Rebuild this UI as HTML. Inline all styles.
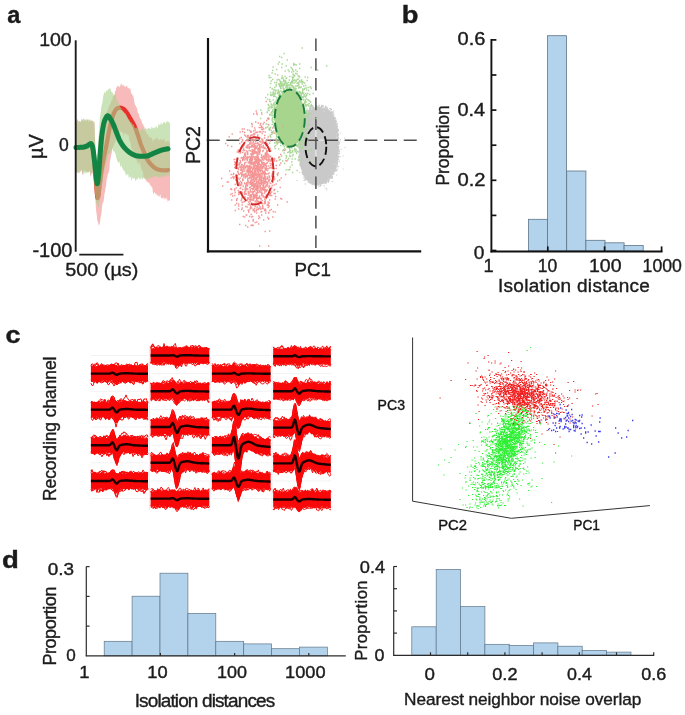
<!DOCTYPE html><html><head><meta charset="utf-8"><title>Figure</title><style>html,body{margin:0;padding:0;background:#fff}svg{display:block}text{font-family:"Liberation Sans",Arial,sans-serif;stroke:#1c1c1c;stroke-width:0.38px}</style></head><body>
<svg width="685" height="715" viewBox="0 0 685 715">
<rect width="685" height="715" fill="#fff"/>
<path d="M76 121.7L76.4 120.9L76.8 121.2L77.2 120L77.6 119.1L78 119.6L78.4 122.4L78.8 121.6L79.2 121.3L79.6 121.2L80 121.3L80.4 121.9L80.8 122.7L81.2 120.1L81.6 118.8L82 119L82.4 119.6L82.8 121.6L83.2 121.8L83.6 119.8L84 119.1L84.4 120.6L84.8 121.3L85.2 118.8L85.6 120.2L86 120.4L86.4 121.3L86.8 120.2L87.2 119.8L87.6 119.1L88 120L88.4 122.4L88.8 122.2L89.2 120.6L89.6 119.4L90 118.7L90.4 120.1L90.8 120.9L91.2 121L91.6 120.7L92 120L92.4 120.8L92.8 121.7L93.2 123.3L93.6 123.7L94 121.7L94.4 121.5L94.8 133.5L95.2 144.7L95.6 155.6L96 161.7L96.4 165.6L96.8 169.7L97.2 171.1L97.6 170.3L98 166.5L98.4 161.2L98.8 156.7L99.2 153L99.6 148.6L100 144.7L100.4 140.4L100.8 136.5L101.2 134.4L101.6 131.4L102 129.6L102.4 127.6L102.8 124.7L103.2 124.5L103.6 123.4L104 121.3L104.4 119.3L104.8 117.5L105.2 115.8L105.6 114.9L106 113.9L106.4 113L106.8 111.3L107.2 111.4L107.6 110.7L108 109.2L108.4 108.2L108.8 107.3L109.2 105.1L109.6 105.5L110 105L110.4 104L110.8 102.8L111.2 100.9L111.6 100.3L112 100.3L112.4 99.4L112.8 97.5L113.2 95.4L113.6 96.1L114 96.3L114.4 95.1L114.8 92.7L115.2 90.6L115.6 91.3L116 89.5L116.4 87L116.8 87.8L117.2 86.3L117.6 85.4L118 86.1L118.4 87.1L118.8 85.8L119.2 86L119.6 87.4L120 87.1L120.4 85.3L120.8 84.2L121.2 83.3L121.6 83.9L122 85.3L122.4 85.5L122.8 85.5L123.2 85.8L123.6 84.5L124 85L124.4 86.2L124.8 86.7L125.2 87.1L125.6 86.7L126 86.3L126.4 86.5L126.8 85.5L127.2 85.5L127.6 87.7L128 88.3L128.4 88.2L128.8 87.2L129.2 88.3L129.6 89L130 88.7L130.4 88.5L130.8 91L131.2 93.4L131.6 93.7L132 93.6L132.4 95.1L132.8 96L133.2 94.7L133.6 97.6L134 100.4L134.4 102.4L134.8 104.5L135.2 105.2L135.6 105.4L136 106.4L136.4 107.5L136.8 107.6L137.2 109.2L137.6 111.8L138 113.6L138.4 113L138.8 113.7L139.2 115.5L139.6 117.4L140 118L140.4 119.4L140.8 118.8L141.2 119.8L141.6 121.4L142 123.6L142.4 124.3L142.8 123L143.2 124.2L143.6 126.3L144 126.4L144.4 126.9L144.8 129.8L145.2 130.9L145.6 131.3L146 131.6L146.4 133.2L146.8 133.7L147.2 134.7L147.6 133.8L148 134.2L148.4 135.6L148.8 136.1L149.2 137.5L149.6 137.4L150 136.7L150.4 137.3L150.8 137.8L151.2 138.6L151.6 137.7L152 138L152.4 140.2L152.8 141.9L153.2 141.4L153.6 139.5L154 139.6L154.4 140.5L154.8 139.1L155.2 138.1L155.6 139.1L156 139.4L156.4 138L156.8 136.9L157.2 137.6L157.6 139.4L158 138.9L158.4 139.2L158.8 140L159.2 140.2L159.6 139.7L160 139.9L160.4 138.9L160.8 138.8L161.2 139.1L161.6 140.7L162 140.1L162.4 139.2L162.8 139.4L163.2 140L163.6 140.3L164 138.5L164.4 138.5L164.8 140.4L165.2 143.1L165.6 142.1L166 140.8L166.4 141.8L166.8 142.7L167.2 140.8L167.6 140.4L168 141.8L168.4 141.6L168.8 141.2L169.2 140.9L169.6 142.9L170 142.9L170 200.5L169.6 199.9L169.2 201.1L168.8 200.8L168.4 200.2L168 201.8L167.6 201.5L167.2 199L166.8 197.5L166.4 199.3L166 200.4L165.6 197.9L165.2 198.1L164.8 199.5L164.4 197.8L164 199.4L163.6 198.2L163.2 196.8L162.8 197.4L162.4 198.9L162 198.1L161.6 197.9L161.2 198.5L160.8 197.4L160.4 193.9L160 194.9L159.6 196.6L159.2 196.5L158.8 196.7L158.4 195.7L158 194.3L157.6 195.3L157.2 196.3L156.8 195.1L156.4 194.5L156 192.7L155.6 194.5L155.2 193.4L154.8 192.6L154.4 192.5L154 192L153.6 194.2L153.2 194.5L152.8 191.4L152.4 187.8L152 187.3L151.6 186.3L151.2 187.1L150.8 185.7L150.4 184.5L150 185.8L149.6 184.3L149.2 182.3L148.8 182.8L148.4 183L148 182.3L147.6 182.1L147.2 181.4L146.8 182.1L146.4 181.4L146 179.5L145.6 178.7L145.2 180.6L144.8 178.8L144.4 177.4L144 177.6L143.6 177.8L143.2 174.5L142.8 170.8L142.4 171.1L142 170.7L141.6 170.3L141.2 168.2L140.8 166.5L140.4 164.6L140 162.2L139.6 163.3L139.2 165.2L138.8 163.8L138.4 162L138 161.2L137.6 162.9L137.2 164L136.8 160.2L136.4 158.5L136 159.1L135.6 157.9L135.2 158.3L134.8 157.6L134.4 157L134 153.5L133.6 151.4L133.2 151.6L132.8 151.8L132.4 149.5L132 149L131.6 149.1L131.2 147.8L130.8 144.2L130.4 141.3L130 141.7L129.6 141.4L129.2 139.2L128.8 136.1L128.4 134.5L128 135.4L127.6 134.9L127.2 134.5L126.8 135L126.4 134L126 133.3L125.6 134.5L125.2 132.9L124.8 132.2L124.4 133L124 136.8L123.6 135.6L123.2 133L122.8 132.1L122.4 132.8L122 132L121.6 132L121.2 131.5L120.8 131.9L120.4 131.4L120 129.7L119.6 130.6L119.2 133.7L118.8 135.5L118.4 133.2L118 134.2L117.6 134.9L117.2 134.7L116.8 134.4L116.4 137.1L116 138.9L115.6 140.4L115.2 142.2L114.8 142.4L114.4 143.7L114 144.6L113.6 145.7L113.2 146.9L112.8 148.1L112.4 147L112 150.2L111.6 153.8L111.2 154.6L110.8 156.9L110.4 159.4L110 161.3L109.6 165.9L109.2 170.7L108.8 172.1L108.4 173.4L108 173.9L107.6 175L107.2 177.6L106.8 178.6L106.4 182.3L106 186.4L105.6 187.7L105.2 190.3L104.8 192.9L104.4 193.7L104 198.5L103.6 201L103.2 202.4L102.8 203.1L102.4 204.2L102 206.6L101.6 212.5L101.2 214.1L100.8 216.2L100.4 218.9L100 222.9L99.6 223.6L99.2 224.9L98.8 226L98.4 223.9L98 221.5L97.6 221.7L97.2 219.7L96.8 215.3L96.4 212.3L96 210.1L95.6 202.8L95.2 195.9L94.8 191.5L94.4 186.6L94 181.9L93.6 176.4L93.2 172.8L92.8 173.1L92.4 174.2L92 172.6L91.6 173.8L91.2 175.6L90.8 176.7L90.4 176L90 172.6L89.6 169.9L89.2 170.7L88.8 171.5L88.4 172.1L88 172.1L87.6 172.4L87.2 172.2L86.8 170.8L86.4 171.4L86 170L85.6 171.6L85.2 171.4L84.8 170.3L84.4 170L84 169.7L83.6 172.7L83.2 175.8L82.8 175.1L82.4 174L82 173.3L81.6 169.8L81.2 170.7L80.8 171.4L80.4 171.4L80 171.5L79.6 171.9L79.2 170.1L78.8 171.5L78.4 173.4L78 173.2L77.6 172.6L77.2 172.2L76.8 170.2L76.4 172.6L76 173.4Z" fill="#e63232" fill-opacity="0.33"/>
<path d="M76 147.4L76.4 147.4L76.8 147.4L77.2 147.4L77.6 147.4L78 147.4L78.4 147.4L78.8 147.4L79.2 147.4L79.6 147.4L80 147.4L80.4 147.3L80.8 147.3L81.2 147.3L81.6 147.3L82 147.3L82.4 147.3L82.8 147.2L83.2 147.2L83.6 147.1L84 147L84.4 146.9L84.8 146.8L85.2 146.7L85.6 146.6L86 146.5L86.4 146.3L86.8 146.1L87.2 145.8L87.6 145.5L88 145.2L88.4 145L88.8 144.7L89.2 144.5L89.6 144.3L90 144.1L90.4 143.9L90.8 143.8L91.2 143.9L91.6 144.4L92 145.4L92.4 146.7L92.8 148.5L93.2 151.8L93.6 155.9L94 160L94.4 164.1L94.8 168.6L95.2 173.3L95.6 177.8L96 182.3L96.4 187.5L96.8 192.7L97.2 196.6L97.6 198.2L98 197.3L98.4 194.9L98.8 191.9L99.2 188.7L99.6 185.7L100 182.3L100.4 178.7L100.8 175.4L101.2 172.7L101.6 170.2L102 167.9L102.4 165.7L102.8 163.6L103.2 161.6L103.6 159.5L104 157.4L104.4 155.4L104.8 153.5L105.2 151.5L105.6 149.6L106 147.6L106.4 145.5L106.8 143.4L107.2 141.2L107.6 138.9L108 136.7L108.4 134.5L108.8 132.4L109.2 130.3L109.6 128.4L110 126.6L110.4 125L110.8 123.4L111.2 121.8L111.6 120.2L112 118.8L112.4 117.4L112.8 116.1L113.2 114.9L113.6 113.8L114 112.9L114.4 112.1L114.8 111.4L115.2 110.7L115.6 110.1L116 109.5L116.4 109.1L116.8 108.7L117.2 108.5L117.6 108.3L118 108.1L118.4 108L118.8 107.8L119.2 107.8L119.6 107.7L120 107.7L120.4 107.7L120.8 107.8L121.2 107.9L121.6 108L122 108.2L122.4 108.3L122.8 108.5L123.2 108.7L123.6 109L124 109.3L124.4 109.7L124.8 110.1L125.2 110.6L125.6 111.1L126 111.6L126.4 112.1L126.8 112.6L127.2 113.2L127.6 113.8L128 114.5L128.4 115.2L128.8 115.9L129.2 116.6L129.6 117.3L130 118L130.4 118.7L130.8 119.3L131.2 120L131.6 120.6L132 121.3L132.4 122L132.8 122.7L133.2 123.4L133.6 124.2L134 125L134.4 125.8L134.8 126.7L135.2 127.7L135.6 128.7L136 129.8L136.4 130.9L136.8 132L137.2 133.2L137.6 134.3L138 135.5L138.4 136.7L138.8 138L139.2 139.3L139.6 140.6L140 141.9L140.4 143.1L140.8 144.2L141.2 145.2L141.6 146.3L142 147.2L142.4 148.2L142.8 149.2L143.2 150.1L143.6 151L144 152L144.4 153L144.8 154L145.2 155L145.6 156L146 156.9L146.4 157.8L146.8 158.6L147.2 159.3L147.6 160L148 160.6L148.4 161.2L148.8 161.8L149.2 162.4L149.6 162.9L150 163.4L150.4 163.8L150.8 164.3L151.2 164.7L151.6 165.1L152 165.5L152.4 165.9L152.8 166.3L153.2 166.7L153.6 167L154 167.3L154.4 167.6L154.8 167.9L155.2 168.1L155.6 168.3L156 168.5L156.4 168.8L156.8 169L157.2 169.1L157.6 169.3L158 169.5L158.4 169.6L158.8 169.8L159.2 169.9L159.6 169.9L160 170L160.4 170L160.8 170.1L161.2 170.1L161.6 170.2L162 170.2L162.4 170.2L162.8 170.3L163.2 170.3L163.6 170.3L164 170.3L164.4 170.4L164.8 170.4L165.2 170.4L165.6 170.4L166 170.4L166.4 170.4L166.8 170.4L167.2 170.3L167.6 170.1L168 169.9" fill="none" stroke="#e8302a" stroke-width="4.2" stroke-linejoin="round" stroke-linecap="round"/>
<path d="M76 121.5L76.4 121.6L76.8 120.8L77.2 120.1L77.6 120.2L78 120.1L78.4 121.4L78.8 122.4L79.2 120.9L79.6 120.5L80 121.5L80.4 121.7L80.8 121L81.2 120.1L81.6 120.9L82 121.3L82.4 119.7L82.8 119.5L83.2 118.5L83.6 118.4L84 118.6L84.4 119.7L84.8 119.7L85.2 120.9L85.6 121.2L86 120L86.4 118.2L86.8 119.6L87.2 120.8L87.6 120.6L88 119.3L88.4 119.7L88.8 119.6L89.2 120.3L89.6 121.6L90 120.6L90.4 121.1L90.8 121.8L91.2 120.8L91.6 120.9L92 121.3L92.4 120.9L92.8 120.1L93.2 121.5L93.6 122.3L94 120.6L94.4 122.6L94.8 132.7L95.2 142.5L95.6 152.1L96 154.2L96.4 154.6L96.8 156.7L97.2 156.8L97.6 151.7L98 145.3L98.4 139L98.8 133.8L99.2 128.3L99.6 121.9L100 118.1L100.4 114.6L100.8 111.5L101.2 107.8L101.6 105.6L102 104.1L102.4 103L102.8 100.3L103.2 95.9L103.6 94.4L104 94.1L104.4 91.6L104.8 91.7L105.2 92.4L105.6 93.2L106 92.3L106.4 90.6L106.8 89.9L107.2 90.3L107.6 91.2L108 89.6L108.4 89L108.8 89.4L109.2 89L109.6 88.4L110 87.9L110.4 88.8L110.8 89.7L111.2 91.5L111.6 91.9L112 91.9L112.4 92.7L112.8 93.1L113.2 94.5L113.6 94.7L114 94.9L114.4 94.3L114.8 95.3L115.2 94.3L115.6 94.5L116 96.6L116.4 97.7L116.8 100L117.2 102.2L117.6 100.6L118 100.9L118.4 102.8L118.8 104L119.2 104.4L119.6 105.4L120 107.2L120.4 107.7L120.8 107.3L121.2 108.6L121.6 109.4L122 109.5L122.4 110.8L122.8 111.3L123.2 113.1L123.6 113.5L124 113.4L124.4 113.4L124.8 113.5L125.2 112.6L125.6 113.8L126 115.3L126.4 114.8L126.8 116.6L127.2 116.4L127.6 118L128 118.3L128.4 119.8L128.8 119.6L129.2 119.1L129.6 122L130 123.1L130.4 122.1L130.8 121.9L131.2 122.2L131.6 122.6L132 124.4L132.4 124.1L132.8 124.4L133.2 124.4L133.6 124.6L134 125.3L134.4 127.6L134.8 127.8L135.2 128.5L135.6 127.9L136 127.3L136.4 127.6L136.8 128L137.2 128.6L137.6 128.7L138 128.5L138.4 127.8L138.8 129L139.2 131.1L139.6 129.5L140 128.8L140.4 130.5L140.8 131L141.2 128.9L141.6 129L142 128.5L142.4 128L142.8 129.9L143.2 129.9L143.6 129.4L144 128.9L144.4 129.5L144.8 128.9L145.2 128.6L145.6 127.6L146 128L146.4 129.8L146.8 129L147.2 129L147.6 128.7L148 128L148.4 128.1L148.8 128.8L149.2 128.2L149.6 128L150 128.5L150.4 129.4L150.8 129.1L151.2 128.2L151.6 126.7L152 126.2L152.4 128.2L152.8 128.5L153.2 127.5L153.6 127.8L154 128.2L154.4 128.2L154.8 127.7L155.2 126.9L155.6 127.4L156 125.8L156.4 126.8L156.8 127.1L157.2 127.6L157.6 128.5L158 127.4L158.4 124.3L158.8 123.6L159.2 125.2L159.6 124.4L160 124.9L160.4 125.2L160.8 122.6L161.2 122L161.6 124L162 124.4L162.4 124L162.8 123.7L163.2 122.6L163.6 121.9L164 122.7L164.4 121.9L164.8 121.6L165.2 123.2L165.6 123.4L166 123.1L166.4 121.8L166.8 121.4L167.2 121L167.6 121.3L168 121.9L168.4 121.5L168.8 122.2L169.2 123L169.6 123.4L170 121L170 175.5L169.6 175.6L169.2 176.3L168.8 175.3L168.4 175.1L168 174.7L167.6 175.1L167.2 177.2L166.8 176.4L166.4 174.5L166 175.2L165.6 176.5L165.2 175.2L164.8 175.9L164.4 176.2L164 177.5L163.6 177.2L163.2 176.4L162.8 175.8L162.4 176.7L162 177.5L161.6 177.3L161.2 177.3L160.8 176.4L160.4 176.7L160 177.2L159.6 177L159.2 178.3L158.8 177.5L158.4 177.6L158 176.3L157.6 176.3L157.2 176.6L156.8 176.1L156.4 177.8L156 177.2L155.6 175.8L155.2 175.9L154.8 176.6L154.4 176.4L154 176.7L153.6 177.2L153.2 177L152.8 176.7L152.4 176.6L152 178.1L151.6 178.6L151.2 177.2L150.8 178.3L150.4 177.3L150 176.2L149.6 177.3L149.2 177.9L148.8 179.4L148.4 179.3L148 180.3L147.6 177.8L147.2 177.4L146.8 178.2L146.4 179.7L146 179.8L145.6 179.3L145.2 177.1L144.8 178.5L144.4 179.1L144 177.4L143.6 177.1L143.2 178.7L142.8 179.6L142.4 178.8L142 179.1L141.6 178.8L141.2 177.5L140.8 177.2L140.4 179.4L140 179.5L139.6 179.2L139.2 179.3L138.8 177.5L138.4 177.2L138 178.3L137.6 178.7L137.2 179.2L136.8 179.6L136.4 179.4L136 180.6L135.6 181.1L135.2 180.4L134.8 178.5L134.4 178.5L134 177.9L133.6 178.5L133.2 178.4L132.8 177.4L132.4 177.6L132 179.3L131.6 181.1L131.2 179.5L130.8 177.6L130.4 176.9L130 176L129.6 177.2L129.2 178.4L128.8 177.7L128.4 174.9L128 173.9L127.6 174.9L127.2 173.7L126.8 174.4L126.4 175.4L126 175.8L125.6 174.1L125.2 172.5L124.8 171.9L124.4 171.1L124 170.4L123.6 170.3L123.2 169.7L122.8 168.9L122.4 168.3L122 167L121.6 165.7L121.2 165.5L120.8 166.9L120.4 166.9L120 164.5L119.6 162.1L119.2 161.8L118.8 162.5L118.4 163.6L118 162L117.6 160.8L117.2 161L116.8 159.4L116.4 157L116 156.8L115.6 154.2L115.2 152.9L114.8 153.1L114.4 151.6L114 151L113.6 151L113.2 152L112.8 150.2L112.4 148.5L112 149.2L111.6 149.8L111.2 149.6L110.8 150.7L110.4 153L110 152.9L109.6 152.6L109.2 154.2L108.8 154.2L108.4 154.8L108 155.3L107.6 157.6L107.2 159.1L106.8 160.3L106.4 162L106 164.5L105.6 165.3L105.2 165.8L104.8 168.2L104.4 171L104 174.2L103.6 177L103.2 177.5L102.8 179.4L102.4 182.5L102 186.2L101.6 189.4L101.2 190.8L100.8 192.7L100.4 195.5L100 199.1L99.6 202.4L99.2 204.9L98.8 206.5L98.4 207.6L98 207.3L97.6 204.2L97.2 203.7L96.8 203.8L96.4 203.4L96 200.2L95.6 197.5L95.2 194.9L94.8 190L94.4 185.2L94 180.8L93.6 176.8L93.2 173.2L92.8 171.8L92.4 170L92 172.3L91.6 173.3L91.2 172.8L90.8 174.4L90.4 174.3L90 171.8L89.6 172L89.2 172L88.8 171.6L88.4 173L88 172.4L87.6 172.5L87.2 171.8L86.8 172.6L86.4 173.5L86 173.6L85.6 172.9L85.2 172.6L84.8 172.7L84.4 173.2L84 173.5L83.6 171.6L83.2 171.1L82.8 172.7L82.4 173.8L82 171.4L81.6 168.4L81.2 169.2L80.8 170.4L80.4 170L80 172.1L79.6 173.6L79.2 172.6L78.8 172.4L78.4 172.6L78 173L77.6 171.7L77.2 170.7L76.8 171.8L76.4 172.5L76 173.2Z" fill="#a9d28c" fill-opacity="0.62"/>
<path d="M76 147.4L76.4 147.4L76.8 147.4L77.2 147.4L77.6 147.4L78 147.4L78.4 147.4L78.8 147.4L79.2 147.4L79.6 147.4L80 147.4L80.4 147.3L80.8 147.3L81.2 147.3L81.6 147.3L82 147.3L82.4 147.3L82.8 147.2L83.2 147.2L83.6 147.1L84 147L84.4 146.9L84.8 146.8L85.2 146.7L85.6 146.6L86 146.5L86.4 146.3L86.8 146.1L87.2 145.9L87.6 145.6L88 145.3L88.4 145L88.8 144.7L89.2 144.5L89.6 144.2L90 144L90.4 143.7L90.8 143.6L91.2 143.7L91.6 144.2L92 145.1L92.4 146.2L92.8 147.8L93.2 150.3L93.6 153.5L94 156.7L94.4 160L94.8 163.7L95.2 167.4L95.6 170.9L96 174.8L96.4 178.8L96.8 182L97.2 183.7L97.6 183L98 180.2L98.4 176.2L98.8 172L99.2 167.3L99.6 161.6L100 155.9L100.4 150.8L100.8 146L101.2 141.4L101.6 137.3L102 134L102.4 131.2L102.8 128.7L103.2 126.3L103.6 124.3L104 122.6L104.4 121.3L104.8 120.2L105.2 119.3L105.6 118.4L106 117.6L106.4 116.9L106.8 116.3L107.2 116L107.6 115.8L108 115.9L108.4 116.1L108.8 116.5L109.2 117L109.6 117.6L110 118.2L110.4 118.9L110.8 119.5L111.2 120.1L111.6 120.8L112 121.6L112.4 122.4L112.8 123.3L113.2 124.2L113.6 125L114 126L114.4 127L114.8 128L115.2 129.1L115.6 130.2L116 131.2L116.4 132.2L116.8 133.3L117.2 134.3L117.6 135.4L118 136.4L118.4 137.5L118.8 138.5L119.2 139.4L119.6 140.3L120 141.1L120.4 141.8L120.8 142.5L121.2 143.2L121.6 143.8L122 144.4L122.4 145L122.8 145.6L123.2 146.1L123.6 146.6L124 147.1L124.4 147.6L124.8 148.1L125.2 148.5L125.6 148.9L126 149.3L126.4 149.7L126.8 150.1L127.2 150.5L127.6 150.8L128 151.2L128.4 151.5L128.8 151.8L129.2 152.2L129.6 152.5L130 152.8L130.4 153L130.8 153.3L131.2 153.6L131.6 153.8L132 154L132.4 154.2L132.8 154.4L133.2 154.6L133.6 154.8L134 155L134.4 155.1L134.8 155.3L135.2 155.5L135.6 155.6L136 155.7L136.4 155.8L136.8 155.9L137.2 156L137.6 156L138 156.1L138.4 156.1L138.8 156.1L139.2 156.2L139.6 156.2L140 156.2L140.4 156.3L140.8 156.3L141.2 156.3L141.6 156.3L142 156.3L142.4 156.3L142.8 156.3L143.2 156.3L143.6 156.3L144 156.2L144.4 156.2L144.8 156.2L145.2 156.2L145.6 156.1L146 156.1L146.4 156.1L146.8 156L147.2 156L147.6 155.9L148 155.8L148.4 155.7L148.8 155.5L149.2 155.3L149.6 155.1L150 155L150.4 154.8L150.8 154.6L151.2 154.4L151.6 154.2L152 154L152.4 153.8L152.8 153.7L153.2 153.5L153.6 153.3L154 153.1L154.4 153L154.8 152.8L155.2 152.6L155.6 152.5L156 152.3L156.4 152.1L156.8 152L157.2 151.8L157.6 151.6L158 151.5L158.4 151.3L158.8 151.1L159.2 151L159.6 150.8L160 150.6L160.4 150.5L160.8 150.4L161.2 150.2L161.6 150.1L162 150L162.4 149.9L162.8 149.8L163.2 149.7L163.6 149.6L164 149.5L164.4 149.4L164.8 149.4L165.2 149.3L165.6 149.2L166 149.1L166.4 149L166.8 149L167.2 148.9L167.6 148.9L168 148.8" fill="none" stroke="#128443" stroke-width="5" stroke-linejoin="round" stroke-linecap="round"/>
<line x1="75.7" y1="40.3" x2="75.7" y2="251.7" stroke="#1c1c1c" stroke-width="1.9"/>
<line x1="79.3" y1="254.6" x2="123.4" y2="254.6" stroke="#1c1c1c" stroke-width="1.8"/>
<text transform="translate(39.13,45.71) scale(1.0282,1)" font-size="19.01" fill="#1c1c1c">100</text>
<text transform="translate(58.90,151.02) scale(0.9558,1)" font-size="18.31" fill="#1c1c1c">0</text>
<text transform="translate(32.40,256.91) scale(1.0392,1)" font-size="19.30" fill="#1c1c1c">-100</text>
<text transform="translate(42.78,158.90) rotate(-90) scale(0.9945,1)" font-size="20.11" fill="#1c1c1c">µV</text>
<text transform="translate(65.31,275.61) scale(1.0339,1)" font-size="19.15" fill="#1c1c1c">500 (µs)</text>
<text transform="translate(7.19,23.07) scale(1.0120,1)" font-size="23.27" font-weight="bold" stroke-width="0.1" fill="#1a1a1a">a</text>
<path d="M337.5 145.6L337.1 147.2L337.1 148.6L337.5 149.9L337.4 151L337 152L337 153.2L337.9 154.7L337.2 155.4L337.5 156.7L337.6 157.9L337.1 158.6L338 160.4L335.9 159.8L336.7 161.6L335.8 161.8L337 164L336.7 164.8L334.2 163.3L334.6 164.7L335.3 166.7L335.1 167.6L334.8 168.4L334.1 168.5L334.1 169.6L333.9 170.5L333.2 170.6L333.4 172.3L331.4 169.9L332.5 173.3L331.3 172.3L332 174.9L331 174.3L330.3 174.1L330.5 176L329.5 175.2L329.1 175.7L328.5 175.4L328.7 177.6L328.5 178.6L328.2 179.7L327.3 178.8L327.3 180.6L326.5 179.7L325.9 179.9L325.7 181.1L325.3 182L324.4 180.6L324 180.9L323.5 181.3L323 181.8L322.3 180.8L322.1 183.4L321.3 181.8L320.9 183L320.1 181.5L319.7 183.1L319 183.2L318.3 182.2L317.7 185.4L316.8 183.3L315.9 185.1L315.2 184L314.7 181.8L314 182.1L313.4 183.1L312.9 182.5L312.3 182.3L311.9 181.7L311.7 179.6L310.9 181.4L310.9 178.7L309.8 181.7L309.6 180.1L309.2 179.8L308.6 180.1L308 180.4L308.2 178L307.9 177.3L307.3 177.7L307.3 176.2L306.5 177L305.2 179.4L305.9 176L304.8 177.4L305.4 174.7L304.3 175.9L304.3 174.7L303.9 174.4L303.3 174.5L302.4 175L302.9 172.9L302.7 172.1L303 170.5L301.9 171.2L302.1 169.8L301.3 170L301.6 168.5L300.3 169.1L302.3 165.5L301.1 166L300.2 166L300.8 164.4L300.9 163.3L300.4 162.7L301 161.2L299.9 161.2L298.3 161.5L299 159.8L300.4 157.8L300.1 157L299.7 156.2L298.7 155.7L299.9 154.1L299.7 153.1L298.6 152.4L298.6 151.2L299.4 149.8L299.9 148.5L300.1 147.2L299.6 145.6L300.6 144.1L298.6 142.5L299.6 141.4L298.9 140.1L298 138.6L298.5 137.6L300.1 137.2L298.9 135.5L298.8 134.4L300.1 134.1L300.4 133.3L300 132L301.1 131.8L299.3 129.3L301.9 130.6L301.2 129L300.9 127.6L301 126.8L301 125.7L301.2 124.8L301.7 124.4L301.1 122.5L303.2 124.4L302.3 121.9L302.9 121.8L302.7 120.4L303 119.6L303.9 120L304 119.1L303.6 117.1L304.2 116.9L305 117.4L304.1 114L304.3 113.2L306.4 116.6L306 114.2L305.4 111.3L306.5 112.7L307.2 112.9L307.7 112.9L308.3 112.9L308.6 112.1L309.1 112.2L309.1 110.3L309.9 111.3L310.4 111.1L311.1 111.7L311.2 110L311.9 110.8L312.3 109.7L312.5 108L313.2 108.6L313.7 108.3L314.3 108.3L314.9 108.6L315.5 108.7L316.1 108.9L316.7 107.5L317.5 109.8L318.3 106.7L319.2 108.4L319.8 109.4L320.5 109.1L321 109.5L321.7 108.5L322.2 109.7L323 107.5L323.2 110.1L323.4 112.2L324.2 110.4L324.4 112.2L325.4 110L326.1 108.9L326.5 109.7L326.4 112.5L327 112.1L328.3 109.4L328.2 111.5L328.5 112.3L329.3 111.5L330.3 110.3L330.3 112.1L330.2 113.9L330.7 114.2L331.2 114.4L331 116.2L331.1 117.2L332 116.7L331.8 118.2L332.6 118L333 118.4L334.4 117L333.1 120.6L333.7 120.6L334 121.4L334.6 121.6L335.2 121.8L334.5 123.8L334.6 124.8L334.3 126.2L334.9 126.4L336 126.2L335.9 127.4L335.4 128.9L336 129.4L336.4 130.1L336.9 130.7L336.3 132.2L336.7 133L335.8 134.6L336.3 135.2L338.2 135.3L335.8 137.5L337.1 138L337.5 139L337.2 140.2L336.9 141.5L337.4 142.6L337.5 143.9Z" fill="#c9c9c9"/>
<path d="M303 170h1.4M337.5 134.5h1.4M321 107h1.4M336.5 161.5h1.4M311.5 109.5h1.4M335 125.5h1.4M336.5 136.5h1.4M313 109h1.4M331.5 116.5h1.4M329.5 114h1.4M304.5 175.5h1.4M333.5 169h1.4M315 110.5h1.4M331 175.5h1.4M302.5 172h1.4M337 144h1.4M301 130.5h1.4M300 139h1.4M337.5 131h1.4M312 181.5h1.4M337 145.5h1.4M334 125h1.4M304.5 174.5h1.4M307 179h1.4M331 172h1.4M334.5 126h1.4M325.5 178.5h1.4M337 149h1.4M333.5 121h1.4M302 122h1.4M308.5 113h1.4M315.5 110h1.4M336 157h1.4M334 167.5h1.4M299 145.5h1.4M336.5 159.5h1.4M299.5 144h1.4M316 108.5h1.4M307.5 115h1.4M303 119h1.4M336 158h1.4M319.5 184.5h1.4M334.5 121h1.4M331.5 172h1.4M299.5 136h1.4M336 159h1.4M336 129.5h1.4M328 181h1.4M301.5 167h1.4M299.5 132.5h1.4M313.5 110h1.4M335.5 129.5h1.4M316 107h1.4M305.5 177h1.4M336.5 166h1.4M312.5 111h1.4M336.5 137.5h1.4M337 151h1.4M322.5 106.5h1.4M326.5 178.5h1.4M299 157.5h1.4M298.5 138h1.4M303 119.5h1.4M337 142h1.4M309 108.5h1.4M302.5 170h1.4M313.5 110.5h1.4M299.5 155.5h1.4M301.5 166.5h1.4M304 174h1.4M299.5 148h1.4M312 181.5h1.4M318.5 184h1.4M330.5 178h1.4M300.5 161h1.4M311 181h1.4M329 114h1.4M330.5 113.5h1.4M305.5 178h1.4M304 119.5h1.4M334 123h1.4M305 174h1.4M300 131h1.4M300.5 160.5h1.4M306.5 115.5h1.4M336.5 134.5h1.4M330.5 175.5h1.4M336.5 136h1.4M307.5 113h1.4M325 109.5h1.4M305 117.5h1.4M331.5 118.5h1.4M307 180h1.4M312.5 111h1.4M314.5 182h1.4M299.5 142.5h1.4M309.5 113h1.4M324 181h1.4M336 161.5h1.4M324 110h1.4M326 111.5h1.4M307.5 112.5h1.4M308 178.5h1.4M307 114.5h1.4M334 165.5h1.4M307.5 113.5h1.4M301.5 127h1.4M304 120h1.4M299.5 160.5h1.4M321 183.5h1.4M314.5 110h1.4M299 156.5h1.4M317.5 110h1.4M304.5 174h1.4M334.5 167h1.4M300.5 134h1.4M303 116.5h1.4M335 126.5h1.4M333.5 119.5h1.4M336.5 161h1.4M321.5 110h1.4M315 181.5h1.4M310 106.5h1.4M303 172.5h1.4M307.5 179.5h1.4M299.5 149.5h1.4M299.5 136.5h1.4M310.5 109h1.4M305.5 117.5h1.4M309 111.5h1.4M303 171.5h1.4M309 113h1.4M305.5 177.5h1.4M303 121.5h1.4M299 157.5h1.4M301 129.5h1.4M336.5 151h1.4M299.5 146h1.4M321.5 181h1.4M303 171h1.4M336 165h1.4M306.5 113.5h1.4M334.5 120h1.4M304.5 177h1.4M333 169h1.4M304 119h1.4M331.5 173h1.4M334 120h1.4M331.5 172h1.4M305 174h1.4M299.5 147.5h1.4M332 171.5h1.4M308 180h1.4M313 182.5h1.4M313 109h1.4M337 141h1.4M304.5 174.5h1.4M324 110.5h1.4M330 174h1.4M301.5 126h1.4M300 163h1.4M311.5 180.5h1.4M327.5 113h1.4M317.5 108h1.4M330.5 173.5h1.4M311 180h1.4M327.5 112.5h1.4M337 143h1.4M302.5 119.5h1.4M331.5 119h1.4M337 140.5h1.4M316.5 110h1.4M305.5 115h1.4M321.5 182.5h1.4M303 174.5h1.4M304.5 119h1.4M335.5 127.5h1.4M309.5 183h1.4M302.5 169.5h1.4M337 152.5h1.4M311 110.5h1.4M300 160.5h1.4M325.5 109h1.4M320 185.5h1.4M307.5 114.5h1.4M308.5 112.5h1.4M300 155.5h1.4M325.5 182h1.4M302 168h1.4M317.5 108h1.4M325.5 180.5h1.4M335 168h1.4M299 156.5h1.4M319.5 183.5h1.4M325.5 111h1.4M327 112.5h1.4M336 131.5h1.4M329.5 114h1.4M305.5 114h1.4M325.5 179.5h1.4M327.5 112.5h1.4M315 110h1.4M317.5 108.5h1.4M311 111h1.4M328.5 113h1.4M310 181.5h1.4M308.5 113h1.4M298 139.5h1.4M306.5 177.5h1.4M307.5 177.5h1.4M329 177h1.4M299 148.5h1.4M304 173.5h1.4M300 166h1.4M330.5 115.5h1.4M309 111h1.4M309 111.5h1.4M337 140.5h1.4M321.5 181h1.4M299.5 142.5h1.4M336 170.5h1.4M302.5 170h1.4M336.5 132h1.4M334.5 166.5h1.4M319.5 109h1.4M332 116.5h1.4M299.5 142.5h1.4M325 109.5h1.4M300.5 161h1.4M305.5 175h1.4M299 143.5h1.4M325 181.5h1.4M309 181.5h1.4M309.5 180h1.4M336.5 142h1.4M306.5 178.5h1.4M320.5 182.5h1.4M335.5 130h1.4M330.5 174.5h1.4M337.5 135.5h1.4M331.5 113h1.4M305.5 114.5h1.4M301 163.5h1.4M324.5 181.5h1.4M333 169.5h1.4M334 171h1.4M305.5 176.5h1.4M301.5 167.5h1.4M335 127h1.4M300 135.5h1.4M337.5 142.5h1.4M314 109h1.4M329.5 175h1.4M300.5 131.5h1.4M328.5 177.5h1.4M336.5 156.5h1.4M336.5 130.5h1.4M305.5 179.5h1.4M325 180h1.4M334.5 171h1.4M306 114h1.4M300 156.5h1.4M337.5 149.5h1.4M313 108.5h1.4M315.5 181h1.4M323 109.5h1.4M299 149.5h1.4M299.5 135h1.4M300 157.5h1.4M309 113.5h1.4M337 142h1.4M325 110.5h1.4M336.5 164h1.4M298.5 147.5h1.4M319.5 182h1.4M333 169h1.4M324.5 181h1.4M317.5 184h1.4M337.5 134h1.4M317.5 109.5h1.4M330.5 116h1.4M311 110h1.4M308.5 179.5h1.4M302 171.5h1.4M300.5 161h1.4M311 181h1.4M300.5 165.5h1.4M321.5 109.5h1.4M334.5 164h1.4M313 181.5h1.4M298.5 152.5h1.4M308.5 111.5h1.4M306 116h1.4M314.5 110h1.4M333 169.5h1.4M326 179h1.4M309 179.5h1.4M312 180.5h1.4M319.5 108.5h1.4M338.5 143h1.4M309.5 112h1.4M337 155.5h1.4M310.5 181h1.4M325.5 111.5h1.4M336 126h1.4M302 122.5h1.4M305.5 175.5h1.4M305.5 174.5h1.4M305 117h1.4M331.5 117h1.4M306.5 176.5h1.4M325 180.5h1.4M336.5 146.5h1.4M331.5 176.5h1.4M330.5 115h1.4M304 117.5h1.4M338 142h1.4M336 164h1.4M304 174.5h1.4M325 108h1.4M307.5 114.5h1.4M335 162.5h1.4M302.5 168h1.4M305.5 116.5h1.4M310.5 112.5h1.4M300.5 158.5h1.4M325.5 181h1.4M337 136h1.4M299.5 155.5h1.4M313.5 109.5h1.4M300 135.5h1.4M335 166h1.4M319 183h1.4M336 162h1.4M325 179.5h1.4M324.5 182.5h1.4M301 167h1.4M308 178.5h1.4M304.5 174h1.4M327.5 110h1.4M337 152h1.4M333.5 170h1.4M326 111.5h1.4M299.5 136h1.4M300 161.5h1.4M314 182.5h1.4M299.5 133.5h1.4M321 182h1.4M330.5 117h1.4M328 111.5h1.4M308 179h1.4M337 153h1.4M333.5 120h1.4M310 182.5h1.4M306.5 113.5h1.4M332.5 113h1.4M325.5 109h1.4M331.5 116h1.4M300 149h1.4M329.5 114.5h1.4M300.5 156h1.4M314.5 182h1.4M300 151.5h1.4M306.5 178h1.4M321 110.5h1.4M328.5 113h1.4M331.5 178h1.4M328 178h1.4M303 172h1.4M299.5 156h1.4M336.5 133.5h1.4M337 129.5h1.4M337 136h1.4M315 109h1.4M309 112h1.4M313.5 181.5h1.4M303.5 173.5h1.4M338 147h1.4M329 112.5h1.4M313 180.5h1.4M334.5 164.5h1.4M308 180.5h1.4M307.5 179h1.4M314 108.5h1.4M337 147.5h1.4M320 180.5h1.4M335 120h1.4M331 114.5h1.4M304.5 117.5h1.4M300 129.5h1.4M321 181h1.4M332.5 118h1.4M320 109.5h1.4M300 141.5h1.4M328 177.5h1.4M322 182h1.4M303.5 172h1.4M307 177.5h1.4M335.5 161h1.4M302 167.5h1.4M300.5 159h1.4M311.5 181.5h1.4M302 173h1.4M307 177.5h1.4M304 171.5h1.4M303 118h1.4M299 146.5h1.4M324 179.5h1.4M324.5 110.5h1.4M299 141h1.4M300 157h1.4M312.5 107h1.4M319 108h1.4M331 113h1.4M326.5 111.5h1.4M308 112.5h1.4M314 109h1.4M328.5 176h1.4M311.5 111.5h1.4M316 182h1.4M315.5 184h1.4M332 171.5h1.4M302 169.5h1.4M337 152h1.4M307 114h1.4M318 110h1.4M322 110h1.4M331 172.5h1.4M306 117h1.4M329 114.5h1.4M336.5 155.5h1.4M324.5 180h1.4M314 182h1.4M299.5 156.5h1.4M327.5 180h1.4M300 134.5h1.4M305.5 178h1.4M305.5 111h1.4M299.5 136.5h1.4M310 111.5h1.4M317.5 184h1.4M311.5 106.5h1.4M315.5 105.5h1.4M314 108h1.4M336 164h1.4M336.5 131h1.4M301.5 127h1.4M313.5 181.5h1.4M300.5 162.5h1.4M299.5 140h1.4M299 140h1.4M317.5 181.5h1.4M314 182.5h1.4M304 175h1.4M323 110h1.4M301 161.5h1.4M337.5 157h1.4M299.5 159h1.4M323.5 180h1.4M338 150h1.4M336.5 139h1.4M310.5 181h1.4M300 135h1.4M305 174h1.4M336 160h1.4M334.5 122h1.4M336 129h1.4M325.5 180.5h1.4M301.5 165h1.4M303.5 173.5h1.4M327.5 178h1.4M307.5 114h1.4M323 109h1.4M320 109h1.4M308.5 112h1.4M338.5 151.5h1.4M320 183h1.4M300 141h1.4M312 111h1.4M303 170.5h1.4M300.5 159h1.4M330 112.5h1.4M337 153h1.4M314 182.5h1.4M311 181h1.4M338 143h1.4M320.5 181h1.4M336 158h1.4M301 166.5h1.4M306.5 115.5h1.4M329 176h1.4M329.5 114h1.4M325 182.5h1.4M312 110h1.4M328.5 178.5h1.4M333 119.5h1.4M324 181h1.4M315.5 109h1.4M329 115h1.4M316 181h1.4M335 169h1.4M302 125.5h1.4M298.5 146h1.4M300 152h1.4M323 110h1.4M300.5 155.5h1.4M298 147h1.4M299.5 150h1.4M300 158h1.4M302 167.5h1.4M328 176.5h1.4M310.5 181.5h1.4M314 183h1.4M317 183.5h1.4M323.5 109h1.4M332.5 171h1.4M323.5 181.5h1.4M300 138h1.4M308.5 181h1.4M318.5 183h1.4M303 174.5h1.4M300 144.5h1.4M308 111h1.4M336.5 137.5h1.4M330.5 116h1.4M299.5 164.5h1.4M298.5 160h1.4M300.5 167h1.4M318.5 181.5h1.4M336 133h1.4M335 162.5h1.4M323 180.5h1.4M307.5 114h1.4M300.5 122.5h1.4M312.5 181h1.4M336 129h1.4M301 168h1.4M302.5 123h1.4M333.5 166.5h1.4M333 121.5h1.4M334 170.5h1.4M302.5 169.5h1.4M334 118h1.4M336.5 131h1.4M335 122h1.4M328 113.5h1.4M319.5 182h1.4M336.5 155h1.4M299.5 159h1.4M336 162h1.4M337 134.5h1.4M337.5 148.5h1.4M307.5 178.5h1.4M323.5 180h1.4M337 150h1.4M299.5 146h1.4M334.5 164h1.4M334.5 122h1.4M310 112.5h1.4M303.5 174h1.4M330 113h1.4M325 108.5h1.4M307.5 179h1.4M330.5 113.5h1.4M335.5 128h1.4M304.5 120h1.4M305.5 175.5h1.4M334 122.5h1.4M337 130h1.4M304.5 179.5h1.4M334.5 166.5h1.4M333 115h1.4M308 114.5h1.4M319.5 181h1.4M301 128.5h1.4M308.5 182h1.4M335.5 125.5h1.4M306.5 176h1.4M324 179.5h1.4M336.5 157.5h1.4M306 176h1.4M337 142h1.4M321.5 181h1.4M300.5 157h1.4M337 137.5h1.4M337 148h1.4M310.5 180h1.4M327.5 113h1.4M334.5 168.5h1.4M336.5 126.5h1.4M328.5 114h1.4M330.5 176.5h1.4M301.5 123h1.4M300.5 131h1.4M310.5 111h1.4M309.5 179h1.4M303 171h1.4M318.5 181h1.4M311 181h1.4M326.5 178h1.4M335.5 121.5h1.4M334.5 118h1.4M305 174h1.4M310.5 111.5h1.4M299 149h1.4M312 183h1.4M304.5 178.5h1.4M336.5 136h1.4M305 179.5h1.4M301.5 126.5h1.4M335.5 131.5h1.4M310.5 180.5h1.4M326 111h1.4M333 172h1.4M315.5 109.5h1.4M326 112h1.4M329 114.5h1.4M337.5 138h1.4M312.5 109.5h1.4M337.5 138.5h1.4M312.5 181.5h1.4M300 139h1.4M322 181.5h1.4M334.5 165.5h1.4M300 161.5h1.4M314 110.5h1.4M322.5 110h1.4M337.5 151h1.4M335.5 131h1.4M317.5 185h1.4M311 180h1.4M330 109h1.4M334 121h1.4M316 109.5h1.4M307 177.5h1.4M298 157.5h1.4M328.5 114h1.4M305 174.5h1.4M326.5 108.5h1.4M323.5 108.5h1.4M298.5 155.5h1.4M333.5 122h1.4M303 171.5h1.4M318.5 105.5h1.4M306 117h1.4M307 177.5h1.4M299.5 136.5h1.4M303.5 122h1.4M299.5 135h1.4M333 171h1.4M337 142.5h1.4M337 136h1.4M337 156.5h1.4M336.5 130.5h1.4M300.5 136.5h1.4M332 174h1.4M328 111h1.4M300 163.5h1.4M313 110h1.4M328 113.5h1.4M300 135h1.4M335.5 158.5h1.4M327.5 113.5h1.4M311 111.5h1.4M334.5 124h1.4M313.5 184.5h1.4M323.5 110.5h1.4M332 118h1.4M304.5 176.5h1.4M301.5 167h1.4M306.5 178h1.4M337.5 148h1.4M320 181h1.4M307 177h1.4M332.5 170h1.4M321 108.5h1.4M300 164.5h1.4M301 128.5h1.4M311.5 184.5h1.4M304.5 175h1.4M319 110h1.4M299.5 154.5h1.4M302.5 123.5h1.4M300.5 165.5h1.4M300 130.5h1.4M333.5 122.5h1.4M314 181.5h1.4M300 140h1.4M310 111h1.4M334.5 167h1.4M336.5 135h1.4M300 146h1.4M317.5 181.5h1.4M320 109.5h1.4M327 111h1.4M305 118.5h1.4M335 125.5h1.4M334 166.5h1.4M299 137h1.4M317 108.5h1.4M335 125h1.4M305.5 116.5h1.4M302 121h1.4M303 170h1.4M301 127.5h1.4M300 130.5h1.4M334.5 123h1.4M328 112.5h1.4M316 110h1.4M335 127h1.4M336 163h1.4M321.5 109.5h1.4M299.5 156h1.4M318.5 109.5h1.4M310 183h1.4M300 155h1.4M327.5 113h1.4M336.5 155.5h1.4M311 181h1.4M299.5 149.5h1.4M330 116h1.4M313.5 184h1.4M327.5 112.5h1.4M318 182h1.4M310 179.5h1.4M299.5 131h1.4M307 115.5h1.4M333 119h1.4M333 118.5h1.4M316.5 181h1.4M317.5 107h1.4M305 117h1.4M302.5 171.5h1.4M322 110h1.4M333.5 122.5h1.4M299.5 152h1.4M335 125h1.4M331.5 173.5h1.4M327.5 177.5h1.4M321 105.5h1.4M309.5 179.5h1.4M302 125.5h1.4M299.5 147h1.4M330 177h1.4M319 108h1.4M317 110h1.4M329.5 175h1.4M315 184.5h1.4M326 107.5h1.4M335 124.5h1.4M332.5 117h1.4M299.5 145h1.4M304 173.5h1.4M300.5 160h1.4M326.5 178h1.4M298.5 147.5h1.4M320 182h1.4M328 177h1.4M302.5 173h1.4M336 162h1.4M300 154h1.4M311 111.5h1.4M306 113h1.4M337 138h1.4M332.5 121h1.4M305 117h1.4M333.5 122.5h1.4M300 160.5h1.4M325 111.5h1.4M312 180.5h1.4M298.5 137h1.4M336.5 139.5h1.4M302.5 122.5h1.4M300 143h1.4M324 109.5h1.4M308.5 181h1.4M328.5 113h1.4M337.5 151.5h1.4M319 183h1.4M326 178h1.4M315.5 182.5h1.4M336.5 131h1.4M336.5 152.5h1.4M310 181.5h1.4M301 127h1.4M311.5 110h1.4M322 110.5h1.4M302 173h1.4M321 180.5h1.4M330.5 115.5h1.4M331.5 171.5h1.4M335.5 162h1.4M320 182.5h1.4M298.5 148.5h1.4M336 130.5h1.4M315 108.5h1.4M300.5 129h1.4M300 139h1.4M310.5 110h1.4M304.5 118.5h1.4M306 179h1.4M334 167.5h1.4M323.5 180.5h1.4M323 109.5h1.4M305 117h1.4M325 110h1.4M337 158.5h1.4M334 123h1.4M303.5 171h1.4M335 127.5h1.4M302.5 123.5h1.4M299.5 132h1.4M327 112.5h1.4M304 118h1.4M308.5 111.5h1.4M329 178h1.4M303 122h1.4M304 177h1.4M335 164.5h1.4M331 174h1.4M300 151.5h1.4M314.5 183.5h1.4M321 108h1.4M332 172.5h1.4M337 150h1.4M338 144.5h1.4M309 178.5h1.4M299 142h1.4M322.5 181h1.4M323 182.5h1.4M301.5 169h1.4M324 110h1.4M337 157h1.4M329.5 113h1.4M338 142h1.4M301 130.5h1.4M304.5 175.5h1.4M319.5 181h1.4M326 179.5h1.4M307 180h1.4M330 116h1.4M337 147h1.4M323.5 110.5h1.4M307 111h1.4M337 151.5h1.4M336 163.5h1.4M316 109.5h1.4M309 113.5h1.4M308.5 180h1.4M331 117h1.4M323 183h1.4M300.5 164h1.4M332.5 171.5h1.4M306 116h1.4M334.5 166.5h1.4M326 178.5h1.4M321 109.5h1.4M298.5 145.5h1.4M307 112h1.4M315.5 110.5h1.4M303.5 122h1.4M324 179.5h1.4M311.5 111.5h1.4M332 171h1.4M313.5 182.5h1.4M300.5 159.5h1.4M332 170.5h1.4M332.5 169h1.4M307 115.5h1.4M317 110h1.4M303.5 174h1.4M303 169.5h1.4M323 180h1.4M300 139h1.4M301 125.5h1.4M336 128.5h1.4M337 157h1.4M334 124.5h1.4M337 142.5h1.4M305.5 177h1.4M314.5 110h1.4M328 112.5h1.4M305.5 113h1.4M311 183h1.4M304.5 119.5h1.4M332 119.5h1.4M333.5 170.5h1.4M300 151.5h1.4M337 152.5h1.4M331 112h1.4M322.5 109h1.4M336 158h1.4M317.5 108.5h1.4M310 110.5h1.4M331 172h1.4M300 138h1.4M309.5 108h1.4M306.5 178h1.4M300 144h1.4M337 138.5h1.4M305.5 117.5h1.4M299 144.5h1.4M335.5 162.5h1.4M331.5 171.5h1.4M330 115.5h1.4M317 108h1.4M329 113h1.4M301.5 126.5h1.4M301.5 127h1.4M299.5 136.5h1.4M316 110h1.4M307 177.5h1.4M299.5 147h1.4M300 154h1.4M307.5 113.5h1.4M322 183h1.4M338.5 153.5h1.4M334 166.5h1.4M326 178.5h1.4M330.5 116.5h1.4M313 108.5h1.4M318.5 109.5h1.4M301 160h1.4M333 169h1.4M300 155.5h1.4M331.5 116h1.4M299.5 142.5h1.4M304.5 117.5h1.4M303.5 173h1.4M329 175.5h1.4M304 117.5h1.4M300 150.5h1.4M305.5 177h1.4M315 182.5h1.4M311 111h1.4M308.5 178.5h1.4M301.5 127h1.4M315 181h1.4M319 108.5h1.4M302.5 174.5h1.4M300 152h1.4M336.5 126.5h1.4M313.5 108.5h1.4M316 106.5h1.4M306 178h1.4M330 112.5h1.4M302 172.5h1.4M337.5 141.5h1.4M333.5 122.5h1.4M307 114h1.4M329 111h1.4M300.5 133.5h1.4M315.5 109h1.4M331.5 172h1.4M337.5 141.5h1.4M325 111h1.4M329.5 174h1.4M318 181.5h1.4M301.5 127h1.4M320.5 107h1.4M329.5 175.5h1.4M336 135h1.4M305.5 176.5h1.4M337.5 143.5h1.4M319 107.5h1.4M299 150.5h1.4M304 175h1.4M333.5 167.5h1.4M334 166.5h1.4M303.5 116h1.4M322.5 106h1.4M334.5 124h1.4M304 174.5h1.4M336.5 129h1.4M310.5 181h1.4M336 130h1.4M336 125h1.4M329 177h1.4M332 115h1.4M311.5 110h1.4M311.5 109h1.4M329.5 114.5h1.4M298.5 134.5h1.4M298.5 143h1.4M304.5 173.5h1.4M332 116.5h1.4M333.5 123h1.4M328 177h1.4M322 109.5h1.4M312.5 183.5h1.4M326 181h1.4M325 183h1.4M301 127h1.4M312 183.5h1.4M318 181.5h1.4M334 169.5h1.4M308 177.5h1.4M322 110.5h1.4M336.5 152h1.4M299.5 151h1.4M303 122.5h1.4M336 159h1.4M311 180.5h1.4M334.5 123.5h1.4M337 143.5h1.4M330 116h1.4M327.5 179.5h1.4M320.5 109.5h1.4M300.5 158.5h1.4M327 178h1.4M300 151.5h1.4M335.5 126h1.4M332.5 119h1.4M301.5 171.5h1.4M336.5 162.5h1.4M333.5 123h1.4M337 141h1.4M299.5 141.5h1.4M320.5 181.5h1.4M300.5 134h1.4M310.5 109.5h1.4M298.5 151.5h1.4M305.5 175.5h1.4M317.5 182.5h1.4M310.5 181h1.4M337 159.5h1.4M316 183h1.4M336.5 133h1.4M337 148.5h1.4M315 110h1.4M324 109.5h1.4M302 168h1.4M301 121.5h1.4M321.5 182h1.4M307.5 111h1.4M312.5 110.5h1.4M316 110.5h1.4M299 148.5h1.4M336.5 137h1.4M331.5 117h1.4M301.5 127.5h1.4M309.5 112.5h1.4M313 181.5h1.4M336 131h1.4M305.5 115h1.4M333 122.5h1.4M311.5 180h1.4M336.5 140h1.4M333.5 170h1.4M298.5 136h1.4M332.5 170h1.4M325 179.5h1.4M321 106h1.4M335 162h1.4M303 171.5h1.4M325.5 182.5h1.4M330 115.5h1.4M334.5 165.5h1.4M306.5 177.5h1.4M330.5 116.5h1.4M310 111h1.4M311.5 110h1.4M338 142.5h1.4M336.5 152.5h1.4M307 111.5h1.4M317.5 110h1.4M318 109.5h1.4M313 111h1.4M335.5 164h1.4M334 165.5h1.4M322 110h1.4M303 120h1.4M314.5 181.5h1.4M337.5 149h1.4M299.5 136h1.4M335 168h1.4M318 108.5h1.4M305.5 178.5h1.4M326 110.5h1.4M334 168h1.4M299.5 148h1.4M333.5 169h1.4M323 108.5h1.4M301 130.5h1.4M319.5 181h1.4M337 135h1.4M309.5 112.5h1.4M306.5 177.5h1.4M330.5 116.5h1.4M303 172.5h1.4M337.5 129.5h1.4M310.5 180h1.4M336.5 140.5h1.4M335.5 161.5h1.4M315.5 109.5h1.4M311 181h1.4M301 164.5h1.4M305.5 117.5h1.4M336 158h1.4M321 182.5h1.4M333 169.5h1.4M316.5 110h1.4M321.5 182.5h1.4M299 146.5h1.4M307.5 178h1.4M319 183h1.4M335.5 129.5h1.4M298.5 143h1.4M306.5 116h1.4M312 111h1.4M328 111h1.4M314.5 182h1.4M335.5 165.5h1.4M300 155h1.4M327.5 178.5h1.4M337 152h1.4M334.5 126.5h1.4M304.5 119h1.4M302 165.5h1.4M330.5 174.5h1.4M320.5 109.5h1.4M300 136h1.4M326.5 178h1.4M337 140h1.4M336 132.5h1.4M336 127h1.4M328.5 112h1.4M298.5 135.5h1.4M310 180h1.4M305.5 112h1.4M329 176h1.4M303.5 119h1.4M335 162h1.4M337.5 150h1.4M313.5 110.5h1.4M306 177h1.4M311 111.5h1.4M323 110h1.4M330.5 109.5h1.4M304 120.5h1.4M330 115h1.4M307 114.5h1.4M335.5 127.5h1.4M333.5 122h1.4M336.5 157.5h1.4M314 181h1.4M302 171.5h1.4M316.5 182h1.4M326.5 178.5h1.4M332 118.5h1.4M337.5 153.5h1.4M326 179h1.4M320 109h1.4M321 180.5h1.4M315 183.5h1.4M336.5 136.5h1.4M320.5 110h1.4M299.5 159.5h1.4M330.5 174.5h1.4M313.5 182.5h1.4M337.5 139.5h1.4M325 106.5h1.4M335 163h1.4M312 108.5h1.4M303.5 172.5h1.4M313.5 109h1.4M310.5 181h1.4M331 173h1.4M337 152h1.4M310 183h1.4M331.5 116h1.4M334 120.5h1.4M309 110.5h1.4M318 108h1.4M324.5 181h1.4M305.5 175h1.4M333.5 122.5h1.4M337 141h1.4M299.5 161h1.4M322.5 109h1.4M335 129h1.4M337 144.5h1.4M310.5 181h1.4M306.5 115h1.4M302.5 170.5h1.4M299.5 155.5h1.4M299.5 156.5h1.4M312.5 182h1.4M337 151.5h1.4M321 109h1.4M310 107h1.4M329.5 113.5h1.4M329 176h1.4M319 181h1.4M302.5 123.5h1.4M336.5 128.5h1.4M299.5 154h1.4M324 180.5h1.4M301.5 122.5h1.4M336.5 134h1.4M332 117h1.4M334.5 121h1.4M301.5 167h1.4M314.5 184.5h1.4M331.5 118.5h1.4M324 109.5h1.4M330.5 114.5h1.4M301.5 171.5h1.4M311.5 183h1.4M318.5 184h1.4M332 118.5h1.4M336 125h1.4M304 173.5h1.4M333 117h1.4M303 171.5h1.4M300 159.5h1.4M299.5 127.5h1.4M321.5 183.5h1.4M314 182h1.4M314 181h1.4M315 182h1.4M300 140.5h1.4M333.5 169h1.4M323 110.5h1.4M327.5 182h1.4M300.5 160h1.4M306 117h1.4M331.5 177.5h1.4M301.5 167.5h1.4M301 129.5h1.4M300.5 132h1.4M334 120.5h1.4M323.5 110h1.4M333 174h1.4M329 112h1.4M300.5 132h1.4M308.5 111.5h1.4M328 176.5h1.4M299.5 154h1.4M311.5 111h1.4M325 111h1.4M326 110.5h1.4M322 181.5h1.4M328.5 114h1.4M300.5 128h1.4M308 113h1.4M330.5 114.5h1.4M301.5 168.5h1.4M335.5 125.5h1.4M333 118.5h1.4M326 112h1.4M303 172.5h1.4M298.5 137h1.4M327 178.5h1.4M320 109h1.4M333.5 120.5h1.4M328.5 177.5h1.4M317.5 109h1.4M310.5 109.5h1.4M337.5 156.5h1.4M336.5 123.5h1.4M300 152h1.4M314 181h1.4M337 154.5h1.4M323 111h1.4M306.5 176.5h1.4M299 141h1.4M324.5 181h1.4M302.5 120.5h1.4M302.5 169h1.4M326.5 109.5h1.4M307.5 112.5h1.4M314 109h1.4M316.5 182.5h1.4M336.5 163h1.4M332.5 119.5h1.4M336.5 128.5h1.4M305.5 115.5h1.4M334.5 127h1.4M312 110.5h1.4M301.5 119.5h1.4M301.5 165h1.4M305 175h1.4M299 149h1.4M321 181.5h1.4M300.5 164h1.4M299 143h1.4M336 154.5h1.4M302.5 170h1.4M311.5 184.5h1.4M304.5 116h1.4M326.5 111h1.4M303 119.5h1.4M307 111.5h1.4M302.5 118.5h1.4M315.5 182h1.4M303.5 172.5h1.4M329.5 115h1.4M336.5 131h1.4M326 179h1.4" stroke="#c9c9c9" stroke-width="1.4" fill="none"/>
<path d="M328.5 110.5h1.2M318.5 186.5h1.2M306.5 109h1.2M312 107.5h1.2M296.5 180.5h1.2M330.5 177.5h1.2M301 118h1.2M323.5 185.5h1.2M303 176h1.2M299 132.5h1.2M340 133h1.2M332 181.5h1.2M336.5 165h1.2M298 133.5h1.2M337.5 129.5h1.2M338 159.5h1.2M304.5 114h1.2M342.5 156h1.2M299 131h1.2M333 173.5h1.2M306 111h1.2M303 178h1.2M302.5 103.5h1.2M315 187h1.2M336 165.5h1.2M326.5 181h1.2M313 184.5h1.2M328.5 180h1.2M324.5 183.5h1.2M298.5 132.5h1.2M299 163h1.2M329 108.5h1.2M290.5 147h1.2M299 134h1.2M312 105.5h1.2M332 112h1.2M300.5 123.5h1.2M338.5 157h1.2M298.5 157.5h1.2M339.5 156.5h1.2M301.5 119.5h1.2M342.5 169h1.2M298.5 133.5h1.2M331.5 181.5h1.2M333 111h1.2M335.5 170h1.2M306.5 111.5h1.2M311.5 107.5h1.2M312.5 184.5h1.2M300 121h1.2M305 184h1.2M315 186.5h1.2M315 186.5h1.2M338 151h1.2M307.5 110h1.2M338 166.5h1.2M326 190h1.2M335.5 167.5h1.2M326 108.5h1.2M297 135.5h1.2M298 156h1.2M301 124.5h1.2M326.5 109h1.2M295 101h1.2M298.5 141h1.2M308 182.5h1.2M294.5 139h1.2M339.5 141h1.2M298 125h1.2M293 155h1.2M334 119h1.2M338.5 162h1.2M336.5 163h1.2M324.5 108h1.2M337 129.5h1.2M338.5 161h1.2M338 153.5h1.2M340.5 149.5h1.2M300 125h1.2M331 176h1.2M297 126.5h1.2M306 109h1.2M338 151h1.2M333 115.5h1.2M316 186h1.2M299 130h1.2M304.5 177h1.2M304.5 180h1.2M299 172.5h1.2M344.5 147.5h1.2M299 165h1.2M314 185h1.2M304 177.5h1.2M328.5 179h1.2M304.5 184h1.2M311 109.5h1.2M340 139.5h1.2M326 188.5h1.2M332.5 115h1.2M302.5 118h1.2M335 171.5h1.2M338.5 150.5h1.2M334.5 117.5h1.2M319.5 186h1.2M336 175h1.2M305.5 111h1.2M311.5 105.5h1.2M334.5 120.5h1.2M298.5 145.5h1.2M308.5 181.5h1.2M307.5 181.5h1.2M324.5 188h1.2M303 112h1.2M337.5 129.5h1.2M337 169h1.2M301.5 173h1.2M303.5 180.5h1.2M336.5 167h1.2M301 121.5h1.2M344 138h1.2" stroke="#d2d2d2" stroke-width="1.2" fill="none"/>
<line x1="315.9" y1="128" x2="315.9" y2="166" stroke="#e6e6e6" stroke-width="1.4"/>
<line x1="305" y1="140.1" x2="327" y2="140.1" stroke="#e6e6e6" stroke-width="1.4"/>
<line x1="315.9" y1="38.5" x2="315.9" y2="250" stroke="#4e4e4e" stroke-width="1.5" stroke-dasharray="12.6 7.1"/>
<line x1="206.7" y1="140.2" x2="417.2" y2="140.2" stroke="#4e4e4e" stroke-width="1.5" stroke-dasharray="13 6.7"/>
<path d="M276.5 137h1.4M293.5 140h1.4M298 130h1.4M301.5 93.5h1.4M289.5 167h1.4M298.5 91.5h1.4M279.5 113.5h1.4M290.5 85.5h1.4M282.5 142.5h1.4M290.5 124.5h1.4M295.5 133.5h1.4M298.5 117h1.4M279.5 114h1.4M300.5 119h1.4M284.5 76.5h1.4M279.5 135.5h1.4M287 134h1.4M275.5 107.5h1.4M289 115h1.4M291.5 121.5h1.4M287 147.5h1.4M293.5 124h1.4M286 116h1.4M289 105h1.4M275.5 84.5h1.4M289 103h1.4M281 117h1.4M284.5 110h1.4M288 117h1.4M290.5 130.5h1.4M273.5 124.5h1.4M274.5 121h1.4M286 129h1.4M293 119h1.4M292 115h1.4M297 125h1.4M301 80h1.4M293.5 141h1.4M288.5 89h1.4M279.5 132.5h1.4M280 115.5h1.4M284.5 138h1.4M291.5 116h1.4M291 96h1.4M289 137.5h1.4M287.5 119.5h1.4M294.5 118h1.4M290.5 117h1.4M291.5 136h1.4M291.5 132.5h1.4M284 120.5h1.4M279.5 83.5h1.4M293.5 107.5h1.4M292.5 117.5h1.4M287 152.5h1.4M285 123.5h1.4M310 113.5h1.4M282 140h1.4M287 113.5h1.4M291 115h1.4M278 119h1.4M290 85h1.4M305.5 135h1.4M297.5 124.5h1.4M294.5 110h1.4M294.5 92h1.4M290 120h1.4M297.5 144.5h1.4M287.5 102.5h1.4M285 94h1.4M289.5 124h1.4M297 83h1.4M292 70h1.4M295 106.5h1.4M270 101.5h1.4M300 110h1.4M310.5 104.5h1.4M301 122.5h1.4M286 111h1.4M281 103.5h1.4M291.5 106.5h1.4M279.5 128.5h1.4M295.5 135.5h1.4M284 134h1.4M297.5 130h1.4M301.5 48h1.4M270 95h1.4M291.5 109h1.4M282.5 120h1.4M276 82.5h1.4M283 145h1.4M287 122h1.4M298.5 103h1.4M275 119h1.4M298.5 108.5h1.4M307.5 100h1.4M294.5 126h1.4M294 106.5h1.4M288.5 87h1.4M278 102.5h1.4M293.5 113.5h1.4M292.5 93.5h1.4M295.5 141.5h1.4M312.5 93.5h1.4M295.5 152h1.4M292.5 134h1.4M303 96.5h1.4M276.5 118.5h1.4M278.5 140h1.4M285.5 112h1.4M283 91.5h1.4M295 118h1.4M286 156.5h1.4M305 85.5h1.4M303 127h1.4M296 116h1.4M285 113.5h1.4M294.5 108h1.4M296.5 109.5h1.4M279 137h1.4M292 128h1.4M295.5 95.5h1.4M291 148h1.4M303.5 89.5h1.4M300 129.5h1.4M281 119.5h1.4M290 140.5h1.4M281 123h1.4M294 137.5h1.4M281 115.5h1.4M297.5 136h1.4M292.5 123h1.4M297.5 160h1.4M287.5 101.5h1.4M275.5 140.5h1.4M305 125.5h1.4M287 119.5h1.4M301.5 104.5h1.4M293 125h1.4M295 86h1.4M305.5 88h1.4M292 130.5h1.4M301.5 84h1.4M275 145.5h1.4M297 110.5h1.4M286.5 121h1.4M287.5 117.5h1.4M289 124.5h1.4M292 110.5h1.4M304 108.5h1.4M271.5 113.5h1.4M289 137.5h1.4M282 139.5h1.4M299.5 142h1.4M285 123.5h1.4M293 112h1.4M285 81.5h1.4M295 129h1.4M298 133.5h1.4M285 108h1.4M289.5 132.5h1.4M275.5 142.5h1.4M291.5 118h1.4M296.5 137.5h1.4M283.5 122.5h1.4M299 80.5h1.4M269.5 106.5h1.4M272 107.5h1.4M276 127h1.4M284.5 98.5h1.4M289 107h1.4M288 96.5h1.4M288 115.5h1.4M295.5 117.5h1.4M284.5 136h1.4M277 132.5h1.4M277.5 119.5h1.4M308 121h1.4M267 118.5h1.4M287 118.5h1.4M302 148h1.4M293 65h1.4M281 112.5h1.4M289 122.5h1.4M296.5 139h1.4M300 93.5h1.4M280.5 123h1.4M296 133.5h1.4M291 107h1.4M299 77h1.4M301.5 108.5h1.4M285.5 91.5h1.4M275.5 129.5h1.4M292.5 98.5h1.4M305 152.5h1.4M295 119h1.4M291 99.5h1.4M311 105.5h1.4M279 93.5h1.4M297 124h1.4M283.5 146.5h1.4M289.5 111.5h1.4M289.5 135h1.4M302.5 97h1.4M280 122.5h1.4M284 163.5h1.4M274 87.5h1.4M293.5 141.5h1.4M284.5 140h1.4M292.5 77.5h1.4M279 86.5h1.4M285.5 96h1.4M298.5 136h1.4M287 107.5h1.4M294.5 112.5h1.4M293.5 130.5h1.4M285.5 118.5h1.4M274.5 120.5h1.4M298 109.5h1.4M290.5 139h1.4M298 100h1.4M270.5 150.5h1.4M273.5 109h1.4M269 99.5h1.4M280.5 129.5h1.4M298.5 125.5h1.4M294 75.5h1.4M288.5 120.5h1.4M290 88.5h1.4M296 99h1.4M286 132h1.4M292.5 98.5h1.4M290 123.5h1.4M268.5 108h1.4M285.5 155.5h1.4M301.5 114h1.4M285 92h1.4M287.5 93.5h1.4M283 97.5h1.4M284.5 118.5h1.4M299 116h1.4M286.5 136h1.4M279.5 119.5h1.4M260 118.5h1.4M283.5 122.5h1.4M270.5 113h1.4M272 122h1.4M296 132h1.4M295.5 132h1.4M271 104.5h1.4M296.5 79.5h1.4M293 99.5h1.4M281.5 121.5h1.4M295.5 65h1.4M274 106h1.4M277.5 125h1.4M275.5 104h1.4M278.5 93h1.4M297 151.5h1.4M276.5 144h1.4M278 110.5h1.4M280 143h1.4M290.5 142.5h1.4M285.5 92.5h1.4M296.5 170.5h1.4M282.5 96.5h1.4M277 110.5h1.4M284 93h1.4M289 117.5h1.4M280 88.5h1.4M291.5 115.5h1.4M305.5 138h1.4M283.5 120h1.4M289 110h1.4M301 147.5h1.4M282.5 97h1.4M281 135.5h1.4M278.5 109.5h1.4M292.5 120h1.4M293.5 116h1.4M287.5 118h1.4M289 114.5h1.4M300.5 99.5h1.4M296.5 104h1.4M275.5 124.5h1.4M288.5 113.5h1.4M289.5 91.5h1.4M295 101h1.4M286.5 101.5h1.4M282.5 114.5h1.4M284.5 119h1.4M272 117.5h1.4M288.5 102h1.4M283 116h1.4M293 87.5h1.4M279 56.5h1.4M284.5 114h1.4M279.5 81.5h1.4M278.5 96h1.4M295 90.5h1.4M284 128h1.4M292.5 90.5h1.4M278 121h1.4M289.5 105h1.4M273 90h1.4M284 83h1.4M284 124.5h1.4M294 123h1.4M290 131h1.4M287 152.5h1.4M296 120.5h1.4M290 121h1.4M293.5 112.5h1.4M295.5 117h1.4M288 108h1.4M285.5 96.5h1.4M291.5 156h1.4M284.5 76.5h1.4M292 120h1.4M298.5 124h1.4M296 118h1.4M285 95h1.4M276.5 111h1.4M288 105.5h1.4M287 92.5h1.4M298.5 114h1.4M285 106.5h1.4M286.5 103.5h1.4M295 128.5h1.4M284 93h1.4M287 123.5h1.4M304 102h1.4M302 123.5h1.4M294 116h1.4M291 119.5h1.4M279.5 94.5h1.4M293.5 98.5h1.4M289 97h1.4M290.5 118h1.4M283.5 129.5h1.4M288.5 136.5h1.4M286.5 104h1.4M291.5 116h1.4M301.5 81.5h1.4M291.5 69h1.4M273 96.5h1.4M279.5 100.5h1.4M274 82.5h1.4M281 78h1.4M293.5 125h1.4M292 98h1.4M283 80h1.4M291 162h1.4M281.5 118h1.4M275.5 107.5h1.4M275.5 128h1.4M280.5 98.5h1.4M301.5 146.5h1.4M276 82.5h1.4M300 87.5h1.4M300.5 111.5h1.4M286.5 98.5h1.4M288 143h1.4M282.5 81.5h1.4M288 99h1.4M294.5 119h1.4M288.5 125.5h1.4M297.5 134.5h1.4M299 121h1.4M291.5 159h1.4M291.5 104h1.4M288 117.5h1.4M291.5 131.5h1.4M278 107.5h1.4M292 108h1.4M290 104.5h1.4M280.5 100.5h1.4M308 90.5h1.4M279.5 102.5h1.4M280.5 82h1.4M291 121.5h1.4M270.5 81h1.4M281 156h1.4M274.5 148.5h1.4M279.5 136.5h1.4M287 109.5h1.4M291 101.5h1.4M298.5 138.5h1.4M295.5 117.5h1.4M299 125h1.4M293.5 99h1.4M284 135.5h1.4M298.5 97h1.4M284 116h1.4M282.5 78h1.4M302.5 100h1.4M295.5 124h1.4M290.5 104.5h1.4M295 104.5h1.4M296.5 129.5h1.4M276 112h1.4M287.5 139h1.4M277.5 64h1.4M289.5 125h1.4M282 124h1.4M301 82h1.4M293 87h1.4M281 131.5h1.4M288 91.5h1.4M277 100.5h1.4M288.5 125.5h1.4M293.5 106.5h1.4M290.5 123h1.4M270.5 95.5h1.4M285 119.5h1.4M293 135.5h1.4M291 120h1.4M299 68.5h1.4M276.5 126.5h1.4M293 114.5h1.4M282.5 95h1.4M290 142h1.4M292 78h1.4M294.5 151.5h1.4M283 100.5h1.4M290 145.5h1.4M277.5 112.5h1.4M275.5 86h1.4M293.5 115.5h1.4M288 120h1.4M273.5 124.5h1.4M280.5 135h1.4M288.5 95h1.4M302.5 123.5h1.4M298 128.5h1.4M295.5 108h1.4M272 94.5h1.4M287.5 94h1.4M292.5 128.5h1.4M292 129.5h1.4M292 96.5h1.4M286 86h1.4M304.5 138.5h1.4M302 81.5h1.4M287.5 116.5h1.4M279.5 97h1.4M307 77.5h1.4M283 116h1.4M299.5 109.5h1.4M306 142.5h1.4M279.5 159.5h1.4M291 109.5h1.4M285 134.5h1.4M293 134.5h1.4M291 102.5h1.4M306 95.5h1.4M293.5 146h1.4M288 106h1.4M298.5 113h1.4M286 107.5h1.4M285 110.5h1.4M309 101h1.4M280.5 128.5h1.4M284 139h1.4M288.5 105.5h1.4M278.5 85h1.4M269 114.5h1.4M298 83h1.4M281 100.5h1.4M283.5 138.5h1.4M285 160.5h1.4M279 121h1.4M278.5 91.5h1.4M289.5 129.5h1.4M310.5 67.5h1.4M295 99h1.4M295 144.5h1.4M274.5 128.5h1.4M288 85h1.4M277.5 79.5h1.4M295.5 131h1.4M286 112.5h1.4M288.5 101h1.4M287.5 122h1.4M283 101.5h1.4M274.5 74h1.4M293.5 130h1.4M275.5 100h1.4M277.5 93h1.4M285.5 86h1.4M282 118.5h1.4M290.5 97h1.4M297.5 126h1.4M290.5 108h1.4M290 135.5h1.4M288.5 105.5h1.4M296 100h1.4M271.5 73h1.4M291.5 91h1.4M279.5 128h1.4M277 175.5h1.4M288.5 88h1.4M284.5 92h1.4M293.5 120h1.4M298.5 123h1.4M267 99.5h1.4M287.5 115h1.4M306.5 80.5h1.4M296 107.5h1.4M301.5 131.5h1.4M289 146.5h1.4M275 110h1.4M278 108h1.4M295 122.5h1.4M297 136h1.4M281.5 123.5h1.4M286 98h1.4M290.5 120.5h1.4M272 133h1.4M285 99h1.4M303 86h1.4M308.5 124h1.4M287.5 121h1.4M305 133h1.4M283.5 115h1.4M281 100.5h1.4M267.5 104.5h1.4M297 92.5h1.4M285 94h1.4M310 102h1.4M291.5 103.5h1.4M290 136h1.4M271.5 88.5h1.4M302 112.5h1.4M285 101.5h1.4M287 144h1.4M268 119h1.4M297 106h1.4M297.5 130h1.4M282.5 115h1.4M289 104h1.4M292 145h1.4M297 128h1.4M289 149h1.4M304 137h1.4M286 129.5h1.4M282.5 116h1.4M284 91.5h1.4M265 128h1.4M281 115h1.4M297.5 127.5h1.4M290.5 113.5h1.4M281 99.5h1.4M291.5 93h1.4M269.5 128h1.4M285.5 140h1.4M293 107.5h1.4M294.5 123h1.4M281 142h1.4M296.5 96.5h1.4M305.5 106.5h1.4M284.5 91h1.4M295 137.5h1.4M274 119h1.4M270.5 104h1.4M294 80h1.4M288.5 110h1.4M290 134h1.4M283 107.5h1.4M285.5 105h1.4M296 126.5h1.4M304 88.5h1.4M286.5 114.5h1.4M273 126h1.4M300 98h1.4M294 97h1.4M294.5 118.5h1.4M290 111.5h1.4M309.5 109h1.4M289 118h1.4M293 118h1.4M271.5 95h1.4M283 100h1.4M282 123h1.4M288 136.5h1.4M291.5 141.5h1.4M281.5 96.5h1.4M304.5 136h1.4M278.5 129h1.4M284 113h1.4M290.5 123.5h1.4M277 130.5h1.4M293.5 150h1.4M294 92.5h1.4M285.5 126h1.4M306 111h1.4M289 109.5h1.4M291 137h1.4M279.5 130.5h1.4M273 93h1.4M282.5 108h1.4M285.5 118.5h1.4M284 85h1.4M295.5 131.5h1.4M266.5 112.5h1.4M278 117h1.4M271.5 120.5h1.4M300.5 150.5h1.4M283 114.5h1.4M283.5 106.5h1.4M278 149h1.4M296.5 103.5h1.4M284.5 103h1.4M290.5 85.5h1.4M269.5 136h1.4M299 119.5h1.4M292 123.5h1.4M293.5 117h1.4M299.5 111h1.4M286.5 98h1.4M287 98h1.4M295 122.5h1.4M292.5 116.5h1.4M286 147h1.4M288.5 98.5h1.4M283.5 104h1.4M295 93h1.4M297 142h1.4M288.5 89h1.4M305.5 129.5h1.4M274 143h1.4M286 111h1.4M304 128.5h1.4M284.5 71h1.4M273.5 106h1.4M301 80.5h1.4M293.5 117.5h1.4M277.5 114h1.4M295.5 98.5h1.4M279 133h1.4M276 121h1.4M287 103.5h1.4M284 103.5h1.4M278 84h1.4M285 110h1.4M279 157h1.4M289 99.5h1.4M288 122.5h1.4M295 103h1.4M284 130.5h1.4M276 123h1.4M276 109h1.4M286 78h1.4M302.5 103.5h1.4M296 138.5h1.4M282.5 109h1.4M297 126.5h1.4M277.5 104h1.4M297.5 76h1.4M285 122.5h1.4M295.5 120.5h1.4M294 102.5h1.4M286 106.5h1.4M291.5 120h1.4M278.5 102h1.4M287.5 121h1.4M298.5 110h1.4M326 66h1.4M295 111h1.4M289 102h1.4M279 97h1.4M298 122h1.4M273 104h1.4M281 125h1.4M291.5 136h1.4M277.5 117h1.4M302.5 82.5h1.4M298.5 99h1.4M283 132.5h1.4M283.5 109h1.4M276 97.5h1.4M275.5 112h1.4M292.5 124h1.4M294 119.5h1.4M291.5 127h1.4M291 97.5h1.4M283 108.5h1.4M291.5 109h1.4M275 113.5h1.4M288.5 71.5h1.4M302 109.5h1.4M300.5 87h1.4M284 142h1.4M285.5 145.5h1.4M301 148h1.4M305 130.5h1.4M274.5 104.5h1.4M284.5 133.5h1.4M290.5 110h1.4M299.5 126.5h1.4M280.5 96h1.4M294.5 102h1.4M285.5 123.5h1.4M310.5 150h1.4M292.5 113.5h1.4M287 160h1.4M285.5 170h1.4M298 88h1.4M294.5 113.5h1.4M278.5 95h1.4M290.5 111.5h1.4M276 103.5h1.4M281.5 113h1.4M276.5 133.5h1.4M276 133h1.4M282 119.5h1.4M279.5 114h1.4M293.5 116.5h1.4M295.5 116.5h1.4M286 126h1.4M278 114.5h1.4M296 124.5h1.4M269.5 87.5h1.4M270.5 130.5h1.4M295 149.5h1.4M294.5 118h1.4M297.5 85.5h1.4M286.5 141.5h1.4M276.5 107.5h1.4M283.5 53.5h1.4M293.5 110h1.4M281.5 126.5h1.4M282 122h1.4M275.5 139.5h1.4M277.5 127h1.4M296 116.5h1.4M292.5 74h1.4M277.5 91.5h1.4M278.5 118h1.4M283 128h1.4M293.5 93.5h1.4M277.5 102h1.4M287 124h1.4M268.5 75.5h1.4M277 75h1.4M292.5 109.5h1.4M296.5 119.5h1.4M277.5 104.5h1.4M281 67.5h1.4M296 114.5h1.4M285 87.5h1.4M283.5 127.5h1.4M293 112h1.4M290 119.5h1.4M298.5 127.5h1.4M295.5 103.5h1.4M283 131h1.4M287.5 139.5h1.4M288 122.5h1.4M276 141h1.4M279.5 101.5h1.4M297.5 133h1.4M273.5 119.5h1.4M297.5 94h1.4M291 112.5h1.4M287 103.5h1.4M293.5 103h1.4M293 116h1.4M299.5 136h1.4M284.5 108h1.4M286.5 117h1.4M286 84.5h1.4M306 116.5h1.4M297 137.5h1.4M280 130.5h1.4M285.5 124h1.4M282 103.5h1.4M288.5 94.5h1.4M290.5 112.5h1.4M309.5 87h1.4M271.5 89h1.4M298 133.5h1.4M292.5 95.5h1.4M282 150.5h1.4M287 85.5h1.4M284 123h1.4M289 90.5h1.4M297.5 118h1.4M274.5 93h1.4M300.5 115h1.4M285 111h1.4M302.5 105h1.4M292 124.5h1.4M300 145h1.4M293.5 102.5h1.4M298.5 132h1.4M289 116h1.4M281 113.5h1.4M294.5 159h1.4M295 70h1.4M308 100.5h1.4M270 77.5h1.4M286.5 108h1.4M298.5 109.5h1.4M277 191.5h1.4M286.5 121.5h1.4M308 150.5h1.4M301.5 140.5h1.4M280.5 105.5h1.4M301.5 124h1.4M299.5 148h1.4M295.5 118h1.4M292 118.5h1.4M290.5 124.5h1.4M280.5 83.5h1.4M283.5 98h1.4M295.5 121h1.4M290 125.5h1.4M305.5 95.5h1.4M285.5 107.5h1.4M266.5 112h1.4M285.5 111h1.4M291 128.5h1.4M292 116.5h1.4M289 117.5h1.4M281 85.5h1.4M302.5 93h1.4M282.5 121h1.4M295 82h1.4M286 119.5h1.4M277.5 101h1.4M301.5 97.5h1.4M265.5 127.5h1.4M280.5 100.5h1.4M292.5 97h1.4M285.5 100.5h1.4M295.5 115.5h1.4M287.5 170h1.4M284.5 71h1.4M308.5 114h1.4M286.5 109h1.4M287 133.5h1.4M278.5 106.5h1.4M281.5 64h1.4M294.5 141h1.4M294 92h1.4M288.5 113h1.4M282 86h1.4M295 92h1.4M273 104h1.4M285.5 131.5h1.4M286.5 131h1.4M281 102h1.4M290 124.5h1.4M282.5 106.5h1.4M281 116.5h1.4M305 117h1.4M295.5 126.5h1.4M299.5 101.5h1.4M289 111.5h1.4M297.5 118.5h1.4M296 116h1.4M300 97.5h1.4M310.5 149h1.4M286.5 104.5h1.4M291 129.5h1.4M288 118h1.4M256.5 139h1.4M276 69.5h1.4M289 155.5h1.4M294.5 109.5h1.4M283.5 89h1.4M299 116.5h1.4M300.5 160h1.4M285 124h1.4M302 89h1.4M305 104.5h1.4M293 141h1.4M279.5 85.5h1.4M302.5 110h1.4M287.5 108h1.4M285.5 158h1.4M290 108h1.4M284 140.5h1.4M298.5 100h1.4M296 97.5h1.4M300 134.5h1.4M294 126.5h1.4M281.5 78.5h1.4M287.5 127h1.4M297 127h1.4M285 101.5h1.4M315.5 118.5h1.4M286.5 119.5h1.4M283.5 104h1.4M299.5 102h1.4M295.5 100h1.4M288.5 108.5h1.4M286.5 87h1.4M292.5 113h1.4M296.5 83.5h1.4M296 115.5h1.4M286 112h1.4M293 93h1.4M296.5 131h1.4M296 153.5h1.4M260.5 141h1.4M280.5 86h1.4M281.5 139.5h1.4M286.5 118.5h1.4M290.5 112.5h1.4M297.5 101.5h1.4M294.5 113.5h1.4M287.5 142h1.4M289 125h1.4M305 105.5h1.4M283 100h1.4M291.5 105.5h1.4M303 125.5h1.4M292 152h1.4M270 92.5h1.4M292 114h1.4M285 106h1.4M288 98.5h1.4M298.5 122h1.4M293 125h1.4M286.5 85h1.4M297 92.5h1.4M293 138h1.4M290 120.5h1.4M291.5 124.5h1.4M291 103.5h1.4M285.5 106h1.4M284.5 123h1.4M289 103.5h1.4M280 91h1.4M277 114h1.4M301 132h1.4M286.5 93h1.4M288.5 135.5h1.4M287.5 128h1.4M289 96.5h1.4M289 114h1.4M289.5 113h1.4M281.5 126.5h1.4M297.5 127.5h1.4M282.5 87.5h1.4M298.5 86.5h1.4M271 134.5h1.4M279 116h1.4M298 122.5h1.4M287.5 120.5h1.4M282.5 145h1.4M292.5 89.5h1.4M279 136h1.4M289.5 97h1.4M268.5 128.5h1.4M284.5 141h1.4M283 85.5h1.4M294 122h1.4M297 108h1.4M281 108h1.4M303.5 114.5h1.4M283.5 92.5h1.4M270 94.5h1.4M267 127h1.4M303 131h1.4M288 102.5h1.4M283 84.5h1.4M282 161h1.4M279 136h1.4M301 121h1.4M288 93h1.4M305.5 102h1.4M287 118.5h1.4M267 94.5h1.4M296.5 146.5h1.4M285.5 116.5h1.4M286.5 122h1.4M303 93h1.4M286.5 95.5h1.4M299.5 98h1.4M289 119.5h1.4M282 108.5h1.4M293.5 108h1.4M283.5 120h1.4M300 118.5h1.4M297.5 144h1.4M289.5 110h1.4M294.5 93.5h1.4M294 113.5h1.4M286.5 143.5h1.4M297 102.5h1.4M286.5 115h1.4M294.5 106.5h1.4M280 122h1.4M289.5 119h1.4M292.5 97.5h1.4M281.5 109h1.4M285 133h1.4M284 136h1.4M295.5 132.5h1.4M282 131h1.4M293 107h1.4M303 106.5h1.4M292 132.5h1.4M274 90h1.4M290 112.5h1.4M298.5 76.5h1.4M286 106h1.4M299 99.5h1.4M294.5 89.5h1.4M292.5 125.5h1.4M286.5 99h1.4M284 106.5h1.4M286.5 108.5h1.4M289.5 99h1.4M293.5 142.5h1.4M293 104h1.4M286 118h1.4M289.5 87.5h1.4M292.5 104.5h1.4M274 107.5h1.4M282 107.5h1.4M281.5 102h1.4M287 116.5h1.4M286.5 145h1.4M286.5 111h1.4M281 111h1.4M295 106h1.4M291.5 165h1.4M274 146.5h1.4M289 125h1.4M278.5 128h1.4M304.5 99.5h1.4M284.5 111h1.4M285.5 118h1.4M289.5 116.5h1.4M287 96.5h1.4M288.5 98h1.4M303 124h1.4M291 120h1.4M296.5 71.5h1.4M299.5 115.5h1.4M280 139.5h1.4M304.5 101h1.4M295.5 118.5h1.4M298 84.5h1.4M281 130.5h1.4M296.5 91.5h1.4M293 88.5h1.4M284 107.5h1.4M310 161.5h1.4M294 101.5h1.4M287 88.5h1.4M291 123h1.4M297.5 118.5h1.4M299.5 147h1.4M294.5 88.5h1.4M300 82h1.4M302.5 107.5h1.4M277.5 121.5h1.4M284.5 121h1.4M280.5 135.5h1.4M290 84h1.4M302.5 97.5h1.4M295 111h1.4M279.5 131h1.4M286.5 123.5h1.4M298.5 105.5h1.4M284 93.5h1.4M288 131.5h1.4M292 133h1.4M272 168.5h1.4M296 110.5h1.4M292 146.5h1.4M294 89.5h1.4M280 103h1.4M282 100.5h1.4M283.5 104.5h1.4M291.5 96.5h1.4M289.5 103h1.4M290 113h1.4M305.5 105h1.4M301 127h1.4M282.5 112h1.4M283 114h1.4M305 143.5h1.4M286 120h1.4M301.5 117h1.4M303.5 113.5h1.4M284 115h1.4M286.5 125.5h1.4M289.5 98h1.4M281 137h1.4M280 145.5h1.4M285.5 137h1.4M297 104h1.4M285 82h1.4M287 105h1.4M284.5 117h1.4M276.5 130.5h1.4M302.5 110h1.4M267.5 108h1.4M283 144.5h1.4M294 100.5h1.4M276 135.5h1.4M294.5 132h1.4M300.5 87h1.4M281 119.5h1.4M291 102.5h1.4M279 95h1.4M293.5 76.5h1.4M290 82.5h1.4M291 122h1.4M301.5 106h1.4M293.5 119.5h1.4M301.5 92.5h1.4M295 107.5h1.4M278 108.5h1.4M291.5 83h1.4M293.5 80.5h1.4M275.5 122.5h1.4M301 117h1.4M289.5 95h1.4M292.5 112h1.4M280.5 127h1.4M289.5 150.5h1.4M291.5 96h1.4M286 126.5h1.4M289.5 156.5h1.4M269.5 115h1.4M301.5 143.5h1.4M278.5 62h1.4M269 143h1.4M280 113.5h1.4M281.5 76h1.4M294 129.5h1.4M280.5 135h1.4M291.5 138h1.4M280 138h1.4M309.5 113.5h1.4M294 99h1.4M307 104.5h1.4M279.5 113h1.4M295 122h1.4M280 104h1.4M294.5 115h1.4M295 131.5h1.4M274.5 120.5h1.4M278.5 160h1.4M278 157.5h1.4M275 91h1.4M282 102.5h1.4M280 87.5h1.4M275.5 90.5h1.4M290 125h1.4M294 94h1.4M277 93h1.4M284 108.5h1.4M289 130h1.4M287 107h1.4M282.5 106.5h1.4M296.5 132.5h1.4M296.5 123.5h1.4M295 123h1.4M287 133h1.4M307 93.5h1.4M305 118h1.4M285 101h1.4M288 134.5h1.4M300 130.5h1.4M281.5 93h1.4M292.5 141h1.4M289.5 90.5h1.4M282.5 137.5h1.4M287 118h1.4M274.5 96.5h1.4M284 91.5h1.4M270.5 108h1.4M310 113.5h1.4M302.5 99.5h1.4M300 125h1.4M291.5 85.5h1.4M298 114h1.4M300.5 114h1.4M298 76h1.4M297.5 120h1.4M280.5 88.5h1.4M293 63.5h1.4M284 101.5h1.4M278 109.5h1.4M278.5 132h1.4M293 104h1.4M298.5 143.5h1.4M276.5 143h1.4M305 136h1.4M302.5 140.5h1.4M285.5 121h1.4M284.5 102.5h1.4M288 127h1.4M298 133.5h1.4M285.5 118.5h1.4M278.5 109h1.4M292 82h1.4M270 127.5h1.4M290 121h1.4M299.5 87.5h1.4M291.5 116h1.4M296 128.5h1.4M293.5 111.5h1.4M295.5 129.5h1.4M290 129h1.4M281 84h1.4M286.5 108h1.4M288 123.5h1.4M300.5 132.5h1.4M304 142.5h1.4M292.5 75h1.4M282 112.5h1.4M282 128.5h1.4M287 138.5h1.4M301.5 148h1.4M292 95h1.4M288.5 106.5h1.4M282 92.5h1.4M297 130.5h1.4M291.5 87h1.4M288.5 138h1.4M290 133h1.4M304.5 123.5h1.4M287.5 70h1.4M304.5 100h1.4M300 129h1.4M289.5 85h1.4M297 109h1.4M287.5 112h1.4M281 132h1.4M286.5 119.5h1.4M280.5 119.5h1.4M293.5 105h1.4M289 114h1.4M294 111h1.4M296.5 128.5h1.4M260 110h1.4M291.5 135h1.4M272 79.5h1.4M290.5 138h1.4M280.5 110.5h1.4M290 136.5h1.4M301.5 115.5h1.4M273 131h1.4M290.5 144h1.4M288 102.5h1.4M271.5 115.5h1.4M295 110.5h1.4M289 118h1.4M284 81h1.4M282 110.5h1.4M318.5 109h1.4M285 98h1.4M272 110h1.4M280 82.5h1.4M285.5 142h1.4M285.5 123h1.4M288 152h1.4M279 96h1.4M294 90h1.4M284.5 119.5h1.4M276.5 80h1.4M281.5 118.5h1.4M285.5 99.5h1.4M296.5 107h1.4M293.5 119h1.4M285.5 114.5h1.4M289 151.5h1.4M291 126.5h1.4M307.5 87.5h1.4M283 133.5h1.4M293 86.5h1.4M295.5 115.5h1.4M280 88.5h1.4M290.5 97h1.4M290.5 140.5h1.4M284.5 102.5h1.4M294 100.5h1.4M298.5 102.5h1.4M299 107.5h1.4M287 143h1.4M290.5 90h1.4M310.5 88.5h1.4M278.5 125.5h1.4M291 81.5h1.4M297 106.5h1.4M290 136.5h1.4M295 113.5h1.4M290.5 104h1.4M295.5 99.5h1.4M300.5 95h1.4M287 101.5h1.4M290.5 116.5h1.4M288.5 139h1.4M285 133h1.4M288.5 102h1.4M278.5 99h1.4M295.5 127.5h1.4M304.5 77h1.4M304.5 104.5h1.4M300.5 107h1.4M280 91h1.4M303 93.5h1.4M282 120.5h1.4M288.5 80h1.4M306 95h1.4M279 100.5h1.4M296.5 115h1.4M291.5 85.5h1.4M287.5 135.5h1.4M280.5 107h1.4M292.5 108h1.4M284.5 106h1.4M298.5 99.5h1.4M300 93.5h1.4M276 136.5h1.4M284 117.5h1.4M286 111h1.4M278 133.5h1.4M278.5 99h1.4M289.5 126h1.4M287 113.5h1.4M273.5 95h1.4M284 128.5h1.4M293.5 83h1.4M277.5 126.5h1.4M280.5 95.5h1.4M303.5 121.5h1.4M301 141h1.4M274 124.5h1.4M276.5 101h1.4M292.5 112.5h1.4M278 105.5h1.4M286.5 89.5h1.4M284.5 90.5h1.4M294 114h1.4M265.5 124h1.4M268.5 77.5h1.4M277.5 111.5h1.4M298 123h1.4M287.5 115h1.4M273 92.5h1.4M293.5 134h1.4M295.5 88.5h1.4M286.5 126h1.4M286 145h1.4M293 71.5h1.4M300 118h1.4M290 119h1.4M293.5 117.5h1.4M288.5 97.5h1.4M285.5 106.5h1.4M280.5 84.5h1.4M291 115.5h1.4M286 123.5h1.4M286.5 99.5h1.4M297.5 94h1.4M293.5 103h1.4M297 112.5h1.4M274.5 114h1.4M294 110.5h1.4M283.5 114h1.4M281.5 86h1.4M281 57.5h1.4M300 125h1.4M296.5 141h1.4M282 84h1.4M278.5 99h1.4M289 118.5h1.4M284.5 131.5h1.4M304 125.5h1.4M275.5 138.5h1.4M272 111.5h1.4M286.5 121h1.4M289 121h1.4M290 104h1.4M295.5 136.5h1.4M308 125h1.4M285.5 132h1.4M284 104.5h1.4M272.5 133h1.4M291 91.5h1.4M296.5 120.5h1.4M286.5 60h1.4M299.5 92h1.4M289 127.5h1.4M302.5 103.5h1.4M292 116h1.4M279 80h1.4M283 143.5h1.4M274.5 124.5h1.4M273 112h1.4M291.5 121h1.4M297 119h1.4M307 141h1.4M288.5 117h1.4M286.5 83h1.4M278.5 107.5h1.4M298 138h1.4M292.5 124h1.4M283.5 104h1.4M295 124.5h1.4M294 115h1.4M271.5 124.5h1.4M295.5 80.5h1.4M290 94.5h1.4M285 126h1.4M285 108h1.4M305 119.5h1.4M303 151.5h1.4M305.5 106h1.4M278 117.5h1.4M283 101.5h1.4M297 100h1.4M277.5 111h1.4M282 83.5h1.4M272 70.5h1.4M306 140h1.4M298.5 110.5h1.4M293 135h1.4M291 115h1.4M285 115.5h1.4M285 126h1.4M294.5 127h1.4M282.5 88.5h1.4M300 136.5h1.4M284.5 93h1.4M281 116.5h1.4M300.5 163.5h1.4M287.5 114h1.4M294 146h1.4M285 105.5h1.4M268 125h1.4M294 113.5h1.4M276.5 121h1.4M299 95.5h1.4M274.5 94h1.4M271.5 119h1.4M291.5 81h1.4M292.5 95.5h1.4M290 125.5h1.4M277.5 100h1.4M297 94.5h1.4M275.5 90.5h1.4M284.5 115.5h1.4M281.5 105h1.4M285.5 115.5h1.4M296.5 108.5h1.4M283 149.5h1.4M294 103.5h1.4M295 73.5h1.4M273 115h1.4M278 112.5h1.4M285.5 115.5h1.4M283.5 80.5h1.4M291.5 135h1.4M271 112h1.4M295.5 111.5h1.4M295.5 81h1.4M287.5 122h1.4M276 111h1.4M289 139.5h1.4M284 104h1.4M294 88h1.4M288 115h1.4M295.5 94h1.4M285 121h1.4M302 91h1.4M267.5 110h1.4M279.5 108h1.4M293.5 112h1.4M275 102h1.4M295.5 96.5h1.4M277.5 111.5h1.4M289.5 101h1.4M280.5 115.5h1.4M284.5 107h1.4M290.5 67.5h1.4M288 111.5h1.4M285.5 140h1.4M308.5 118.5h1.4M289 124.5h1.4M280 121.5h1.4M297.5 103h1.4M296.5 86h1.4M300 128.5h1.4M305 133.5h1.4M280 124h1.4M298.5 121h1.4M299.5 120.5h1.4M289 112h1.4M291 118h1.4M261 112.5h1.4M283.5 119h1.4M305 93.5h1.4M272.5 100h1.4M284 124h1.4M291.5 106h1.4M294 64.5h1.4M304 115h1.4M272.5 67h1.4M289 150.5h1.4M296.5 127h1.4M276.5 126h1.4M288.5 99.5h1.4M306 90h1.4M301 108.5h1.4M294 113h1.4M265 97.5h1.4M287.5 115.5h1.4M292.5 126h1.4M286 124.5h1.4M288 92h1.4M317 70h1.4M287 112.5h1.4M280 99.5h1.4M291 121.5h1.4M286 145h1.4M286 145h1.4M288 118.5h1.4M296 134.5h1.4M291 145h1.4M277.5 113.5h1.4M287.5 118h1.4M293 129.5h1.4M284.5 112h1.4M299.5 103h1.4M296 98h1.4M279.5 113h1.4M291.5 100.5h1.4M307 128.5h1.4M303 106h1.4M288.5 141.5h1.4M297 136.5h1.4M282.5 88.5h1.4M275.5 134h1.4M294 105h1.4M291 139.5h1.4M293.5 123h1.4M288.5 112h1.4M292 126h1.4M284 102h1.4M293 119.5h1.4M296.5 120.5h1.4M288.5 110h1.4M296.5 120.5h1.4M272.5 93.5h1.4M281.5 124h1.4M302 89.5h1.4M305 125h1.4M291 122h1.4M288 127h1.4M277 102h1.4M292 172.5h1.4M296 108.5h1.4M275 116h1.4M294 98.5h1.4M293.5 141h1.4M293 104h1.4M278.5 132.5h1.4M294 95h1.4M275 119.5h1.4M302.5 106h1.4M290 131.5h1.4M278 107.5h1.4M301 96.5h1.4M299.5 122h1.4M283 90h1.4M309 94.5h1.4M279.5 128.5h1.4M291.5 77h1.4M299.5 128h1.4M268 105.5h1.4M298 95.5h1.4M288 118h1.4M288.5 125.5h1.4M279 102h1.4M292 110h1.4M278.5 129h1.4M280 128h1.4M284.5 112.5h1.4M277.5 98.5h1.4M303.5 95h1.4M276.5 102h1.4M282 127h1.4M286 125h1.4M289 119.5h1.4M296 140.5h1.4M296.5 108h1.4M286 106.5h1.4M285.5 106h1.4M289 151h1.4M296.5 74h1.4M295 119.5h1.4M284 122.5h1.4M270 115h1.4M308.5 159h1.4M297.5 136.5h1.4M291 129h1.4M292 96.5h1.4M284 123.5h1.4M279.5 106.5h1.4M285.5 115h1.4M287 118h1.4M283 104.5h1.4M275.5 126h1.4M286 145.5h1.4M294 134h1.4M284 118h1.4M289 76.5h1.4M269.5 135h1.4M287 135h1.4M287.5 110.5h1.4M277.5 105h1.4M273 127h1.4M292.5 98.5h1.4M281.5 129.5h1.4M293.5 93.5h1.4M285 96.5h1.4M294.5 114.5h1.4M285.5 86h1.4M275 114h1.4M288 124.5h1.4M286 89h1.4M295 132h1.4M284.5 103.5h1.4M285 125h1.4M296.5 118.5h1.4M299.5 105.5h1.4M296 104h1.4M298.5 81.5h1.4M293 101h1.4M296 99.5h1.4M297 146h1.4M292.5 134h1.4M289.5 88h1.4M290 129.5h1.4M311 118.5h1.4M289 107h1.4M286.5 123h1.4M285.5 129.5h1.4M288.5 103.5h1.4M291 109h1.4M278.5 117.5h1.4M270.5 95.5h1.4M291.5 118h1.4M274 113h1.4M291 101.5h1.4M290 98h1.4M299.5 120.5h1.4M304 131h1.4M292 121h1.4M283.5 98h1.4M278 129h1.4M281.5 117.5h1.4M289 126h1.4M270 137h1.4M289.5 97h1.4M288.5 111.5h1.4M294.5 103h1.4M285.5 97.5h1.4M289.5 153h1.4M282 132.5h1.4M284.5 80.5h1.4M272.5 122.5h1.4M290 104h1.4M303 136.5h1.4M290.5 116h1.4M292 111h1.4M280 117h1.4M302 122h1.4M281.5 115h1.4M296 110.5h1.4M290 112h1.4M280 124.5h1.4M298.5 93h1.4M289 114.5h1.4M290.5 112h1.4M293 105h1.4M288.5 128.5h1.4M285.5 90h1.4M293 107.5h1.4M285 98h1.4M289.5 125h1.4M282.5 105.5h1.4M275 115.5h1.4M282.5 122h1.4M284 84h1.4M289 123h1.4M299.5 100h1.4M273.5 109.5h1.4M290 112.5h1.4M268.5 130h1.4M279 128.5h1.4M284 148.5h1.4M268 118h1.4M271.5 105.5h1.4M290 105h1.4M289.5 127h1.4M288 145h1.4M281.5 121h1.4M308.5 103.5h1.4M287.5 120h1.4M281 119.5h1.4M304 115h1.4M294.5 100.5h1.4M285.5 66h1.4M300 104h1.4M290 134.5h1.4M294.5 118.5h1.4M291 72h1.4M279.5 114.5h1.4M297.5 79h1.4M290.5 152.5h1.4M279.5 118h1.4M282 91.5h1.4M297.5 130h1.4M285.5 99.5h1.4M289 125h1.4M295 115h1.4M290 92h1.4M275 127h1.4M294.5 89h1.4M297.5 140h1.4M297 115.5h1.4M303.5 95h1.4M292 80h1.4M296 145.5h1.4M303.5 142.5h1.4M286 90.5h1.4M305 146h1.4M305 117.5h1.4M296 110.5h1.4M305.5 113h1.4M296.5 109.5h1.4M280.5 142h1.4M299.5 117.5h1.4M292 79h1.4M292.5 154.5h1.4M290 131.5h1.4M301.5 93.5h1.4M294 107.5h1.4M282.5 97h1.4M293.5 115.5h1.4M295.5 122h1.4M282 119h1.4M285 103h1.4M285.5 99h1.4M283 130.5h1.4M292 112.5h1.4M298 157.5h1.4M306 99h1.4M300 129.5h1.4M298 115.5h1.4M299.5 100h1.4M301 140.5h1.4M285.5 117h1.4M295 97.5h1.4M292 108.5h1.4M287.5 134h1.4M284.5 91h1.4M284 141h1.4M286.5 127.5h1.4M277.5 109h1.4M293.5 140.5h1.4M288.5 148h1.4M290 126h1.4M292 118h1.4M295.5 150h1.4M283.5 143h1.4M288 96.5h1.4M274 110.5h1.4M268.5 110.5h1.4M271 106.5h1.4M303 86h1.4M272 132h1.4M293 116h1.4M302.5 116.5h1.4M284.5 141.5h1.4M304 103.5h1.4M306 113.5h1.4M297.5 120h1.4M310.5 106h1.4M294.5 112.5h1.4M282 129h1.4M293.5 114.5h1.4M284.5 140h1.4M277 100h1.4M277 118.5h1.4M310 87h1.4M284 112h1.4M288.5 101h1.4M283 140.5h1.4M290 129h1.4M286.5 124.5h1.4M285 150h1.4M277.5 142.5h1.4M276 128.5h1.4M282 101h1.4M291.5 86.5h1.4M308 114h1.4M298.5 107.5h1.4M305.5 102h1.4M293.5 109h1.4M288 82.5h1.4M277 143.5h1.4M289 92.5h1.4M269 101.5h1.4M286 125.5h1.4M304 83h1.4M292 132.5h1.4M299.5 132.5h1.4M285.5 108.5h1.4M276.5 93.5h1.4M284.5 105.5h1.4M285.5 78.5h1.4M300 141.5h1.4M307 115.5h1.4M282 100.5h1.4M285.5 97h1.4M287.5 125.5h1.4M286 143.5h1.4M277.5 90h1.4M290 103.5h1.4M292.5 80.5h1.4M292.5 127.5h1.4M278 117.5h1.4M288 158.5h1.4M273 112h1.4M297.5 106h1.4M279.5 101h1.4M286.5 131h1.4M285 83h1.4M283.5 129h1.4M279.5 119.5h1.4M273 104.5h1.4M305 97h1.4M291.5 135h1.4M291.5 150.5h1.4M308.5 106h1.4M288 125h1.4M294 148.5h1.4M289.5 102.5h1.4M300 109.5h1.4M293.5 91h1.4M292 111.5h1.4M286.5 113h1.4M291.5 106.5h1.4M300 100h1.4M270 83.5h1.4M288 88.5h1.4M285 95.5h1.4M286.5 127h1.4M271 104.5h1.4M296 98h1.4M281.5 127.5h1.4M287 125.5h1.4M284.5 100h1.4M273.5 102.5h1.4M285 127.5h1.4M272 121.5h1.4M280.5 98h1.4M286 119h1.4M289 114h1.4M289.5 136h1.4M288 97.5h1.4M309 131.5h1.4M293 123h1.4M278 95h1.4M283.5 135h1.4M283 132.5h1.4M287.5 88.5h1.4M283.5 153h1.4M281 92h1.4M304.5 96.5h1.4M289.5 108h1.4M286 129.5h1.4M287 126h1.4M287 112.5h1.4M302 141h1.4M293.5 122.5h1.4M299.5 142h1.4M260.5 169.5h1.4M292 118.5h1.4M299 64h1.4M307.5 105.5h1.4M289.5 93.5h1.4M273.5 116.5h1.4M294.5 116.5h1.4M283.5 90.5h1.4M272.5 92h1.4M283.5 109.5h1.4" stroke="#a9d795" stroke-width="1.4" fill="none"/>
<ellipse cx="289.8" cy="118.2" rx="15" ry="28.6" fill="#a8d58e"/>
<path d="M253 181h1.4M230.5 174.5h1.4M264 210h1.4M255 122h1.4M254.5 140h1.4M257.5 186h1.4M245 167h1.4M254.5 153h1.4M264.5 202h1.4M265 181.5h1.4M259 146.5h1.4M252 159h1.4M247 189h1.4M267.5 207.5h1.4M260 132h1.4M251 177h1.4M234 164.5h1.4M246.5 137h1.4M236.5 168.5h1.4M266.5 140h1.4M256.5 161.5h1.4M247.5 204.5h1.4M252 182.5h1.4M279.5 187.5h1.4M266.5 184h1.4M242 179h1.4M253.5 191.5h1.4M243 149h1.4M238.5 165h1.4M256.5 189h1.4M278 157.5h1.4M269.5 163.5h1.4M255 196.5h1.4M251 203h1.4M256.5 160h1.4M264.5 156h1.4M241 184h1.4M237 177.5h1.4M273 159h1.4M257.5 184h1.4M270 183.5h1.4M257 174h1.4M269 231h1.4M249 199.5h1.4M259.5 188.5h1.4M270 193h1.4M264.5 231.5h1.4M250.5 194.5h1.4M263.5 158h1.4M248.5 178.5h1.4M241 174h1.4M260 161h1.4M268.5 177.5h1.4M263 177.5h1.4M242.5 171h1.4M263 162.5h1.4M261.5 189h1.4M250.5 140.5h1.4M230.5 189h1.4M264.5 172.5h1.4M263.5 178h1.4M259.5 125h1.4M238 206h1.4M240.5 137.5h1.4M264.5 155h1.4M262.5 185.5h1.4M259.5 160h1.4M252.5 164h1.4M258.5 127.5h1.4M249.5 163.5h1.4M252 176.5h1.4M246.5 186h1.4M257.5 166.5h1.4M250.5 177h1.4M264 181h1.4M262 159h1.4M247 157.5h1.4M272.5 211.5h1.4M244 155.5h1.4M259 197h1.4M265.5 174h1.4M267.5 202h1.4M233.5 159.5h1.4M264.5 183h1.4M266.5 179h1.4M269 168h1.4M233 178.5h1.4M248 157h1.4M254 171h1.4M250.5 164.5h1.4M268 187.5h1.4M248 170.5h1.4M267 144.5h1.4M260.5 165h1.4M240.5 170.5h1.4M245 154.5h1.4M250 199h1.4M255.5 180.5h1.4M264.5 189.5h1.4M253 157h1.4M263.5 164.5h1.4M239.5 192.5h1.4M225 143.5h1.4M251.5 180h1.4M259.5 174h1.4M251.5 162.5h1.4M245 174h1.4M259 151h1.4M273.5 177h1.4M254 148h1.4M247.5 147h1.4M246.5 200.5h1.4M274 158.5h1.4M254.5 130h1.4M261 192h1.4M267 157h1.4M265.5 101.5h1.4M246 171.5h1.4M264 191h1.4M263 179.5h1.4M259.5 207h1.4M264.5 170h1.4M249.5 184.5h1.4M254 152h1.4M249.5 175.5h1.4M262 203.5h1.4M248.5 182.5h1.4M258.5 175.5h1.4M244 132.5h1.4M253.5 165h1.4M251.5 146.5h1.4M253.5 188h1.4M256 157.5h1.4M253 179.5h1.4M252.5 152.5h1.4M234.5 210.5h1.4M265.5 149h1.4M248.5 175h1.4M252.5 225.5h1.4M246.5 177h1.4M264.5 155h1.4M246 185h1.4M259.5 192.5h1.4M266.5 190h1.4M271 132.5h1.4M266.5 177h1.4M261 129.5h1.4M243 211h1.4M267.5 174h1.4M266.5 163h1.4M263 186h1.4M262.5 182.5h1.4M255.5 148.5h1.4M250 205.5h1.4M265.5 167.5h1.4M267.5 137h1.4M244.5 201h1.4M264 203.5h1.4M257.5 198h1.4M263.5 183.5h1.4M257.5 154.5h1.4M265.5 191.5h1.4M265 210h1.4M263.5 189h1.4M241.5 205h1.4M263 157h1.4M255.5 193h1.4M244 191.5h1.4M262 142.5h1.4M241.5 139.5h1.4M263.5 158h1.4M271.5 174h1.4M250 181.5h1.4M264 168h1.4M259.5 171h1.4M261.5 170.5h1.4M242 174.5h1.4M261 184.5h1.4M256.5 182.5h1.4M262 171.5h1.4M255 178h1.4M265.5 163.5h1.4M257.5 189h1.4M261.5 162.5h1.4M268.5 206h1.4M257 172h1.4M264.5 178h1.4M257.5 157h1.4M260 165.5h1.4M250 176h1.4M262.5 173h1.4M267 160h1.4M254.5 149h1.4M263 173.5h1.4M259 175.5h1.4M244.5 184h1.4M258.5 198h1.4M268 166h1.4M250.5 132h1.4M238 169.5h1.4M257 135h1.4M249 146.5h1.4M273.5 193.5h1.4M254.5 184h1.4M255 159.5h1.4M249 159.5h1.4M257.5 171h1.4M249.5 137h1.4M246.5 182.5h1.4M254.5 165.5h1.4M247.5 210h1.4M268 151h1.4M244 193h1.4M254.5 158.5h1.4M248.5 193.5h1.4M242 152.5h1.4M271 187.5h1.4M235 163.5h1.4M269 156h1.4M241.5 169.5h1.4M256 182.5h1.4M277 181h1.4M234.5 205h1.4M242 189.5h1.4M268 119h1.4M257 164.5h1.4M250 132h1.4M255 165h1.4M246 185.5h1.4M256.5 145.5h1.4M269.5 148.5h1.4M251.5 175.5h1.4M256.5 167h1.4M266.5 205h1.4M274 179h1.4M249.5 183.5h1.4M258 208.5h1.4M249.5 162.5h1.4M249 172.5h1.4M251.5 152.5h1.4M249 178h1.4M238.5 194h1.4M236 200.5h1.4M248 172h1.4M256.5 158h1.4M267 157h1.4M250 144h1.4M253.5 175h1.4M261.5 200.5h1.4M262.5 124h1.4M254 128h1.4M254.5 201.5h1.4M273 140h1.4M252 179.5h1.4M250.5 147h1.4M239.5 188.5h1.4M259.5 188.5h1.4M252.5 176h1.4M273.5 189.5h1.4M252 174h1.4M263 184.5h1.4M264 210h1.4M271 195.5h1.4M242.5 159.5h1.4M270 156.5h1.4M255.5 168h1.4M254 168h1.4M252 174.5h1.4M251.5 160.5h1.4M252 186h1.4M233 173.5h1.4M260 180.5h1.4M255.5 173h1.4M246 185.5h1.4M254.5 148.5h1.4M277 205h1.4M259 180h1.4M251.5 182h1.4M271.5 185.5h1.4M247.5 195h1.4M253.5 188h1.4M250 178h1.4M253 169h1.4M262 139.5h1.4M260.5 177.5h1.4M248 166.5h1.4M254 166.5h1.4M256 222h1.4M251 135h1.4M255 174h1.4M248 198h1.4M248 192.5h1.4M255.5 198.5h1.4M245.5 147h1.4M259 153.5h1.4M253.5 185.5h1.4M246.5 167h1.4M249.5 208h1.4M250.5 178h1.4M253.5 177h1.4M256 182h1.4M253 167.5h1.4M247 175.5h1.4M269 159.5h1.4M263.5 172.5h1.4M256 163h1.4M264 178.5h1.4M258 144h1.4M252.5 142.5h1.4M256 182.5h1.4M280.5 178h1.4M264.5 153.5h1.4M265 168.5h1.4M251.5 151.5h1.4M261 215h1.4M276.5 141h1.4M259 208.5h1.4M265.5 156.5h1.4M267 182h1.4M261 168h1.4M270 165.5h1.4M257.5 192.5h1.4M260 190h1.4M249 167.5h1.4M280 154.5h1.4M258 216h1.4M256 202h1.4M268.5 176h1.4M250.5 167h1.4M255 179.5h1.4M247.5 175h1.4M255.5 198h1.4M251.5 153.5h1.4M260 173.5h1.4M254 157h1.4M249.5 200h1.4M252.5 210.5h1.4M254 171.5h1.4M250 184.5h1.4M264 202h1.4M261.5 167h1.4M256.5 154h1.4M244 194.5h1.4M260 183.5h1.4M243 169h1.4M257 203.5h1.4M255.5 178h1.4M249.5 137h1.4M247 180.5h1.4M248.5 172h1.4M274.5 212h1.4M252.5 173h1.4M253 169h1.4M264 182.5h1.4M259 178.5h1.4M265 144.5h1.4M243.5 176h1.4M245 166.5h1.4M286.5 202h1.4M254.5 222.5h1.4M252.5 150.5h1.4M256.5 153.5h1.4M264.5 156h1.4M244 160h1.4M257.5 159h1.4M255 174.5h1.4M261.5 195.5h1.4M256.5 146.5h1.4M250 142h1.4M247 135.5h1.4M232 196h1.4M264.5 200.5h1.4M241 142h1.4M251 140h1.4M271 176h1.4M251 196h1.4M261 194h1.4M253 177.5h1.4M261.5 187.5h1.4M255.5 180h1.4M250.5 162h1.4M268 212.5h1.4M252.5 173.5h1.4M242.5 150.5h1.4M252 164h1.4M260 142h1.4M244.5 174h1.4M262.5 196h1.4M262.5 147.5h1.4M275 196.5h1.4M249 216.5h1.4M261.5 181h1.4M239.5 149.5h1.4M251 156h1.4M256 166.5h1.4M259 147h1.4M254.5 148h1.4M254 168h1.4M249.5 169.5h1.4M251 186h1.4M258 149h1.4M260.5 212h1.4M261 195h1.4M264.5 191.5h1.4M266 160h1.4M238 209h1.4M250 166.5h1.4M253.5 210.5h1.4M249 195.5h1.4M265 155h1.4M262 164h1.4M254 212h1.4M256 194h1.4M267 170.5h1.4M252 177.5h1.4M252 177.5h1.4M263.5 157.5h1.4M259.5 169.5h1.4M268.5 160h1.4M258.5 164.5h1.4M262 183h1.4M250 154h1.4M246 188.5h1.4M255 175.5h1.4M230 189h1.4M259 191.5h1.4M264 199h1.4M256 186.5h1.4M253 188h1.4M265.5 170h1.4M254.5 185h1.4M264.5 155h1.4M275.5 168.5h1.4M262 189h1.4M264 172.5h1.4M259.5 182.5h1.4M257.5 152h1.4M257.5 201.5h1.4M255.5 161.5h1.4M265 181.5h1.4M240 173h1.4M252.5 192.5h1.4M261 165.5h1.4M247 153h1.4M254 134.5h1.4M248.5 167h1.4M259 149h1.4M263 184.5h1.4M268.5 203h1.4M260 127.5h1.4M248.5 147h1.4M257.5 180h1.4M260.5 199h1.4M268.5 179.5h1.4M235 180h1.4M258.5 184h1.4M238 185.5h1.4M262 207h1.4M259 186h1.4M259.5 148h1.4M263.5 163.5h1.4M258.5 178h1.4M249 157h1.4M258.5 168h1.4M266.5 162.5h1.4M254 159h1.4M255.5 187.5h1.4M243.5 165.5h1.4M266 151h1.4M250.5 158.5h1.4M248 174h1.4M251 217h1.4M247 179h1.4M252.5 204h1.4M267 183.5h1.4M262.5 129h1.4M268.5 181h1.4M269 156h1.4M246.5 145.5h1.4M259.5 151h1.4M269 210.5h1.4M276.5 141h1.4M242 160.5h1.4M241.5 197.5h1.4M259.5 187h1.4M252 138h1.4M246 171h1.4M258.5 163h1.4M247.5 169.5h1.4M234 189h1.4M255 161.5h1.4M256 167h1.4M261 203.5h1.4M264 135.5h1.4M256.5 165.5h1.4M253 183h1.4M249 147.5h1.4M239.5 160.5h1.4M251 146.5h1.4M264.5 176.5h1.4M261 160.5h1.4M274 189.5h1.4M253.5 194.5h1.4M238.5 174.5h1.4M263 165.5h1.4M264.5 179h1.4M244 174.5h1.4M240 148h1.4M256.5 195.5h1.4M261.5 178h1.4M244.5 189.5h1.4M252 145h1.4M247.5 191.5h1.4M244 217h1.4M242.5 186h1.4M256.5 143.5h1.4M251.5 174h1.4M248.5 172h1.4M230.5 178h1.4M271.5 168.5h1.4M246 183.5h1.4M253.5 163.5h1.4M244.5 178h1.4M258.5 159h1.4M241 175.5h1.4M256 194h1.4M253 163h1.4M263.5 187h1.4M244.5 155h1.4M249 165.5h1.4M252.5 168.5h1.4M274.5 199h1.4M241 157.5h1.4M257.5 198.5h1.4M249 143h1.4M258 170h1.4M261 192h1.4M256 187.5h1.4M257.5 152.5h1.4M257.5 148h1.4M249.5 191.5h1.4M253 147h1.4M239.5 185.5h1.4M251.5 162.5h1.4M247.5 173h1.4M252.5 221h1.4M262 205.5h1.4M258.5 190.5h1.4M259.5 144.5h1.4M265 180h1.4M232.5 174.5h1.4M259 171h1.4M254.5 201h1.4M254 137.5h1.4M242.5 180h1.4M260 176h1.4M265.5 157.5h1.4M264.5 209h1.4M254 147h1.4M261 174h1.4M263.5 175h1.4M272 128h1.4M266.5 143.5h1.4M256 153h1.4M255.5 189.5h1.4M256.5 193h1.4M257 185.5h1.4M250 178h1.4M262 127.5h1.4M248.5 177.5h1.4M247.5 162.5h1.4M258 197.5h1.4M249.5 201h1.4M252.5 219.5h1.4M235.5 188h1.4M262.5 190h1.4M255 151.5h1.4M253.5 175h1.4M259 147.5h1.4M257 191.5h1.4M248.5 148.5h1.4M273.5 168.5h1.4M250.5 156h1.4M264 163.5h1.4M272 182.5h1.4M249 161.5h1.4M255.5 177.5h1.4M247 152.5h1.4M264.5 202h1.4M251.5 159.5h1.4M244.5 194h1.4M267 217.5h1.4M263.5 122.5h1.4M246.5 152.5h1.4M266 169h1.4M256.5 197.5h1.4M280 163h1.4M271 181h1.4M249.5 158h1.4M252.5 184.5h1.4M246.5 148h1.4M256 190.5h1.4M255.5 111h1.4M261.5 133.5h1.4M255.5 211h1.4M241 176.5h1.4M247 154.5h1.4M268 219h1.4M265.5 195h1.4M253.5 196.5h1.4M253.5 164h1.4M253 186h1.4M255 183.5h1.4M239 138.5h1.4M263 185.5h1.4M248.5 169h1.4M256 200h1.4M231 200h1.4M257 159.5h1.4M267.5 160.5h1.4M234 177h1.4M269 186.5h1.4M259 164.5h1.4M248 170.5h1.4M240 185.5h1.4M265.5 182h1.4M257 197.5h1.4M260.5 178h1.4M252.5 154.5h1.4M247.5 136h1.4M263 190h1.4M246 166h1.4M263 165.5h1.4M239 167h1.4M246 140h1.4M241 164.5h1.4M267 118.5h1.4M238.5 164.5h1.4M244 154h1.4M261 211.5h1.4M257 182.5h1.4M275.5 168.5h1.4M272 176.5h1.4M260.5 188h1.4M261.5 157h1.4M237.5 168h1.4M246.5 165.5h1.4M251.5 225h1.4M253 174.5h1.4M242 131.5h1.4M246 189.5h1.4M247 227h1.4M265 153h1.4M259 246h1.4M251.5 171.5h1.4M252 194h1.4M257.5 161h1.4M248.5 167h1.4M252.5 147h1.4M238.5 150.5h1.4M261 127.5h1.4M264 197h1.4M258 148.5h1.4M259.5 180.5h1.4M258 180h1.4M274 159h1.4M256.5 174h1.4M242.5 171h1.4M245 162.5h1.4M261.5 174h1.4M265 174h1.4M262 151.5h1.4M262.5 145.5h1.4M256.5 155h1.4M241 175.5h1.4M248 202h1.4M238 204h1.4M251 179.5h1.4M242 193h1.4M255.5 175.5h1.4M253 196h1.4M236.5 175.5h1.4M261.5 181h1.4M262 166.5h1.4M241.5 172.5h1.4M256 213h1.4M261.5 147.5h1.4M252 173h1.4M263 160h1.4M256.5 193h1.4M265 211h1.4M256.5 166h1.4M253 114h1.4M259.5 185.5h1.4M262 185.5h1.4M257 137h1.4M250.5 167.5h1.4M247.5 171.5h1.4M251 123.5h1.4M249.5 187h1.4M256.5 182h1.4M256.5 177.5h1.4M254 150h1.4M254.5 157.5h1.4M256.5 159h1.4M269.5 183h1.4M266 151.5h1.4M249 203.5h1.4M258.5 180.5h1.4M251.5 126.5h1.4M254 208.5h1.4M252.5 176h1.4M249 161h1.4M242 175h1.4M231.5 134h1.4M256.5 176.5h1.4M266 120.5h1.4M246 151h1.4M259.5 201.5h1.4M251 199.5h1.4M257.5 165.5h1.4M247 152h1.4M252.5 192.5h1.4M253.5 171.5h1.4M232 177h1.4M256.5 186h1.4M253.5 149.5h1.4M231 189.5h1.4M261 127.5h1.4M254.5 203.5h1.4M256.5 139h1.4M258 159h1.4M250.5 158h1.4M244.5 188h1.4M250.5 188.5h1.4M250.5 180h1.4M275.5 184h1.4M272 182.5h1.4M250 171h1.4M250.5 131.5h1.4M257.5 123h1.4M260 123.5h1.4M248 171.5h1.4M245 167.5h1.4M273 169.5h1.4M264.5 177h1.4M240 167.5h1.4M238 151h1.4M246.5 140h1.4M256.5 132h1.4M259.5 198.5h1.4M251.5 191.5h1.4M239 143.5h1.4M256.5 166.5h1.4M260.5 181.5h1.4M254.5 206.5h1.4M250 159.5h1.4M260 176h1.4M254 197h1.4M244 135h1.4M255.5 156.5h1.4M242 171.5h1.4M263.5 157h1.4M259 217.5h1.4M245 191h1.4M256.5 176.5h1.4M266.5 151.5h1.4M234 190.5h1.4M253 185.5h1.4M270 161h1.4M239.5 163h1.4M253 141h1.4M241 170.5h1.4M254 190.5h1.4M231.5 193.5h1.4M239 184.5h1.4M249.5 190h1.4M256 159.5h1.4M258 162h1.4M258.5 198h1.4M265.5 182h1.4M261 155h1.4M261.5 183h1.4M245 190h1.4M253 187h1.4M285 174.5h1.4M276 161h1.4M262.5 180.5h1.4M261.5 208.5h1.4M264 175h1.4M250.5 158h1.4M273.5 179.5h1.4M251 145.5h1.4M253.5 177h1.4M275.5 165.5h1.4M234.5 192.5h1.4M258 174h1.4M238 194.5h1.4M248 221h1.4M253.5 167.5h1.4M251 154h1.4M256 182h1.4M247 170h1.4M253.5 175h1.4M243 159h1.4M251 184h1.4M241 173.5h1.4M261 126h1.4M242 167h1.4M261 179h1.4M250.5 197h1.4M251.5 159.5h1.4M266 155h1.4M255.5 196.5h1.4M236 159h1.4M259.5 174h1.4M226.5 182h1.4M257 187.5h1.4M250.5 172h1.4M241 148h1.4M255.5 193.5h1.4M251.5 162.5h1.4M274 161h1.4M250.5 214.5h1.4M273.5 190.5h1.4M268 149.5h1.4M248.5 161.5h1.4M246.5 166.5h1.4M267.5 156h1.4M253 131h1.4M256 189h1.4M252 188.5h1.4M243 177h1.4M251 163.5h1.4M245 176.5h1.4M239.5 185.5h1.4M251.5 149.5h1.4M272 165h1.4M270 160h1.4M254 186.5h1.4M256 177.5h1.4M259.5 144.5h1.4M267.5 159h1.4M257.5 209.5h1.4M250 151h1.4M250.5 175h1.4M265.5 158.5h1.4M280 198.5h1.4M248.5 170.5h1.4M234.5 162.5h1.4M262.5 147h1.4M254 166.5h1.4M256 189.5h1.4M266.5 186h1.4M255 143.5h1.4M241.5 205h1.4M235.5 166.5h1.4M254 149.5h1.4M243 174.5h1.4M257.5 158.5h1.4M242 159.5h1.4M251 158.5h1.4M240 170h1.4M251 161h1.4M250 135.5h1.4M260.5 183h1.4M267.5 160.5h1.4M252.5 197h1.4M246 183h1.4M273.5 185h1.4M258 175.5h1.4M260.5 199h1.4M260.5 165h1.4M268.5 150.5h1.4M264.5 179h1.4M261 114h1.4M262 164h1.4M246 176.5h1.4M248.5 163h1.4M253.5 198.5h1.4M255.5 186.5h1.4M254.5 174h1.4M257.5 163h1.4M255 195h1.4M250.5 157.5h1.4M238.5 163h1.4M262.5 187.5h1.4M260.5 184.5h1.4M246 215h1.4M259.5 167h1.4M258.5 132h1.4M255.5 185.5h1.4M236.5 198.5h1.4M243 168h1.4M248.5 204.5h1.4M270.5 209.5h1.4M246 157.5h1.4M251 161.5h1.4M243.5 145h1.4M249.5 183h1.4M258 187h1.4M234.5 184.5h1.4M227 145.5h1.4M261 155.5h1.4M255 141.5h1.4M248.5 137.5h1.4M264 143h1.4M264 138h1.4M234 167.5h1.4M253 180.5h1.4M265.5 185h1.4M248 171h1.4M251.5 157.5h1.4M264 171.5h1.4M252 183.5h1.4M243 165.5h1.4M248 172.5h1.4M241.5 165h1.4M260 160.5h1.4M237.5 172.5h1.4M264.5 148h1.4M238.5 194h1.4M255 138.5h1.4M240 181.5h1.4M251.5 143h1.4M264.5 203.5h1.4M265.5 190h1.4M267.5 154.5h1.4M253.5 162h1.4M255.5 147.5h1.4M257 170.5h1.4M260.5 180h1.4M250.5 225.5h1.4M265.5 142.5h1.4M257.5 197.5h1.4M265.5 159h1.4M259 177.5h1.4M261 190h1.4M247.5 183h1.4M250.5 180.5h1.4M242 167.5h1.4M251.5 171.5h1.4M253 174.5h1.4M262.5 197h1.4M242 140.5h1.4M286 161h1.4M253.5 145h1.4M267 151h1.4M264.5 154.5h1.4M230 194.5h1.4M252 216.5h1.4M269 200h1.4M231 146.5h1.4M262 173h1.4M245.5 147.5h1.4M250 181h1.4M256.5 198.5h1.4M236.5 184h1.4M256.5 190h1.4M248 168.5h1.4M247 130h1.4M261.5 129.5h1.4M289 169.5h1.4M258 183.5h1.4M260 198.5h1.4M254 164h1.4M247.5 173h1.4M257 177h1.4M269.5 194h1.4M256.5 170h1.4M263.5 148.5h1.4M252.5 194.5h1.4M279 180h1.4M238.5 179.5h1.4M260.5 144.5h1.4M260 171.5h1.4M257 135.5h1.4M243.5 129h1.4M243.5 166.5h1.4M252 162.5h1.4M255.5 183.5h1.4M242.5 202h1.4M244 171h1.4M260 209h1.4M264.5 159h1.4M249 187.5h1.4M247.5 145h1.4M247.5 174h1.4M279 165h1.4M259.5 167h1.4M254 184h1.4M264.5 132h1.4M277 174h1.4M266 154.5h1.4M240.5 174h1.4M253.5 180h1.4M250.5 163.5h1.4M251 163.5h1.4M242.5 147h1.4M250.5 183h1.4M244 157.5h1.4M258 181h1.4M255 141.5h1.4M240.5 200.5h1.4M237.5 150h1.4M249.5 196h1.4M261 162h1.4M259.5 183h1.4M254 168.5h1.4M222 186h1.4M249.5 171.5h1.4M247 198h1.4M251 185.5h1.4M242.5 186h1.4M250 206.5h1.4M248 157h1.4M281 199h1.4M261.5 173h1.4M252.5 140.5h1.4M254 181.5h1.4M253 167h1.4M256.5 207h1.4M250.5 161h1.4M254 172.5h1.4M264.5 176.5h1.4M262.5 131.5h1.4M257.5 182h1.4M267.5 150.5h1.4M256.5 201h1.4M245 206.5h1.4M237 171.5h1.4M247.5 138h1.4M254 175.5h1.4M258.5 175h1.4M265 186.5h1.4M249 165.5h1.4M246.5 146.5h1.4M262 168.5h1.4M266 152h1.4M249.5 209h1.4M257.5 156.5h1.4M268 158h1.4M257.5 170.5h1.4M254 145.5h1.4M234 162h1.4M267.5 168.5h1.4M260.5 161h1.4M255.5 166h1.4M250 197.5h1.4M242 180.5h1.4M253.5 143.5h1.4M253.5 162.5h1.4M265 187h1.4M242.5 158h1.4M268.5 173h1.4M255 171h1.4M266 182.5h1.4M245 167.5h1.4M258 168.5h1.4M266.5 153.5h1.4M255.5 179h1.4M240 152h1.4M251 208h1.4M259.5 171h1.4M240.5 167h1.4M240 188h1.4M256.5 169.5h1.4M245 173.5h1.4M261 170.5h1.4M243 156.5h1.4M236.5 152h1.4M247 157h1.4M269 195.5h1.4M246 158.5h1.4M254.5 163h1.4M257 162h1.4M245 186h1.4M265 213h1.4M256 152h1.4M259 183h1.4M238 174h1.4M237 165h1.4M227.5 182h1.4M252.5 145h1.4M252 189h1.4M261.5 176h1.4M269 150.5h1.4M252 205h1.4M252 189.5h1.4M259 196h1.4M269.5 141h1.4M246.5 166h1.4M260.5 160.5h1.4M252 184.5h1.4M251 200h1.4M262.5 131.5h1.4M246.5 172h1.4M244 169h1.4M261 192.5h1.4M254 170.5h1.4M252 145h1.4M253 167.5h1.4M259.5 150h1.4M251 155h1.4M262 172.5h1.4M258.5 161.5h1.4M269 177.5h1.4M267 139.5h1.4M263 220h1.4M252.5 198h1.4M255.5 186.5h1.4M248.5 144.5h1.4M282.5 126.5h1.4M252.5 153.5h1.4M260 166.5h1.4M268 218.5h1.4M241 199h1.4M246.5 160.5h1.4M250.5 197h1.4M244.5 197h1.4M242 172h1.4M249.5 197h1.4M267 178.5h1.4M261.5 158h1.4M255 147h1.4M255 169h1.4M238 192.5h1.4M261.5 143h1.4M258.5 137.5h1.4M244 183h1.4M256.5 114.5h1.4M252.5 209.5h1.4M249.5 162.5h1.4M245 187h1.4M248 210.5h1.4M245 141h1.4M259 149.5h1.4M258 218.5h1.4M257.5 165.5h1.4M252.5 169h1.4M250.5 176.5h1.4M274.5 193.5h1.4M236 199.5h1.4M266 174h1.4M258 164.5h1.4M255 170.5h1.4M249.5 178h1.4M252.5 199h1.4M243 174.5h1.4M241 209.5h1.4M253.5 153.5h1.4M238.5 182.5h1.4M262.5 208.5h1.4M265.5 198.5h1.4M221 178.5h1.4M239.5 153h1.4M257 156.5h1.4M256.5 168h1.4M255.5 178h1.4M258.5 166.5h1.4M262 141h1.4M263 156h1.4M272 182.5h1.4M255 189h1.4M263 142h1.4M238.5 164h1.4M253 136.5h1.4M242.5 159.5h1.4M268 246h1.4M277.5 173h1.4M260 164.5h1.4M242 159h1.4M253.5 146h1.4M255 132.5h1.4M256.5 170.5h1.4M265 165.5h1.4M264 202.5h1.4M228.5 137h1.4M268 180.5h1.4M249.5 199.5h1.4M249 130.5h1.4M268.5 185.5h1.4M252 137.5h1.4M241 182.5h1.4M241.5 202.5h1.4M255 171.5h1.4M263.5 177.5h1.4M269.5 157h1.4M253 177.5h1.4M250 195h1.4M270.5 167.5h1.4M250 168.5h1.4M269 179.5h1.4M257 189h1.4M257 137h1.4M252.5 173h1.4M257.5 157h1.4M250 182h1.4M248 193h1.4M253 178h1.4M248 198.5h1.4M257.5 150.5h1.4M255.5 163h1.4M252 151h1.4M252.5 173h1.4M252.5 173.5h1.4M271.5 167.5h1.4M254.5 146h1.4M249 170h1.4M251.5 162.5h1.4M261 184h1.4M252.5 166h1.4M253 196h1.4M252 176.5h1.4M256 132.5h1.4M258.5 168h1.4M259 141.5h1.4M238.5 192h1.4M244 201.5h1.4M229 171h1.4M262.5 181h1.4M265.5 141h1.4M267.5 124.5h1.4M256 160h1.4M266 166h1.4M254 140h1.4M253.5 173.5h1.4M239.5 178h1.4M247 185h1.4M249 204h1.4M263.5 188.5h1.4M271 164h1.4M250 173.5h1.4M258 184h1.4M257.5 149.5h1.4M247 199.5h1.4M237.5 190.5h1.4M247 167h1.4M240.5 158h1.4M251.5 251.5h1.4M253 189h1.4M253 191.5h1.4M253 209.5h1.4M259.5 192h1.4M245.5 176h1.4M263 186.5h1.4M238 152.5h1.4M255 186.5h1.4M258.5 139.5h1.4M247 180.5h1.4M239 183.5h1.4M261 139h1.4M248 212h1.4M262 147.5h1.4M262 193.5h1.4M254.5 160.5h1.4M254.5 178h1.4M264 158h1.4M258 224h1.4M245.5 193.5h1.4M256 209.5h1.4M260 188h1.4M256.5 186.5h1.4M256.5 175h1.4M253 167h1.4M253.5 184.5h1.4M245.5 175h1.4M240.5 168.5h1.4M265.5 143h1.4M248.5 165.5h1.4M256.5 184.5h1.4M240 162h1.4M256 179h1.4M246.5 169h1.4M283.5 150.5h1.4M244.5 153h1.4M245 156.5h1.4M263.5 166h1.4M265.5 166.5h1.4M234 195.5h1.4M257 149h1.4M263 129h1.4M242.5 186.5h1.4M261 162.5h1.4M249.5 169.5h1.4M245 225.5h1.4M251 203h1.4M250 184.5h1.4M241 192h1.4M276.5 174.5h1.4M250 192h1.4M247 159h1.4M263 157h1.4M254 162h1.4M267.5 205.5h1.4M252 205h1.4M258 159.5h1.4M255.5 196.5h1.4M256 168.5h1.4M252.5 194.5h1.4M253.5 165.5h1.4M271 192h1.4M248 170h1.4M249 166h1.4M251 171.5h1.4M260 175.5h1.4M258.5 160h1.4M263.5 143.5h1.4M241.5 208h1.4M257 164h1.4M253 134h1.4M251.5 124.5h1.4M256 113h1.4M235.5 159.5h1.4M257 201h1.4M256 138h1.4M240.5 165.5h1.4M253.5 133.5h1.4M269.5 195.5h1.4M250.5 180h1.4M260.5 179h1.4M252.5 200.5h1.4M246.5 207h1.4M245.5 194h1.4M250.5 160h1.4M267 144.5h1.4M262.5 150.5h1.4M247.5 135.5h1.4M264 210.5h1.4M253.5 168.5h1.4M248 175h1.4M258.5 176.5h1.4M245.5 215h1.4M239.5 160.5h1.4M267 197h1.4M237 178.5h1.4M260 169h1.4M239.5 132h1.4M254 191.5h1.4M252.5 156.5h1.4M250.5 162.5h1.4M233.5 177h1.4M253.5 174.5h1.4M254 196h1.4M246 158h1.4M254 176h1.4M264 178h1.4M247.5 173h1.4M257 186.5h1.4M243.5 167h1.4M258 198h1.4M260.5 157.5h1.4M278.5 142h1.4M263.5 171.5h1.4M258.5 197.5h1.4M268 161.5h1.4M245 159h1.4M265 165h1.4M249.5 176h1.4M248.5 168.5h1.4M265 179h1.4M257 136h1.4M267.5 204h1.4M240.5 184.5h1.4M257 154h1.4M249.5 201.5h1.4M252 182h1.4M236 203.5h1.4M263.5 147.5h1.4M256.5 207.5h1.4M245 173.5h1.4M241.5 129h1.4M246 188.5h1.4M268 166h1.4M253.5 151h1.4M251.5 168h1.4M259.5 131.5h1.4M254.5 184.5h1.4M257 168h1.4M262 166.5h1.4M258 202h1.4M263 173h1.4M243 158.5h1.4M255.5 152.5h1.4M251 171h1.4M255.5 195h1.4M254.5 160h1.4M248.5 150.5h1.4M251.5 192h1.4M264 173.5h1.4M249.5 172h1.4M242.5 216.5h1.4M260.5 146.5h1.4M264 176.5h1.4M252 135h1.4M256 166h1.4M246.5 185h1.4M253 196h1.4M265.5 145.5h1.4M262.5 190h1.4M256 189h1.4M252 170h1.4M239 224.5h1.4M258 172.5h1.4M259 154h1.4M265 181.5h1.4M274 133h1.4M258.5 205.5h1.4M264 193h1.4M244 164h1.4M266.5 185.5h1.4M263 183.5h1.4M268 213h1.4M261.5 159.5h1.4M259 145h1.4M269 129.5h1.4M248.5 166h1.4M261 139h1.4M265 168.5h1.4M247.5 181h1.4M244 163h1.4M259 152.5h1.4M256 197.5h1.4M260.5 168h1.4M261 177.5h1.4M247.5 192.5h1.4M258 145h1.4M265.5 153h1.4M251.5 225h1.4M252 169h1.4M244 150.5h1.4M262.5 167h1.4M273.5 160h1.4M242 146.5h1.4M262 163.5h1.4M263.5 172h1.4M249.5 172h1.4M251.5 183.5h1.4M245 136h1.4M247.5 141h1.4M256.5 189h1.4M261 163h1.4M256 198h1.4M263 179h1.4M257 142.5h1.4M244 183.5h1.4M269 151h1.4M266.5 178h1.4M248 198.5h1.4M272 217h1.4" stroke="#f49696" stroke-width="1.35" fill="none"/>
<ellipse cx="289.8" cy="118.2" rx="15" ry="28.6" fill="none" stroke="#1b7d3e" stroke-width="1.9" stroke-dasharray="9.5 4.5"/>
<ellipse cx="315.9" cy="146.7" rx="10.4" ry="19.6" fill="none" stroke="#111" stroke-width="1.9" stroke-dasharray="8 4.2"/>
<ellipse cx="254.8" cy="170.8" rx="18.6" ry="33.7" fill="none" stroke="#d62a28" stroke-width="1.9" stroke-dasharray="11.5 5.6"/>
<line x1="208" y1="38" x2="208" y2="252.4" stroke="#111" stroke-width="2.2"/>
<line x1="206.9" y1="251.3" x2="421.2" y2="251.3" stroke="#111" stroke-width="2.2"/>
<text transform="translate(200.00,164.06) rotate(-90) scale(0.9849,1)" font-size="19.86" fill="#1c1c1c">PC2</text>
<text transform="translate(294.40,275.92) scale(1.0312,1)" font-size="18.17" fill="#1c1c1c">PC1</text>
<rect x="528.4" y="219.3" width="19.1" height="31.7" fill="#b3d3ec" stroke="#5f7588" stroke-width="0.8"/>
<rect x="547.5" y="35.7" width="19.1" height="215.3" fill="#b3d3ec" stroke="#5f7588" stroke-width="0.8"/>
<rect x="566.7" y="171" width="19.2" height="80" fill="#b3d3ec" stroke="#5f7588" stroke-width="0.8"/>
<rect x="585.9" y="240.3" width="19.1" height="10.7" fill="#b3d3ec" stroke="#5f7588" stroke-width="0.8"/>
<rect x="605" y="242.8" width="19.1" height="8.2" fill="#b3d3ec" stroke="#5f7588" stroke-width="0.8"/>
<rect x="624.1" y="245.5" width="19.1" height="5.5" fill="#b3d3ec" stroke="#5f7588" stroke-width="0.8"/>
<line x1="491.4" y1="39" x2="491.4" y2="252.4" stroke="#111" stroke-width="1.9"/>
<line x1="490.5" y1="251.4" x2="662.5" y2="251.4" stroke="#111" stroke-width="2.0"/>
<line x1="491.4" y1="250.5" x2="496.4" y2="250.5" stroke="#111" stroke-width="1.7"/>
<line x1="491.4" y1="215.4" x2="496.4" y2="215.4" stroke="#111" stroke-width="1.7"/>
<line x1="491.4" y1="180.3" x2="496.4" y2="180.3" stroke="#111" stroke-width="1.7"/>
<line x1="491.4" y1="145.2" x2="496.4" y2="145.2" stroke="#111" stroke-width="1.7"/>
<line x1="491.4" y1="110.1" x2="496.4" y2="110.1" stroke="#111" stroke-width="1.7"/>
<line x1="491.4" y1="75" x2="496.4" y2="75" stroke="#111" stroke-width="1.7"/>
<line x1="491.4" y1="39.9" x2="496.4" y2="39.9" stroke="#111" stroke-width="1.7"/>
<line x1="547.8" y1="251.4" x2="547.8" y2="246.4" stroke="#111" stroke-width="1.7"/>
<line x1="604.6" y1="251.4" x2="604.6" y2="246.4" stroke="#111" stroke-width="1.7"/>
<line x1="661.6" y1="251.4" x2="661.6" y2="246.4" stroke="#111" stroke-width="1.7"/>
<text transform="translate(457.50,45.32) scale(1.0881,1)" font-size="18.45" fill="#1c1c1c">0.6</text>
<text transform="translate(457.50,115.52) scale(1.0799,1)" font-size="18.45" fill="#1c1c1c">0.4</text>
<text transform="translate(457.49,185.72) scale(1.0965,1)" font-size="18.45" fill="#1c1c1c">0.2</text>
<text transform="translate(473.63,258.51) scale(1.0309,1)" font-size="18.59" fill="#1c1c1c">0</text>
<text transform="translate(449.10,185.60) rotate(-90)" font-size="17.52" letter-spacing="-0.056" fill="#1c1c1c">Proportion</text>
<text transform="translate(483.42,272.00) scale(1.0057,1)" font-size="18.29" fill="#1c1c1c">1</text>
<text transform="translate(537.69,272.12) scale(0.9485,1)" font-size="18.45" fill="#1c1c1c">10</text>
<text transform="translate(588.93,272.12) scale(1.0596,1)" font-size="18.45" fill="#1c1c1c">100</text>
<text transform="translate(642.58,272.12) scale(0.9558,1)" font-size="18.45" fill="#1c1c1c">1000</text>
<text transform="translate(497.89,291.50)" font-size="18.99" letter-spacing="0.312" fill="#1c1c1c">Isolation distance</text>
<text transform="translate(401.82,23.37) scale(1.1815,1)" font-size="23.13" font-weight="bold" stroke-width="0.1" fill="#1a1a1a">b</text>
<line x1="90.9" y1="355.5" x2="148.2" y2="355.5" stroke="#ececf0" stroke-width="0.7"/>
<line x1="90.9" y1="391.3" x2="148.2" y2="391.3" stroke="#ececf0" stroke-width="0.7"/>
<line x1="90.9" y1="427" x2="148.2" y2="427" stroke="#ececf0" stroke-width="0.7"/>
<line x1="90.9" y1="462.8" x2="148.2" y2="462.8" stroke="#ececf0" stroke-width="0.7"/>
<line x1="90.9" y1="498.6" x2="148.2" y2="498.6" stroke="#ececf0" stroke-width="0.7"/>
<line x1="150.6" y1="373.6" x2="209.5" y2="373.6" stroke="#ececf0" stroke-width="0.7"/>
<line x1="150.6" y1="409.6" x2="209.5" y2="409.6" stroke="#ececf0" stroke-width="0.7"/>
<line x1="150.6" y1="445.3" x2="209.5" y2="445.3" stroke="#ececf0" stroke-width="0.7"/>
<line x1="150.6" y1="481" x2="209.5" y2="481" stroke="#ececf0" stroke-width="0.7"/>
<line x1="211.9" y1="355.5" x2="270.8" y2="355.5" stroke="#ececf0" stroke-width="0.7"/>
<line x1="211.9" y1="391.3" x2="270.8" y2="391.3" stroke="#ececf0" stroke-width="0.7"/>
<line x1="211.9" y1="427" x2="270.8" y2="427" stroke="#ececf0" stroke-width="0.7"/>
<line x1="211.9" y1="462.8" x2="270.8" y2="462.8" stroke="#ececf0" stroke-width="0.7"/>
<line x1="211.9" y1="498.6" x2="270.8" y2="498.6" stroke="#ececf0" stroke-width="0.7"/>
<line x1="273.2" y1="373.6" x2="331" y2="373.6" stroke="#ececf0" stroke-width="0.7"/>
<line x1="273.2" y1="409.6" x2="331" y2="409.6" stroke="#ececf0" stroke-width="0.7"/>
<line x1="273.2" y1="445.3" x2="331" y2="445.3" stroke="#ececf0" stroke-width="0.7"/>
<line x1="273.2" y1="481" x2="331" y2="481" stroke="#ececf0" stroke-width="0.7"/>
<line x1="149.4" y1="345.5" x2="149.4" y2="510.6" stroke="#f6dede" stroke-width="0.7"/>
<line x1="210.7" y1="355.6" x2="210.7" y2="499" stroke="#e6e6ea" stroke-width="0.7"/>
<line x1="272" y1="345.5" x2="272" y2="510.6" stroke="#e6e6ea" stroke-width="0.7"/>
<path d="M90.9 366.2L91.6 365.9L92.3 365.3L93 365.7L93.7 365.2L94.3 364.8L95 366.3L95.7 366.6L96.4 366.2L97.1 365.7L97.8 365.1L98.5 365.9L99.2 366.4L99.8 366.5L100.5 365.9L101.2 364.5L101.9 364.9L102.6 366.5L103.3 365.1L104 366.2L104.7 366.3L105.3 365.5L106 365.8L106.7 365.7L107.4 366L108.1 366.1L108.8 365.3L109.5 365.3L110.2 366.2L110.8 365.5L111.5 365L112.2 364.3L112.9 364.4L113.6 364.3L114.3 365.4L115 365.6L115.7 364.8L116.3 365L117 365.1L117.7 366.7L118.4 366L119.1 366.1L119.8 365.9L120.5 366.3L121.2 365.6L121.8 365.5L122.5 366.3L123.2 365.6L123.9 364.3L124.6 366.4L125.3 366.1L126 365L126.7 364.7L127.3 364.9L128 365.3L128.7 366.3L129.4 366.2L130.1 365.4L130.8 365.1L131.5 364.2L132.2 365.1L132.8 366L133.5 366.3L134.2 366L134.9 365L135.6 365.6L136.3 366.5L137 365.8L137.7 366.4L138.3 366.5L139 366.7L139.7 366.2L140.4 364.9L141.1 365.8L141.8 365.7L142.5 366.6L143.2 365.9L143.8 366.3L144.5 366L145.2 365.5L145.9 366.2L146.6 365.6L147.3 365.6L148 366.2L148 380.7L147.3 381.3L146.6 380.8L145.9 381L145.2 382.1L144.5 381.4L143.8 381.2L143.2 381.6L142.5 380.8L141.8 382L141.1 380.7L140.4 382.3L139.7 381.2L139 381.1L138.3 380.9L137.7 380.9L137 381.4L136.3 381.6L135.6 381.7L134.9 381.2L134.2 381.1L133.5 381.8L132.8 381.1L132.2 381.1L131.5 381L130.8 382.7L130.1 383.6L129.4 382L128.7 381L128 380.2L127.3 380.3L126.7 380.8L126 382.3L125.3 381.7L124.6 381.1L123.9 380.9L123.2 381.3L122.5 380.7L121.8 380.8L121.2 381L120.5 381.4L119.8 381.3L119.1 382.6L118.4 382.5L117.7 382.7L117 385.1L116.3 384.5L115.7 383.8L115 382.2L114.3 383.4L113.6 382.4L112.9 382.1L112.2 380.6L111.5 380.3L110.8 381.3L110.2 380.8L109.5 380.6L108.8 382.5L108.1 381.2L107.4 381.9L106.7 380.5L106 380.8L105.3 381.7L104.7 381.1L104 380.6L103.3 380.7L102.6 380.7L101.9 380.9L101.2 380.9L100.5 381L99.8 381.5L99.2 380.6L98.5 381.8L97.8 383.6L97.1 383.8L96.4 383.2L95.7 382.6L95 380.6L94.3 380.7L93.7 381.8L93 381.8L92.3 381.9L91.6 382.1L90.9 381.3ZM90.9 402.2L91.6 401.9L92.3 402.2L93 402.6L93.7 402.1L94.3 402.6L95 402.3L95.7 402.7L96.4 402.2L97.1 402.4L97.8 401.8L98.5 402.3L99.2 402.6L99.8 402.3L100.5 402.5L101.2 401.1L101.9 402.1L102.6 402.1L103.3 402.2L104 399.9L104.7 399.5L105.3 401.1L106 401.8L106.7 402.6L107.4 402.4L108.1 402.2L108.8 402.2L109.5 401.4L110.2 399.8L110.8 397.6L111.5 396.7L112.2 396.2L112.9 397.8L113.6 399L114.3 399.5L115 400L115.7 400.6L116.3 402.1L117 402.4L117.7 402L118.4 401.7L119.1 402.3L119.8 402.1L120.5 401.5L121.2 400.9L121.8 402L122.5 401.9L123.2 401L123.9 400.6L124.6 399.7L125.3 401.1L126 401.1L126.7 401.2L127.3 401.5L128 401.1L128.7 402.2L129.4 402L130.1 400.8L130.8 401.8L131.5 402.3L132.2 402.1L132.8 402.4L133.5 402L134.2 402L134.9 402L135.6 402.2L136.3 401.9L137 402.4L137.7 401.1L138.3 402.6L139 402.6L139.7 401.3L140.4 402.8L141.1 401.6L141.8 402.6L142.5 402.2L143.2 401.4L143.8 402.8L144.5 401.8L145.2 401.1L145.9 402.9L146.6 402.9L147.3 402.9L148 402.9L148 416.9L147.3 417L146.6 417.1L145.9 419L145.2 419.6L144.5 418.1L143.8 417.6L143.2 419.3L142.5 416.9L141.8 416.9L141.1 418.5L140.4 417.6L139.7 418.4L139 418.5L138.3 418.2L137.7 416.8L137 417.2L136.3 417.1L135.6 417.5L134.9 416.8L134.2 417.4L133.5 417.2L132.8 416.6L132.2 416.9L131.5 417.3L130.8 416.8L130.1 416.5L129.4 417L128.7 416.3L128 417.3L127.3 417.8L126.7 417L126 416.3L125.3 416.3L124.6 416.2L123.9 416.9L123.2 417.4L122.5 416.7L121.8 416.9L121.2 418.7L120.5 418.4L119.8 418.2L119.1 419.1L118.4 420.8L117.7 421.6L117 422.1L116.3 423.3L115.7 421.9L115 420.9L114.3 420.1L113.6 418L112.9 416.7L112.2 416.8L111.5 416.6L110.8 417.7L110.2 419.4L109.5 419.8L108.8 420.3L108.1 418.8L107.4 416.6L106.7 418.4L106 419.5L105.3 419.4L104.7 418.4L104 417.2L103.3 417L102.6 417.4L101.9 416.5L101.2 416.8L100.5 417.4L99.8 417.3L99.2 417.5L98.5 416.9L97.8 417.9L97.1 416.8L96.4 416.7L95.7 418.6L95 418.2L94.3 419.1L93.7 418.1L93 417.1L92.3 418L91.6 418.5L90.9 418.5ZM90.9 436.8L91.6 437L92.3 437.3L93 438.4L93.7 437.8L94.3 438.4L95 436.4L95.7 437.2L96.4 436.6L97.1 438L97.8 438L98.5 437.7L99.2 438.1L99.8 438.2L100.5 437.9L101.2 437.5L101.9 438.2L102.6 437.7L103.3 436.4L104 438.3L104.7 438.2L105.3 436.9L106 438L106.7 438L107.4 437.2L108.1 437.3L108.8 437.1L109.5 436.2L110.2 433.9L110.8 434.8L111.5 433.7L112.2 431.1L112.9 431.9L113.6 432.9L114.3 434L115 434.8L115.7 435.9L116.3 437.9L117 440.4L117.7 439.6L118.4 438.9L119.1 435.3L119.8 435.1L120.5 435.6L121.2 437.2L121.8 436.4L122.5 436L123.2 434.2L123.9 435.4L124.6 434.7L125.3 434.3L126 435L126.7 436.5L127.3 436L128 436.7L128.7 437.2L129.4 437.4L130.1 436.9L130.8 436.5L131.5 437.2L132.2 437.9L132.8 437.5L133.5 437.6L134.2 436.5L134.9 436.4L135.6 438.1L136.3 438.4L137 435.9L137.7 437L138.3 437.2L139 437.9L139.7 437.7L140.4 437.4L141.1 437.9L141.8 438.5L142.5 438.6L143.2 437.2L143.8 437.6L144.5 438.5L145.2 438.5L145.9 438.8L146.6 437.4L147.3 438.8L148 438.8L148 452.9L147.3 452.9L146.6 454.2L145.9 454.7L145.2 454.8L144.5 454.5L143.8 453.3L143.2 454.3L142.5 456.2L141.8 456.7L141.1 455.1L140.4 452.6L139.7 453.1L139 453.1L138.3 454.4L137.7 452.7L137 453.2L136.3 453.6L135.6 452.4L134.9 453.2L134.2 453.5L133.5 452.8L132.8 452.6L132.2 452.8L131.5 452L130.8 452.9L130.1 453.9L129.4 453.9L128.7 451.7L128 451.4L127.3 451.9L126.7 452.5L126 452.9L125.3 453.4L124.6 451.8L123.9 452.2L123.2 451.6L122.5 453.3L121.8 452.8L121.2 454.8L120.5 455.3L119.8 456.1L119.1 457.3L118.4 458.3L117.7 461.6L117 463.6L116.3 463.3L115.7 461.4L115 459.2L114.3 457.4L113.6 454.7L112.9 452.9L112.2 452.4L111.5 452.6L110.8 453.1L110.2 452.8L109.5 452.7L108.8 453.7L108.1 452.9L107.4 453.4L106.7 452.4L106 452.5L105.3 453.1L104.7 453.7L104 454.7L103.3 453.1L102.6 452.8L101.9 453.5L101.2 453.1L100.5 454.1L99.8 453.3L99.2 453.6L98.5 453.1L97.8 453.5L97.1 452.7L96.4 453.4L95.7 453.3L95 452.5L94.3 454.4L93.7 454.3L93 452.4L92.3 453.1L91.6 452.8L90.9 452.8ZM90.9 472.5L91.6 473.1L92.3 472.9L93 473L93.7 473.2L94.3 472.4L95 472.8L95.7 472.9L96.4 473.8L97.1 474.1L97.8 473.9L98.5 473.2L99.2 474L99.8 473.3L100.5 473.1L101.2 472.7L101.9 472L102.6 472.6L103.3 471.8L104 474L104.7 474L105.3 473.8L106 473.4L106.7 473.5L107.4 474L108.1 472.8L108.8 473.7L109.5 472.8L110.2 472.4L110.8 471.8L111.5 469.9L112.2 469.5L112.9 470L113.6 471.1L114.3 472.4L115 472.5L115.7 473.4L116.3 474.6L117 473.6L117.7 473.4L118.4 473.8L119.1 472.4L119.8 471.5L120.5 472.4L121.2 472.7L121.8 473L122.5 473.3L123.2 473.5L123.9 472L124.6 473.2L125.3 473.5L126 472.9L126.7 473.6L127.3 472.5L128 473.5L128.7 473.5L129.4 471.1L130.1 471.9L130.8 472.4L131.5 473.8L132.2 473.8L132.8 473.9L133.5 473.1L134.2 472.3L134.9 472L135.6 472.7L136.3 472.6L137 472.2L137.7 472.2L138.3 473.7L139 474L139.7 473.3L140.4 473.1L141.1 472.4L141.8 473.3L142.5 474.2L143.2 472.3L143.8 472.1L144.5 472.7L145.2 473.3L145.9 473.8L146.6 473.1L147.3 472.5L148 473.5L148 489.6L147.3 488.7L146.6 488.2L145.9 489.9L145.2 489.6L144.5 490.1L143.8 490.1L143.2 489.2L142.5 488.5L141.8 489.8L141.1 489.7L140.4 489.3L139.7 488.2L139 488.7L138.3 488.8L137.7 489.9L137 488L136.3 488.7L135.6 490L134.9 489.4L134.2 489.5L133.5 489L132.8 488.1L132.2 487.8L131.5 487.9L130.8 488L130.1 488.3L129.4 490.1L128.7 489.3L128 488.8L127.3 487.9L126.7 487.9L126 489.9L125.3 490.2L124.6 489L123.9 487.6L123.2 487.8L122.5 489.4L121.8 489.3L121.2 488.1L120.5 489.3L119.8 491.3L119.1 490L118.4 491.2L117.7 492.2L117 493.6L116.3 493.3L115.7 493.5L115 491.4L114.3 490.9L113.6 489.6L112.9 489.2L112.2 488.2L111.5 487.8L110.8 488.6L110.2 488.4L109.5 489L108.8 488.1L108.1 488.3L107.4 489.9L106.7 490.5L106 490.3L105.3 490.7L104.7 488.5L104 488.2L103.3 491L102.6 490.4L101.9 488.7L101.2 488.7L100.5 488.4L99.8 489.7L99.2 488.4L98.5 488.4L97.8 488.8L97.1 488.8L96.4 489.8L95.7 488.9L95 488.6L94.3 488.7L93.7 488.3L93 489L92.3 490L91.6 489.1L90.9 488.3ZM150.6 348.5L151.3 348.3L152 348.2L152.7 348.2L153.4 347.7L154.1 348.5L154.8 348.5L155.5 348.5L156.3 347.7L157 347.4L157.7 347.4L158.4 348.1L159.1 347.7L159.8 347L160.5 346.2L161.2 347L161.9 347.5L162.6 346.9L163.3 346.9L164 345.7L164.7 346.6L165.4 346.9L166.1 348.1L166.9 347.9L167.6 347.7L168.3 348.2L169 346.5L169.7 347.8L170.4 348.3L171.1 347.1L171.8 347.5L172.5 347.2L173.2 347.1L173.9 347.2L174.6 347.8L175.3 347.1L176 347.7L176.8 348.4L177.5 348.2L178.2 347.4L178.9 348.4L179.6 346.9L180.3 346.7L181 347.9L181.7 348L182.4 347.4L183.1 347.6L183.8 347.9L184.5 348.1L185.2 347L185.9 345.1L186.6 345.5L187.4 346.8L188.1 348.1L188.8 348.2L189.5 347.7L190.2 347.7L190.9 346.7L191.6 348.4L192.3 347.7L193 347.5L193.7 347.8L194.4 348.3L195.1 346.4L195.8 346.6L196.5 347.5L197.2 348.1L198 347.9L198.7 348.4L199.4 347.1L200.1 347.3L200.8 347.6L201.5 347.4L202.2 347.2L202.9 348.5L203.6 347.5L204.3 347.5L205 346.8L205.7 347.8L206.4 347.7L207.1 347.3L207.9 348.5L208.6 348.4L209.3 348.1L209.3 362.6L208.6 363.5L207.9 363.1L207.1 363.5L206.4 362.9L205.7 363.9L205 363L204.3 362.9L203.6 363.8L202.9 364.3L202.2 363.8L201.5 363.5L200.8 363.4L200.1 364.1L199.4 365.1L198.7 363.4L198 362.5L197.2 362.8L196.5 363.1L195.8 362.4L195.1 363.2L194.4 362.7L193.7 363.2L193 363.1L192.3 362.3L191.6 362.5L190.9 362.7L190.2 362.3L189.5 362.5L188.8 363.6L188.1 363.6L187.4 362.4L186.6 363L185.9 363.8L185.2 363.4L184.5 362.2L183.8 362.6L183.1 363.7L182.4 362.7L181.7 364.5L181 364.4L180.3 366.3L179.6 365.8L178.9 365.6L178.2 364.9L177.5 365.4L176.8 366.5L176 368.1L175.3 367.9L174.6 366.1L173.9 363.3L173.2 364L172.5 364.3L171.8 363.3L171.1 362.6L170.4 363.2L169.7 362.8L169 364.6L168.3 364.6L167.6 363.8L166.9 363L166.1 363.2L165.4 362.6L164.7 362.7L164 362.7L163.3 362.6L162.6 362.4L161.9 362.6L161.2 364.2L160.5 364.9L159.8 366L159.1 364.4L158.4 363.5L157.7 362.7L157 364L156.3 364.4L155.5 364.9L154.8 363.3L154.1 362.6L153.4 363.9L152.7 364.5L152 363.9L151.3 362.7L150.6 364.1ZM150.6 383.5L151.3 383.2L152 384L152.7 384.2L153.4 384.3L154.1 383.9L154.8 383.9L155.5 383.6L156.3 383.3L157 382.1L157.7 382.9L158.4 382.5L159.1 384.1L159.8 383.9L160.5 383.5L161.2 384.1L161.9 383.8L162.6 383.8L163.3 384.3L164 383.7L164.7 383.3L165.4 383.9L166.1 383.6L166.9 383L167.6 383.1L168.3 383.1L169 382.1L169.7 382L170.4 381.8L171.1 382.1L171.8 381.4L172.5 380.7L173.2 380.3L173.9 380.5L174.6 381.3L175.3 382.1L176 383.6L176.8 383L177.5 384.3L178.2 384.1L178.9 384.3L179.6 383.1L180.3 382.6L181 381.4L181.7 381.8L182.4 382.3L183.1 383.5L183.8 383.5L184.5 383.7L185.2 383.6L185.9 382L186.6 382.2L187.4 382.4L188.1 382.8L188.8 382.1L189.5 383.6L190.2 383.1L190.9 383.1L191.6 382.8L192.3 382.3L193 381.7L193.7 382L194.4 382.8L195.1 384.4L195.8 384.1L196.5 383.1L197.2 382.3L198 383.4L198.7 383.7L199.4 384.4L200.1 382.8L200.8 384L201.5 384.2L202.2 382.5L202.9 384.3L203.6 383.8L204.3 384L205 383.4L205.7 383.7L206.4 383L207.1 383.1L207.9 382.1L208.6 382.4L209.3 383.1L209.3 399.7L208.6 399L207.9 398.7L207.1 399.3L206.4 398.7L205.7 398.7L205 400.6L204.3 400.8L203.6 398.7L202.9 400L202.2 401.4L201.5 400L200.8 400.3L200.1 400.4L199.4 401.2L198.7 401.3L198 400.2L197.2 398.4L196.5 399L195.8 399.6L195.1 399.6L194.4 400.2L193.7 400.8L193 401.1L192.3 399.3L191.6 398.8L190.9 398.5L190.2 398.9L189.5 398.3L188.8 399.6L188.1 400.6L187.4 400.3L186.6 398.6L185.9 397.9L185.2 398.2L184.5 398.1L183.8 399.5L183.1 399.5L182.4 400L181.7 400.9L181 399.2L180.3 399.2L179.6 400.2L178.9 401.5L178.2 402.8L177.5 404.7L176.8 404.4L176 403.1L175.3 403L174.6 402.9L173.9 399.8L173.2 399.1L172.5 397.6L171.8 397.4L171.1 397.8L170.4 399L169.7 398.6L169 398.5L168.3 399.4L167.6 398.9L166.9 398.7L166.1 399.7L165.4 398.5L164.7 398.7L164 399.1L163.3 398.3L162.6 398.5L161.9 398.9L161.2 398.8L160.5 399.3L159.8 398.3L159.1 398.2L158.4 398.2L157.7 398.6L157 398.4L156.3 398.3L155.5 398.5L154.8 399.4L154.1 399L153.4 398.6L152.7 399.4L152 399.8L151.3 399.6L150.6 399.4ZM150.6 420L151.3 419.7L152 419.7L152.7 420.1L153.4 419.4L154.1 419.4L154.8 419.4L155.5 419.9L156.3 419.2L157 419L157.7 418L158.4 419.4L159.1 419.8L159.8 418.3L160.5 418.8L161.2 420.1L161.9 419.1L162.6 419.6L163.3 419.5L164 419.5L164.7 417.5L165.4 417.3L166.1 417.1L166.9 418.5L167.6 419.9L168.3 419.3L169 418.4L169.7 417.4L170.4 416.7L171.1 415.8L171.8 413.4L172.5 412.5L173.2 412.2L173.9 414L174.6 415L175.3 417.5L176 420.6L176.8 422.2L177.5 422.5L178.2 421.9L178.9 419.6L179.6 419.4L180.3 418.9L181 419.1L181.7 418.9L182.4 419.2L183.1 419L183.8 418.7L184.5 417.5L185.2 417.1L185.9 418.6L186.6 418.7L187.4 418.9L188.1 417.2L188.8 418.5L189.5 418.3L190.2 418.9L190.9 419.2L191.6 419.1L192.3 419.1L193 419.3L193.7 418.8L194.4 419.1L195.1 419.9L195.8 419.8L196.5 419.9L197.2 419.6L198 419.5L198.7 419.1L199.4 419.1L200.1 419.7L200.8 419.8L201.5 420L202.2 419.3L202.9 419.1L203.6 418.4L204.3 418L205 419.9L205.7 420.4L206.4 419.8L207.1 420.6L207.9 420.6L208.6 420.5L209.3 420.7L209.3 434.9L208.6 434.6L207.9 435L207.1 434.6L206.4 435L205.7 435.5L205 436.1L204.3 435.3L203.6 435.3L202.9 437L202.2 437.1L201.5 436.6L200.8 434.8L200.1 434.5L199.4 435L198.7 434.4L198 434.4L197.2 434.3L196.5 434.3L195.8 435.7L195.1 435.3L194.4 433.8L193.7 433.8L193 434L192.3 434.9L191.6 433.8L190.9 435.4L190.2 433.6L189.5 434L188.8 433.6L188.1 434.9L187.4 435.9L186.6 434.7L185.9 434.2L185.2 434.5L184.5 434.6L183.8 434.5L183.1 433.9L182.4 434.2L181.7 434.5L181 435.3L180.3 436.5L179.6 438.4L178.9 441.4L178.2 444.6L177.5 446.4L176.8 446.3L176 444.8L175.3 441.9L174.6 440L173.9 436.2L173.2 434.3L172.5 433L171.8 432.5L171.1 433.3L170.4 434L169.7 434.4L169 434.8L168.3 434.4L167.6 434L166.9 434.3L166.1 434.3L165.4 434.4L164.7 433.9L164 434.3L163.3 435.7L162.6 435.6L161.9 435.3L161.2 434.5L160.5 435.6L159.8 436.3L159.1 435.7L158.4 434.4L157.7 435.7L157 436.4L156.3 435.3L155.5 434.5L154.8 435.2L154.1 435.8L153.4 435.9L152.7 435.1L152 434.7L151.3 435.3L150.6 435.3ZM150.6 455.4L151.3 455L152 455.8L152.7 455.8L153.4 454.8L154.1 454.6L154.8 454.2L155.5 455L156.3 455.8L157 455.7L157.7 455.6L158.4 455.2L159.1 455L159.8 455.6L160.5 455.8L161.2 455.3L161.9 454L162.6 454.5L163.3 455.4L164 455.8L164.7 454.8L165.4 455.7L166.1 454.6L166.9 455.8L167.6 454.6L168.3 454.3L169 453.4L169.7 453L170.4 453.2L171.1 449.7L171.8 447.4L172.5 446.7L173.2 445.2L173.9 447.1L174.6 450.6L175.3 453.7L176 455.4L176.8 458.4L177.5 458.9L178.2 458.8L178.9 457L179.6 454.6L180.3 454.5L181 454.2L181.7 453.7L182.4 454.6L183.1 454.1L183.8 453.8L184.5 452.6L185.2 453.5L185.9 454L186.6 453.6L187.4 453.1L188.1 453.4L188.8 454.5L189.5 452.7L190.2 452.1L190.9 453L191.6 455L192.3 454L193 454.3L193.7 455.2L194.4 455.7L195.1 455.2L195.8 455.5L196.5 454.4L197.2 454.1L198 455.2L198.7 455L199.4 454.8L200.1 454.9L200.8 455.6L201.5 454.1L202.2 452.6L202.9 452.1L203.6 453.4L204.3 455L205 456.1L205.7 456.4L206.4 456.5L207.1 455.9L207.9 455.8L208.6 456.5L209.3 456.6L209.3 471.4L208.6 472.1L207.9 471.9L207.1 473.4L206.4 472.2L205.7 473L205 470.3L204.3 471.3L203.6 470.3L202.9 470.9L202.2 470.7L201.5 470.6L200.8 470.9L200.1 470.2L199.4 471.1L198.7 470.9L198 471.4L197.2 470.1L196.5 470.8L195.8 471.2L195.1 470.9L194.4 470.6L193.7 470.8L193 471.6L192.3 469.9L191.6 470.1L190.9 469.4L190.2 468.7L189.5 470.2L188.8 470.4L188.1 469.4L187.4 469.6L186.6 469.8L185.9 469.6L185.2 468.5L184.5 470.4L183.8 472.1L183.1 472.7L182.4 472.1L181.7 473.3L181 473L180.3 473.6L179.6 475.9L178.9 479.8L178.2 483.1L177.5 486.4L176.8 487.1L176 485.6L175.3 480.8L174.6 477L173.9 473.6L173.2 471.6L172.5 468.2L171.8 468.2L171.1 469.8L170.4 471.4L169.7 471.2L169 470.1L168.3 470.8L167.6 469.9L166.9 471.7L166.1 473.2L165.4 472.1L164.7 470.7L164 469.9L163.3 470.7L162.6 470.5L161.9 470.1L161.2 470.2L160.5 470.5L159.8 470.4L159.1 471.5L158.4 470.1L157.7 469.8L157 469.8L156.3 470.3L155.5 472.5L154.8 471.6L154.1 471.9L153.4 470.5L152.7 470.6L152 470.7L151.3 471.7L150.6 470.3ZM150.6 490.8L151.3 491.2L152 491.3L152.7 491.4L153.4 491.6L154.1 491.6L154.8 491.2L155.5 490.3L156.3 491.7L157 490.6L157.7 488.4L158.4 489.8L159.1 490.6L159.8 491.3L160.5 490.6L161.2 491.4L161.9 491.2L162.6 489.9L163.3 491.2L164 490.4L164.7 491L165.4 490.6L166.1 490.1L166.9 490.3L167.6 490.7L168.3 491.2L169 490.9L169.7 490.6L170.4 491L171.1 490.8L171.8 490.3L172.5 490.1L173.2 490L173.9 489.9L174.6 489.5L175.3 490.6L176 492L176.8 490.9L177.5 489.6L178.2 491.2L178.9 491.9L179.6 490.9L180.3 490.8L181 490.7L181.7 490.9L182.4 491.1L183.1 491L183.8 490.3L184.5 491.2L185.2 491.1L185.9 491L186.6 491.1L187.4 491L188.1 491.3L188.8 490.6L189.5 491L190.2 491.3L190.9 490.7L191.6 489.2L192.3 490.5L193 491.1L193.7 489.8L194.4 490.4L195.1 490L195.8 490.4L196.5 490.7L197.2 489.7L198 489.7L198.7 489.3L199.4 490.7L200.1 491.4L200.8 491.3L201.5 491.7L202.2 491L202.9 489.7L203.6 489.4L204.3 489.7L205 489.7L205.7 490.1L206.4 489.9L207.1 491L207.9 491.5L208.6 491.2L209.3 490.8L209.3 505.8L208.6 505.9L207.9 506.7L207.1 506.5L206.4 506L205.7 505.7L205 505.7L204.3 505.7L203.6 505.7L202.9 505.8L202.2 506L201.5 506.6L200.8 506.9L200.1 506.8L199.4 505.6L198.7 506.8L198 506.3L197.2 507.9L196.5 509.4L195.8 509L195.1 507L194.4 505.7L193.7 507.7L193 508.3L192.3 507.9L191.6 505.3L190.9 506.4L190.2 506L189.5 505.3L188.8 506.6L188.1 506.4L187.4 506.6L186.6 505.3L185.9 506.1L185.2 508L184.5 507.4L183.8 507L183.1 505.8L182.4 507L181.7 506.9L181 506.4L180.3 507.9L179.6 509.6L178.9 508.5L178.2 509.9L177.5 508.6L176.8 508.9L176 508.5L175.3 508.3L174.6 507.3L173.9 507.2L173.2 506.8L172.5 506.1L171.8 506.7L171.1 507.8L170.4 507.8L169.7 506.9L169 506.1L168.3 507.3L167.6 508.5L166.9 508.3L166.1 506.1L165.4 506.2L164.7 506.5L164 506.4L163.3 507L162.6 506.3L161.9 506.1L161.2 506.5L160.5 505.9L159.8 505.5L159.1 505.8L158.4 507L157.7 506.9L157 508.2L156.3 507.3L155.5 505.6L154.8 507.3L154.1 507.4L153.4 506L152.7 506.2L152 506.3L151.3 506.3L150.6 505.6ZM211.9 365.8L212.6 365.3L213.3 366L214 365.8L214.7 366.1L215.4 366.3L216.1 366.5L216.8 365.9L217.6 366.7L218.3 366.5L219 366.3L219.7 364.7L220.4 364L221.1 364.9L221.8 365.8L222.5 366.2L223.2 366.3L223.9 366.4L224.6 365L225.3 366.5L226 366.5L226.7 366.1L227.4 366.5L228.2 366L228.9 365.6L229.6 365.1L230.3 364.9L231 365.6L231.7 365.3L232.4 365.1L233.1 362.4L233.8 362.8L234.5 363.3L235.2 365.3L235.9 365.6L236.6 365.6L237.3 366.5L238.1 366.1L238.8 366.8L239.5 366.9L240.2 366.3L240.9 365.7L241.6 366L242.3 365L243 366L243.7 365.7L244.4 365.7L245.1 365.5L245.8 365.5L246.5 366.3L247.2 366.4L247.9 366.4L248.7 366.5L249.4 365.6L250.1 363.6L250.8 363.8L251.5 364.4L252.2 365.9L252.9 365.5L253.6 364.6L254.3 364.2L255 364.6L255.7 366.1L256.4 366.6L257.1 366.2L257.8 366.7L258.5 366.3L259.3 365.5L260 364.5L260.7 366.5L261.4 366.6L262.1 366.6L262.8 366.7L263.5 366.7L264.2 366.3L264.9 365.5L265.6 366.6L266.3 365.7L267 366.2L267.7 366.2L268.4 366.6L269.2 366.5L269.9 365.5L270.6 366.8L270.6 381.5L269.9 380.6L269.2 381.5L268.4 381.8L267.7 382L267 381.2L266.3 382L265.6 381.8L264.9 381.1L264.2 381.5L263.5 382.5L262.8 380.9L262.1 381L261.4 380.9L260.7 381.2L260 380.6L259.3 381.3L258.5 382.2L257.8 381.1L257.1 381.2L256.4 381.9L255.7 381.2L255 380.7L254.3 381.2L253.6 381.3L252.9 381.4L252.2 380.8L251.5 380.4L250.8 381.8L250.1 381L249.4 381.5L248.7 380.6L247.9 381L247.2 381.3L246.5 380.7L245.8 380.7L245.1 380.9L244.4 381.6L243.7 381.7L243 383.4L242.3 384.8L241.6 385L240.9 382.3L240.2 383.2L239.5 384.9L238.8 385.8L238.1 385.2L237.3 382.8L236.6 382.7L235.9 381.7L235.2 381L234.5 380.9L233.8 380.4L233.1 381L232.4 381.6L231.7 381.5L231 381.2L230.3 380.7L229.6 380.6L228.9 380.7L228.2 381.4L227.4 380.7L226.7 382L226 382.7L225.3 381.4L224.6 380.8L223.9 382L223.2 380.9L222.5 381.9L221.8 381L221.1 380.8L220.4 381.2L219.7 381L219 381.5L218.3 381.4L217.6 380.9L216.8 381L216.1 380.6L215.4 381.1L214.7 380.7L214 381L213.3 380.9L212.6 380.9L211.9 381.1ZM211.9 401.6L212.6 401.5L213.3 401L214 401.4L214.7 400.2L215.4 401.4L216.1 400.4L216.8 402.1L217.6 402.6L218.3 402.6L219 402.6L219.7 401.5L220.4 401.8L221.1 402.7L221.8 402.6L222.5 401.7L223.2 402.4L223.9 401.8L224.6 402.6L225.3 401.7L226 402.6L226.7 402L227.4 402.6L228.2 401.7L228.9 400.2L229.6 401.2L230.3 401.2L231 399L231.7 398.4L232.4 397.7L233.1 396.5L233.8 393.2L234.5 392.7L235.2 396.4L235.9 398.4L236.6 399.8L237.3 403.1L238.1 404.6L238.8 404.4L239.5 403.8L240.2 403.1L240.9 401.9L241.6 400.9L242.3 399.5L243 401.4L243.7 400.4L244.4 398.5L245.1 401.3L245.8 401.7L246.5 400.6L247.2 401.2L247.9 400.9L248.7 400.7L249.4 401.7L250.1 401.7L250.8 401.5L251.5 401.1L252.2 401.7L252.9 401.5L253.6 401.8L254.3 401.9L255 402.3L255.7 402.2L256.4 401.5L257.1 402.6L257.8 402L258.5 402L259.3 402.8L260 402.7L260.7 402.5L261.4 402.2L262.1 402.7L262.8 402.4L263.5 402.7L264.2 402.7L264.9 401.8L265.6 402.2L266.3 402.1L267 402.8L267.7 402.8L268.4 402.4L269.2 402.2L269.9 401.3L270.6 401L270.6 417.2L269.9 417.7L269.2 419.9L268.4 419.3L267.7 419.3L267 417L266.3 417.3L265.6 417L264.9 417.1L264.2 417.5L263.5 418L262.8 417.3L262.1 417.3L261.4 417.2L260.7 417.2L260 416.8L259.3 417.6L258.5 416.7L257.8 417.2L257.1 418.2L256.4 417.2L255.7 417.9L255 417.5L254.3 418.1L253.6 418.1L252.9 416.6L252.2 416.8L251.5 416.9L250.8 416.6L250.1 417.2L249.4 417.4L248.7 415.9L247.9 416.9L247.2 416.8L246.5 417.8L245.8 418.1L245.1 417.3L244.4 416.8L243.7 418L243 419L242.3 419.1L241.6 419.2L240.9 420.6L240.2 423.4L239.5 426.9L238.8 427.6L238.1 427.6L237.3 426.4L236.6 424.4L235.9 422.6L235.2 419.6L234.5 418.1L233.8 414.9L233.1 415.8L232.4 416.8L231.7 416.9L231 417.6L230.3 417L229.6 416.8L228.9 417.6L228.2 416.7L227.4 416.9L226.7 417.4L226 417.2L225.3 417.5L224.6 417.5L223.9 416.7L223.2 417.9L222.5 417.7L221.8 417.6L221.1 417.3L220.4 416.8L219.7 416.9L219 417.5L218.3 416.7L217.6 417.2L216.8 416.7L216.1 417.4L215.4 418.7L214.7 418.6L214 417.4L213.3 417.1L212.6 417.8L211.9 417.6ZM211.9 438.3L212.6 437.6L213.3 437.4L214 437.9L214.7 438.3L215.4 437.5L216.1 437L216.8 437.6L217.6 437.7L218.3 437.5L219 436.6L219.7 437.8L220.4 436.1L221.1 438.1L221.8 437.4L222.5 435.4L223.2 437L223.9 438.2L224.6 438.3L225.3 437.2L226 437.5L226.7 437.3L227.4 437.2L228.2 436.2L228.9 437.1L229.6 437.3L230.3 436.5L231 435.7L231.7 433.1L232.4 429.3L233.1 424.8L233.8 420.9L234.5 421.6L235.2 424.6L235.9 429.8L236.6 434.8L237.3 439.9L238.1 442.9L238.8 443.9L239.5 441.5L240.2 438.6L240.9 436.9L241.6 435.6L242.3 435.7L243 435.8L243.7 435.9L244.4 434.4L245.1 434.4L245.8 433.4L246.5 434.7L247.2 434.6L247.9 434.2L248.7 433.3L249.4 433.3L250.1 434.6L250.8 435.4L251.5 434.2L252.2 435.3L252.9 435.1L253.6 436.4L254.3 436.5L255 436.6L255.7 436L256.4 436.9L257.1 437.9L257.8 438.5L258.5 438.7L259.3 438.4L260 438.4L260.7 438.7L261.4 437.2L262.1 437.5L262.8 439.3L263.5 438.5L264.2 438.7L264.9 439.4L265.6 439.3L266.3 438.3L267 438.4L267.7 437.9L268.4 438.2L269.2 438.6L269.9 439.2L270.6 439.8L270.6 454.1L269.9 454.4L269.2 455.9L268.4 454.2L267.7 454.9L267 455L266.3 456.4L265.6 454.8L264.9 453.7L264.2 453.5L263.5 453.9L262.8 454L262.1 453.3L261.4 453.1L260.7 453.1L260 454.5L259.3 454L258.5 454.8L257.8 452.5L257.1 452.4L256.4 453.6L255.7 453.3L255 452.8L254.3 452.4L253.6 451.4L252.9 450.3L252.2 450.3L251.5 450.8L250.8 449.4L250.1 449L249.4 449.3L248.7 449.7L247.9 449.6L247.2 450.4L246.5 449.8L245.8 451.5L245.1 451.4L244.4 451.5L243.7 452L243 453.8L242.3 456L241.6 458.3L240.9 463.9L240.2 467.8L239.5 473.9L238.8 479.9L238.1 480.1L237.3 476.6L236.6 470.6L235.9 464.3L235.2 457.4L234.5 451.6L233.8 451L233.1 449.9L232.4 450.9L231.7 453.4L231 453.2L230.3 453.4L229.6 454L228.9 452.6L228.2 453.4L227.4 452.5L226.7 452.5L226 452.8L225.3 452.2L224.6 452.8L223.9 452.4L223.2 452.9L222.5 452.4L221.8 453.2L221.1 452.6L220.4 455L219.7 454.7L219 454.2L218.3 452.8L217.6 452.6L216.8 453L216.1 453.4L215.4 452.8L214.7 453.3L214 453.8L213.3 453.9L212.6 452.2L211.9 452.5ZM211.9 473.6L212.6 473.9L213.3 472.2L214 472.9L214.7 471.2L215.4 473.2L216.1 472.7L216.8 473.3L217.6 473.7L218.3 473.4L219 472.9L219.7 473.6L220.4 471.9L221.1 471.8L221.8 471.9L222.5 473.7L223.2 473.8L223.9 474.1L224.6 473.7L225.3 473.5L226 472.4L226.7 472.7L227.4 471.7L228.2 473.2L228.9 473.7L229.6 472.2L230.3 472L231 472.9L231.7 471.8L232.4 470.1L233.1 468.1L233.8 466.8L234.5 467L235.2 468.4L235.9 468.5L236.6 472.4L237.3 474.8L238.1 476.5L238.8 475.2L239.5 475.3L240.2 474.4L240.9 471.9L241.6 472.2L242.3 471.9L243 471.6L243.7 471.1L244.4 472.8L245.1 471.2L245.8 469.6L246.5 470.9L247.2 471.1L247.9 471.4L248.7 471.2L249.4 471.7L250.1 471.6L250.8 472.3L251.5 473L252.2 471.7L252.9 471.8L253.6 471.3L254.3 472L255 472.9L255.7 472.6L256.4 472.5L257.1 472.3L257.8 474L258.5 473.4L259.3 472L260 472L260.7 471.7L261.4 472.4L262.1 473.1L262.8 474.2L263.5 474.3L264.2 473.5L264.9 474.1L265.6 474.1L266.3 473.4L267 471.2L267.7 470.8L268.4 471.9L269.2 473.6L269.9 474.3L270.6 474L270.6 489.3L269.9 488.8L269.2 488.8L268.4 489.8L267.7 488.7L267 488.8L266.3 489.4L265.6 489.6L264.9 488.5L264.2 488.3L263.5 488.6L262.8 489.6L262.1 489.2L261.4 489.2L260.7 489.2L260 488.7L259.3 489.8L258.5 490L257.8 489L257.1 488L256.4 488.2L255.7 488.8L255 488.5L254.3 487.8L253.6 488.4L252.9 488.1L252.2 487.2L251.5 487.4L250.8 487.3L250.1 487.1L249.4 487.2L248.7 486.8L247.9 487.8L247.2 487.7L246.5 488.9L245.8 487.6L245.1 488.3L244.4 488L243.7 487.9L243 488.4L242.3 490L241.6 490.6L240.9 493.1L240.2 494.9L239.5 498.9L238.8 501.1L238.1 502.5L237.3 500.3L236.6 496.5L235.9 493.5L235.2 491.3L234.5 488.9L233.8 487.2L233.1 487.3L232.4 487.9L231.7 488.6L231 489.2L230.3 489.5L229.6 489.6L228.9 489.6L228.2 490.9L227.4 490.6L226.7 488.9L226 489.5L225.3 489.7L224.6 489.3L223.9 488.1L223.2 488.2L222.5 488.5L221.8 488.4L221.1 488.3L220.4 488L219.7 488.2L219 488.9L218.3 489.5L217.6 489.1L216.8 488.5L216.1 489.1L215.4 488.2L214.7 489L214 490L213.3 488L212.6 489L211.9 489.2ZM273.2 348.9L273.9 348.8L274.6 348.4L275.3 348.2L276 348.1L276.7 348L277.4 349.3L278.1 348.6L278.7 348.9L279.4 348.6L280.1 348.5L280.8 349.2L281.5 348.3L282.2 349.3L282.9 349L283.6 348.2L284.3 349.2L285 348.2L285.7 348.1L286.4 349.1L287.1 346.7L287.8 347.6L288.5 346.8L289.2 347.9L289.8 348.3L290.5 348.1L291.2 348.8L291.9 347.1L292.6 346.4L293.3 347.8L294 346.3L294.7 346.5L295.4 347L296.1 346.8L296.8 348L297.5 348.7L298.2 347.5L298.9 349.2L299.6 349.1L300.3 348.8L300.9 349.1L301.6 347.8L302.3 349.2L303 349.2L303.7 347.7L304.4 348.8L305.1 349.1L305.8 348.7L306.5 347.8L307.2 348.7L307.9 348.7L308.6 347.3L309.3 347.6L310 347.6L310.7 347L311.3 346.6L312 349.1L312.7 349L313.4 349.1L314.1 348.5L314.8 348.5L315.5 347.4L316.2 348.1L316.9 348L317.6 348.6L318.3 349.3L319 348.8L319.7 348.5L320.4 348.3L321.1 347.9L321.8 348.7L322.4 348.7L323.1 348.3L323.8 349.1L324.5 349.4L325.2 349.3L325.9 349.4L326.6 347.7L327.3 348.9L328 349L328.7 347.3L329.4 347.7L330.1 349.5L330.8 349.4L330.8 364.2L330.1 365L329.4 364.6L328.7 364.3L328 364.8L327.3 363.7L326.6 364L325.9 364L325.2 363.5L324.5 363.7L323.8 363.3L323.1 363.7L322.4 363.8L321.8 363.6L321.1 364L320.4 364.1L319.7 364.5L319 364.5L318.3 364.2L317.6 363.5L316.9 364.1L316.2 363.4L315.5 365.6L314.8 365.9L314.1 363.6L313.4 363.2L312.7 363.2L312 363.1L311.3 364.3L310.7 363.1L310 364.9L309.3 366.2L308.6 365.2L307.9 364.7L307.2 364.2L306.5 363.2L305.8 364.5L305.1 364.2L304.4 364.8L303.7 363.5L303 363.6L302.3 364L301.6 365.2L300.9 365.4L300.3 364.9L299.6 365.8L298.9 365.3L298.2 364.8L297.5 366.4L296.8 364.6L296.1 365.4L295.4 363.4L294.7 363L294 365.6L293.3 363.9L292.6 363.3L291.9 363.3L291.2 363.3L290.5 364.5L289.8 364.7L289.2 364L288.5 363.3L287.8 364.9L287.1 364.3L286.4 364L285.7 363.4L285 364.2L284.3 364.7L283.6 365.7L282.9 364.9L282.2 364.5L281.5 363.5L280.8 364.4L280.1 364.2L279.4 364.3L278.7 363.5L278.1 364.7L277.4 364.8L276.7 364.5L276 363.5L275.3 363.7L274.6 363.7L273.9 364.9L273.2 364.3ZM273.2 383.8L273.9 382.4L274.6 381.8L275.3 381.5L276 383.5L276.7 384.2L277.4 383.4L278.1 383.5L278.7 383.2L279.4 383.7L280.1 383.9L280.8 383L281.5 383.4L282.2 383L282.9 383.4L283.6 383.9L284.3 383.4L285 383.5L285.7 382.5L286.4 384.2L287.1 383.3L287.8 382.6L288.5 382.7L289.2 384L289.8 384.1L290.5 382.5L291.2 382.3L291.9 383L292.6 382.5L293.3 380.9L294 379.7L294.7 377.9L295.4 378.5L296.1 379.4L296.8 378.7L297.5 379.7L298.2 380.5L298.9 383.5L299.6 383.9L300.3 384.4L300.9 383.8L301.6 383.6L302.3 382.8L303 382.1L303.7 383.7L304.4 382.8L305.1 383.2L305.8 383.1L306.5 383L307.2 383.5L307.9 382.5L308.6 381.4L309.3 382.7L310 383.5L310.7 383.5L311.3 381.2L312 381.4L312.7 382.7L313.4 382.2L314.1 382.1L314.8 381.6L315.5 382.8L316.2 382.6L316.9 384L317.6 384L318.3 383.9L319 384L319.7 384.1L320.4 384L321.1 383.3L321.8 383.8L322.4 382.8L323.1 382.5L323.8 384.2L324.5 384.5L325.2 384.5L325.9 382.8L326.6 382.1L327.3 381.3L328 383.1L328.7 384.2L329.4 382L330.1 381.4L330.8 382.5L330.8 399.6L330.1 400.4L329.4 399.9L328.7 398.8L328 399.4L327.3 398.8L326.6 398.7L325.9 398.7L325.2 399.3L324.5 399L323.8 398.8L323.1 398.5L322.4 398.7L321.8 398.4L321.1 399L320.4 398.4L319.7 398.9L319 399.1L318.3 399.5L317.6 399.2L316.9 400.3L316.2 398.7L315.5 398.2L314.8 398.1L314.1 398.2L313.4 397.8L312.7 397.8L312 398.7L311.3 397.9L310.7 398.1L310 397.8L309.3 397.6L308.6 398.9L307.9 398.2L307.2 399L306.5 398L305.8 398.6L305.1 398.1L304.4 399.5L303.7 399.6L303 400.5L302.3 400.5L301.6 400.7L300.9 402.2L300.3 404.6L299.6 403.3L298.9 404.1L298.2 403.4L297.5 402.1L296.8 401.1L296.1 398.9L295.4 397.3L294.7 397.6L294 397.7L293.3 398.5L292.6 398.6L291.9 398.8L291.2 398.8L290.5 399L289.8 399.1L289.2 398.4L288.5 398.9L287.8 400.8L287.1 400.8L286.4 399.6L285.7 399.1L285 400.6L284.3 399.8L283.6 398.5L282.9 398.1L282.2 399.3L281.5 398.8L280.8 398.6L280.1 398.1L279.4 398.4L278.7 400.4L278.1 399L277.4 399.2L276.7 398.2L276 399.1L275.3 398.1L274.6 399L273.9 400L273.2 398.9ZM273.2 420.6L273.9 420.2L274.6 420.6L275.3 420.2L276 420.2L276.7 420.6L277.4 420.5L278.1 420.4L278.7 420.6L279.4 420.5L280.1 419.9L280.8 420.7L281.5 419.7L282.2 419.9L282.9 419.3L283.6 418.6L284.3 420.6L285 418.5L285.7 419.1L286.4 420.2L287.1 419.7L287.8 418.8L288.5 419.3L289.2 419.3L289.8 419.2L290.5 419.2L291.2 418.7L291.9 417.8L292.6 415.5L293.3 413L294 409.1L294.7 404.4L295.4 404.8L296.1 408.2L296.8 412.6L297.5 416.7L298.2 418.6L298.9 421.1L299.6 422.3L300.3 420.7L300.9 418.7L301.6 417.7L302.3 417.9L303 418.2L303.7 417.8L304.4 417.7L305.1 417.5L305.8 418.3L306.5 417.5L307.2 417.8L307.9 417.8L308.6 416.8L309.3 414.9L310 415.8L310.7 417.8L311.3 417.4L312 416.5L312.7 417.4L313.4 417.7L314.1 418.4L314.8 418.2L315.5 416.4L316.2 416.7L316.9 418.3L317.6 420.6L318.3 420.5L319 420.4L319.7 419.7L320.4 421L321.1 420.9L321.8 420.9L322.4 419.2L323.1 420.3L323.8 421L324.5 421.2L325.2 421.6L325.9 421.2L326.6 421.3L327.3 421L328 421.8L328.7 421.3L329.4 422L330.1 421.2L330.8 421.7L330.8 436.1L330.1 436.2L329.4 437L328.7 437.3L328 437.3L327.3 436.6L326.6 435.9L325.9 435.8L325.2 435.9L324.5 437.5L323.8 437.4L323.1 436.3L322.4 435.4L321.8 435.2L321.1 436.6L320.4 436.9L319.7 436.3L319 435L318.3 434.9L317.6 434.5L316.9 434.8L316.2 435.9L315.5 435.7L314.8 435.4L314.1 434.9L313.4 434L312.7 434.6L312 433.3L311.3 434.1L310.7 433.2L310 432.9L309.3 432L308.6 431.8L307.9 433.2L307.2 434.3L306.5 434.1L305.8 433.6L305.1 433.4L304.4 433.6L303.7 435.7L303 436.7L302.3 438.5L301.6 440.3L300.9 444L300.3 447.3L299.6 451.3L298.9 450.1L298.2 448.6L297.5 445.2L296.8 440.8L296.1 437L295.4 432.5L294.7 430.1L294 431.3L293.3 433.8L292.6 434.5L291.9 435L291.2 436.2L290.5 436.8L289.8 435.8L289.2 434.8L288.5 434.8L287.8 435.8L287.1 436.1L286.4 437.3L285.7 436.4L285 436.4L284.3 436.6L283.6 436L282.9 436.1L282.2 434.7L281.5 435.3L280.8 435.4L280.1 436.1L279.4 434.9L278.7 435L278.1 436.1L277.4 435.1L276.7 435.3L276 434.7L275.3 434.7L274.6 435L273.9 435.7L273.2 436.1ZM273.2 455.1L273.9 455.4L274.6 455L275.3 454.4L276 455.2L276.7 454.9L277.4 453.3L278.1 454.7L278.7 456L279.4 455.1L280.1 455.4L280.8 455.4L281.5 455.4L282.2 455.7L282.9 456.3L283.6 456L284.3 456.1L285 456.3L285.7 454.9L286.4 456.4L287.1 455.6L287.8 454.4L288.5 455.7L289.2 456.1L289.8 455.7L290.5 455.3L291.2 453.9L291.9 453.7L292.6 451.5L293.3 448.7L294 443.9L294.7 439.7L295.4 440.5L296.1 442.9L296.8 448.6L297.5 452.8L298.2 453.5L298.9 457.1L299.6 459.5L300.3 457.8L300.9 456.8L301.6 454.1L302.3 453.1L303 453.2L303.7 453.6L304.4 454.3L305.1 453.4L305.8 453.1L306.5 453.7L307.2 453.2L307.9 452.9L308.6 452.8L309.3 451.8L310 452.2L310.7 453.1L311.3 453.4L312 453L312.7 454.3L313.4 453.7L314.1 455.1L314.8 455L315.5 453.6L316.2 455.7L316.9 455.8L317.6 456L318.3 456.5L319 455.8L319.7 455.6L320.4 455.9L321.1 455.3L321.8 454.3L322.4 454.5L323.1 455.3L323.8 456.9L324.5 457.2L325.2 457L325.9 456.8L326.6 457.2L327.3 457.5L328 457.1L328.7 457.1L329.4 456.4L330.1 457.8L330.8 457.2L330.8 471.9L330.1 472.4L329.4 472.3L328.7 472.1L328 471.6L327.3 471.6L326.6 471.9L325.9 471.5L325.2 472.5L324.5 472.9L323.8 473.9L323.1 473.5L322.4 473.5L321.8 472.4L321.1 470.9L320.4 471.1L319.7 472.2L319 471.5L318.3 472.4L317.6 470.9L316.9 470.6L316.2 471.2L315.5 470.3L314.8 470L314.1 470.7L313.4 469.1L312.7 470.3L312 471.2L311.3 468.4L310.7 468.3L310 468.2L309.3 467.5L308.6 467.5L307.9 467.7L307.2 468.8L306.5 469.1L305.8 468.9L305.1 469.5L304.4 469.5L303.7 471.8L303 474L302.3 476.8L301.6 478.4L300.9 483L300.3 487.6L299.6 487.9L298.9 488.2L298.2 486.6L297.5 484.6L296.8 480.2L296.1 473.8L295.4 468.6L294.7 466.2L294 467.9L293.3 468.8L292.6 470.4L291.9 471.2L291.2 470.6L290.5 471L289.8 471.4L289.2 471.1L288.5 470.5L287.8 472.6L287.1 471.7L286.4 470.4L285.7 471.4L285 471.2L284.3 471.8L283.6 472.1L282.9 470.7L282.2 471.1L281.5 470.6L280.8 470.4L280.1 471.4L279.4 470.9L278.7 471.3L278.1 470.6L277.4 470.3L276.7 471.5L276 470.7L275.3 472.2L274.6 471.6L273.9 472.4L273.2 471.2ZM273.2 491L273.9 491.7L274.6 491.9L275.3 490.6L276 491.3L276.7 491.6L277.4 492.5L278.1 492.5L278.7 491.6L279.4 491.1L280.1 492.2L280.8 492.3L281.5 491.7L282.2 492.4L282.9 492.2L283.6 491L284.3 491.4L285 491.5L285.7 492.3L286.4 492.2L287.1 491.9L287.8 491.9L288.5 491.9L289.2 490.6L289.8 489.2L290.5 488.6L291.2 490.3L291.9 491.2L292.6 491L293.3 489.2L294 488.9L294.7 487.2L295.4 487.7L296.1 487.5L296.8 489.8L297.5 491.2L298.2 491.1L298.9 492.5L299.6 492.5L300.3 492.6L300.9 492.4L301.6 491.5L302.3 491.4L303 491.2L303.7 491.3L304.4 491.5L305.1 489.8L305.8 489.5L306.5 490.9L307.2 491.4L307.9 490.5L308.6 490.5L309.3 491.7L310 491.1L310.7 491.3L311.3 490.4L312 488.8L312.7 488.2L313.4 489.3L314.1 491.3L314.8 492L315.5 492.4L316.2 491.7L316.9 489.2L317.6 488.8L318.3 490.5L319 492L319.7 492.6L320.4 491.7L321.1 491.7L321.8 491.2L322.4 492.4L323.1 491.6L323.8 491.2L324.5 492.7L325.2 490.5L325.9 490.3L326.6 491L327.3 492.7L328 491.7L328.7 491.1L329.4 490.5L330.1 490.6L330.8 491.5L330.8 508.3L330.1 507.4L329.4 507L328.7 506.7L328 507.3L327.3 506.8L326.6 506.7L325.9 507.2L325.2 508.2L324.5 507.6L323.8 508.2L323.1 506.8L322.4 506.7L321.8 506.6L321.1 507.1L320.4 507.3L319.7 507.4L319 509L318.3 507.7L317.6 507.8L316.9 507.1L316.2 507.2L315.5 506.6L314.8 507.7L314.1 508.5L313.4 507.9L312.7 506.9L312 506.9L311.3 507.8L310.7 508.1L310 506.9L309.3 506.1L308.6 507.2L307.9 506.2L307.2 506.5L306.5 507.3L305.8 507.7L305.1 507.4L304.4 507.6L303.7 507L303 508.4L302.3 508.1L301.6 508.4L300.9 509.6L300.3 510.8L299.6 511L298.9 511.4L298.2 511.8L297.5 509.5L296.8 509.4L296.1 509.1L295.4 507.6L294.7 506.8L294 506.5L293.3 506.9L292.6 507L291.9 506.8L291.2 506.8L290.5 506.6L289.8 507.6L289.2 507.6L288.5 506.8L287.8 507.3L287.1 506.7L286.4 507.4L285.7 507.7L285 506.7L284.3 506.5L283.6 506.4L282.9 507.4L282.2 506.7L281.5 507.2L280.8 506.6L280.1 506.5L279.4 508L278.7 508.1L278.1 508L277.4 506.5L276.7 506.6L276 507L275.3 506.7L274.6 507.1L273.9 506.8L273.2 506.9Z" fill="#f80808"/>
<path d="M90.9 366L91.9 366.8L92.9 367L93.9 366.9L94.9 365.6L95.9 366.1L96.9 366.8L97.9 366.9L98.9 366.6L99.9 366.7L100.9 365.9L101.9 364.8L102.9 365.9L103.9 364.6L104.9 366.6L105.9 365L106.9 366.6L107.9 366.4L108.9 364.7L110 365.9L111 364.8L112 365L113 364.7L114 365.3L115 363.2L116 363.2L117 362.8L118 364.4L119 365.1L120 366.6L121 366.5L122 365.9L123 366.8L124 366.8L125 365.1L126 366.5L127 365.9L128 365.8L129 366.6L130 366.4L131 364.6L132 365.9L133 365.4L134 365.9L135 365.2L136 365.3L137 366.2L138 365.2L139 366.1L140 366.4L141 367.1L142 366.8L143 365.6L144 365.8L145 365.2L146.1 366.3L147.1 366.1L148.1 366M90.9 380.1L91.9 380.9L92.9 381L93.9 382.8L94.9 381.8L95.9 380.7L96.9 382.1L97.9 382.1L98.9 381.7L99.9 381.3L100.9 381.6L101.9 380.8L102.9 381.2L103.9 381.4L104.9 380.9L105.9 381.6L106.9 381.6L107.9 381L108.9 380.7L110 381.2L111 380.7L112 382.7L113 384.1L114 386.1L115 384L116 383L117 382.9L118 383.1L119 381.3L120 381.9L121 380.7L122 381L123 381.2L124 380.5L125 380.9L126 382.7L127 380.8L128 379.9L129 381.9L130 382.7L131 382.6L132 382.4L133 384.2L134 384.5L135 380.6L136 380.7L137 382.2L138 380.8L139 380.8L140 380.4L141 380.5L142 380.7L143 380.9L144 381L145 381.9L146.1 382.2L147.1 380.7L148.1 381.4M90.9 365.5L91.9 363.9L92.9 364L93.9 366.2L94.9 365.6L95.9 364.8L96.9 362.7L97.9 363.4L98.9 366.3L99.9 366.6L100.9 364.6L101.9 366.7L102.9 366.6L103.9 366.8L104.9 367L105.9 365.1L106.9 365.1L107.9 364.7L108.9 366.7L110 365.5L111 365L112 364.6L113 365.3L114 365.3L115 365.8L116 365.3L117 367L118 366.2L119 365.8L120 366.7L121 366.7L122 366.1L123 365.8L124 366.4L125 366.1L126 365.4L127 366.1L128 365.1L129 365.1L130 365.8L131 366.1L132 366.7L133 366.9L134 367L135 362.7L136 362.5L137 362.2L138 366.5L139 365.3L140 365.3L141 365.1L142 365.6L143 364.4L144 365.7L145 366.1L146.1 366.7L147.1 365L148.1 364.5M90.9 380.5L91.9 381.3L92.9 380.2L93.9 381L94.9 381L95.9 380.8L96.9 380.7L97.9 381.7L98.9 381.2L99.9 382.1L100.9 382.8L101.9 382.8L102.9 382L103.9 380.9L104.9 381.3L105.9 380.2L106.9 381.5L107.9 384.5L108.9 384.7L110 382.6L111 381.7L112 383.5L113 382.7L114 382.7L115 383.3L116 383.2L117 384.9L118 383.5L119 382.8L120 383.4L121 381.4L122 380.5L123 381.2L124 381.8L125 383.5L126 382.7L127 382.2L128 380.4L129 381L130 382.2L131 381.7L132 380.5L133 381.8L134 380.2L135 380.3L136 381.4L137 380.9L138 382.2L139 381.9L140 380.2L141 380.9L142 381.5L143 384.1L144 381.1L145 381.5L146.1 381.2L147.1 380.7L148.1 380.3M90.9 366.1L91.9 365.8L92.9 367L93.9 365L94.9 363.7L95.9 364.5L96.9 364.2L97.9 364.6L98.9 366L99.9 365.8L100.9 364.3L101.9 363.6L102.9 365.5L103.9 366L104.9 366.9L105.9 366.8L106.9 366.4L107.9 366.7L108.9 366L110 365.8L111 363.8L112 364.4L113 364.5L114 364.7L115 364.6L116 365.6L117 365.6L118 363L119 366.8L120 366.7L121 364.8L122 364.9L123 365.6L124 365.4L125 366.1L126 364.4L127 364L128 364.9L129 364.3L130 364.1L131 366.9L132 365.4L133 366L134 366.9L135 366.4L136 366.3L137 366.9L138 366.7L139 367L140 364L141 364.7L142 363.5L143 366.9L144 366.8L145 366.2L146.1 365.4L147.1 363.7L148.1 364M90.9 383.1L91.9 385.4L92.9 385.7L93.9 382.9L94.9 380.4L95.9 380.9L96.9 380.1L97.9 381.1L98.9 380.3L99.9 381.1L100.9 380.5L101.9 381.6L102.9 382.8L103.9 380.9L104.9 380.2L105.9 382.4L106.9 382.3L107.9 382.4L108.9 381.7L110 380.3L111 380.6L112 381.6L113 381.3L114 382.9L115 383L116 384.6L117 384L118 384.1L119 382.2L120 381.1L121 383.2L122 380.8L123 380.9L124 382.9L125 380.5L126 380L127 382.3L128 381.2L129 381.7L130 381.2L131 381.3L132 382.7L133 383.4L134 382.6L135 381.8L136 380.1L137 381.1L138 380.2L139 380.9L140 383.2L141 381.5L142 383.7L143 383.8L144 382L145 381.1L146.1 381.5L147.1 380.6L148.1 381.2M90.9 403L91.9 401.5L92.9 402.6L93.9 402.2L94.9 402L95.9 402.8L96.9 402.5L97.9 402.7L98.9 402.1L99.9 401.6L100.9 400.4L101.9 401.9L102.9 401.4L103.9 401.7L104.9 402.3L105.9 402.7L106.9 402.4L107.9 401.8L108.9 400.7L110 401.5L111 399.9L112 399L113 396.6L114 397.6L115 401.2L116 402.8L117 403.6L118 402.3L119 400.9L120 399.6L121 401.4L122 400.2L123 402.6L124 402.1L125 400.5L126 402.3L127 402.3L128 402.2L129 401.4L130 400.4L131 399.9L132 399.8L133 399.4L134 402L135 401.6L136 401.2L137 402.4L138 402.7L139 402.6L140 402.7L141 403.2L142 402.4L143 402.2L144 402.9L145 402.4L146.1 403L147.1 402.3L148.1 402.9M90.9 416.6L91.9 417L92.9 416.4L93.9 416.4L94.9 416.9L95.9 420L96.9 419L97.9 418.1L98.9 418.2L99.9 417.1L100.9 416.9L101.9 416.3L102.9 416.6L103.9 416.5L104.9 417.4L105.9 416.4L106.9 417L107.9 417.5L108.9 418.8L110 416.9L111 417.3L112 417.3L113 419.5L114 419.6L115 422.1L116 427.1L117 423.2L118 421L119 419.8L120 418.1L121 417.4L122 416.6L123 416.6L124 418L125 417.3L126 416.7L127 416.3L128 416.3L129 417.2L130 416.4L131 416.4L132 417.2L133 417.7L134 416.9L135 417.6L136 417.2L137 416.6L138 416.7L139 418.7L140 416.3L141 416.3L142 416.5L143 416.9L144 417.4L145 418.8L146.1 419.2L147.1 418.3L148.1 417.7M90.9 402.1L91.9 401.4L92.9 402.3L93.9 402.8L94.9 402.7L95.9 402.4L96.9 402.4L97.9 402.2L98.9 400.7L99.9 399.5L100.9 398.9L101.9 399.9L102.9 399.8L103.9 400.5L104.9 399.2L105.9 401.5L106.9 402.5L107.9 401.2L108.9 402L110 401.6L111 400.9L112 398.7L113 398L114 400.3L115 400.8L116 400.8L117 402.3L118 402.3L119 401.5L120 399.4L121 398.7L122 399.3L123 400.6L124 398.2L125 397.6L126 394.9L127 397.5L128 398.8L129 400.6L130 400.9L131 401.1L132 402.4L133 402.7L134 402.9L135 401L136 402.3L137 401.9L138 401.6L139 403.1L140 402.8L141 402.1L142 400.5L143 401.7L144 400.9L145 403.1L146.1 402.2L147.1 401L148.1 403M90.9 418.7L91.9 419.6L92.9 420.4L93.9 417.2L94.9 416.6L95.9 418.5L96.9 416.9L97.9 417.2L98.9 416.6L99.9 419.8L100.9 419.9L101.9 417.4L102.9 416.4L103.9 416.6L104.9 418.6L105.9 419.4L106.9 416.7L107.9 417.9L108.9 419.8L110 418.6L111 417.6L112 415.8L113 416.9L114 419.3L115 422.1L116 421.9L117 422.3L118 421L119 418.6L120 418L121 416.7L122 416.6L123 416.6L124 416.1L125 418L126 416.6L127 415.7L128 417.8L129 416.8L130 416.7L131 416.4L132 416.6L133 416.6L134 418.6L135 419.1L136 420L137 416.5L138 417L139 416.9L140 418.7L141 416.8L142 416.4L143 418.3L144 419.8L145 417.6L146.1 417.5L147.1 419.6L148.1 420M90.9 402.4L91.9 401.6L92.9 402.5L93.9 402.5L94.9 402.6L95.9 402.6L96.9 402.4L97.9 402.2L98.9 401.6L99.9 401.9L100.9 402.6L101.9 402.5L102.9 402.7L103.9 402.7L104.9 401.8L105.9 402.8L106.9 403L107.9 400.1L108.9 400L110 402.1L111 397.5L112 396L113 396.1L114 396.9L115 400.5L116 403.3L117 400.9L118 400.5L119 401.1L120 401.2L121 402.6L122 402.6L123 400.2L124 402.2L125 401.4L126 400.6L127 402.3L128 401.7L129 402.4L130 401.6L131 401.6L132 401.5L133 401.8L134 401.4L135 399.1L136 402.7L137 401.8L138 399L139 399.8L140 399.1L141 398.9L142 401.9L143 402.3L144 398.7L145 399.6L146.1 398.4L147.1 401L148.1 402M90.9 417.5L91.9 417.2L92.9 416.4L93.9 416.3L94.9 419.2L95.9 419.5L96.9 418.5L97.9 416.7L98.9 416.7L99.9 417.9L100.9 417.8L101.9 417.3L102.9 416.3L103.9 417.4L104.9 416.7L105.9 417.6L106.9 418L107.9 418L108.9 417.5L110 416.5L111 416.2L112 415.5L113 418.7L114 419.9L115 422.2L116 422.7L117 421.7L118 420.6L119 419.3L120 419.1L121 419.9L122 419.9L123 420L124 417.5L125 415.8L126 416.2L127 417.1L128 418.6L129 419.1L130 417.2L131 416.7L132 416.1L133 416.3L134 416.7L135 419.1L136 418.5L137 418.1L138 416.4L139 417L140 416.4L141 416.8L142 418.1L143 417.2L144 416.6L145 417.4L146.1 416.8L147.1 418L148.1 419.2M90.9 437.2L91.9 438.3L92.9 438L93.9 438.6L94.9 438.7L95.9 437.5L96.9 438.3L97.9 438.1L98.9 438.7L99.9 438.2L100.9 438.8L101.9 437.7L102.9 437.6L103.9 435.7L104.9 438.5L105.9 435.5L106.9 435.2L107.9 436.5L108.9 437.4L110 434.9L111 432.1L112 430.3L113 430.1L114 432.9L115 436.5L116 438.6L117 440.8L118 437.5L119 437.2L120 436.8L121 436.2L122 438L123 436.4L124 436.2L125 437.2L126 436.5L127 436L128 437.5L129 437L130 436.8L131 435L132 436.2L133 438.5L134 436.9L135 436.7L136 436.5L137 437.8L138 438.2L139 438.8L140 435.6L141 438.5L142 438.8L143 438.6L144 437.6L145 435.8L146.1 435.2L147.1 434.7L148.1 436.4M90.9 451.8L91.9 453.3L92.9 452.7L93.9 454.3L94.9 454.8L95.9 452.4L96.9 453.8L97.9 452.2L98.9 454.2L99.9 454L100.9 454.7L101.9 456.9L102.9 454.7L103.9 454.5L104.9 453.7L105.9 453.2L106.9 454.7L107.9 454L108.9 456.7L110 455.2L111 454.1L112 451.7L113 454L114 458.5L115 460.6L116 463.6L117 464.1L118 460.7L119 456.4L120 453.8L121 454.1L122 452L123 453.8L124 454.8L125 452.9L126 452.8L127 453.1L128 452.5L129 452.7L130 454.1L131 451.5L132 452.6L133 456.6L134 454.3L135 454.8L136 453.1L137 452.9L138 453.6L139 453.1L140 454.2L141 455.5L142 454.1L143 453.5L144 454.9L145 454.6L146.1 454.1L147.1 452.3L148.1 452.8M90.9 438L91.9 437.5L92.9 437L93.9 437.2L94.9 435.4L95.9 435.7L96.9 437.3L97.9 438.2L98.9 437.4L99.9 436.8L100.9 437.6L101.9 438.2L102.9 438.4L103.9 437.1L104.9 437.4L105.9 436.2L106.9 436.7L107.9 435.8L108.9 436.8L110 436.6L111 433.3L112 430.8L113 431.8L114 432.7L115 435.5L116 439.3L117 439.9L118 439.8L119 437.7L120 437.1L121 437.6L122 436.8L123 437.5L124 436.5L125 437.8L126 436.3L127 437.5L128 436.2L129 436.5L130 437.6L131 437.6L132 435L133 435.8L134 437.7L135 437.3L136 437.7L137 436.6L138 436.4L139 436.7L140 438.9L141 436.2L142 435.3L143 438.6L144 438.8L145 439.1L146.1 438.3L147.1 438.4L148.1 439M90.9 453.3L91.9 453.2L92.9 453L93.9 453.5L94.9 454.1L95.9 452.6L96.9 452.4L97.9 452.1L98.9 454.2L99.9 454.9L100.9 453.3L101.9 453.8L102.9 452.1L103.9 452.4L104.9 453.5L105.9 452.6L106.9 453.6L107.9 454.5L108.9 455.4L110 453.9L111 451.8L112 451L113 452.5L114 455.9L115 459.8L116 462.3L117 463.5L118 462.9L119 458.2L120 455.2L121 452.5L122 451.9L123 452.5L124 453.5L125 451.7L126 451.1L127 452.4L128 451.3L129 451.3L130 452.2L131 452.5L132 453L133 452.4L134 453.6L135 451.9L136 452.3L137 452.5L138 455.9L139 454.9L140 452.4L141 453.8L142 453.1L143 452.2L144 453.1L145 453.5L146.1 452.4L147.1 454.1L148.1 454.8M90.9 437.2L91.9 437.5L92.9 435.7L93.9 435L94.9 435.3L95.9 436.6L96.9 438L97.9 437.6L98.9 438.1L99.9 436.4L100.9 436.4L101.9 437.9L102.9 437.5L103.9 436.8L104.9 436.6L105.9 438.7L106.9 438.7L107.9 437.3L108.9 436.9L110 437.4L111 434L112 431.8L113 429L114 431.1L115 436.8L116 438.9L117 440.5L118 439.7L119 437.4L120 436.3L121 435L122 432.9L123 433.6L124 431.7L125 433L126 432.9L127 435L128 435L129 437.5L130 438.1L131 437.1L132 437.7L133 436.5L134 436.1L135 437.7L136 437.8L137 436.2L138 436.4L139 437.6L140 438.4L141 438L142 438.1L143 436L144 436.1L145 436.6L146.1 437.7L147.1 436.5L148.1 437M90.9 452.7L91.9 452.8L92.9 453.2L93.9 452.5L94.9 454.2L95.9 452.6L96.9 452.7L97.9 451.9L98.9 452.2L99.9 453.2L100.9 452.2L101.9 452L102.9 454L103.9 451.9L104.9 453.1L105.9 452.2L106.9 455.8L107.9 453.7L108.9 455.5L110 454.1L111 455L112 451.4L113 452.6L114 455.9L115 459.6L116 463.6L117 465.6L118 460.3L119 457.3L120 456.7L121 454L122 453.2L123 452L124 451.1L125 452L126 451.9L127 452.6L128 452L129 451.9L130 453.1L131 452.2L132 451.6L133 452.2L134 452L135 452.6L136 453.7L137 453.4L138 453.1L139 452.1L140 452.6L141 455.4L142 457.9L143 456L144 453.6L145 452.9L146.1 454.3L147.1 454.9L148.1 453.5M90.9 471L91.9 469.5L92.9 472.1L93.9 474.5L94.9 474.1L95.9 473.7L96.9 473.8L97.9 472.8L98.9 472L99.9 471.4L100.9 471.8L101.9 473.4L102.9 474.1L103.9 472.8L104.9 473.2L105.9 473.5L106.9 474.3L107.9 473.8L108.9 473.5L110 472.3L111 470.8L112 471.1L113 471L114 469.9L115 473.9L116 474L117 473.1L118 474.7L119 474.2L120 473.3L121 473.1L122 471.2L123 472L124 473.1L125 472L126 472.1L127 472.5L128 472.1L129 473.6L130 473.4L131 470.8L132 473.3L133 471.5L134 471.4L135 472.8L136 472.7L137 473L138 473.8L139 474L140 473.1L141 473.3L142 474.1L143 474.5L144 474.7L145 472.9L146.1 473.4L147.1 473.9L148.1 474.7M90.9 487.6L91.9 488.3L92.9 488L93.9 488.7L94.9 488.8L95.9 488.2L96.9 488.5L97.9 491.3L98.9 492.6L99.9 491L100.9 490.5L101.9 489.4L102.9 491.6L103.9 488.6L104.9 489.7L105.9 487.9L106.9 489.8L107.9 487.6L108.9 489.4L110 487.7L111 488.6L112 490.3L113 491L114 490.7L115 494L116 496.6L117 497.6L118 494L119 490.6L120 489.4L121 490.2L122 489.7L123 488.9L124 488.1L125 487.1L126 488.1L127 487.9L128 487.1L129 487.7L130 488.1L131 487.7L132 488L133 489.5L134 488.7L135 487.9L136 491.3L137 491.6L138 491.7L139 488.6L140 489.8L141 489.5L142 490.6L143 489.7L144 491.9L145 492.3L146.1 490L147.1 487.8L148.1 489.3M90.9 471.1L91.9 470.6L92.9 472.2L93.9 473.3L94.9 471.9L95.9 473.5L96.9 474.2L97.9 472.4L98.9 473.6L99.9 474.5L100.9 473.6L101.9 473.7L102.9 473.2L103.9 470.5L104.9 472.1L105.9 471.1L106.9 473.9L107.9 473.6L108.9 472.3L110 473.1L111 472.3L112 470.6L113 469.4L114 470.4L115 472L116 473.9L117 474.4L118 474.8L119 474.2L120 473.8L121 472.3L122 471.8L123 473L124 473.4L125 472.9L126 472.6L127 472.7L128 473.3L129 474L130 472.7L131 471.9L132 473.3L133 473.9L134 474L135 472.6L136 474.5L137 473.3L138 472L139 471.8L140 474.1L141 472L142 472.8L143 469.9L144 471.5L145 473.3L146.1 473.9L147.1 472.1L148.1 473.1M90.9 489.4L91.9 491.4L92.9 489.7L93.9 490.5L94.9 489.1L95.9 488L96.9 488.4L97.9 489.1L98.9 489.2L99.9 491.4L100.9 490.3L101.9 490.6L102.9 489.3L103.9 490.6L104.9 488.5L105.9 489L106.9 488.1L107.9 487.8L108.9 487.7L110 488.2L111 487.7L112 487.8L113 489.5L114 491.1L115 491.5L116 495.1L117 496.7L118 494.4L119 491.7L120 490.8L121 491.5L122 489.3L123 491.6L124 490.5L125 490.2L126 487.7L127 487.4L128 489.3L129 490L130 487.5L131 488.3L132 489.1L133 487.6L134 488.2L135 488.1L136 488.2L137 488.2L138 489.3L139 487.7L140 488.1L141 487.6L142 488.3L143 487.8L144 488.9L145 488.9L146.1 489.8L147.1 489.4L148.1 488.2M90.9 472.9L91.9 470.9L92.9 471.5L93.9 473.1L94.9 473L95.9 472.4L96.9 473.3L97.9 474.2L98.9 473.6L99.9 471.5L100.9 471.3L101.9 470.1L102.9 472.8L103.9 474.1L104.9 474L105.9 474.1L106.9 472.9L107.9 473.3L108.9 473.9L110 472.3L111 470.4L112 470.3L113 470.5L114 470.3L115 473.8L116 474.5L117 475L118 474.6L119 473.7L120 472.1L121 472.6L122 471.3L123 471.7L124 471L125 472.6L126 472.4L127 473.2L128 474L129 472.6L130 472.1L131 474L132 473.4L133 474.3L134 474.1L135 474.1L136 474.2L137 474.3L138 473.6L139 473.5L140 473.4L141 474.1L142 473.5L143 473.2L144 473.1L145 472.9L146.1 471.9L147.1 473.1L148.1 472.6M90.9 489.4L91.9 490L92.9 488.1L93.9 489.5L94.9 487.5L95.9 488.6L96.9 492.5L97.9 488L98.9 487.9L99.9 489.6L100.9 489.7L101.9 491.1L102.9 491.6L103.9 488.3L104.9 488.2L105.9 488.5L106.9 488.2L107.9 488.2L108.9 487.6L110 488.6L111 488.9L112 487.4L113 488.2L114 489.9L115 490.9L116 492.3L117 493.4L118 493L119 491.1L120 490.5L121 488.8L122 488.2L123 488L124 487.8L125 489.1L126 488.2L127 488.3L128 487.9L129 487.5L130 488.2L131 487.7L132 489.2L133 488L134 488.2L135 488.8L136 488.3L137 487.6L138 488.2L139 489.2L140 491.3L141 490.6L142 492L143 491.2L144 493.7L145 491.9L146.1 490.6L147.1 489.3L148.1 489.2M150.6 347.2L151.6 345.3L152.7 343.8L153.7 345.8L154.7 347.9L155.8 348.9L156.8 346.5L157.8 345.9L158.8 345.5L159.9 348.2L160.9 348.1L161.9 348L163 346.7L164 347.7L165 347.7L166.1 346.8L167.1 347.6L168.1 347.4L169.2 346.6L170.2 348.1L171.2 347.2L172.2 348.3L173.3 346L174.3 346.5L175.3 347.8L176.4 347.1L177.4 348.4L178.4 348.7L179.5 348.4L180.5 348L181.5 348.2L182.6 348.8L183.6 348.4L184.6 347.6L185.6 347.5L186.7 346.3L187.7 348.5L188.7 347.4L189.8 348.4L190.8 345.5L191.8 346.1L192.9 345L193.9 348.7L194.9 348.9L196 347L197 347.5L198 346.3L199 345.6L200.1 346L201.1 348.6L202.1 348.3L203.2 348.2L204.2 349.1L205.2 348.9L206.3 348.2L207.3 349L208.3 348.7L209.4 348.8M150.6 362.3L151.6 362.1L152.7 362.2L153.7 362.4L154.7 362.5L155.8 363.4L156.8 364L157.8 363.9L158.8 362.4L159.9 362.3L160.9 364.2L161.9 362.4L163 362.7L164 363.7L165 363.5L166.1 362.1L167.1 362.9L168.1 363.9L169.2 363.5L170.2 362.1L171.2 364.4L172.2 362.1L173.3 362.8L174.3 364.7L175.3 364L176.4 365L177.4 364.8L178.4 365.9L179.5 365.8L180.5 364.5L181.5 363.3L182.6 363.8L183.6 362.9L184.6 362L185.6 361.8L186.7 363L187.7 362.8L188.7 362.2L189.8 361.8L190.8 363.5L191.8 364L192.9 364.6L193.9 363L194.9 362.5L196 364.2L197 364.9L198 363.8L199 362.4L200.1 362.1L201.1 362.7L202.1 362.7L203.2 364L204.2 363.5L205.2 363.3L206.3 363.8L207.3 364.5L208.3 364.2L209.4 362.3M150.6 348.5L151.6 347.7L152.7 344.1L153.7 346.4L154.7 347.3L155.8 347.5L156.8 349L157.8 348.2L158.8 348.9L159.9 347.8L160.9 347.4L161.9 348.5L163 349L164 347.1L165 347.3L166.1 348.6L167.1 345.8L168.1 348.1L169.2 348.7L170.2 347.7L171.2 348.2L172.2 347.9L173.3 348.1L174.3 347.7L175.3 348.5L176.4 349.4L177.4 348.1L178.4 347.7L179.5 348.1L180.5 348.1L181.5 348.2L182.6 348.1L183.6 347.5L184.6 347.4L185.6 347.5L186.7 348.4L187.7 348.1L188.7 347.9L189.8 347.9L190.8 347.6L191.8 347.8L192.9 347L193.9 347L194.9 347.2L196 349L197 348.3L198 346.1L199 345.7L200.1 346.2L201.1 348.8L202.1 348.7L203.2 348.9L204.2 349.1L205.2 347.5L206.3 349.1L207.3 348.2L208.3 349.1L209.4 348M150.6 363.2L151.6 362.5L152.7 364.2L153.7 364.4L154.7 364.7L155.8 362.2L156.8 363.7L157.8 363.1L158.8 362.6L159.9 363.3L160.9 364.6L161.9 365.4L163 364.4L164 363.7L165 363.6L166.1 362.5L167.1 362.8L168.1 363.6L169.2 363.4L170.2 364.5L171.2 364L172.2 362.3L173.3 363L174.3 363.1L175.3 364.9L176.4 368.5L177.4 368.1L178.4 366.5L179.5 363.4L180.5 363L181.5 362.3L182.6 362.7L183.6 361.9L184.6 361.8L185.6 364.2L186.7 362.9L187.7 362.4L188.7 362.8L189.8 363L190.8 362.5L191.8 363L192.9 362.3L193.9 364L194.9 366L196 365.7L197 363.7L198 363.2L199 363.7L200.1 362.6L201.1 362.2L202.1 362.8L203.2 362.4L204.2 362.7L205.2 362.4L206.3 363.3L207.3 362.4L208.3 363.4L209.4 362.6M150.6 348.2L151.6 345.9L152.7 346.7L153.7 345.6L154.7 348.5L155.8 347.5L156.8 347.4L157.8 348L158.8 347.5L159.9 347.3L160.9 347.4L161.9 347.7L163 348.4L164 343.5L165 347.5L166.1 346.6L167.1 347.2L168.1 348.8L169.2 346.8L170.2 348.2L171.2 346.1L172.2 347L173.3 346.3L174.3 344.6L175.3 343.4L176.4 348L177.4 349.5L178.4 348L179.5 348.1L180.5 348.3L181.5 348.8L182.6 347.3L183.6 347.2L184.6 346.8L185.6 347.1L186.7 346.2L187.7 346.4L188.7 347.8L189.8 348L190.8 347.9L191.8 347L192.9 347.6L193.9 346L194.9 346.4L196 345.6L197 348.1L198 348.5L199 347.7L200.1 348.3L201.1 347.4L202.1 348.2L203.2 347.5L204.2 348.6L205.2 348.3L206.3 347.1L207.3 349L208.3 348.8L209.4 348.9M150.6 362L151.6 363.2L152.7 362.4L153.7 362.7L154.7 363.7L155.8 364.6L156.8 365L157.8 365.1L158.8 364L159.9 363.8L160.9 364.1L161.9 363.5L163 362.7L164 365.4L165 363.1L166.1 363.6L167.1 364.3L168.1 363.1L169.2 362.3L170.2 363.8L171.2 362.5L172.2 363.5L173.3 365.1L174.3 363.3L175.3 363.5L176.4 364L177.4 364.1L178.4 366.3L179.5 363.6L180.5 363.6L181.5 367L182.6 362.9L183.6 362.4L184.6 363.6L185.6 366.1L186.7 365.8L187.7 362.3L188.7 362.8L189.8 363.3L190.8 362.5L191.8 362.7L192.9 362.6L193.9 363.3L194.9 362.4L196 362.8L197 362.7L198 363.5L199 365L200.1 362.9L201.1 362.2L202.1 362.2L203.2 362.2L204.2 362.5L205.2 362.6L206.3 362.4L207.3 362.9L208.3 362.6L209.4 362.5M150.6 383.7L151.6 383.6L152.7 383.2L153.7 382.1L154.7 383L155.8 384.3L156.8 382.3L157.8 383.2L158.8 383.4L159.9 383.3L160.9 384.6L161.9 382.9L163 380.5L164 381.2L165 381.7L166.1 382.4L167.1 382.3L168.1 383.4L169.2 384.4L170.2 381.9L171.2 379.9L172.2 381.3L173.3 381L174.3 380.5L175.3 383.4L176.4 384.4L177.4 385.3L178.4 381.5L179.5 379.2L180.5 381.4L181.5 383L182.6 384.4L183.6 384.3L184.6 381.6L185.6 383.2L186.7 383.7L187.7 384.1L188.7 383.6L189.8 381.8L190.8 381.4L191.8 383.4L192.9 384.6L193.9 382.5L194.9 384.7L196 384.5L197 383.4L198 384L199 384.8L200.1 383.3L201.1 384.3L202.1 384.3L203.2 383.4L204.2 384.1L205.2 384.8L206.3 384.4L207.3 384.4L208.3 384.9L209.4 384.2M150.6 399.2L151.6 399.2L152.7 398.4L153.7 398.1L154.7 398.6L155.8 400.8L156.8 400.5L157.8 398.9L158.8 398.2L159.9 398.1L160.9 398.2L161.9 398L163 399.1L164 398.6L165 399.2L166.1 399L167.1 398L168.1 398.8L169.2 398.9L170.2 398.9L171.2 397.9L172.2 397.3L173.3 397.3L174.3 400.1L175.3 400.9L176.4 405.2L177.4 404.6L178.4 403.6L179.5 401.4L180.5 401.1L181.5 400.3L182.6 399L183.6 398.2L184.6 398.2L185.6 398.5L186.7 398.1L187.7 401.3L188.7 399.2L189.8 401.4L190.8 400.3L191.8 400.7L192.9 398.8L193.9 398.3L194.9 399.6L196 399.8L197 401.2L198 399.8L199 398.5L200.1 399.9L201.1 399.5L202.1 400L203.2 399.7L204.2 400.7L205.2 399.9L206.3 399.4L207.3 398.3L208.3 401.5L209.4 401.5M150.6 382.8L151.6 384.7L152.7 383.9L153.7 382.6L154.7 384.7L155.8 382.9L156.8 384.3L157.8 384.2L158.8 383.5L159.9 383.7L160.9 383.2L161.9 382.8L163 382.4L164 383.1L165 383.1L166.1 383.7L167.1 383.1L168.1 384.6L169.2 383.8L170.2 379.7L171.2 379.5L172.2 377.6L173.3 380.8L174.3 380.9L175.3 382.5L176.4 383.7L177.4 385.1L178.4 383.9L179.5 383.8L180.5 383.7L181.5 383.4L182.6 382.8L183.6 380.6L184.6 380.4L185.6 382.2L186.7 382.1L187.7 382.6L188.7 382.3L189.8 384.4L190.8 384L191.8 383.2L192.9 384L193.9 384.7L194.9 383.5L196 381.3L197 380.7L198 382.4L199 384.3L200.1 383.7L201.1 384.6L202.1 384.2L203.2 384.1L204.2 384L205.2 383.9L206.3 384.4L207.3 384.5L208.3 384.4L209.4 384.4M150.6 398.9L151.6 399.1L152.7 397.8L153.7 399.6L154.7 399.9L155.8 398.9L156.8 397.9L157.8 399.5L158.8 400.8L159.9 399.8L160.9 397.8L161.9 399.3L163 398.7L164 400.4L165 399.9L166.1 400.9L167.1 399.8L168.1 398.2L169.2 399.9L170.2 399.6L171.2 398.2L172.2 399.6L173.3 401.2L174.3 403L175.3 404.1L176.4 404.5L177.4 402.8L178.4 401.4L179.5 399.9L180.5 399.9L181.5 400.1L182.6 400.4L183.6 400.4L184.6 400.9L185.6 400.1L186.7 398.4L187.7 398.2L188.7 399L189.8 397.6L190.8 399.6L191.8 399.9L192.9 398.5L193.9 400.2L194.9 397.8L196 398.4L197 398.7L198 398.9L199 399L200.1 399L201.1 398.7L202.1 398.3L203.2 399.5L204.2 398.6L205.2 399.8L206.3 399.5L207.3 400.4L208.3 398.5L209.4 398.2M150.6 383.1L151.6 383.7L152.7 383.8L153.7 383.7L154.7 384.1L155.8 384.2L156.8 383.5L157.8 383.2L158.8 383.2L159.9 383L160.9 384.5L161.9 383L163 383.3L164 382.4L165 383.2L166.1 383.9L167.1 380.5L168.1 381.8L169.2 380.9L170.2 383.3L171.2 382.9L172.2 381.6L173.3 379.9L174.3 382.2L175.3 381.9L176.4 384.8L177.4 381.3L178.4 382.6L179.5 383.1L180.5 382.8L181.5 383L182.6 384.2L183.6 384.3L184.6 383.3L185.6 383.4L186.7 383L187.7 383.5L188.7 383.3L189.8 383.6L190.8 384.2L191.8 384.6L192.9 382.3L193.9 383.1L194.9 380.8L196 382.3L197 384L198 384.2L199 384.1L200.1 382.6L201.1 383.8L202.1 384.7L203.2 383L204.2 382.9L205.2 382.4L206.3 383.9L207.3 383.3L208.3 382.6L209.4 382.9M150.6 400.3L151.6 400.8L152.7 398L153.7 397.8L154.7 399L155.8 400.9L156.8 398.2L157.8 398.3L158.8 398.5L159.9 401.2L160.9 397.9L161.9 398.7L163 400.4L164 398.8L165 397.8L166.1 397.9L167.1 398.6L168.1 399.3L169.2 400.6L170.2 399.9L171.2 399.3L172.2 396.9L173.3 399.5L174.3 400L175.3 402.3L176.4 405.1L177.4 404.4L178.4 402.1L179.5 402.7L180.5 400.1L181.5 398.2L182.6 398.3L183.6 398.9L184.6 398.6L185.6 398.3L186.7 399.3L187.7 399.9L188.7 398.6L189.8 399.5L190.8 400.1L191.8 398.5L192.9 398.5L193.9 398.5L194.9 397.8L196 399.3L197 398.4L198 400.2L199 399.8L200.1 399.6L201.1 398.2L202.1 399.4L203.2 399.1L204.2 399.7L205.2 398.4L206.3 399L207.3 399.7L208.3 402.5L209.4 402.2M150.6 419.5L151.6 419.6L152.7 420.5L153.7 418.3L154.7 420.3L155.8 419.3L156.8 417.6L157.8 420L158.8 418.5L159.9 417.6L160.9 415.6L161.9 417.8L163 418.5L164 420.1L165 419L166.1 419.4L167.1 418.1L168.1 419.7L169.2 419.2L170.2 417.2L171.2 415.1L172.2 411.4L173.3 410.5L174.3 414.7L175.3 418.1L176.4 419.1L177.4 422.7L178.4 420.1L179.5 416.5L180.5 416.7L181.5 419.5L182.6 417.7L183.6 416.2L184.6 415.3L185.6 415.5L186.7 416.7L187.7 419.1L188.7 419.3L189.8 419L190.8 419.1L191.8 419.2L192.9 420L193.9 418.4L194.9 419.9L196 419L197 419.6L198 419.1L199 420.2L200.1 418.7L201.1 417.5L202.1 419.8L203.2 419.5L204.2 420.2L205.2 419.9L206.3 420.9L207.3 419.7L208.3 419.9L209.4 420.5M150.6 434.2L151.6 434.3L152.7 436.8L153.7 434.8L154.7 434.4L155.8 434.2L156.8 435L157.8 435.5L158.8 434L159.9 433.8L160.9 435.6L161.9 435.9L163 433.6L164 435.2L165 436.4L166.1 435L167.1 433.8L168.1 434.1L169.2 434L170.2 436.1L171.2 435.2L172.2 433.5L173.3 434L174.3 439.6L175.3 444L176.4 446.8L177.4 444.2L178.4 441.9L179.5 438L180.5 436.8L181.5 435.6L182.6 433.3L183.6 433.2L184.6 432.6L185.6 435.3L186.7 432.6L187.7 432.6L188.7 432.8L189.8 434.4L190.8 434.2L191.8 433.9L192.9 437.3L193.9 438.1L194.9 435.5L196 434.7L197 435.4L198 435.6L199 435.9L200.1 435.3L201.1 434.4L202.1 434.7L203.2 434.5L204.2 434.6L205.2 434.4L206.3 434.2L207.3 434.5L208.3 434.6L209.4 435M150.6 420.5L151.6 419.7L152.7 418.6L153.7 418.8L154.7 419.7L155.8 419L156.8 419.2L157.8 419.7L158.8 419.2L159.9 418.8L160.9 419.4L161.9 419.9L163 419.9L164 418.9L165 419.8L166.1 419.5L167.1 419.6L168.1 419.6L169.2 418.8L170.2 417.6L171.2 415.8L172.2 412.1L173.3 410.8L174.3 412.8L175.3 415.9L176.4 421.5L177.4 423L178.4 419L179.5 417.8L180.5 416.2L181.5 418.4L182.6 416.3L183.6 416.6L184.6 416.5L185.6 419L186.7 418.1L187.7 417.6L188.7 418.8L189.8 416.3L190.8 415.9L191.8 418L192.9 416.4L193.9 416.9L194.9 420.3L196 419.2L197 418.8L198 419L199 418.6L200.1 419.9L201.1 419.1L202.1 420.4L203.2 419.2L204.2 420.3L205.2 419.3L206.3 417.6L207.3 419.9L208.3 420.3L209.4 420.8M150.6 434.9L151.6 435.2L152.7 434.3L153.7 434.8L154.7 435.9L155.8 435.1L156.8 434.1L157.8 435.5L158.8 435L159.9 434L160.9 435.8L161.9 435.6L163 435.3L164 435.5L165 437.8L166.1 439.9L167.1 436.8L168.1 434.3L169.2 436.4L170.2 436.3L171.2 433.1L172.2 432.4L173.3 434.5L174.3 437.8L175.3 442.9L176.4 445.8L177.4 446.7L178.4 444.6L179.5 439.7L180.5 438.1L181.5 434.7L182.6 433.5L183.6 434.7L184.6 434.8L185.6 433.8L186.7 433.6L187.7 435.2L188.7 435.1L189.8 434.1L190.8 434.2L191.8 433L192.9 434.4L193.9 435.1L194.9 433.6L196 434.6L197 434.4L198 434L199 435.5L200.1 436L201.1 438L202.1 436.3L203.2 435.1L204.2 434.3L205.2 434.2L206.3 435.6L207.3 435.2L208.3 434.8L209.4 435.5M150.6 420.4L151.6 420L152.7 420.3L153.7 419.8L154.7 419.8L155.8 420L156.8 419.1L157.8 418.5L158.8 420.4L159.9 419.3L160.9 418.6L161.9 419L163 417.3L164 417.3L165 418.2L166.1 417.3L167.1 417.2L168.1 417.7L169.2 419.3L170.2 416.8L171.2 414.1L172.2 409.6L173.3 410.3L174.3 412.7L175.3 416.5L176.4 421.6L177.4 422.4L178.4 420.8L179.5 420.1L180.5 418.7L181.5 416.3L182.6 415.2L183.6 417.3L184.6 418.1L185.6 416.9L186.7 417.2L187.7 416.4L188.7 418.2L189.8 416.6L190.8 419.2L191.8 419.2L192.9 419.1L193.9 419.9L194.9 419.8L196 420.3L197 420.4L198 420L199 420.5L200.1 418.5L201.1 420.7L202.1 417.5L203.2 420.4L204.2 417.8L205.2 418.9L206.3 417.6L207.3 420.2L208.3 419.8L209.4 419.2M150.6 435.2L151.6 436.4L152.7 437.4L153.7 435.3L154.7 435.1L155.8 435.3L156.8 434.1L157.8 436.4L158.8 436.4L159.9 435.6L160.9 434.5L161.9 435.5L163 434.2L164 435.5L165 436.6L166.1 435.7L167.1 434.3L168.1 434.9L169.2 434.6L170.2 435.9L171.2 432.9L172.2 431.7L173.3 433.1L174.3 437.7L175.3 441L176.4 445.7L177.4 445.5L178.4 441.6L179.5 438.2L180.5 438.3L181.5 438.2L182.6 438.7L183.6 435.5L184.6 432.9L185.6 433.9L186.7 433.2L187.7 433.1L188.7 432.9L189.8 434.1L190.8 433.5L191.8 433.1L192.9 433.7L193.9 434.1L194.9 434.1L196 435.7L197 437.4L198 434.7L199 436.1L200.1 438.3L201.1 438.6L202.1 434.9L203.2 435.7L204.2 436.1L205.2 439.4L206.3 436.9L207.3 435.9L208.3 434.1L209.4 435.2M150.6 454.3L151.6 452.1L152.7 453.9L153.7 454L154.7 455.7L155.8 455.6L156.8 456.3L157.8 456.3L158.8 455.9L159.9 455L160.9 455.3L161.9 455.6L163 455.8L164 455.2L165 456.2L166.1 455L167.1 452.9L168.1 454.9L169.2 455.3L170.2 451L171.2 449.4L172.2 445.5L173.3 442.5L174.3 449.3L175.3 453.3L176.4 457.3L177.4 460.4L178.4 458.3L179.5 454.7L180.5 455L181.5 454.6L182.6 453.3L183.6 455.1L184.6 453.9L185.6 453.8L186.7 454.6L187.7 454.7L188.7 453.4L189.8 453.8L190.8 453.6L191.8 455.2L192.9 454.5L193.9 455.7L194.9 455.8L196 455L197 454.6L198 456L199 456.3L200.1 455.9L201.1 456.6L202.1 456.2L203.2 452.8L204.2 453.7L205.2 453.4L206.3 454.1L207.3 454.6L208.3 454.4L209.4 456.9M150.6 469.6L151.6 469.7L152.7 469.6L153.7 469.6L154.7 470.4L155.8 470.3L156.8 470.9L157.8 472.4L158.8 471.2L159.9 469.8L160.9 470.6L161.9 470.6L163 470.6L164 470.8L165 470.3L166.1 469.5L167.1 472.6L168.1 472.1L169.2 470.6L170.2 470.1L171.2 469.2L172.2 468.8L173.3 472.4L174.3 479.3L175.3 484L176.4 489.1L177.4 486.3L178.4 483.2L179.5 480.8L180.5 472.6L181.5 471L182.6 471.6L183.6 469.3L184.6 470.2L185.6 472.9L186.7 469.6L187.7 468.5L188.7 470.3L189.8 469.7L190.8 469.8L191.8 469.7L192.9 469L193.9 470L194.9 469.5L196 469.4L197 469.8L198 471.4L199 471.6L200.1 470.5L201.1 470.5L202.1 470.4L203.2 470.7L204.2 470.7L205.2 470.5L206.3 471.9L207.3 471.5L208.3 471.6L209.4 470.3M150.6 455.9L151.6 456.1L152.7 455.7L153.7 455.9L154.7 455.8L155.8 456.1L156.8 455.6L157.8 454.8L158.8 454.7L159.9 455.3L160.9 456.3L161.9 454.5L163 454.8L164 455.3L165 454.3L166.1 455.5L167.1 454.3L168.1 455.4L169.2 455.3L170.2 453.5L171.2 450.1L172.2 444.3L173.3 444.7L174.3 447.5L175.3 452.8L176.4 456.5L177.4 458.6L178.4 458.4L179.5 454.4L180.5 454.9L181.5 453.6L182.6 452.2L183.6 453.3L184.6 453.5L185.6 453.3L186.7 453.7L187.7 451.8L188.7 452.4L189.8 454L190.8 454.7L191.8 455L192.9 453.9L193.9 452.5L194.9 452.5L196 455L197 454.9L198 456.4L199 455.1L200.1 453.7L201.1 456.1L202.1 455.1L203.2 456.7L204.2 456.4L205.2 455.5L206.3 455.6L207.3 456.4L208.3 455.6L209.4 454.7M150.6 470.5L151.6 470.9L152.7 470.3L153.7 469.5L154.7 470.2L155.8 472.2L156.8 473.4L157.8 471.1L158.8 470.6L159.9 471.1L160.9 470.1L161.9 471.2L163 469.6L164 470.1L165 471.7L166.1 470.3L167.1 470.9L168.1 470.1L169.2 470.9L170.2 470.4L171.2 469.3L172.2 468L173.3 471.6L174.3 476.4L175.3 481.9L176.4 486.3L177.4 487.5L178.4 484.1L179.5 480L180.5 474.7L181.5 473.9L182.6 470.9L183.6 468.5L184.6 471.2L185.6 470.2L186.7 468.1L187.7 470.2L188.7 468.8L189.8 469.2L190.8 469.7L191.8 469.1L192.9 469.8L193.9 471.8L194.9 470.7L196 473.3L197 469.7L198 470L199 471.7L200.1 471.7L201.1 470.2L202.1 472.7L203.2 471.4L204.2 472.6L205.2 471.3L206.3 471.4L207.3 471L208.3 470.5L209.4 470.8M150.6 455.6L151.6 454.1L152.7 454.5L153.7 454L154.7 455.9L155.8 455.2L156.8 455.5L157.8 455.7L158.8 454.6L159.9 452.6L160.9 452.2L161.9 454.5L163 455.7L164 456.2L165 456.3L166.1 455.3L167.1 453.4L168.1 454.4L169.2 454.1L170.2 453.6L171.2 451.4L172.2 448.3L173.3 446.1L174.3 449.8L175.3 454.2L176.4 457.4L177.4 458.3L178.4 455L179.5 454.5L180.5 453.6L181.5 454.8L182.6 453.8L183.6 454L184.6 454.2L185.6 454.4L186.7 453.6L187.7 454.4L188.7 453.7L189.8 452.5L190.8 453.1L191.8 455.2L192.9 453.4L193.9 455.9L194.9 455.9L196 455.8L197 454.3L198 456.5L199 456.5L200.1 456.3L201.1 453.6L202.1 454.3L203.2 456.2L204.2 455.6L205.2 455.2L206.3 456.9L207.3 456.9L208.3 456.7L209.4 456.9M150.6 470.2L151.6 469.4L152.7 472L153.7 469.6L154.7 471.2L155.8 470.7L156.8 471.2L157.8 472L158.8 470.2L159.9 470.2L160.9 471.5L161.9 471.3L163 471.5L164 471.6L165 471.1L166.1 469.6L167.1 469.9L168.1 471L169.2 473.9L170.2 472.4L171.2 469.1L172.2 469.1L173.3 472.3L174.3 476.8L175.3 484.8L176.4 488L177.4 487.1L178.4 485.1L179.5 477.8L180.5 472.7L181.5 471.3L182.6 471.8L183.6 471.1L184.6 470.6L185.6 469.5L186.7 470.3L187.7 468.1L188.7 468.7L189.8 472L190.8 470.2L191.8 470L192.9 469.5L193.9 469.2L194.9 469.7L196 469.8L197 472L198 472.1L199 471.3L200.1 471.3L201.1 471.4L202.1 471.6L203.2 471.4L204.2 471.7L205.2 471.6L206.3 472.2L207.3 473.8L208.3 472.8L209.4 471M150.6 491.5L151.6 491.7L152.7 490.2L153.7 491.7L154.7 492.1L155.8 491.8L156.8 490.4L157.8 490.2L158.8 491.6L159.9 489.5L160.9 487.2L161.9 487.7L163 489.3L164 491.1L165 492L166.1 489.9L167.1 491.9L168.1 492L169.2 491.5L170.2 490L171.2 490.2L172.2 490L173.3 490.6L174.3 491L175.3 490.4L176.4 492.4L177.4 492.6L178.4 490.9L179.5 491.3L180.5 491.4L181.5 489.9L182.6 489.9L183.6 491.1L184.6 491.7L185.6 490.1L186.7 491.1L187.7 490.6L188.7 491.6L189.8 491.5L190.8 491.5L191.8 491.1L192.9 491.3L193.9 491.5L194.9 491.5L196 492.1L197 491.5L198 491.3L199 491.6L200.1 491.2L201.1 491.4L202.1 489.8L203.2 487.9L204.2 491.3L205.2 491.4L206.3 491.6L207.3 491.2L208.3 490.1L209.4 491.4M150.6 507L151.6 507.6L152.7 508L153.7 508L154.7 507.2L155.8 505.6L156.8 506.4L157.8 505.4L158.8 506.2L159.9 508.1L160.9 506.8L161.9 505.5L163 505.6L164 506.4L165 507.2L166.1 507.1L167.1 505.3L168.1 505.3L169.2 505.4L170.2 505.2L171.2 506.6L172.2 505.1L173.3 507.3L174.3 506.2L175.3 508L176.4 508.7L177.4 509.2L178.4 507.8L179.5 506.2L180.5 505.8L181.5 505.6L182.6 506.4L183.6 506.9L184.6 506.1L185.6 507.2L186.7 506.8L187.7 506.9L188.7 505.6L189.8 505.4L190.8 508L191.8 508.4L192.9 506L193.9 506.4L194.9 505.7L196 506.1L197 505.5L198 505.2L199 506.3L200.1 506.4L201.1 505.9L202.1 506.6L203.2 507L204.2 508.2L205.2 508.4L206.3 507.1L207.3 507.1L208.3 507.3L209.4 507.2M150.6 489.3L151.6 488.7L152.7 488.7L153.7 490.1L154.7 490.7L155.8 491.1L156.8 490.9L157.8 491.1L158.8 491L159.9 491.5L160.9 490.8L161.9 489.5L163 490.1L164 491.3L165 490.4L166.1 491.2L167.1 488.8L168.1 487.5L169.2 488.5L170.2 491.4L171.2 490.5L172.2 490.1L173.3 490.8L174.3 490.7L175.3 491.1L176.4 492.7L177.4 491.4L178.4 492.4L179.5 492L180.5 491.1L181.5 490.8L182.6 491.8L183.6 491.1L184.6 491.6L185.6 488.7L186.7 488.3L187.7 488.8L188.7 489.4L189.8 489.6L190.8 490.9L191.8 490.2L192.9 491.3L193.9 489.6L194.9 487.5L196 491.3L197 489.6L198 488.2L199 489L200.1 491.6L201.1 491.4L202.1 491.7L203.2 491.6L204.2 491.6L205.2 489.7L206.3 490.7L207.3 491.9L208.3 489.7L209.4 489.7M150.6 505.8L151.6 506.6L152.7 505.3L153.7 505.8L154.7 507L155.8 507.6L156.8 506.1L157.8 505.3L158.8 507.2L159.9 505.9L160.9 505.8L161.9 507.2L163 507.5L164 507L165 509.2L166.1 509.4L167.1 506.5L168.1 506.2L169.2 507L170.2 507.4L171.2 505.5L172.2 505.3L173.3 506.6L174.3 506.8L175.3 509.2L176.4 509.1L177.4 509.2L178.4 510.2L179.5 508.2L180.5 506.2L181.5 507.3L182.6 506.4L183.6 505.6L184.6 506.3L185.6 505.9L186.7 507.2L187.7 506.2L188.7 506.8L189.8 505.7L190.8 506L191.8 508.1L192.9 509.6L193.9 509.7L194.9 507.7L196 508.1L197 506.3L198 506.9L199 505.7L200.1 506.1L201.1 507L202.1 507.5L203.2 505.6L204.2 505.3L205.2 505.9L206.3 507.6L207.3 507.4L208.3 507.8L209.4 506.5M150.6 492L151.6 491.3L152.7 489.4L153.7 489.6L154.7 491.4L155.8 491.3L156.8 492.1L157.8 488.7L158.8 490.1L159.9 489.3L160.9 491.5L161.9 491L163 492.1L164 491.1L165 489.8L166.1 491.3L167.1 491.4L168.1 490.6L169.2 489.5L170.2 490.7L171.2 491L172.2 490.2L173.3 490.2L174.3 489.6L175.3 491.5L176.4 491.6L177.4 492.8L178.4 490.5L179.5 488.1L180.5 488.2L181.5 490.8L182.6 491.4L183.6 489.2L184.6 489.9L185.6 489.7L186.7 491.3L187.7 490.3L188.7 490.8L189.8 489.4L190.8 490.9L191.8 491L192.9 491.2L193.9 490.7L194.9 491.2L196 491.5L197 491.7L198 491.7L199 490.6L200.1 491.5L201.1 491L202.1 490.5L203.2 491.1L204.2 490.8L205.2 491L206.3 490.1L207.3 490.6L208.3 489.1L209.4 488.8M150.6 505.5L151.6 506.3L152.7 506.4L153.7 508.4L154.7 507L155.8 508.9L156.8 508L157.8 508.1L158.8 505.5L159.9 506.4L160.9 506.3L161.9 505.7L163 507.7L164 507.3L165 507L166.1 505.3L167.1 505.4L168.1 506.1L169.2 505.4L170.2 505.6L171.2 505.7L172.2 505.9L173.3 508.2L174.3 507L175.3 507.8L176.4 511.2L177.4 511.5L178.4 509.4L179.5 506.9L180.5 506L181.5 506L182.6 505.6L183.6 507.4L184.6 506.7L185.6 505.5L186.7 508.3L187.7 508.6L188.7 507.8L189.8 508L190.8 509.4L191.8 509.1L192.9 507.3L193.9 506.2L194.9 506.4L196 505.5L197 506.8L198 506.4L199 506.6L200.1 505.8L201.1 505.5L202.1 507L203.2 506.5L204.2 507.7L205.2 505.5L206.3 505.5L207.3 506.8L208.3 505.6L209.4 506.6M211.9 365.6L212.9 366.1L214 365.3L215 364.9L216 365.3L217.1 365L218.1 366.8L219.1 366.5L220.1 367L221.2 366.2L222.2 364.7L223.2 364.8L224.3 363.2L225.3 364.1L226.3 364.8L227.4 364.1L228.4 363.9L229.4 363.6L230.5 365.8L231.5 365.6L232.5 365L233.5 364.3L234.6 365.6L235.6 365.8L236.6 366.4L237.7 367.3L238.7 366.5L239.7 365.1L240.8 363.8L241.8 364L242.8 364.3L243.9 366.3L244.9 366.5L245.9 364.6L246.9 363.4L248 365.9L249 364.4L250 363.9L251.1 366.2L252.1 366.1L253.1 364.9L254.2 364.6L255.2 364.3L256.2 367.1L257.3 366.7L258.3 364.8L259.3 366.2L260.3 365.3L261.4 367L262.4 365.6L263.4 366.5L264.5 366.4L265.5 367L266.5 365.9L267.6 364.4L268.6 364.6L269.6 366L270.7 367.1M211.9 381.7L212.9 381.4L214 381.5L215 381.1L216 382L217.1 382.1L218.1 381.3L219.1 382.8L220.1 382.3L221.2 381.8L222.2 380.3L223.2 382.2L224.3 384.2L225.3 383.6L226.3 382.7L227.4 381.7L228.4 381.7L229.4 381.6L230.5 381.7L231.5 381.8L232.5 382.8L233.5 381.5L234.6 383.1L235.6 384.4L236.6 388L237.7 387.5L238.7 385.1L239.7 383.5L240.8 383.1L241.8 381.5L242.8 381.2L243.9 380.7L244.9 382.4L245.9 380L246.9 380.2L248 381.2L249 381.5L250 381.2L251.1 380.1L252.1 381.9L253.1 380.9L254.2 380.1L255.2 380.8L256.2 382.3L257.3 382.9L258.3 382.3L259.3 380.7L260.3 381L261.4 381.1L262.4 380.3L263.4 380.3L264.5 380.4L265.5 380.8L266.5 380.5L267.6 381.7L268.6 382.9L269.6 382.5L270.7 381.6M211.9 363.5L212.9 364.3L214 366.3L215 366.1L216 365.3L217.1 366.2L218.1 366L219.1 367L220.1 364.9L221.2 365.2L222.2 365.2L223.2 364.2L224.3 364L225.3 366.1L226.3 366.1L227.4 364.1L228.4 365.8L229.4 366.6L230.5 365.5L231.5 366.1L232.5 365.8L233.5 362.8L234.6 362.2L235.6 363L236.6 364.2L237.7 366.5L238.7 366.9L239.7 365.9L240.8 366.6L241.8 365.8L242.8 365.5L243.9 366.1L244.9 366.4L245.9 366.9L246.9 365.9L248 364.6L249 364.9L250 365.4L251.1 364.7L252.1 366L253.1 364L254.2 366.6L255.2 366L256.2 364.7L257.3 366.4L258.3 366.8L259.3 366.6L260.3 366.1L261.4 366.2L262.4 366.7L263.4 365.6L264.5 365.6L265.5 365.2L266.5 367L267.6 366.2L268.6 366.3L269.6 366.3L270.7 367.1M211.9 381.3L212.9 380.2L214 381L215 382L216 381L217.1 380.2L218.1 381L219.1 381.8L220.1 381.2L221.2 381L222.2 381.3L223.2 381.2L224.3 381L225.3 380.6L226.3 380.6L227.4 380.9L228.4 381.1L229.4 380.3L230.5 381.2L231.5 383.8L232.5 381.9L233.5 381.6L234.6 381.2L235.6 383.2L236.6 384.9L237.7 383.1L238.7 382.5L239.7 382.6L240.8 383.1L241.8 380.9L242.8 382.7L243.9 380.8L244.9 383.5L245.9 382L246.9 381.3L248 381.7L249 381.5L250 380L251.1 381L252.1 382.2L253.1 382.5L254.2 382.9L255.2 380.9L256.2 381.4L257.3 380.8L258.3 380.6L259.3 381L260.3 382.3L261.4 382L262.4 380.9L263.4 380.9L264.5 380.7L265.5 381.7L266.5 380.5L267.6 380.8L268.6 381.3L269.6 380.3L270.7 380.2M211.9 365.2L212.9 367L214 364.9L215 363.4L216 366L217.1 366L218.1 364L219.1 366.2L220.1 366.7L221.2 366.6L222.2 366.3L223.2 367L224.3 366.4L225.3 367L226.3 366.8L227.4 366.9L228.4 367L229.4 366.2L230.5 366.4L231.5 366.7L232.5 365.8L233.5 365.1L234.6 363L235.6 365.5L236.6 366.6L237.7 364.9L238.7 364.8L239.7 364.1L240.8 364L241.8 365.9L242.8 366L243.9 366.1L244.9 364.4L245.9 365.1L246.9 363.4L248 366.5L249 366.4L250 365.8L251.1 366.2L252.1 365.9L253.1 364.1L254.2 365.2L255.2 366.8L256.2 363.9L257.3 364.4L258.3 364.8L259.3 366.8L260.3 364.8L261.4 365.7L262.4 365.5L263.4 365.3L264.5 367.1L265.5 365.4L266.5 367.1L267.6 365.2L268.6 365.9L269.6 365.8L270.7 367M211.9 381.2L212.9 381.2L214 380.6L215 383L216 381.3L217.1 381.8L218.1 381.5L219.1 380.9L220.1 380.7L221.2 381.7L222.2 382.2L223.2 381.7L224.3 382.5L225.3 381.7L226.3 380.8L227.4 380.8L228.4 380.9L229.4 380.8L230.5 383.2L231.5 383L232.5 381.3L233.5 381L234.6 381.6L235.6 381.6L236.6 381.6L237.7 383.3L238.7 382.9L239.7 383L240.8 381.2L241.8 381.7L242.8 382.1L243.9 380.7L244.9 380.6L245.9 382.9L246.9 380.2L248 381L249 381.3L250 380.6L251.1 381.2L252.1 381.2L253.1 380.3L254.2 383.6L255.2 383.1L256.2 385.3L257.3 382.7L258.3 381.8L259.3 381.1L260.3 382.7L261.4 383.6L262.4 383.9L263.4 383.9L264.5 382.7L265.5 382.1L266.5 383.7L267.6 384.1L268.6 382.3L269.6 380.2L270.7 380.9M211.9 402.7L212.9 402.4L214 401.8L215 401.1L216 401.7L217.1 403L218.1 400.1L219.1 401.2L220.1 403L221.2 400.6L222.2 400.8L223.2 400.9L224.3 402.7L225.3 402.9L226.3 402.6L227.4 402.7L228.4 402.5L229.4 402L230.5 402.1L231.5 399.9L232.5 396.4L233.5 394L234.6 394.5L235.6 395.6L236.6 398.7L237.7 402.7L238.7 404.9L239.7 404.3L240.8 401.8L241.8 402L242.8 402.1L243.9 402L244.9 400.7L245.9 401.9L246.9 400.9L248 400.2L249 401.8L250 401.9L251.1 401.6L252.1 402.1L253.1 401.7L254.2 402.1L255.2 402L256.2 400.4L257.3 399.7L258.3 401.9L259.3 401.6L260.3 402.1L261.4 402.9L262.4 402L263.4 402.2L264.5 402.8L265.5 403L266.5 403.3L267.6 402.5L268.6 403.3L269.6 401.5L270.7 402.2M211.9 417.9L212.9 416.9L214 416.9L215 418L216 419.6L217.1 420.4L218.1 421.6L219.1 419.8L220.1 418L221.2 417.5L222.2 416.2L223.2 417.8L224.3 416.8L225.3 416.7L226.3 417.3L227.4 418.3L228.4 416.9L229.4 417.7L230.5 418L231.5 419.6L232.5 418.2L233.5 416.4L234.6 416.4L235.6 421.5L236.6 425.8L237.7 428.5L238.7 428.1L239.7 426L240.8 423.3L241.8 418.9L242.8 417.7L243.9 419.4L244.9 420.2L245.9 419.4L246.9 417.7L248 415.9L249 415.4L250 417.1L251.1 416.2L252.1 416L253.1 417.7L254.2 417.7L255.2 416.1L256.2 416.4L257.3 418.8L258.3 416.2L259.3 418.3L260.3 419.5L261.4 419.8L262.4 417.8L263.4 417.6L264.5 416.8L265.5 417.5L266.5 416.9L267.6 416.7L268.6 417.1L269.6 419L270.7 419.8M211.9 402.8L212.9 402.7L214 401.9L215 401.8L216 402.8L217.1 401.3L218.1 401.9L219.1 401.2L220.1 401.4L221.2 402.8L222.2 401.9L223.2 402.1L224.3 402.1L225.3 400.7L226.3 402L227.4 401.3L228.4 401.9L229.4 402.2L230.5 400.4L231.5 399.6L232.5 395.9L233.5 393.9L234.6 395.2L235.6 398.4L236.6 399.9L237.7 401.3L238.7 404L239.7 402.9L240.8 402.2L241.8 400.3L242.8 401.9L243.9 401.5L244.9 400L245.9 400.7L246.9 402.1L248 399.2L249 400.7L250 401.4L251.1 402L252.1 401.3L253.1 401.8L254.2 402.5L255.2 401.3L256.2 401.9L257.3 402.9L258.3 401.1L259.3 403L260.3 402.2L261.4 402.8L262.4 403L263.4 402.5L264.5 402.9L265.5 402L266.5 401.7L267.6 403.3L268.6 403.2L269.6 403.2L270.7 403.5M211.9 417.3L212.9 416.6L214 416.7L215 417L216 417L217.1 419.5L218.1 420.2L219.1 419.6L220.1 418.3L221.2 417.1L222.2 416.6L223.2 416.3L224.3 417.2L225.3 419.2L226.3 419.8L227.4 417.8L228.4 416.9L229.4 418.8L230.5 419.4L231.5 419.3L232.5 416.6L233.5 415.8L234.6 418.8L235.6 422.1L236.6 424.4L237.7 427.3L238.7 428L239.7 426.1L240.8 421.3L241.8 420.1L242.8 419.6L243.9 417.8L244.9 416.5L245.9 416.2L246.9 417.9L248 419.3L249 417.4L250 415.5L251.1 415.8L252.1 415.8L253.1 417.9L254.2 418.5L255.2 418.3L256.2 417.6L257.3 418L258.3 419.5L259.3 417.7L260.3 416.8L261.4 418L262.4 416.8L263.4 416.5L264.5 416.6L265.5 417.1L266.5 418.6L267.6 418.4L268.6 417.2L269.6 418.3L270.7 417.7M211.9 402.9L212.9 402.9L214 401.8L215 402.4L216 400.9L217.1 400.9L218.1 401.2L219.1 398.9L220.1 399.3L221.2 402.4L222.2 402.9L223.2 402.1L224.3 399.4L225.3 400L226.3 400.9L227.4 402.7L228.4 401.2L229.4 402.3L230.5 400.5L231.5 399.6L232.5 395.2L233.5 393.4L234.6 394.1L235.6 394.5L236.6 398L237.7 402.9L238.7 404.9L239.7 404.4L240.8 399.5L241.8 401.8L242.8 399.9L243.9 401.7L244.9 399L245.9 400.8L246.9 402.1L248 400.6L249 399L250 401.9L251.1 400.4L252.1 398.1L253.1 400.1L254.2 402.1L255.2 401.2L256.2 401L257.3 401.7L258.3 402.6L259.3 402.5L260.3 402.5L261.4 402.9L262.4 402.6L263.4 403.3L264.5 403.4L265.5 402.2L266.5 403.2L267.6 401.5L268.6 400.4L269.6 400.5L270.7 403.1M211.9 417.7L212.9 418L214 420.3L215 418.7L216 419.6L217.1 417.7L218.1 419L219.1 419.8L220.1 420.8L221.2 418.6L222.2 416.2L223.2 417.8L224.3 416.5L225.3 416.7L226.3 417L227.4 417.3L228.4 416.1L229.4 419L230.5 419L231.5 421.2L232.5 417.5L233.5 414.4L234.6 419L235.6 421.4L236.6 425.6L237.7 428L238.7 427.7L239.7 427L240.8 420.6L241.8 418.8L242.8 418.1L243.9 416.8L244.9 415.6L245.9 415.5L246.9 416.7L248 415.9L249 415.3L250 415.9L251.1 415.6L252.1 417.3L253.1 417.5L254.2 418.5L255.2 416.3L256.2 417L257.3 417.7L258.3 416.4L259.3 417.8L260.3 416.6L261.4 416.5L262.4 416.5L263.4 418.2L264.5 419.1L265.5 417.5L266.5 417.6L267.6 416.8L268.6 417.2L269.6 416.6L270.7 417.5M211.9 438.1L212.9 438.7L214 437.9L215 438.5L216 436.6L217.1 438.3L218.1 438.1L219.1 437L220.1 436.3L221.2 437.5L222.2 438L223.2 437.1L224.3 438.2L225.3 438L226.3 437.9L227.4 437L228.4 437.6L229.4 436.9L230.5 434.9L231.5 432.4L232.5 428.4L233.5 422.1L234.6 420.3L235.6 425.8L236.6 435.2L237.7 442.1L238.7 444.5L239.7 442.2L240.8 436.6L241.8 434.4L242.8 435.9L243.9 436.1L244.9 435.6L245.9 435.2L246.9 434.7L248 433.5L249 434.4L250 435.4L251.1 434.2L252.1 436.1L253.1 435.9L254.2 437.3L255.2 438L256.2 437.3L257.3 438.5L258.3 439.1L259.3 438.6L260.3 436.7L261.4 437.4L262.4 438.7L263.4 439.2L264.5 439.5L265.5 439.5L266.5 438.9L267.6 438.3L268.6 436.8L269.6 436.6L270.7 437.3M211.9 451.9L212.9 453.7L214 455.2L215 455.3L216 451.9L217.1 453.2L218.1 453.5L219.1 451.9L220.1 452.8L221.2 452.4L222.2 452.5L223.2 453.5L224.3 454.2L225.3 453.1L226.3 455.6L227.4 456L228.4 453.2L229.4 452.4L230.5 452.4L231.5 452.1L232.5 450.9L233.5 449.7L234.6 454.7L235.6 462.7L236.6 472.8L237.7 479.9L238.7 481.1L239.7 474.9L240.8 466.3L241.8 459.5L242.8 454.7L243.9 451.8L244.9 450.5L245.9 449.6L246.9 448.6L248 448.5L249 449.6L250 450L251.1 449L252.1 451.1L253.1 451.2L254.2 450.6L255.2 451.2L256.2 452.2L257.3 452.5L258.3 452.5L259.3 453.8L260.3 453L261.4 453.1L262.4 453.4L263.4 454.1L264.5 453.8L265.5 453L266.5 454.4L267.6 456.1L268.6 455.9L269.6 454.4L270.7 454.2M211.9 436.9L212.9 438L214 437.3L215 436.1L216 437L217.1 436.4L218.1 438.6L219.1 438.6L220.1 438.7L221.2 438.1L222.2 438L223.2 438.2L224.3 435.8L225.3 436.3L226.3 435.6L227.4 436.3L228.4 434.9L229.4 437.6L230.5 436.3L231.5 431.9L232.5 429L233.5 421.7L234.6 419.9L235.6 424.4L236.6 434.4L237.7 440.2L238.7 441.7L239.7 438.3L240.8 437.7L241.8 435.6L242.8 435.1L243.9 434.9L244.9 434.7L245.9 434.8L246.9 435.1L248 432.5L249 435L250 435L251.1 433.5L252.1 434.6L253.1 435.6L254.2 437.4L255.2 437.7L256.2 437.4L257.3 436L258.3 435.8L259.3 436.1L260.3 437.1L261.4 439.2L262.4 439.1L263.4 439.1L264.5 439.5L265.5 439.9L266.5 439.3L267.6 438.2L268.6 438.9L269.6 440.4L270.7 439.7M211.9 451.8L212.9 451.9L214 452.7L215 453L216 453.1L217.1 453.7L218.1 453L219.1 453.6L220.1 453.5L221.2 451.9L222.2 454.5L223.2 454.9L224.3 455.6L225.3 453.7L226.3 452L227.4 453.1L228.4 451.9L229.4 455L230.5 454.2L231.5 455.1L232.5 451.1L233.5 449.1L234.6 453.9L235.6 461.8L236.6 473.4L237.7 482.9L238.7 481.6L239.7 474.8L240.8 466.4L241.8 457.8L242.8 453.4L243.9 452.6L244.9 449.9L245.9 449.8L246.9 452.4L248 450.1L249 448.9L250 450L251.1 450.2L252.1 449.7L253.1 451L254.2 452.3L255.2 453.2L256.2 453.4L257.3 451.9L258.3 452.2L259.3 453.1L260.3 454.6L261.4 454.5L262.4 453.9L263.4 454.7L264.5 453.5L265.5 455.1L266.5 453.7L267.6 454.1L268.6 453.4L269.6 454.6L270.7 454.5M211.9 438.8L212.9 438.8L214 438.1L215 438.6L216 438.2L217.1 438.6L218.1 438.7L219.1 436.9L220.1 436.2L221.2 436.6L222.2 438.4L223.2 437.3L224.3 437L225.3 435.7L226.3 437.9L227.4 438.5L228.4 433.8L229.4 435.9L230.5 434.9L231.5 435L232.5 429.8L233.5 423.4L234.6 423L235.6 428.2L236.6 435.9L237.7 440.6L238.7 442.4L239.7 438.5L240.8 437.9L241.8 434.8L242.8 433L243.9 434.1L244.9 434.7L245.9 433.4L246.9 434L248 435.1L249 434.5L250 434.9L251.1 433.7L252.1 434.5L253.1 435.3L254.2 434.3L255.2 434.6L256.2 434.3L257.3 435.9L258.3 434.6L259.3 438L260.3 437.5L261.4 439.5L262.4 438.1L263.4 439.1L264.5 439.8L265.5 439.8L266.5 440L267.6 438.5L268.6 438.6L269.6 439.8L270.7 440.5M211.9 452.2L212.9 452.2L214 454.4L215 453.6L216 454.4L217.1 454.2L218.1 454.4L219.1 454.7L220.1 453.2L221.2 453.4L222.2 454.1L223.2 452.7L224.3 452L225.3 455.1L226.3 454.2L227.4 452.6L228.4 452.7L229.4 453.8L230.5 452.2L231.5 453.5L232.5 450.6L233.5 448.6L234.6 452.3L235.6 461.1L236.6 471.5L237.7 477.1L238.7 478.7L239.7 471.5L240.8 461.9L241.8 456.5L242.8 452.8L243.9 452.2L244.9 450.6L245.9 451.3L246.9 449.6L248 449.8L249 448.6L250 449.1L251.1 450.9L252.1 450.9L253.1 450.3L254.2 452.3L255.2 451.7L256.2 453.2L257.3 453.4L258.3 452.9L259.3 454.6L260.3 455L261.4 455.5L262.4 456.1L263.4 453.3L264.5 453.4L265.5 454.7L266.5 454.4L267.6 453.7L268.6 453.5L269.6 455L270.7 455.4M211.9 474.5L212.9 472.6L214 473.5L215 473.2L216 473.9L217.1 473.2L218.1 472.8L219.1 471.7L220.1 474.3L221.2 474.5L222.2 473.6L223.2 473.7L224.3 474.4L225.3 474.1L226.3 473.4L227.4 474L228.4 473.8L229.4 473.9L230.5 472.7L231.5 472.8L232.5 469.2L233.5 467.6L234.6 467.9L235.6 467.7L236.6 470.5L237.7 476.3L238.7 476.8L239.7 475.2L240.8 473.6L241.8 473L242.8 472.7L243.9 473.5L244.9 473.4L245.9 473.2L246.9 472.8L248 471L249 471.6L250 469.8L251.1 470.6L252.1 470.7L253.1 473.1L254.2 471.9L255.2 473.2L256.2 471.1L257.3 472.1L258.3 469.9L259.3 472.8L260.3 473L261.4 473.1L262.4 472.3L263.4 473.7L264.5 474.5L265.5 474.3L266.5 473.9L267.6 474.6L268.6 473.4L269.6 472.1L270.7 473M211.9 488.2L212.9 488.1L214 488.1L215 487.8L216 489.5L217.1 489.7L218.1 488.4L219.1 487.7L220.1 489.9L221.2 489.3L222.2 488L223.2 488.6L224.3 489.7L225.3 489.9L226.3 487.5L227.4 487.9L228.4 488.2L229.4 488.3L230.5 488L231.5 489.2L232.5 486.9L233.5 487.2L234.6 487.9L235.6 491.3L236.6 495.1L237.7 498.4L238.7 500L239.7 497.2L240.8 494.5L241.8 489.6L242.8 488.5L243.9 489.4L244.9 488.8L245.9 490.8L246.9 488.8L248 490.2L249 488.2L250 487.9L251.1 486.7L252.1 486.7L253.1 487.5L254.2 488L255.2 487.8L256.2 489.3L257.3 489L258.3 488.3L259.3 488.2L260.3 489.1L261.4 488L262.4 489.7L263.4 492.2L264.5 490.3L265.5 488.5L266.5 489.4L267.6 488.5L268.6 489.5L269.6 488.8L270.7 489.1M211.9 473.8L212.9 473.7L214 472.7L215 472.8L216 473.6L217.1 472.5L218.1 471.2L219.1 470.7L220.1 473.5L221.2 471.3L222.2 471.4L223.2 472.6L224.3 473.1L225.3 472.8L226.3 474L227.4 474.1L228.4 471.5L229.4 474L230.5 472L231.5 472.1L232.5 469.9L233.5 467.8L234.6 465.7L235.6 469.6L236.6 471.7L237.7 474.7L238.7 473.7L239.7 475.5L240.8 473.5L241.8 473.3L242.8 473.1L243.9 472.5L244.9 471.6L245.9 470.6L246.9 470.6L248 471.3L249 473.1L250 472.2L251.1 471.3L252.1 470.2L253.1 470.3L254.2 471.3L255.2 471.9L256.2 473.5L257.3 474.3L258.3 473.5L259.3 472.6L260.3 472.7L261.4 473.2L262.4 474.8L263.4 473.5L264.5 473.6L265.5 474.8L266.5 471.5L267.6 472.5L268.6 474.1L269.6 474L270.7 474.3M211.9 487.9L212.9 489.9L214 491.2L215 489.1L216 487.6L217.1 488.1L218.1 488.9L219.1 488.3L220.1 487.8L221.2 489.9L222.2 488.5L223.2 488.1L224.3 488.3L225.3 489.6L226.3 488.1L227.4 489L228.4 488.4L229.4 491.4L230.5 491L231.5 489.3L232.5 488.6L233.5 486L234.6 487.5L235.6 491.1L236.6 495L237.7 497.9L238.7 498.4L239.7 496.3L240.8 492.6L241.8 489.2L242.8 489.1L243.9 487.9L244.9 487.4L245.9 487.1L246.9 488.8L248 486.3L249 487.2L250 488.8L251.1 487.8L252.1 490.3L253.1 489L254.2 488.9L255.2 488.3L256.2 488.8L257.3 489.3L258.3 490.7L259.3 489.1L260.3 488.8L261.4 488.9L262.4 491.5L263.4 489.9L264.5 488.6L265.5 488.4L266.5 488.8L267.6 489.8L268.6 489.2L269.6 491.2L270.7 488.9M211.9 473.9L212.9 473.2L214 473.8L215 474.2L216 474L217.1 474.2L218.1 473.9L219.1 474.2L220.1 473.4L221.2 471.4L222.2 470.9L223.2 470.7L224.3 471.1L225.3 471L226.3 472.3L227.4 472.6L228.4 472.4L229.4 470.2L230.5 470.5L231.5 472.5L232.5 470L233.5 465.7L234.6 462L235.6 465.7L236.6 469.9L237.7 475.6L238.7 476L239.7 476L240.8 472.8L241.8 470.7L242.8 473.3L243.9 472.3L244.9 471.2L245.9 472L246.9 469.4L248 470.2L249 472.2L250 472L251.1 472.3L252.1 473.5L253.1 473.2L254.2 473.8L255.2 472.8L256.2 473.6L257.3 473.5L258.3 474.4L259.3 474.3L260.3 473.9L261.4 474.7L262.4 473.5L263.4 474.3L264.5 474.2L265.5 474.1L266.5 473.2L267.6 472.6L268.6 473.3L269.6 473.3L270.7 474.4M211.9 488.9L212.9 488.6L214 488.8L215 489.6L216 489.6L217.1 488.2L218.1 488.5L219.1 488.7L220.1 487.7L221.2 488.6L222.2 488L223.2 487.5L224.3 488.1L225.3 488L226.3 489.6L227.4 489.1L228.4 487.8L229.4 489L230.5 489.3L231.5 489.6L232.5 486.9L233.5 486.4L234.6 488L235.6 491.7L236.6 495.7L237.7 498L238.7 498.9L239.7 496.9L240.8 493.3L241.8 491.8L242.8 489.9L243.9 490.6L244.9 489.2L245.9 486.6L246.9 486.5L248 488.1L249 486.5L250 489.1L251.1 486.7L252.1 488.8L253.1 486.9L254.2 488.1L255.2 487.7L256.2 487.7L257.3 489.7L258.3 491.5L259.3 491L260.3 489.6L261.4 490.6L262.4 491.4L263.4 488.8L264.5 489.2L265.5 489.3L266.5 488.2L267.6 490L268.6 488.7L269.6 488.2L270.7 488.4M273.2 347.4L274.2 347.6L275.2 349.4L276.2 348.7L277.2 349.3L278.3 349.5L279.3 349.2L280.3 348.9L281.3 349.8L282.3 349.1L283.3 349.2L284.3 349.7L285.3 349.7L286.3 348.9L287.4 348.5L288.4 347.6L289.4 348.2L290.4 349.3L291.4 348.2L292.4 348.9L293.4 347.7L294.4 345.5L295.5 347.1L296.5 346.4L297.5 347.9L298.5 347L299.5 349.6L300.5 348L301.5 349.4L302.5 348.8L303.5 349.4L304.6 348.8L305.6 347.1L306.6 348.4L307.6 348.4L308.6 347.5L309.6 348.8L310.6 348.8L311.6 349.5L312.6 347.7L313.7 345.9L314.7 346.4L315.7 349.1L316.7 348.6L317.7 347L318.7 347.4L319.7 348.5L320.7 349L321.8 349.4L322.8 349.7L323.8 348.7L324.8 349.8L325.8 347.8L326.8 345.8L327.8 348.6L328.8 349L329.8 348.1L330.9 349.9M273.2 363.6L274.2 365L275.2 366.5L276.2 363.1L277.2 365L278.3 364.8L279.3 363.1L280.3 363.5L281.3 363.4L282.3 363.1L283.3 363.9L284.3 363.2L285.3 364.8L286.3 364.2L287.4 363.3L288.4 364.1L289.4 364.9L290.4 364L291.4 363.6L292.4 364.2L293.4 363.7L294.4 364.2L295.5 365.9L296.5 368L297.5 368.2L298.5 367.9L299.5 367.5L300.5 367.5L301.5 366.1L302.5 364.4L303.5 364.2L304.6 363.4L305.6 363.5L306.6 363.8L307.6 362.7L308.6 363.5L309.6 362.9L310.6 363.9L311.6 364.8L312.6 363.3L313.7 363.1L314.7 364.2L315.7 365L316.7 363.4L317.7 364.5L318.7 363.8L319.7 364.2L320.7 364.3L321.8 363.4L322.8 364.7L323.8 363.3L324.8 363.2L325.8 364.9L326.8 364L327.8 364.2L328.8 364.7L329.8 366.2L330.9 365.7M273.2 349.2L274.2 348.5L275.2 348.8L276.2 349.5L277.2 347.7L278.3 347.2L279.3 348.1L280.3 347.7L281.3 347.1L282.3 345.7L283.3 348.4L284.3 349.7L285.3 348.8L286.3 349.3L287.4 348.7L288.4 349.6L289.4 348.8L290.4 347.6L291.4 348.5L292.4 349.3L293.4 347.1L294.4 346.6L295.5 345.9L296.5 348.3L297.5 349L298.5 349.6L299.5 348.9L300.5 346.4L301.5 349.3L302.5 349.2L303.5 348.1L304.6 349.1L305.6 349.1L306.6 348.4L307.6 349.4L308.6 347.4L309.6 346.8L310.6 346.7L311.6 347.9L312.6 348.2L313.7 349.3L314.7 348.1L315.7 348.3L316.7 349.1L317.7 348.4L318.7 349.6L319.7 349.7L320.7 349.7L321.8 348.9L322.8 349.6L323.8 349.6L324.8 349.9L325.8 348.6L326.8 347.6L327.8 348L328.8 348.7L329.8 347.3L330.9 347.3M273.2 363.5L274.2 362.9L275.2 364.4L276.2 363.4L277.2 363.9L278.3 364.2L279.3 365.7L280.3 363.6L281.3 366.1L282.3 363L283.3 364.5L284.3 363.2L285.3 362.9L286.3 363.5L287.4 363L288.4 363.8L289.4 363.3L290.4 362.8L291.4 365.1L292.4 364.8L293.4 364.7L294.4 362.5L295.5 363.6L296.5 364.2L297.5 364.5L298.5 365.7L299.5 366.3L300.5 364.3L301.5 364.8L302.5 365.2L303.5 367L304.6 366.9L305.6 365.3L306.6 364.8L307.6 365.3L308.6 363.8L309.6 363.7L310.6 362.7L311.6 364L312.6 364.7L313.7 364.1L314.7 364L315.7 364L316.7 364.1L317.7 363.5L318.7 365L319.7 365.3L320.7 366.6L321.8 364.7L322.8 366.6L323.8 366.4L324.8 366.2L325.8 366.2L326.8 366.6L327.8 365.8L328.8 365L329.8 363.3L330.9 364.4M273.2 346.8L274.2 348.4L275.2 349L276.2 348.2L277.2 348.9L278.3 349.7L279.3 347.9L280.3 347.2L281.3 345.7L282.3 346.4L283.3 347.2L284.3 348L285.3 349.2L286.3 349.3L287.4 348.9L288.4 349.5L289.4 348.8L290.4 348.3L291.4 345.5L292.4 348.1L293.4 347.1L294.4 345.7L295.5 346.4L296.5 348.1L297.5 347.3L298.5 349.1L299.5 349.6L300.5 349.2L301.5 348.5L302.5 349.1L303.5 349.3L304.6 348.3L305.6 346.8L306.6 348.1L307.6 349.2L308.6 349L309.6 347.7L310.6 346.5L311.6 347.3L312.6 349.1L313.7 349.4L314.7 349.7L315.7 349.5L316.7 349.4L317.7 348.8L318.7 349.7L319.7 348.5L320.7 347.9L321.8 346.9L322.8 346L323.8 349.7L324.8 347.3L325.8 347.8L326.8 349.1L327.8 349L328.8 348.3L329.8 346.8L330.9 346.5M273.2 364.5L274.2 365.4L275.2 364.3L276.2 363.3L277.2 363.8L278.3 364.7L279.3 365.6L280.3 365.1L281.3 363L282.3 363.6L283.3 363.7L284.3 364.3L285.3 365.6L286.3 365.7L287.4 363.4L288.4 364L289.4 363.8L290.4 363.3L291.4 362.9L292.4 363.4L293.4 365L294.4 365.5L295.5 366.3L296.5 363.9L297.5 366.7L298.5 368.5L299.5 364.9L300.5 364.6L301.5 364.6L302.5 366.2L303.5 367.9L304.6 365L305.6 362.9L306.6 365.6L307.6 365.2L308.6 363.9L309.6 363.1L310.6 363.2L311.6 363.3L312.6 363.2L313.7 364.1L314.7 363.3L315.7 363.4L316.7 363L317.7 363L318.7 362.8L319.7 363.8L320.7 363.9L321.8 362.9L322.8 363.2L323.8 363.6L324.8 364.5L325.8 363.6L326.8 364.1L327.8 363.4L328.8 363.3L329.8 363.6L330.9 365.4M273.2 383.1L274.2 383.8L275.2 383.4L276.2 382.7L277.2 382.9L278.3 383.5L279.3 383.7L280.3 382.9L281.3 384.2L282.3 383.1L283.3 383.2L284.3 383.2L285.3 384.1L286.3 381.3L287.4 382.2L288.4 383.7L289.4 384L290.4 384.2L291.4 383.4L292.4 382.4L293.4 381.4L294.4 377L295.5 378.3L296.5 377.4L297.5 382.7L298.5 381.8L299.5 385.3L300.5 383.3L301.5 381.3L302.5 383.1L303.5 383.6L304.6 383.8L305.6 383.7L306.6 383.6L307.6 380.9L308.6 380.5L309.6 377.7L310.6 380.1L311.6 379.6L312.6 382L313.7 384L314.7 382.5L315.7 384L316.7 382.3L317.7 383L318.7 382.7L319.7 384.5L320.7 383.9L321.8 383.1L322.8 383.7L323.8 381.6L324.8 383L325.8 384.3L326.8 381.7L327.8 384.4L328.8 384L329.8 382.2L330.9 384.7M273.2 398L274.2 398.6L275.2 398.7L276.2 398L277.2 398.7L278.3 398.1L279.3 398.1L280.3 397.9L281.3 398.3L282.3 399.5L283.3 398.2L284.3 400.2L285.3 399.8L286.3 400.2L287.4 398.6L288.4 398.5L289.4 398.6L290.4 398.1L291.4 399.7L292.4 399.3L293.4 398.7L294.4 398L295.5 399.2L296.5 401.9L297.5 404.1L298.5 405.4L299.5 405.4L300.5 403.1L301.5 401.1L302.5 399.2L303.5 400.9L304.6 400.6L305.6 397.9L306.6 399.1L307.6 401L308.6 400.7L309.6 398.9L310.6 398.3L311.6 400L312.6 399.7L313.7 399L314.7 397.6L315.7 398.3L316.7 398.4L317.7 398.3L318.7 398.2L319.7 399.4L320.7 398.9L321.8 399.7L322.8 400.3L323.8 398.1L324.8 399.9L325.8 399.9L326.8 398.7L327.8 400L328.8 399.8L329.8 398.7L330.9 398.2M273.2 381.7L274.2 381.7L275.2 384.5L276.2 382.2L277.2 383.1L278.3 384.4L279.3 383L280.3 383.4L281.3 383.6L282.3 384L283.3 383.8L284.3 382.4L285.3 381L286.3 381.4L287.4 382.9L288.4 384.1L289.4 384.6L290.4 383.4L291.4 383.7L292.4 382.2L293.4 378.6L294.4 378.5L295.5 378.6L296.5 378.3L297.5 382L298.5 383.2L299.5 383.2L300.5 380.9L301.5 383L302.5 383.6L303.5 382.5L304.6 383.8L305.6 383.8L306.6 383.8L307.6 382.1L308.6 383.9L309.6 383.9L310.6 381L311.6 383.4L312.6 384L313.7 381.8L314.7 382.2L315.7 382.1L316.7 384.6L317.7 381.9L318.7 380.8L319.7 382.2L320.7 382.9L321.8 384.7L322.8 384.5L323.8 383.9L324.8 384.4L325.8 384L326.8 383.7L327.8 384.9L328.8 383.6L329.8 382.9L330.9 384.2M273.2 399.1L274.2 398.3L275.2 397.9L276.2 398.7L277.2 399.8L278.3 398.1L279.3 399.1L280.3 399L281.3 399.1L282.3 399.7L283.3 401.2L284.3 399.5L285.3 398.5L286.3 399.2L287.4 397.9L288.4 399.3L289.4 398.6L290.4 398.8L291.4 397.9L292.4 397.8L293.4 400.1L294.4 396.4L295.5 397L296.5 401.4L297.5 402.1L298.5 405.3L299.5 405.5L300.5 402.7L301.5 401.1L302.5 399.3L303.5 398L304.6 400.2L305.6 399.7L306.6 398.5L307.6 397.3L308.6 397.2L309.6 397.1L310.6 397.3L311.6 397.1L312.6 397.4L313.7 397.5L314.7 397.7L315.7 399.3L316.7 397.8L317.7 398L318.7 398.7L319.7 398.4L320.7 398.1L321.8 399.6L322.8 397.9L323.8 400.4L324.8 400.8L325.8 399L326.8 401L327.8 400.6L328.8 399.3L329.8 398.5L330.9 398.7M273.2 382.8L274.2 383.9L275.2 384.1L276.2 383.5L277.2 383.9L278.3 382L279.3 382.8L280.3 383.8L281.3 384.1L282.3 382.5L283.3 384.4L284.3 383.4L285.3 380.7L286.3 384.1L287.4 384.6L288.4 384.4L289.4 383.6L290.4 384.1L291.4 381.6L292.4 380.6L293.4 379.7L294.4 378.3L295.5 377L296.5 379.9L297.5 382.4L298.5 383.4L299.5 384.8L300.5 383.9L301.5 382.9L302.5 382L303.5 383.6L304.6 382.8L305.6 379.9L306.6 379.5L307.6 380.5L308.6 383.6L309.6 382.4L310.6 383.7L311.6 382.6L312.6 384.1L313.7 383.1L314.7 382.3L315.7 383.8L316.7 384.2L317.7 382.3L318.7 382.2L319.7 383.6L320.7 382L321.8 382L322.8 384.2L323.8 384.6L324.8 384.9L325.8 384.6L326.8 384.1L327.8 384.6L328.8 382.8L329.8 381.1L330.9 382M273.2 397.9L274.2 399.1L275.2 399.6L276.2 398.1L277.2 398.4L278.3 399.2L279.3 399.4L280.3 400.3L281.3 399.3L282.3 398.5L283.3 398L284.3 397.7L285.3 399.9L286.3 398.5L287.4 398.7L288.4 399.9L289.4 400.1L290.4 400.5L291.4 398.1L292.4 399.2L293.4 399.8L294.4 397.7L295.5 397.9L296.5 399.5L297.5 401.8L298.5 403.2L299.5 403.9L300.5 402L301.5 400.4L302.5 398.9L303.5 398.2L304.6 398.4L305.6 397.7L306.6 398.3L307.6 398.2L308.6 400.1L309.6 401.3L310.6 401L311.6 398.7L312.6 398.6L313.7 398.6L314.7 400.2L315.7 399.5L316.7 400.1L317.7 399L318.7 398.1L319.7 398.6L320.7 398.9L321.8 399.3L322.8 399.3L323.8 400.4L324.8 398.7L325.8 399.1L326.8 399L327.8 398.2L328.8 399.3L329.8 398.8L330.9 398.5M273.2 420.5L274.2 420.5L275.2 418.1L276.2 418.4L277.2 418.1L278.3 419.7L279.3 420.5L280.3 420L281.3 420.1L282.3 419.7L283.3 419.2L284.3 418.7L285.3 419L286.3 420.1L287.4 420.5L288.4 420.7L289.4 419.8L290.4 417.5L291.4 417.7L292.4 416.6L293.4 408.7L294.4 404.9L295.5 404.5L296.5 409.2L297.5 414.4L298.5 419.8L299.5 421.4L300.5 419.3L301.5 416.7L302.5 418.4L303.5 418.8L304.6 419L305.6 418.3L306.6 417.5L307.6 418.1L308.6 417.4L309.6 417.4L310.6 417.8L311.6 417.4L312.6 418.2L313.7 418.9L314.7 418.7L315.7 420.3L316.7 420.5L317.7 419.6L318.7 421L319.7 420.5L320.7 418.7L321.8 420.1L322.8 419.8L323.8 421.8L324.8 421.3L325.8 420.5L326.8 421.9L327.8 420.8L328.8 421.9L329.8 421.2L330.9 420.4M273.2 434.7L274.2 434.2L275.2 435.2L276.2 435.1L277.2 436.2L278.3 435.2L279.3 434.6L280.3 436.6L281.3 435.2L282.3 434.6L283.3 435.2L284.3 434.3L285.3 437.2L286.3 438.5L287.4 437.8L288.4 436.3L289.4 434.6L290.4 435.4L291.4 434.7L292.4 434.5L293.4 434L294.4 429.7L295.5 431.8L296.5 438.9L297.5 446.1L298.5 448.9L299.5 449.2L300.5 446.6L301.5 442L302.5 438.8L303.5 436.7L304.6 436.9L305.6 433L306.6 431.7L307.6 434.3L308.6 431.3L309.6 431.5L310.6 432L311.6 432L312.6 433.5L313.7 434.1L314.7 436.7L315.7 435.8L316.7 437L317.7 435.9L318.7 436.3L319.7 434.6L320.7 436.6L321.8 437.1L322.8 435.1L323.8 435.5L324.8 436.1L325.8 435.6L326.8 437.5L327.8 436.9L328.8 435.9L329.8 436.6L330.9 437.5M273.2 420.5L274.2 420.6L275.2 420.4L276.2 421.1L277.2 420.5L278.3 419.7L279.3 420.3L280.3 419.9L281.3 418.9L282.3 416.2L283.3 417.6L284.3 417L285.3 420.8L286.3 418.2L287.4 421L288.4 419.9L289.4 420.8L290.4 418.8L291.4 418.5L292.4 415.2L293.4 408.1L294.4 403.6L295.5 403.4L296.5 410L297.5 416L298.5 420.7L299.5 422L300.5 421.1L301.5 419.1L302.5 418.6L303.5 416.9L304.6 419L305.6 418.1L306.6 416.7L307.6 417L308.6 417.3L309.6 414.8L310.6 417.7L311.6 417.3L312.6 417.3L313.7 418L314.7 417.3L315.7 417.8L316.7 419.3L317.7 420.9L318.7 420.4L319.7 418.6L320.7 418.9L321.8 421.3L322.8 421.6L323.8 421.5L324.8 421.8L325.8 421.2L326.8 421.6L327.8 421.5L328.8 421.9L329.8 421.6L330.9 421.5M273.2 435.9L274.2 438.1L275.2 435.7L276.2 434.5L277.2 436.7L278.3 436.6L279.3 434.7L280.3 435.4L281.3 436.1L282.3 434.5L283.3 436.2L284.3 436.4L285.3 435.6L286.3 434.2L287.4 435.4L288.4 435.6L289.4 436.8L290.4 435.9L291.4 436L292.4 434.7L293.4 434.4L294.4 431.6L295.5 434.5L296.5 439.3L297.5 445.7L298.5 448.1L299.5 448.6L300.5 445.4L301.5 441.2L302.5 437.8L303.5 434.3L304.6 433.9L305.6 434.9L306.6 433.8L307.6 433L308.6 432.1L309.6 431.2L310.6 432.1L311.6 432.3L312.6 432.4L313.7 435L314.7 435.9L315.7 436.7L316.7 436.7L317.7 435.8L318.7 435L319.7 436.5L320.7 435.9L321.8 435.9L322.8 436.2L323.8 435.3L324.8 436L325.8 435.3L326.8 435.4L327.8 435.9L328.8 437.5L329.8 438.2L330.9 437.4M273.2 419.7L274.2 418.7L275.2 417.8L276.2 417.6L277.2 417.7L278.3 418L279.3 419.4L280.3 418.5L281.3 418.3L282.3 420.1L283.3 419.3L284.3 418.7L285.3 419.4L286.3 418.4L287.4 419.8L288.4 420.8L289.4 420.6L290.4 420.3L291.4 418.2L292.4 415.2L293.4 410.8L294.4 406.6L295.5 403.9L296.5 410.2L297.5 415.7L298.5 418.7L299.5 422L300.5 418.9L301.5 419.9L302.5 418.1L303.5 415.4L304.6 416.7L305.6 418.4L306.6 418.1L307.6 417.1L308.6 417.6L309.6 418L310.6 416.8L311.6 417.8L312.6 417.5L313.7 417.3L314.7 418.9L315.7 419.3L316.7 419.7L317.7 419L318.7 420.3L319.7 421.5L320.7 418.9L321.8 419.3L322.8 420.9L323.8 421.1L324.8 420.9L325.8 421.7L326.8 421.9L327.8 420.6L328.8 419.2L329.8 418.7L330.9 419.5M273.2 434.3L274.2 434.8L275.2 434.2L276.2 434.5L277.2 435.2L278.3 434.2L279.3 434.6L280.3 434.1L281.3 435L282.3 434.6L283.3 436.1L284.3 435.7L285.3 435.6L286.3 435.4L287.4 434.9L288.4 436.1L289.4 437.6L290.4 440.2L291.4 439.3L292.4 435.5L293.4 432.2L294.4 431L295.5 434.1L296.5 439.7L297.5 446.1L298.5 450.6L299.5 451.5L300.5 447.6L301.5 440.9L302.5 437.4L303.5 434.9L304.6 433.6L305.6 432.9L306.6 433.1L307.6 432.4L308.6 432.3L309.6 431.2L310.6 431.6L311.6 434.2L312.6 433L313.7 433.9L314.7 436.8L315.7 436.5L316.7 437L317.7 435.1L318.7 438L319.7 438.6L320.7 439L321.8 437.6L322.8 436.4L323.8 435.2L324.8 435.4L325.8 435.9L326.8 435.2L327.8 435.8L328.8 436.3L329.8 436.4L330.9 436.6M273.2 453L274.2 454.2L275.2 455.9L276.2 455.9L277.2 455.8L278.3 455.4L279.3 456.1L280.3 456.5L281.3 456.7L282.3 453.8L283.3 455.4L284.3 454.1L285.3 455L286.3 454.4L287.4 455L288.4 456.8L289.4 455.8L290.4 456.1L291.4 453.5L292.4 450.3L293.4 445.6L294.4 439.8L295.5 440.8L296.5 446L297.5 450.9L298.5 456.6L299.5 458.4L300.5 457.1L301.5 454.1L302.5 453.4L303.5 453.3L304.6 454.5L305.6 452L306.6 451.4L307.6 453.2L308.6 453.9L309.6 452.2L310.6 450.7L311.6 452.4L312.6 454.2L313.7 454.4L314.7 455.1L315.7 454.5L316.7 456L317.7 456.4L318.7 455.4L319.7 456.9L320.7 456L321.8 455.5L322.8 456.1L323.8 457.5L324.8 456.5L325.8 454.9L326.8 453.4L327.8 454.3L328.8 456.3L329.8 457.1L330.9 457.1M273.2 470.3L274.2 471.4L275.2 471.9L276.2 472.5L277.2 470.5L278.3 472.2L279.3 470.2L280.3 470.6L281.3 472.3L282.3 472.5L283.3 472L284.3 471.8L285.3 470.3L286.3 470.5L287.4 470.2L288.4 470L289.4 471.2L290.4 472.9L291.4 472.8L292.4 470.9L293.4 468.6L294.4 467.8L295.5 469.7L296.5 476.3L297.5 483.6L298.5 488.6L299.5 489.9L300.5 485L301.5 476.9L302.5 474.1L303.5 473.4L304.6 469.8L305.6 469.5L306.6 467.7L307.6 467.7L308.6 469.3L309.6 469.1L310.6 467.1L311.6 468.2L312.6 468.6L313.7 469.9L314.7 471.5L315.7 470.8L316.7 469.9L317.7 472.1L318.7 474L319.7 473.6L320.7 474.7L321.8 472.5L322.8 471.3L323.8 472.7L324.8 472.8L325.8 471.7L326.8 471.4L327.8 471.9L328.8 471.2L329.8 471.5L330.9 471.8M273.2 456.7L274.2 456.7L275.2 453L276.2 455L277.2 454L278.3 456.7L279.3 456.2L280.3 456L281.3 456.6L282.3 456.7L283.3 454.5L284.3 453.1L285.3 453.2L286.3 453.3L287.4 454.2L288.4 454.8L289.4 455.7L290.4 455.7L291.4 453.6L292.4 451.4L293.4 446.9L294.4 443.3L295.5 443.4L296.5 447.7L297.5 452.9L298.5 457.7L299.5 459.8L300.5 457.6L301.5 455.9L302.5 452.6L303.5 452.9L304.6 453.3L305.6 453.6L306.6 453.8L307.6 451.9L308.6 452.4L309.6 453.6L310.6 450.6L311.6 452.2L312.6 454.7L313.7 454L314.7 454L315.7 455.8L316.7 455L317.7 456.6L318.7 456.4L319.7 456.9L320.7 456.7L321.8 455.3L322.8 455.3L323.8 455.1L324.8 456.9L325.8 455.9L326.8 456.2L327.8 456.4L328.8 458.2L329.8 456.7L330.9 455.8M273.2 470.5L274.2 471.3L275.2 470L276.2 472.3L277.2 471.5L278.3 474.5L279.3 471.6L280.3 473L281.3 470.7L282.3 473L283.3 471.4L284.3 470.3L285.3 472.5L286.3 473L287.4 471.2L288.4 470.3L289.4 471.1L290.4 471.7L291.4 473.2L292.4 471.8L293.4 469.8L294.4 468.1L295.5 471.1L296.5 476.9L297.5 484.1L298.5 488.4L299.5 488.9L300.5 484.5L301.5 478.9L302.5 475.9L303.5 472.4L304.6 470.8L305.6 472.1L306.6 470.4L307.6 469L308.6 468.5L309.6 467.9L310.6 467.6L311.6 467.5L312.6 468.4L313.7 469.7L314.7 471L315.7 471.9L316.7 470.8L317.7 472.5L318.7 470.6L319.7 471.2L320.7 473.6L321.8 471L322.8 474L323.8 473.5L324.8 470.9L325.8 472.1L326.8 471.2L327.8 472.8L328.8 471.7L329.8 472.7L330.9 473.7M273.2 456.6L274.2 454.5L275.2 452.7L276.2 452.3L277.2 454.8L278.3 454L279.3 456.9L280.3 456.1L281.3 456.3L282.3 456.4L283.3 456.3L284.3 456.3L285.3 456.6L286.3 455.2L287.4 456L288.4 456.1L289.4 456.4L290.4 455.5L291.4 455L292.4 451.6L293.4 447.5L294.4 440.4L295.5 439.7L296.5 446.8L297.5 452.2L298.5 456.1L299.5 458.7L300.5 456.1L301.5 454L302.5 452.4L303.5 453.5L304.6 453.9L305.6 453.5L306.6 452.3L307.6 453.8L308.6 453.7L309.6 452.6L310.6 452.2L311.6 452.9L312.6 454.5L313.7 454.4L314.7 454.3L315.7 455.8L316.7 456.6L317.7 454.9L318.7 456.5L319.7 456L320.7 455.5L321.8 455.2L322.8 455.2L323.8 455.5L324.8 455.5L325.8 455.3L326.8 455L327.8 456.5L328.8 457.4L329.8 455.9L330.9 455.3M273.2 470.9L274.2 471.9L275.2 470.9L276.2 470.4L277.2 471.6L278.3 472.8L279.3 472.2L280.3 470.9L281.3 470.2L282.3 472.6L283.3 469.9L284.3 470L285.3 470.4L286.3 470.1L287.4 471L288.4 471.5L289.4 470.2L290.4 470.3L291.4 470.3L292.4 471.4L293.4 469.9L294.4 465.7L295.5 467.8L296.5 476L297.5 481.2L298.5 486.9L299.5 487.1L300.5 483.3L301.5 478.2L302.5 474.4L303.5 470.3L304.6 471L305.6 469L306.6 469.5L307.6 469.6L308.6 467.7L309.6 469.6L310.6 467.3L311.6 470.3L312.6 472.8L313.7 469.3L314.7 470.7L315.7 473.1L316.7 473.2L317.7 471.9L318.7 472.6L319.7 470.8L320.7 471.3L321.8 470.9L322.8 470.8L323.8 471.4L324.8 472.3L325.8 471.2L326.8 471.3L327.8 473.6L328.8 475.4L329.8 476.2L330.9 474.2M273.2 492.7L274.2 491.3L275.2 491.9L276.2 490.1L277.2 491.5L278.3 492.5L279.3 491.7L280.3 491.1L281.3 492.6L282.3 492.5L283.3 492.5L284.3 491.9L285.3 492.4L286.3 490.9L287.4 489.8L288.4 489.7L289.4 492.3L290.4 490.8L291.4 491.2L292.4 490.3L293.4 487.6L294.4 487.2L295.5 487.4L296.5 489.9L297.5 489.8L298.5 492.3L299.5 493.4L300.5 492L301.5 491.1L302.5 490L303.5 491.9L304.6 491.8L305.6 492.1L306.6 492.2L307.6 492.2L308.6 492L309.6 490.6L310.6 489.7L311.6 488.9L312.6 491.3L313.7 492.5L314.7 492.8L315.7 492.4L316.7 491.9L317.7 491.5L318.7 491.1L319.7 490.9L320.7 490.1L321.8 492.9L322.8 489.9L323.8 490.4L324.8 492.2L325.8 491.3L326.8 491.6L327.8 490.7L328.8 490.7L329.8 490L330.9 492.2M273.2 509.4L274.2 509.9L275.2 507.5L276.2 507.1L277.2 506.5L278.3 509.5L279.3 508.7L280.3 507.1L281.3 507.7L282.3 506.5L283.3 507.8L284.3 506.8L285.3 508.1L286.3 507.9L287.4 506.4L288.4 508.6L289.4 509.1L290.4 507.4L291.4 507.7L292.4 507.6L293.4 506.3L294.4 506.1L295.5 505.3L296.5 508L297.5 510.7L298.5 510.3L299.5 511.5L300.5 509.5L301.5 508.5L302.5 507.1L303.5 509.4L304.6 509.4L305.6 509.2L306.6 507.8L307.6 508.2L308.6 508.3L309.6 507.9L310.6 509.1L311.6 507.9L312.6 508.1L313.7 506.9L314.7 507.9L315.7 507.2L316.7 506.1L317.7 506.5L318.7 506.1L319.7 506.8L320.7 506.9L321.8 507.5L322.8 507.8L323.8 506.4L324.8 506.9L325.8 507.6L326.8 508.4L327.8 507.3L328.8 508.7L329.8 509.7L330.9 509.8M273.2 490.6L274.2 489.5L275.2 488.1L276.2 490.7L277.2 490.1L278.3 491L279.3 490.9L280.3 491.5L281.3 492.9L282.3 490.5L283.3 488.1L284.3 490.8L285.3 491.9L286.3 490.4L287.4 492.2L288.4 492.7L289.4 492.8L290.4 492L291.4 492.2L292.4 490.4L293.4 488.9L294.4 488.2L295.5 488.1L296.5 488L297.5 489.1L298.5 491.4L299.5 490.4L300.5 490.5L301.5 490.3L302.5 492.4L303.5 492.6L304.6 491.4L305.6 491.6L306.6 491.7L307.6 489.9L308.6 491.7L309.6 491.6L310.6 491.4L311.6 491.5L312.6 492.3L313.7 491.2L314.7 491.2L315.7 490.5L316.7 492.2L317.7 493L318.7 493L319.7 493L320.7 492.4L321.8 492.2L322.8 492.3L323.8 490.8L324.8 490.4L325.8 491.5L326.8 492.3L327.8 492.6L328.8 492L329.8 490L330.9 491.6M273.2 509.6L274.2 508.6L275.2 507.2L276.2 508.9L277.2 506.9L278.3 507.8L279.3 507.7L280.3 506.3L281.3 507L282.3 508L283.3 507.1L284.3 507L285.3 506.6L286.3 507.9L287.4 508L288.4 508.3L289.4 506.5L290.4 506.6L291.4 506.5L292.4 507L293.4 506.8L294.4 507.6L295.5 505.8L296.5 507L297.5 509.2L298.5 511.5L299.5 510.3L300.5 510.3L301.5 510L302.5 507.3L303.5 506.9L304.6 507.6L305.6 506.1L306.6 508.7L307.6 508L308.6 506.1L309.6 507.2L310.6 507.3L311.6 506.9L312.6 507.9L313.7 507.4L314.7 506.8L315.7 507.6L316.7 507.5L317.7 507.3L318.7 508.3L319.7 506.9L320.7 509.1L321.8 510.6L322.8 508.8L323.8 507.4L324.8 507.5L325.8 506.5L326.8 507.6L327.8 506.4L328.8 507L329.8 507.6L330.9 506.8M273.2 491.8L274.2 489.1L275.2 489.5L276.2 490.9L277.2 491.9L278.3 492.4L279.3 490.7L280.3 489.5L281.3 489.7L282.3 491.5L283.3 492.7L284.3 492.9L285.3 491.3L286.3 492.5L287.4 493L288.4 491.5L289.4 492.7L290.4 491.8L291.4 490.7L292.4 491.2L293.4 489.7L294.4 488.2L295.5 487.5L296.5 487.3L297.5 490.4L298.5 492.8L299.5 490.8L300.5 493L301.5 492L302.5 490.7L303.5 492.6L304.6 490.6L305.6 492.6L306.6 492.3L307.6 491.8L308.6 492.5L309.6 492.5L310.6 491.9L311.6 490.8L312.6 489.8L313.7 491.1L314.7 491.2L315.7 490.5L316.7 488L317.7 490.8L318.7 491.4L319.7 493L320.7 493.1L321.8 491.7L322.8 491.9L323.8 493L324.8 492.8L325.8 490.7L326.8 491.8L327.8 491.6L328.8 491.7L329.8 492.3L330.9 491.2M273.2 506.7L274.2 507.4L275.2 507.9L276.2 507.1L277.2 506.9L278.3 507.9L279.3 506.4L280.3 506.6L281.3 507.6L282.3 509.5L283.3 509.6L284.3 510.6L285.3 508.4L286.3 508.5L287.4 507.1L288.4 506.7L289.4 507L290.4 508.4L291.4 510.4L292.4 508.9L293.4 507.4L294.4 506.9L295.5 506.7L296.5 508.9L297.5 509.5L298.5 511.4L299.5 511.8L300.5 510.6L301.5 509.7L302.5 507L303.5 506.8L304.6 507.4L305.6 506.3L306.6 506.7L307.6 507.5L308.6 505.8L309.6 506.3L310.6 505.5L311.6 506.7L312.6 507.8L313.7 507.5L314.7 506.2L315.7 506.5L316.7 510L317.7 510.3L318.7 510.8L319.7 508.3L320.7 508L321.8 508.1L322.8 506.6L323.8 507.4L324.8 508.2L325.8 507.9L326.8 508.9L327.8 508.5L328.8 507L329.8 507.1L330.9 508.1" fill="none" stroke="#f80808" stroke-width="1" stroke-linejoin="round"/>
<path d="M90.9 373.6L91.6 373.6L92.3 373.6L93 373.6L93.7 373.6L94.3 373.6L95 373.6L95.7 373.6L96.4 373.6L97.1 373.6L97.8 373.6L98.5 373.6L99.2 373.6L99.8 373.6L100.5 373.6L101.2 373.6L101.9 373.6L102.6 373.6L103.3 373.6L104 373.6L104.7 373.6L105.3 373.6L106 373.6L106.7 373.6L107.4 373.6L108.1 373.6L108.8 373.6L109.5 373.6L110.2 373.5L110.8 373.2L111.5 372.9L112.2 372.6L112.9 372.7L113.6 373.1L114.3 373.6L115 374.1L115.7 374.5L116.3 374.7L117 374.7L117.7 374.5L118.4 374.1L119.1 373.8L119.8 373.6L120.5 373.5L121.2 373.5L121.8 373.4L122.5 373.4L123.2 373.4L123.9 373.4L124.6 373.3L125.3 373.3L126 373.3L126.7 373.3L127.3 373.3L128 373.3L128.7 373.3L129.4 373.4L130.1 373.4L130.8 373.4L131.5 373.5L132.2 373.5L132.8 373.5L133.5 373.6L134.2 373.6L134.9 373.6L135.6 373.6L136.3 373.6L137 373.6L137.7 373.7L138.3 373.7L139 373.7L139.7 373.7L140.4 373.7L141.1 373.7L141.8 373.7L142.5 373.7L143.2 373.7L143.8 373.7L144.5 373.7L145.2 373.7L145.9 373.7L146.6 373.7L147.3 373.7L148 373.7M90.9 409.6L91.6 409.6L92.3 409.6L93 409.6L93.7 409.6L94.3 409.6L95 409.6L95.7 409.6L96.4 409.6L97.1 409.6L97.8 409.6L98.5 409.6L99.2 409.6L99.8 409.6L100.5 409.6L101.2 409.6L101.9 409.6L102.6 409.6L103.3 409.6L104 409.6L104.7 409.6L105.3 409.6L106 409.6L106.7 409.6L107.4 409.6L108.1 409.6L108.8 409.6L109.5 409.5L110.2 409.3L110.8 408.8L111.5 408.1L112.2 407.6L112.9 407.9L113.6 408.7L114.3 409.8L115 410.8L115.7 411.7L116.3 412.3L117 412.3L117.7 411.7L118.4 410.9L119.1 410.1L119.8 409.7L120.5 409.5L121.2 409.4L121.8 409.3L122.5 409.2L123.2 409.2L123.9 409.1L124.6 409.1L125.3 409L126 409L126.7 409L127.3 409L128 409L128.7 409.1L129.4 409.1L130.1 409.2L130.8 409.3L131.5 409.3L132.2 409.4L132.8 409.5L133.5 409.5L134.2 409.6L134.9 409.6L135.6 409.6L136.3 409.7L137 409.7L137.7 409.7L138.3 409.7L139 409.7L139.7 409.7L140.4 409.8L141.1 409.8L141.8 409.8L142.5 409.8L143.2 409.8L143.8 409.8L144.5 409.8L145.2 409.8L145.9 409.9L146.6 409.9L147.3 409.9L148 409.9M90.9 445.3L91.6 445.3L92.3 445.3L93 445.3L93.7 445.3L94.3 445.3L95 445.3L95.7 445.3L96.4 445.3L97.1 445.3L97.8 445.3L98.5 445.3L99.2 445.3L99.8 445.3L100.5 445.3L101.2 445.3L101.9 445.3L102.6 445.3L103.3 445.3L104 445.3L104.7 445.3L105.3 445.3L106 445.3L106.7 445.3L107.4 445.3L108.1 445.3L108.8 445.3L109.5 445.2L110.2 444.9L110.8 444.1L111.5 443.1L112.2 442.4L112.9 442.7L113.6 444L114.3 445.7L115 447.5L115.7 449.1L116.3 450.1L117 450.1L117.7 449L118.4 447.6L119.1 446.3L119.8 445.5L120.5 445.1L121.2 444.9L121.8 444.8L122.5 444.7L123.2 444.6L123.9 444.5L124.6 444.4L125.3 444.3L126 444.3L126.7 444.3L127.3 444.3L128 444.4L128.7 444.4L129.4 444.5L130.1 444.6L130.8 444.7L131.5 444.9L132.2 445L132.8 445.1L133.5 445.2L134.2 445.2L134.9 445.3L135.6 445.4L136.3 445.4L137 445.4L137.7 445.5L138.3 445.5L139 445.5L139.7 445.5L140.4 445.6L141.1 445.6L141.8 445.6L142.5 445.6L143.2 445.7L143.8 445.7L144.5 445.7L145.2 445.7L145.9 445.7L146.6 445.8L147.3 445.8L148 445.8M90.9 481L91.6 481L92.3 481L93 481L93.7 481L94.3 481L95 481L95.7 481L96.4 481L97.1 481L97.8 481L98.5 481L99.2 481L99.8 481L100.5 481L101.2 481L101.9 481L102.6 481L103.3 481L104 481L104.7 481L105.3 481L106 481L106.7 481L107.4 481L108.1 481L108.8 481L109.5 480.9L110.2 480.8L110.8 480.4L111.5 479.8L112.2 479.4L112.9 479.6L113.6 480.3L114.3 481.2L115 482.1L115.7 483L116.3 483.5L117 483.5L117.7 482.9L118.4 482.2L119.1 481.5L119.8 481.1L120.5 480.9L121.2 480.8L121.8 480.7L122.5 480.7L123.2 480.6L123.9 480.6L124.6 480.5L125.3 480.5L126 480.5L126.7 480.5L127.3 480.5L128 480.5L128.7 480.6L129.4 480.6L130.1 480.7L130.8 480.7L131.5 480.8L132.2 480.8L132.8 480.9L133.5 480.9L134.2 481L134.9 481L135.6 481L136.3 481.1L137 481.1L137.7 481.1L138.3 481.1L139 481.1L139.7 481.1L140.4 481.1L141.1 481.1L141.8 481.2L142.5 481.2L143.2 481.2L143.8 481.2L144.5 481.2L145.2 481.2L145.9 481.2L146.6 481.2L147.3 481.2L148 481.2M150.6 355.5L151.3 355.5L152 355.5L152.7 355.5L153.4 355.5L154.1 355.5L154.8 355.5L155.5 355.5L156.3 355.5L157 355.5L157.7 355.5L158.4 355.5L159.1 355.5L159.8 355.5L160.5 355.5L161.2 355.5L161.9 355.5L162.6 355.5L163.3 355.5L164 355.5L164.7 355.5L165.4 355.5L166.1 355.5L166.9 355.5L167.6 355.5L168.3 355.5L169 355.5L169.7 355.5L170.4 355.5L171.1 355.4L171.8 355.3L172.5 355.2L173.2 355.3L173.9 355.4L174.6 355.7L175.3 356L176 356.4L176.8 356.7L177.5 356.6L178.2 356.4L178.9 356L179.6 355.7L180.3 355.5L181 355.4L181.7 355.4L182.4 355.3L183.1 355.3L183.8 355.3L184.5 355.3L185.2 355.2L185.9 355.2L186.6 355.2L187.4 355.2L188.1 355.2L188.8 355.2L189.5 355.2L190.2 355.3L190.9 355.3L191.6 355.3L192.3 355.4L193 355.4L193.7 355.4L194.4 355.5L195.1 355.5L195.8 355.5L196.5 355.5L197.2 355.5L198 355.5L198.7 355.6L199.4 355.6L200.1 355.6L200.8 355.6L201.5 355.6L202.2 355.6L202.9 355.6L203.6 355.6L204.3 355.6L205 355.6L205.7 355.6L206.4 355.6L207.1 355.6L207.9 355.6L208.6 355.6L209.3 355.6M150.6 391.3L151.3 391.3L152 391.3L152.7 391.3L153.4 391.3L154.1 391.3L154.8 391.3L155.5 391.3L156.3 391.3L157 391.3L157.7 391.3L158.4 391.3L159.1 391.3L159.8 391.3L160.5 391.3L161.2 391.3L161.9 391.3L162.6 391.3L163.3 391.3L164 391.3L164.7 391.3L165.4 391.3L166.1 391.3L166.9 391.3L167.6 391.3L168.3 391.3L169 391.3L169.7 391.2L170.4 391L171.1 390.5L171.8 389.8L172.5 389.3L173.2 389.6L173.9 390.4L174.6 391.3L175.3 392.2L176 392.9L176.8 393.4L177.5 393.4L178.2 392.9L178.9 392.3L179.6 391.7L180.3 391.4L181 391.2L181.7 391.1L182.4 391.1L183.1 391L183.8 391L184.5 391L185.2 390.9L185.9 390.9L186.6 390.9L187.4 390.9L188.1 390.9L188.8 390.9L189.5 391L190.2 391L190.9 391L191.6 391.1L192.3 391.1L193 391.2L193.7 391.2L194.4 391.2L195.1 391.3L195.8 391.3L196.5 391.3L197.2 391.3L198 391.4L198.7 391.4L199.4 391.4L200.1 391.4L200.8 391.4L201.5 391.4L202.2 391.4L202.9 391.4L203.6 391.4L204.3 391.4L205 391.4L205.7 391.5L206.4 391.5L207.1 391.5L207.9 391.5L208.6 391.5L209.3 391.5M150.6 427L151.3 427L152 427L152.7 427L153.4 427L154.1 427L154.8 427L155.5 427L156.3 427L157 427L157.7 427L158.4 427L159.1 427L159.8 427L160.5 427L161.2 427L161.9 427L162.6 427L163.3 427L164 427L164.7 427L165.4 427L166.1 427L166.9 427L167.6 427L168.3 427L169 427L169.7 426.9L170.4 426.4L171.1 425.4L171.8 424L172.5 423.1L173.2 423.6L173.9 425.3L174.6 427.4L175.3 429.6L176 431.5L176.8 432.8L177.5 432.7L178.2 431.5L178.9 429.7L179.6 428.2L180.3 427.2L181 426.8L181.7 426.5L182.4 426.4L183.1 426.2L183.8 426.1L184.5 426L185.2 425.9L185.9 425.8L186.6 425.8L187.4 425.8L188.1 425.8L188.8 425.9L189.5 426L190.2 426.1L190.9 426.2L191.6 426.3L192.3 426.5L193 426.6L193.7 426.7L194.4 426.8L195.1 426.9L195.8 427L196.5 427.1L197.2 427.1L198 427.2L198.7 427.2L199.4 427.2L200.1 427.3L200.8 427.3L201.5 427.3L202.2 427.4L202.9 427.4L203.6 427.4L204.3 427.4L205 427.4L205.7 427.5L206.4 427.5L207.1 427.5L207.9 427.5L208.6 427.6L209.3 427.6M150.6 462.8L151.3 462.8L152 462.8L152.7 462.8L153.4 462.8L154.1 462.8L154.8 462.8L155.5 462.8L156.3 462.8L157 462.8L157.7 462.8L158.4 462.8L159.1 462.8L159.8 462.8L160.5 462.8L161.2 462.8L161.9 462.8L162.6 462.8L163.3 462.8L164 462.8L164.7 462.8L165.4 462.8L166.1 462.8L166.9 462.8L167.6 462.8L168.3 462.8L169 462.8L169.7 462.6L170.4 462.2L171.1 461L171.8 459.4L172.5 458.4L173.2 459L173.9 461L174.6 463.7L175.3 466.5L176 469.2L176.8 471L177.5 471L178.2 469.2L178.9 466.7L179.6 464.5L180.3 463.2L181 462.5L181.7 462.2L182.4 462L183.1 461.9L183.8 461.7L184.5 461.6L185.2 461.4L185.9 461.4L186.6 461.3L187.4 461.3L188.1 461.3L188.8 461.4L189.5 461.5L190.2 461.7L190.9 461.8L191.6 462L192.3 462.1L193 462.3L193.7 462.5L194.4 462.6L195.1 462.7L195.8 462.8L196.5 462.9L197.2 463L198 463L198.7 463.1L199.4 463.1L200.1 463.1L200.8 463.2L201.5 463.2L202.2 463.2L202.9 463.3L203.6 463.3L204.3 463.3L205 463.4L205.7 463.4L206.4 463.4L207.1 463.4L207.9 463.5L208.6 463.5L209.3 463.5M150.6 498.6L151.3 498.6L152 498.6L152.7 498.6L153.4 498.6L154.1 498.6L154.8 498.6L155.5 498.6L156.3 498.6L157 498.6L157.7 498.6L158.4 498.6L159.1 498.6L159.8 498.6L160.5 498.6L161.2 498.6L161.9 498.6L162.6 498.6L163.3 498.6L164 498.6L164.7 498.6L165.4 498.6L166.1 498.6L166.9 498.6L167.6 498.6L168.3 498.6L169 498.6L169.7 498.6L170.4 498.5L171.1 498.4L171.8 498.2L172.5 498.1L173.2 498.2L173.9 498.5L174.6 498.9L175.3 499.3L176 499.8L176.8 500.1L177.5 500.1L178.2 499.8L178.9 499.3L179.6 498.9L180.3 498.7L181 498.5L181.7 498.5L182.4 498.4L183.1 498.4L183.8 498.4L184.5 498.4L185.2 498.3L185.9 498.3L186.6 498.3L187.4 498.3L188.1 498.3L188.8 498.3L189.5 498.3L190.2 498.4L190.9 498.4L191.6 498.4L192.3 498.5L193 498.5L193.7 498.5L194.4 498.6L195.1 498.6L195.8 498.6L196.5 498.6L197.2 498.6L198 498.6L198.7 498.7L199.4 498.7L200.1 498.7L200.8 498.7L201.5 498.7L202.2 498.7L202.9 498.7L203.6 498.7L204.3 498.7L205 498.7L205.7 498.7L206.4 498.7L207.1 498.7L207.9 498.7L208.6 498.7L209.3 498.7M211.9 373.6L212.6 373.6L213.3 373.6L214 373.6L214.7 373.6L215.4 373.6L216.1 373.6L216.8 373.6L217.6 373.6L218.3 373.6L219 373.6L219.7 373.6L220.4 373.6L221.1 373.6L221.8 373.6L222.5 373.6L223.2 373.6L223.9 373.6L224.6 373.6L225.3 373.6L226 373.6L226.7 373.6L227.4 373.6L228.2 373.6L228.9 373.6L229.6 373.6L230.3 373.6L231 373.6L231.7 373.5L232.4 373.3L233.1 373L233.8 372.8L234.5 372.9L235.2 373.3L235.9 373.7L236.6 374.1L237.3 374.5L238.1 374.8L238.8 374.8L239.5 374.5L240.2 374.1L240.9 373.8L241.6 373.7L242.3 373.6L243 373.5L243.7 373.5L244.4 373.5L245.1 373.5L245.8 373.4L246.5 373.4L247.2 373.4L247.9 373.4L248.7 373.4L249.4 373.4L250.1 373.4L250.8 373.4L251.5 373.4L252.2 373.5L252.9 373.5L253.6 373.5L254.3 373.5L255 373.6L255.7 373.6L256.4 373.6L257.1 373.6L257.8 373.6L258.5 373.6L259.3 373.6L260 373.6L260.7 373.6L261.4 373.6L262.1 373.6L262.8 373.7L263.5 373.7L264.2 373.7L264.9 373.7L265.6 373.7L266.3 373.7L267 373.7L267.7 373.7L268.4 373.7L269.2 373.7L269.9 373.7L270.6 373.7M211.9 409.6L212.6 409.6L213.3 409.6L214 409.6L214.7 409.6L215.4 409.6L216.1 409.6L216.8 409.6L217.6 409.6L218.3 409.6L219 409.6L219.7 409.6L220.4 409.6L221.1 409.6L221.8 409.6L222.5 409.6L223.2 409.6L223.9 409.6L224.6 409.6L225.3 409.6L226 409.6L226.7 409.6L227.4 409.6L228.2 409.6L228.9 409.6L229.6 409.6L230.3 409.6L231 409.5L231.7 409L232.4 408L233.1 406.6L233.8 405.7L234.5 406.1L235.2 407.8L235.9 409.9L236.6 411.9L237.3 413.7L238.1 414.9L238.8 414.9L239.5 413.7L240.2 412.1L240.9 410.7L241.6 409.8L242.3 409.4L243 409.2L243.7 409.1L244.4 409L245.1 408.9L245.8 408.8L246.5 408.7L247.2 408.6L247.9 408.6L248.7 408.6L249.4 408.6L250.1 408.7L250.8 408.7L251.5 408.8L252.2 408.9L252.9 409L253.6 409.2L254.3 409.3L255 409.4L255.7 409.5L256.4 409.5L257.1 409.6L257.8 409.7L258.5 409.7L259.3 409.7L260 409.8L260.7 409.8L261.4 409.8L262.1 409.8L262.8 409.9L263.5 409.9L264.2 409.9L264.9 409.9L265.6 410L266.3 410L267 410L267.7 410L268.4 410L269.2 410.1L269.9 410.1L270.6 410.1M211.9 445.3L212.6 445.3L213.3 445.3L214 445.3L214.7 445.3L215.4 445.3L216.1 445.3L216.8 445.3L217.6 445.3L218.3 445.3L219 445.3L219.7 445.3L220.4 445.3L221.1 445.3L221.8 445.3L222.5 445.3L223.2 445.3L223.9 445.3L224.6 445.3L225.3 445.3L226 445.3L226.7 445.3L227.4 445.3L228.2 445.3L228.9 445.3L229.6 445.3L230.3 445.2L231 445L231.7 444.1L232.4 441.9L233.1 438.9L233.8 437L234.5 438L235.2 441.7L235.9 446.3L236.6 451.1L237.3 455.4L238.1 458.2L238.8 458.2L239.5 455.3L240.2 451.3L240.9 447.8L241.6 445.6L242.3 444.5L243 443.9L243.7 443.5L244.4 443.1L245.1 442.7L245.8 442.4L246.5 442.1L247.2 441.9L247.9 441.8L248.7 441.8L249.4 441.9L250.1 442.1L250.8 442.3L251.5 442.6L252.2 443L252.9 443.3L253.6 443.7L254.3 444.1L255 444.5L255.7 444.8L256.4 445.1L257.1 445.3L257.8 445.5L258.5 445.7L259.3 445.8L260 445.9L260.7 446L261.4 446.1L262.1 446.2L262.8 446.2L263.5 446.3L264.2 446.4L264.9 446.5L265.6 446.5L266.3 446.6L267 446.7L267.7 446.7L268.4 446.8L269.2 446.9L269.9 447L270.6 447M211.9 481L212.6 481L213.3 481L214 481L214.7 481L215.4 481L216.1 481L216.8 481L217.6 481L218.3 481L219 481L219.7 481L220.4 481L221.1 481L221.8 481L222.5 481L223.2 481L223.9 481L224.6 481L225.3 481L226 481L226.7 481L227.4 481L228.2 481L228.9 481L229.6 481L230.3 481L231 480.9L231.7 480.5L232.4 479.6L233.1 478.4L233.8 477.6L234.5 478L235.2 479.6L235.9 481.5L236.6 483.6L237.3 485.5L238.1 486.8L238.8 486.7L239.5 485.5L240.2 483.7L240.9 482.2L241.6 481.2L242.3 480.8L243 480.5L243.7 480.4L244.4 480.2L245.1 480.1L245.8 480L246.5 479.9L247.2 479.8L247.9 479.8L248.7 479.8L249.4 479.8L250.1 479.9L250.8 480L251.5 480.1L252.2 480.2L252.9 480.3L253.6 480.5L254.3 480.6L255 480.7L255.7 480.8L256.4 480.9L257.1 481L257.8 481.1L258.5 481.1L259.3 481.2L260 481.2L260.7 481.2L261.4 481.3L262.1 481.3L262.8 481.3L263.5 481.4L264.2 481.4L264.9 481.4L265.6 481.4L266.3 481.4L267 481.5L267.7 481.5L268.4 481.5L269.2 481.5L269.9 481.6L270.6 481.6M273.2 356.3L273.9 356.3L274.6 356.3L275.3 356.3L276 356.3L276.7 356.3L277.4 356.3L278.1 356.3L278.7 356.3L279.4 356.3L280.1 356.3L280.8 356.3L281.5 356.3L282.2 356.3L282.9 356.3L283.6 356.3L284.3 356.3L285 356.3L285.7 356.3L286.4 356.3L287.1 356.3L287.8 356.3L288.5 356.3L289.2 356.3L289.8 356.3L290.5 356.3L291.2 356.3L291.9 356.3L292.6 356.2L293.3 355.9L294 355.6L294.7 355.3L295.4 355.4L296.1 355.8L296.8 356.2L297.5 356.6L298.2 356.9L298.9 357.1L299.6 357.1L300.3 356.9L300.9 356.7L301.6 356.5L302.3 356.3L303 356.3L303.7 356.2L304.4 356.2L305.1 356.2L305.8 356.2L306.5 356.1L307.2 356.1L307.9 356.1L308.6 356.1L309.3 356.1L310 356.1L310.7 356.1L311.3 356.1L312 356.1L312.7 356.2L313.4 356.2L314.1 356.2L314.8 356.2L315.5 356.3L316.2 356.3L316.9 356.3L317.6 356.3L318.3 356.3L319 356.3L319.7 356.3L320.4 356.3L321.1 356.3L321.8 356.3L322.4 356.3L323.1 356.4L323.8 356.4L324.5 356.4L325.2 356.4L325.9 356.4L326.6 356.4L327.3 356.4L328 356.4L328.7 356.4L329.4 356.4L330.1 356.4L330.8 356.4M273.2 391.2L273.9 391.2L274.6 391.2L275.3 391.2L276 391.2L276.7 391.2L277.4 391.2L278.1 391.2L278.7 391.2L279.4 391.2L280.1 391.2L280.8 391.2L281.5 391.2L282.2 391.2L282.9 391.2L283.6 391.2L284.3 391.2L285 391.2L285.7 391.2L286.4 391.2L287.1 391.2L287.8 391.2L288.5 391.2L289.2 391.2L289.8 391.2L290.5 391.2L291.2 391.2L291.9 391.1L292.6 390.8L293.3 390L294 389L294.7 388.2L295.4 388.6L296.1 389.7L296.8 391L297.5 392.2L298.2 393L298.9 393.6L299.6 393.6L300.3 393L300.9 392.3L301.6 391.6L302.3 391.2L303 391L303.7 390.9L304.4 390.8L305.1 390.7L305.8 390.6L306.5 390.5L307.2 390.5L307.9 390.4L308.6 390.4L309.3 390.4L310 390.4L310.7 390.5L311.3 390.5L312 390.6L312.7 390.7L313.4 390.8L314.1 390.8L314.8 390.9L315.5 391L316.2 391.1L316.9 391.1L317.6 391.2L318.3 391.2L319 391.3L319.7 391.3L320.4 391.3L321.1 391.4L321.8 391.4L322.4 391.4L323.1 391.4L323.8 391.4L324.5 391.5L325.2 391.5L325.9 391.5L326.6 391.5L327.3 391.5L328 391.5L328.7 391.5L329.4 391.6L330.1 391.6L330.8 391.6M273.2 427.6L273.9 427.6L274.6 427.6L275.3 427.6L276 427.6L276.7 427.6L277.4 427.6L278.1 427.6L278.7 427.6L279.4 427.6L280.1 427.6L280.8 427.6L281.5 427.6L282.2 427.6L282.9 427.6L283.6 427.6L284.3 427.6L285 427.6L285.7 427.6L286.4 427.6L287.1 427.6L287.8 427.6L288.5 427.6L289.2 427.6L289.8 427.6L290.5 427.6L291.2 427.5L291.9 427.3L292.6 426.4L293.3 424.4L294 421.6L294.7 419.7L295.4 420.6L296.1 423.7L296.8 427.2L297.5 430.3L298.2 432.8L298.9 434.2L299.6 434.2L300.3 432.7L300.9 430.5L301.6 428.7L302.3 427.5L303 426.8L303.7 426.4L304.4 426L305.1 425.7L305.8 425.4L306.5 425.1L307.2 424.9L307.9 424.7L308.6 424.6L309.3 424.6L310 424.7L310.7 424.8L311.3 425L312 425.3L312.7 425.6L313.4 425.9L314.1 426.3L314.8 426.6L315.5 426.9L316.2 427.2L316.9 427.4L317.6 427.6L318.3 427.8L319 427.9L319.7 428L320.4 428.1L321.1 428.2L321.8 428.3L322.4 428.3L323.1 428.4L323.8 428.5L324.5 428.5L325.2 428.6L325.9 428.7L326.6 428.7L327.3 428.8L328 428.8L328.7 428.9L329.4 429L330.1 429L330.8 429.1M273.2 463.4L273.9 463.4L274.6 463.4L275.3 463.4L276 463.4L276.7 463.4L277.4 463.4L278.1 463.4L278.7 463.4L279.4 463.4L280.1 463.4L280.8 463.4L281.5 463.4L282.2 463.4L282.9 463.4L283.6 463.4L284.3 463.4L285 463.4L285.7 463.4L286.4 463.4L287.1 463.4L287.8 463.4L288.5 463.4L289.2 463.4L289.8 463.4L290.5 463.4L291.2 463.3L291.9 463.1L292.6 462.2L293.3 460.2L294 457.4L294.7 455.5L295.4 456.4L296.1 459.6L296.8 463.4L297.5 466.8L298.2 469.7L298.9 471.5L299.6 471.4L300.3 469.6L300.9 467.1L301.6 464.8L302.3 463.4L303 462.6L303.7 462.2L304.4 461.8L305.1 461.5L305.8 461.2L306.5 460.9L307.2 460.7L307.9 460.5L308.6 460.4L309.3 460.4L310 460.5L310.7 460.6L311.3 460.8L312 461.1L312.7 461.4L313.4 461.7L314.1 462.1L314.8 462.4L315.5 462.7L316.2 463L316.9 463.2L317.6 463.4L318.3 463.6L319 463.7L319.7 463.8L320.4 463.9L321.1 464L321.8 464.1L322.4 464.1L323.1 464.2L323.8 464.3L324.5 464.3L325.2 464.4L325.9 464.5L326.6 464.5L327.3 464.6L328 464.6L328.7 464.7L329.4 464.8L330.1 464.8L330.8 464.9M273.2 499.5L273.9 499.5L274.6 499.5L275.3 499.5L276 499.5L276.7 499.5L277.4 499.5L278.1 499.5L278.7 499.5L279.4 499.5L280.1 499.5L280.8 499.5L281.5 499.5L282.2 499.5L282.9 499.5L283.6 499.5L284.3 499.5L285 499.5L285.7 499.5L286.4 499.5L287.1 499.5L287.8 499.5L288.5 499.5L289.2 499.5L289.8 499.5L290.5 499.5L291.2 499.5L291.9 499.4L292.6 499.1L293.3 498.5L294 497.6L294.7 497L295.4 497.3L296.1 498.3L296.8 499.3L297.5 500.3L298.2 501L298.9 501.4L299.6 501.4L300.3 501L300.9 500.4L301.6 499.9L302.3 499.6L303 499.4L303.7 499.3L304.4 499.2L305.1 499.2L305.8 499.1L306.5 499.1L307.2 499L307.9 499L308.6 499L309.3 499L310 499L310.7 499L311.3 499.1L312 499.1L312.7 499.2L313.4 499.2L314.1 499.3L314.8 499.3L315.5 499.4L316.2 499.4L316.9 499.5L317.6 499.5L318.3 499.5L319 499.6L319.7 499.6L320.4 499.6L321.1 499.6L321.8 499.6L322.4 499.6L323.1 499.6L323.8 499.6L324.5 499.7L325.2 499.7L325.9 499.7L326.6 499.7L327.3 499.7L328 499.7L328.7 499.7L329.4 499.7L330.1 499.7L330.8 499.7" fill="none" stroke="#1a0000" stroke-width="2.4" stroke-linejoin="round"/>
<text transform="translate(55.80,501.00) rotate(-90)" font-size="17.52" letter-spacing="-0.098" fill="#1c1c1c">Recording channel</text>
<text transform="translate(5.52,342.55) scale(1.1004,1)" font-size="24.55" font-weight="bold" stroke-width="0.1" fill="#1a1a1a">c</text>
<path d="M412.6 337.5L412.6 501.2L511.3 518.3L649.9 505.6" fill="none" stroke="#333" stroke-width="1"/>
<path d="M494 473.5h1.2M520.5 428.5h1.2M525 437.5h1.2M508.5 434.5h1.2M509.5 424.5h1.2M495 443.5h1.2M499.5 456h1.2M523 420.5h1.2M509.5 429.5h1.2M512.5 433h1.2M522.5 418.5h1.2M527 421.5h1.2M524 437h1.2M519.5 426h1.2M510.5 444h1.2M504.5 450.5h1.2M508.5 441h1.2M506.5 442h1.2M502.5 419h1.2M513.5 429h1.2M498.5 440.5h1.2M511.5 449h1.2M515 438.5h1.2M510 448h1.2M523 439h1.2M505.5 416h1.2M506 442.5h1.2M507.5 430h1.2M508.5 407.5h1.2M501.5 450h1.2M496.5 440h1.2M521 455.5h1.2M504 427.5h1.2M499 460h1.2M510.5 447h1.2M496.5 450.5h1.2M513.5 428h1.2M516 435h1.2M515 462.5h1.2M498 433h1.2M527 445h1.2M500.5 461h1.2M492.5 452h1.2M504 440h1.2M502.5 469h1.2M520 416h1.2M514 438.5h1.2M511.5 429h1.2M501.5 461h1.2M509 465.5h1.2M522.5 434.5h1.2M501 437.5h1.2M512.5 456h1.2M514 449h1.2M492.5 436.5h1.2M509.5 455.5h1.2M507 471.5h1.2M515.5 442.5h1.2M511 419.5h1.2M515.5 438.5h1.2M511 438h1.2M527.5 438.5h1.2M510 450.5h1.2M505 449.5h1.2M504 452h1.2M497 442h1.2M505 441h1.2M535 430.5h1.2M522.5 437.5h1.2M521 427.5h1.2M510 444h1.2M510 436.5h1.2M506 436h1.2M518 451h1.2M526.5 439.5h1.2M498.5 452.5h1.2M510.5 457h1.2M531 430h1.2M508.5 461h1.2M515 434.5h1.2M522 430.5h1.2M519.5 436.5h1.2M510.5 416.5h1.2M515.5 446.5h1.2M501 456h1.2M517.5 415h1.2M510 446h1.2M490.5 441h1.2M515 452h1.2M489 441.5h1.2M514 447.5h1.2M514.5 432h1.2M502.5 451h1.2M500.5 440.5h1.2M500.5 448.5h1.2M510.5 444h1.2M514 435.5h1.2M502.5 435h1.2M496 443.5h1.2M507.5 455.5h1.2M512.5 406.5h1.2M513.5 417.5h1.2M517.5 413h1.2M520.5 433.5h1.2M522 431.5h1.2M506 440.5h1.2M530.5 441h1.2M505.5 460h1.2M510.5 428h1.2M525 432h1.2M503.5 422h1.2M500.5 429.5h1.2M516 443.5h1.2M513.5 431.5h1.2M516 425h1.2M521.5 419h1.2M512 442.5h1.2M510 429h1.2M504.5 419h1.2M511 434h1.2M507 443h1.2M497 469h1.2M505 464.5h1.2M511 423.5h1.2M516 433h1.2M528 411.5h1.2M517 407h1.2M533 415h1.2M508 453.5h1.2M513.5 437h1.2M519 416.5h1.2M524 432h1.2M519 433h1.2M514.5 428.5h1.2M497.5 459h1.2M522 409.5h1.2M514 432h1.2M514 444h1.2M507 445.5h1.2M541 412.5h1.2M504.5 439.5h1.2M510.5 416.5h1.2M513.5 429.5h1.2M525.5 416.5h1.2M496.5 446.5h1.2M496.5 487h1.2M495 450h1.2M513.5 434.5h1.2M525 413.5h1.2M506 452h1.2M507.5 458h1.2M517.5 422h1.2M501 451h1.2M522 412h1.2M520.5 420h1.2M509 440.5h1.2M515.5 416h1.2M505.5 449.5h1.2M498 458.5h1.2M505.5 438h1.2M505 445h1.2M495.5 460.5h1.2M506.5 446h1.2M494.5 455h1.2M498.5 459h1.2M510 420.5h1.2M498.5 472h1.2M512.5 460h1.2M511.5 442h1.2M504.5 451h1.2M505.5 442.5h1.2M508.5 442h1.2M505.5 420h1.2M520.5 436h1.2M523.5 438h1.2M504.5 455.5h1.2M511.5 447.5h1.2M507 445h1.2M506 435.5h1.2M484.5 451h1.2M532.5 405h1.2M522 428h1.2M504.5 453.5h1.2M521.5 436.5h1.2M511 450.5h1.2M492 459.5h1.2M505.5 451h1.2M518.5 416.5h1.2M503.5 432.5h1.2M527.5 426h1.2M506 445.5h1.2M504 454.5h1.2M509 434.5h1.2M513 449h1.2M513.5 437h1.2M499 468h1.2M504 439h1.2M513 444h1.2M502 446h1.2M517.5 460h1.2M502.5 448.5h1.2M504.5 436.5h1.2M515 442h1.2M508.5 447.5h1.2M506 448h1.2M510 432.5h1.2M505 427h1.2M509.5 435h1.2M508.5 446.5h1.2M513.5 432.5h1.2M514 422h1.2M506.5 432h1.2M510.5 431h1.2M509.5 449.5h1.2M514.5 432h1.2M517 435h1.2M504.5 469.5h1.2M510 447h1.2M518.5 426.5h1.2M497.5 455h1.2M519.5 436.5h1.2M513.5 426.5h1.2M513.5 451.5h1.2M512.5 415.5h1.2M508 437.5h1.2M498 444.5h1.2M501.5 449h1.2M519 433.5h1.2M512 431.5h1.2M514 439.5h1.2M506 458.5h1.2M526.5 414.5h1.2M507 452h1.2M507 443.5h1.2M500 459h1.2M500 416h1.2M504 457h1.2M514 426h1.2M508.5 444h1.2M513.5 434h1.2M509.5 438h1.2M508.5 445.5h1.2M499.5 450h1.2M510.5 428.5h1.2M522 423.5h1.2M505.5 449.5h1.2M509.5 433h1.2M505 455.5h1.2M502.5 461h1.2M511.5 436h1.2M506.5 435h1.2M512.5 428h1.2M524.5 410h1.2M510 439h1.2M497 447h1.2M509.5 457.5h1.2M505.5 437h1.2M500.5 467.5h1.2M488.5 422h1.2M505.5 437h1.2M512 431h1.2M512.5 433h1.2M521 439h1.2M516.5 430h1.2M499 428h1.2M505.5 442.5h1.2M510.5 441.5h1.2M515.5 423.5h1.2M506 446.5h1.2M520.5 429h1.2M506 446h1.2M505.5 439h1.2M530 414h1.2M517 424h1.2M521.5 460.5h1.2M524 433.5h1.2M508 427h1.2M504 429.5h1.2M497 436.5h1.2M514.5 451h1.2M511.5 435h1.2M502 465.5h1.2M506 428h1.2M510 431.5h1.2M510 436.5h1.2M504.5 440.5h1.2M504 462.5h1.2M489.5 472.5h1.2M513.5 435h1.2M503.5 434h1.2M504.5 448.5h1.2M508.5 437h1.2M511.5 455h1.2M525.5 427h1.2M514.5 456h1.2M519 405h1.2M520 452.5h1.2M496.5 446h1.2M497 477.5h1.2M523.5 429h1.2M503 449h1.2M513.5 452h1.2M514.5 425h1.2M509.5 444h1.2M506.5 423.5h1.2M510.5 419.5h1.2M512 414h1.2M513.5 437h1.2M507.5 420h1.2M522 408h1.2M507 443h1.2M516.5 412h1.2M503.5 449h1.2M516.5 446h1.2M510 425h1.2M529 419h1.2M511.5 424h1.2M518 418.5h1.2M511 433h1.2M518.5 436h1.2M488.5 474.5h1.2M522.5 407.5h1.2M507.5 428h1.2M511 449.5h1.2M508 456.5h1.2M501 459.5h1.2M508.5 421.5h1.2M513 454.5h1.2M514 437h1.2M506 453h1.2M508 451h1.2M511 415h1.2M510 424.5h1.2M522 406h1.2M508.5 425.5h1.2M511 415.5h1.2M512 444.5h1.2M518.5 429h1.2M501.5 446.5h1.2M496.5 432h1.2M526.5 439.5h1.2M503 467.5h1.2M497.5 455h1.2M522.5 420.5h1.2M496 458h1.2M503.5 450h1.2M509.5 462.5h1.2M510 447h1.2M517.5 410.5h1.2M517.5 435.5h1.2M516 416.5h1.2M515.5 429h1.2M499.5 457.5h1.2M511.5 440.5h1.2M507 441.5h1.2M511.5 453h1.2M506 421.5h1.2M504.5 456.5h1.2M501 439.5h1.2M501.5 419h1.2M503 426h1.2M511 435h1.2M505 448h1.2M501.5 461h1.2M509.5 433.5h1.2M516 437.5h1.2M510.5 471h1.2M488.5 487.5h1.2M498.5 466.5h1.2M498.5 438h1.2M500 429h1.2M514 453h1.2M513.5 446h1.2M509 424.5h1.2M494 457h1.2M493.5 478h1.2M514 425.5h1.2M526 431h1.2M498 425.5h1.2M521.5 421h1.2M501 450h1.2M516 415.5h1.2M511.5 451.5h1.2M501.5 443h1.2M495.5 447h1.2M518.5 416h1.2M507.5 441h1.2M503.5 441.5h1.2M498 450h1.2M501.5 442.5h1.2M518.5 432h1.2M508.5 459h1.2M505 462h1.2M518.5 466.5h1.2M522.5 430.5h1.2M507.5 447.5h1.2M519 426.5h1.2M516 438.5h1.2M499.5 448.5h1.2M516 416h1.2M487.5 480h1.2M503 458.5h1.2M517 428h1.2M518.5 432h1.2M508.5 437h1.2M522 441h1.2M522.5 422h1.2M506.5 435.5h1.2M513.5 412.5h1.2M513.5 429.5h1.2M506 469.5h1.2M506 436.5h1.2M516.5 434.5h1.2M501 464h1.2M514 446.5h1.2M494 444h1.2M503.5 426.5h1.2M508.5 458h1.2M519 436.5h1.2M504.5 452.5h1.2M501.5 447.5h1.2M491 463h1.2M504 454.5h1.2M517.5 441.5h1.2M514 421.5h1.2M509.5 433.5h1.2M524 432h1.2M502 463.5h1.2M514 432.5h1.2M529.5 405.5h1.2M506 444.5h1.2M498 449h1.2M508.5 422h1.2M511 452.5h1.2M521 419.5h1.2M503.5 441h1.2M512.5 437h1.2M510 444.5h1.2M493 440h1.2M530 434.5h1.2M509 453h1.2M518 433h1.2M509 441h1.2M490 457h1.2M516 425h1.2M511 441h1.2M499 463.5h1.2M504 459.5h1.2M511 427.5h1.2M497 423h1.2M510.5 449h1.2M515 429h1.2M509.5 440.5h1.2M531.5 422.5h1.2M502 447.5h1.2M519.5 414h1.2M521.5 446h1.2M507 450.5h1.2M512.5 428h1.2M525 416.5h1.2M510 416h1.2M525 410h1.2M508.5 471h1.2M516 406.5h1.2M518 419h1.2M506.5 443.5h1.2M519.5 443.5h1.2M512 458.5h1.2M508 462h1.2M508 446.5h1.2M511 438h1.2M504 426.5h1.2M501 432h1.2M503 453.5h1.2M506.5 449h1.2M493.5 444h1.2M519.5 412h1.2M507.5 424.5h1.2M517 429h1.2M513.5 430.5h1.2M517.5 423h1.2M510 451.5h1.2M500.5 455h1.2M504 469.5h1.2M513.5 431h1.2M507.5 436.5h1.2M495.5 435h1.2M522 443.5h1.2M514 425.5h1.2M500.5 450h1.2M524 408h1.2M507 429h1.2M517.5 407.5h1.2M502.5 447.5h1.2M520.5 418h1.2M518 421h1.2M511 439.5h1.2M522 425h1.2M507 442.5h1.2M518.5 435.5h1.2M503.5 472.5h1.2M526 423h1.2M507.5 423.5h1.2M509.5 449.5h1.2M514.5 443h1.2M501.5 444h1.2M514 435.5h1.2M501.5 453h1.2M508.5 445h1.2M499 459h1.2M516.5 417h1.2M522 448.5h1.2M501.5 432h1.2M500.5 443h1.2M524.5 427.5h1.2M499 449.5h1.2M519 418.5h1.2M503.5 453h1.2M498 444.5h1.2M514 408h1.2M501 443h1.2M499 445.5h1.2M523 415h1.2M518 441h1.2M506 432.5h1.2M530.5 417.5h1.2M523 410.5h1.2M509 448h1.2M517 433h1.2M494 453h1.2M507.5 437.5h1.2M494 483.5h1.2M502.5 439.5h1.2M501.5 468h1.2M499.5 441.5h1.2M496 435.5h1.2M507 448h1.2M515 427.5h1.2M506 426h1.2M512 470h1.2M518.5 439h1.2M523 423.5h1.2M516.5 451h1.2M514.5 426h1.2M507 439.5h1.2M502.5 457.5h1.2M501.5 460h1.2M492.5 466h1.2M495.5 455.5h1.2M497.5 446.5h1.2M507 448.5h1.2M507.5 444h1.2M500 435h1.2M493 474.5h1.2M501.5 435h1.2M502 467.5h1.2M510.5 437.5h1.2M506 460.5h1.2M505.5 441h1.2M516 430.5h1.2M487 460h1.2M509.5 467h1.2M507.5 427.5h1.2M516.5 441h1.2M501.5 454h1.2M512.5 446.5h1.2M508 441h1.2M503 455h1.2M522.5 421h1.2M507 468.5h1.2M511 449h1.2M509.5 423.5h1.2M499.5 435h1.2M506 480.5h1.2M506 439h1.2M521.5 417.5h1.2M500.5 462h1.2M504.5 446h1.2M504 438.5h1.2M500 456h1.2M511.5 434.5h1.2M499.5 435h1.2M501 456h1.2M506.5 447.5h1.2M495.5 453.5h1.2M518.5 437.5h1.2M504.5 470h1.2M508.5 414.5h1.2M518.5 419.5h1.2M517 453h1.2M505.5 434h1.2M500 441h1.2M513.5 443.5h1.2M518 441.5h1.2M515.5 424h1.2M504.5 445h1.2M504.5 463h1.2M520 430h1.2M494 469.5h1.2M496 464.5h1.2M524 431.5h1.2M511 456.5h1.2M517.5 424.5h1.2M513.5 440.5h1.2M514 423h1.2M509 431.5h1.2M508.5 407h1.2M507.5 437.5h1.2M509.5 422h1.2M524 430.5h1.2M525.5 411.5h1.2M502 439h1.2M506.5 475h1.2M502.5 432h1.2M506.5 437.5h1.2M515 422.5h1.2M512.5 434h1.2M521.5 430.5h1.2M525.5 419h1.2M517.5 428h1.2M515 434h1.2M499 443h1.2M517.5 438h1.2M511 447h1.2M512 465.5h1.2M502 455h1.2M511.5 434h1.2M513 410h1.2M498 433h1.2M505 441h1.2M508.5 458.5h1.2M506.5 442.5h1.2M490 484.5h1.2M511.5 436h1.2M512 454h1.2M512.5 425.5h1.2M523 427.5h1.2M511.5 436h1.2M509.5 444.5h1.2M521.5 458h1.2M488.5 453.5h1.2M502 465.5h1.2M504.5 463.5h1.2M498 452h1.2M518 442h1.2M505.5 449.5h1.2M499.5 460.5h1.2M518.5 426.5h1.2M505.5 451.5h1.2M511.5 450.5h1.2M513.5 439.5h1.2M494 467.5h1.2M519 431.5h1.2M518.5 426.5h1.2M514 441.5h1.2M509.5 429h1.2M503.5 462.5h1.2M524.5 416h1.2M515 419h1.2M520 450h1.2M516.5 457h1.2M514.5 421h1.2M489.5 456.5h1.2M524 411h1.2M501 456h1.2M523.5 429.5h1.2M511.5 432.5h1.2M497 468.5h1.2M506 438h1.2M518 432h1.2M495.5 439.5h1.2M504 472.5h1.2M499 437.5h1.2M521 430.5h1.2M503 441.5h1.2M508.5 417h1.2M499.5 424h1.2M513.5 431.5h1.2M516 454.5h1.2M507 430h1.2M511 449.5h1.2M509 461h1.2M503.5 466.5h1.2M525.5 415.5h1.2M504.5 437h1.2M515 421h1.2M501 448.5h1.2M502.5 442h1.2M512 440.5h1.2M508 430h1.2M507.5 421.5h1.2M507.5 408.5h1.2M502.5 455h1.2M512 437.5h1.2M515 442.5h1.2M510 446h1.2M504.5 452.5h1.2M496 469h1.2M519 440.5h1.2M508 451h1.2M520.5 414.5h1.2M515.5 435h1.2M517.5 430h1.2M511 429h1.2M508.5 460.5h1.2M505.5 440.5h1.2M515.5 443.5h1.2M507.5 440.5h1.2M517.5 439h1.2M503 433.5h1.2M508.5 428h1.2M504 428h1.2M517 435h1.2M518.5 440h1.2M529 413.5h1.2M510.5 441.5h1.2M502.5 436.5h1.2M502 444.5h1.2M511.5 420.5h1.2M523 428h1.2M497.5 450h1.2M509 426.5h1.2M510 448.5h1.2M529.5 435.5h1.2M521.5 423h1.2M519 417h1.2M503 426.5h1.2M511 432h1.2M517 420.5h1.2M490.5 458.5h1.2M499 436.5h1.2M512 425h1.2M496.5 462h1.2M496.5 449.5h1.2M518.5 429.5h1.2M513 422.5h1.2M513 438h1.2M511 453.5h1.2M514.5 416.5h1.2M495 455h1.2M499.5 429h1.2M499 451h1.2M503 435h1.2M507.5 448h1.2M515 453.5h1.2M505.5 461.5h1.2M511 427.5h1.2M501.5 471h1.2M504.5 415h1.2M499.5 442h1.2M506.5 451h1.2M498 436h1.2M499.5 452h1.2M508.5 410.5h1.2M510.5 439.5h1.2M498 453.5h1.2M510.5 440.5h1.2M515.5 422.5h1.2M501 439.5h1.2M495.5 438h1.2M514.5 424h1.2M499 460h1.2M518 433.5h1.2M516.5 424.5h1.2M505.5 440.5h1.2M521 433h1.2M513 438h1.2M515 446.5h1.2M510.5 433h1.2M500 447h1.2M505 444h1.2M503.5 459.5h1.2M521.5 427h1.2M519 445h1.2M507.5 444h1.2M497.5 441h1.2M523.5 408h1.2M516 423.5h1.2M510 446h1.2M513 452h1.2M502 438h1.2M503.5 441h1.2M511 463h1.2M519 437.5h1.2M505 425h1.2M505.5 465.5h1.2M505.5 450h1.2M516.5 440h1.2M511.5 428h1.2M504.5 467h1.2M514.5 437.5h1.2M521 430h1.2M489 455.5h1.2M501 410.5h1.2M508.5 437h1.2M501 448.5h1.2M507 434h1.2M512 432h1.2M507 447h1.2M518.5 422h1.2M505.5 435h1.2M512.5 454.5h1.2M521 425h1.2M496 460h1.2M519.5 440.5h1.2M499 435h1.2M513.5 433.5h1.2M504.5 448.5h1.2M503.5 429.5h1.2M508 444h1.2M500.5 459.5h1.2M505.5 461h1.2M515 415h1.2M496.5 459.5h1.2M517.5 434.5h1.2M503 443h1.2M502 439.5h1.2M504.5 443.5h1.2M517.5 432.5h1.2M499.5 447h1.2M494 452.5h1.2M515.5 432.5h1.2M521 444.5h1.2M508.5 454.5h1.2M502.5 457h1.2M498.5 442h1.2M499.5 441.5h1.2M501.5 446h1.2M515 436.5h1.2M502 443.5h1.2M510.5 436h1.2M517.5 437h1.2M534.5 408h1.2M513.5 409.5h1.2M517.5 450h1.2M496.5 448.5h1.2M492 441.5h1.2M508 441.5h1.2M516.5 437.5h1.2M510 450.5h1.2M516 435.5h1.2M506.5 439h1.2M493.5 461h1.2M522.5 420h1.2M515 431.5h1.2M514.5 437.5h1.2M513 407h1.2M510 419h1.2M508 458.5h1.2M508 448.5h1.2M509 437.5h1.2M513 464.5h1.2M518.5 426h1.2M496.5 469.5h1.2M518.5 442.5h1.2M511.5 430h1.2M502.5 456.5h1.2M509.5 449.5h1.2M501 440.5h1.2M516 440.5h1.2M517.5 410.5h1.2M523.5 408h1.2M502 437h1.2M508.5 456.5h1.2M510 426h1.2M504.5 439.5h1.2M511 412.5h1.2M507.5 412.5h1.2M519.5 442.5h1.2M505.5 450.5h1.2M511.5 454h1.2M495.5 456h1.2M505 424h1.2M512 438h1.2M503 451.5h1.2M507 420.5h1.2M509.5 434.5h1.2M510 440h1.2M520 443.5h1.2M508.5 455h1.2M500 443.5h1.2M521.5 436.5h1.2M503 451.5h1.2M503.5 455h1.2M501 445.5h1.2M512 447h1.2M497.5 443h1.2M505 459.5h1.2M505.5 429h1.2M513.5 440h1.2M513.5 423.5h1.2M512.5 437h1.2M503.5 422.5h1.2M521 429h1.2M525.5 410h1.2M500.5 434.5h1.2M498 453h1.2M503.5 460h1.2M518 442h1.2M515 429.5h1.2M505 443h1.2M503 432.5h1.2M504 435.5h1.2M491.5 458h1.2M506 441h1.2M512 446.5h1.2M513 436h1.2M500.5 432.5h1.2M514 424.5h1.2M501 434h1.2M524.5 431h1.2M505.5 458h1.2M516 437.5h1.2M503.5 450h1.2M506.5 461.5h1.2M512 458.5h1.2M514 428.5h1.2M514 471h1.2M524.5 411h1.2M498 460.5h1.2M515 425h1.2M515.5 440h1.2M516 429h1.2M520.5 405.5h1.2M515.5 414.5h1.2M505 442h1.2M524.5 414h1.2M495.5 445h1.2M500.5 456h1.2M505.5 461.5h1.2M499 439.5h1.2M512.5 439.5h1.2M499 428h1.2M487.5 480h1.2M503 458h1.2M508.5 450h1.2M513 446.5h1.2M508 458h1.2M522.5 410h1.2M495.5 449h1.2M511.5 429.5h1.2M500 455h1.2M516 428h1.2M515 449h1.2M523.5 431h1.2M502.5 429h1.2M501.5 465h1.2M497 440h1.2M494.5 440.5h1.2M517 413.5h1.2M499 451h1.2M515.5 430h1.2M507.5 446.5h1.2M515 423h1.2M507 445h1.2M496 444h1.2M518.5 416.5h1.2M501.5 441.5h1.2M514 425h1.2M497.5 457h1.2M495 440h1.2M519 444h1.2M483.5 483.5h1.2M508.5 453.5h1.2M510 432.5h1.2M506.5 453.5h1.2M510.5 444.5h1.2M510 463.5h1.2M533 430h1.2M483.5 464.5h1.2M506.5 429h1.2M513 434h1.2M526 432.5h1.2M506.5 432.5h1.2M487.5 465h1.2M505 441h1.2M527 426.5h1.2M513.5 438h1.2M506 442.5h1.2M504 454.5h1.2M504 431h1.2M514.5 444.5h1.2M496 487h1.2M526.5 443.5h1.2M501 438h1.2M512 419h1.2M506.5 455h1.2M524 436.5h1.2M492.5 466h1.2M511.5 461.5h1.2M513 455h1.2M525 436h1.2M521 437.5h1.2M518 435.5h1.2M516 443.5h1.2M504 431h1.2M508 429h1.2M508 440.5h1.2M513.5 440.5h1.2M512 433.5h1.2M512.5 457h1.2M500.5 454.5h1.2M519 433h1.2M500 474h1.2M505 444.5h1.2M508 460.5h1.2M507.5 472.5h1.2M511 414.5h1.2M518 451.5h1.2M512.5 457h1.2M510 461h1.2M509.5 453.5h1.2M504.5 455.5h1.2M540 424h1.2M518.5 425.5h1.2M496.5 444.5h1.2M506.5 428.5h1.2M511 436.5h1.2M505.5 444.5h1.2M507.5 455h1.2M519 447.5h1.2M512 425.5h1.2M508 421.5h1.2M505 445h1.2M506 448.5h1.2M501.5 443h1.2M506.5 440.5h1.2M501 438h1.2M520.5 418.5h1.2M521.5 443.5h1.2M501.5 450h1.2M510 419.5h1.2M512 448h1.2M503.5 449.5h1.2M490.5 474h1.2M528.5 445.5h1.2M494.5 429h1.2M511.5 418.5h1.2M517.5 422.5h1.2M527 417h1.2M531 415.5h1.2M482.5 441.5h1.2M511.5 440h1.2M503 442.5h1.2M523.5 416h1.2M524 408.5h1.2M515.5 409.5h1.2M506 467h1.2M503 457h1.2M519 418.5h1.2M505.5 439.5h1.2M502.5 439.5h1.2M516.5 424.5h1.2M503.5 425.5h1.2M507 455.5h1.2M507.5 451.5h1.2M503.5 453.5h1.2M509 445h1.2M503.5 439h1.2M526 454.5h1.2M522.5 441.5h1.2M514 471.5h1.2M498.5 439.5h1.2M500.5 446h1.2M514.5 440h1.2M510.5 428h1.2M521.5 443.5h1.2M513.5 435h1.2M504 423h1.2M500 450.5h1.2M482.5 465.5h1.2M511 445.5h1.2M502 435h1.2M513 428h1.2M516 415.5h1.2M504 448.5h1.2M500.5 446.5h1.2M505 423.5h1.2M508.5 440.5h1.2M512 425h1.2M501.5 462h1.2M506.5 440.5h1.2M512 448.5h1.2M492 464h1.2M504.5 445h1.2M507.5 444h1.2M515.5 437h1.2M515.5 442.5h1.2M509 462h1.2M518.5 431.5h1.2M506.5 427h1.2M496 466h1.2M512.5 459.5h1.2M513 450h1.2M495 449h1.2M497 437h1.2M505 433h1.2M495.5 432h1.2M512 446.5h1.2M508.5 431.5h1.2M523 416.5h1.2M494.5 431.5h1.2M504 443h1.2M507 437h1.2M502 449.5h1.2M511.5 446.5h1.2M503.5 455h1.2M523.5 448h1.2M513 438.5h1.2M512 451.5h1.2M498 451.5h1.2M502 429.5h1.2M512 426h1.2M507.5 463.5h1.2M519.5 434.5h1.2M501.5 444h1.2M513.5 433.5h1.2M509 444h1.2M507.5 464.5h1.2M497 465.5h1.2M515 419h1.2M512 415.5h1.2M505.5 449.5h1.2M509 468h1.2M505.5 443.5h1.2M510.5 435.5h1.2M506 454h1.2M508 423h1.2M513.5 453.5h1.2M490 457h1.2M498.5 458h1.2M500.5 449.5h1.2M509.5 431.5h1.2M515.5 436.5h1.2M518 427h1.2M491 466.5h1.2M501 459.5h1.2M506.5 438h1.2M511.5 439.5h1.2M501.5 441.5h1.2M508 428h1.2M514.5 451.5h1.2M492 442.5h1.2M499 444h1.2M502.5 438.5h1.2M510 437h1.2M511 415.5h1.2M501 407h1.2M495.5 475h1.2M519 435h1.2M510 437h1.2M510 435h1.2M507 424h1.2M507.5 468h1.2M522.5 412h1.2M508 448h1.2M505.5 428h1.2M493.5 456.5h1.2M502 452.5h1.2M501 438h1.2M517 416h1.2M503.5 451.5h1.2M518.5 460.5h1.2M511 452h1.2M518 438h1.2M502 448h1.2M513 427.5h1.2M514.5 446h1.2M506.5 445h1.2M511 436.5h1.2M512 423h1.2M514 437.5h1.2M519 427.5h1.2M508 417.5h1.2M504.5 456.5h1.2M503 434.5h1.2M518 434h1.2M513.5 432h1.2M508.5 447h1.2M517.5 437h1.2M508.5 426.5h1.2M516.5 447h1.2M506.5 441h1.2M529 431h1.2M511 421h1.2M501 459.5h1.2M503 432h1.2M488 453h1.2M510 450.5h1.2M509.5 438.5h1.2M519 439h1.2M502.5 466h1.2M512.5 429h1.2M511 433.5h1.2M508.5 424.5h1.2M506.5 435.5h1.2M508 422h1.2M513 443h1.2M515.5 419.5h1.2M513 450.5h1.2M508 445h1.2M526.5 450h1.2M513.5 430.5h1.2M501 459.5h1.2M500 472h1.2M512.5 438.5h1.2M525.5 432h1.2M509.5 451h1.2M514.5 437.5h1.2M507 441h1.2M502 448.5h1.2M520.5 419.5h1.2M506 451h1.2M513 422h1.2M522.5 422h1.2M504.5 430.5h1.2M486.5 457h1.2M510.5 428.5h1.2M509.5 448h1.2M513.5 424.5h1.2M497.5 446h1.2M498.5 441h1.2M511.5 461h1.2M506 441.5h1.2M514 441.5h1.2M523.5 411.5h1.2M505.5 443.5h1.2M501 450.5h1.2M510 443h1.2M514 444.5h1.2M507 448.5h1.2M511 455.5h1.2M503 421h1.2M520 442h1.2M502.5 444.5h1.2M485.5 445.5h1.2M512.5 452h1.2M521.5 428.5h1.2M496 433.5h1.2M496 437.5h1.2M506 436h1.2M499 441h1.2M508 453h1.2M509 439h1.2M502 459h1.2M523 474h1.2M501 434h1.2M491 462.5h1.2M515 454h1.2M515.5 438.5h1.2M498 458.5h1.2M488.5 471.5h1.2M507.5 441.5h1.2M524.5 409.5h1.2M494.5 465h1.2M496 471h1.2M525 427.5h1.2M510 447h1.2M505.5 461h1.2M513.5 471.5h1.2M508.5 468.5h1.2M503 468.5h1.2M493.5 482.5h1.2M487 416h1.2M500 471h1.2M476 496h1.2M494 435.5h1.2M480.5 458h1.2M504.5 430h1.2M530.5 411h1.2M507 457h1.2M487.5 446.5h1.2M487 424h1.2M489.5 449h1.2M471.5 460h1.2M490 468.5h1.2M511.5 461h1.2M514 420h1.2M504.5 440.5h1.2M504 421h1.2M514 455.5h1.2M488 456h1.2M512 450h1.2M502.5 447h1.2M507.5 416.5h1.2M508.5 420h1.2M516 437h1.2M511.5 435h1.2M478 494h1.2M502.5 472.5h1.2M526.5 429.5h1.2M539 442.5h1.2M509.5 435.5h1.2M520 438h1.2M509.5 436h1.2M533.5 405.5h1.2M501.5 476h1.2M504.5 465h1.2M490 459h1.2M514.5 453.5h1.2M515.5 463h1.2M507 439.5h1.2M515 454h1.2M500 446.5h1.2M516 418h1.2M517.5 481h1.2M512.5 424.5h1.2M510 444h1.2M509 431h1.2M500 488.5h1.2M519 414.5h1.2M522 480h1.2M483.5 463.5h1.2M507.5 436h1.2M501.5 447.5h1.2M490.5 440.5h1.2M526 413.5h1.2M519.5 461.5h1.2M518.5 451.5h1.2M509.5 461h1.2M516 415.5h1.2M502.5 427.5h1.2M521.5 428.5h1.2M516.5 454.5h1.2M500 432h1.2M502 420.5h1.2M503.5 482h1.2M501.5 432.5h1.2M499.5 473.5h1.2M505 468.5h1.2M513 432h1.2M530 409h1.2M523.5 459h1.2M516.5 468.5h1.2M505 477.5h1.2M499.5 455.5h1.2M498 456h1.2M501.5 430h1.2M520.5 434.5h1.2M513 479.5h1.2M527.5 421h1.2M492 451h1.2M504 459h1.2M500.5 438.5h1.2M507 462.5h1.2M501 488.5h1.2M516.5 493h1.2M494 435h1.2M497.5 437h1.2M469.5 423.5h1.2M481 445h1.2M495.5 466.5h1.2M526 428h1.2M527 451h1.2M515 436h1.2M512.5 430.5h1.2M526.5 442h1.2M483.5 487h1.2M481.5 484h1.2M505.5 485.5h1.2M522 411h1.2M519.5 460.5h1.2M475.5 499h1.2M512.5 461h1.2M524.5 436h1.2M523.5 469.5h1.2M519.5 446h1.2M528.5 445.5h1.2M492 450h1.2M495 456.5h1.2M521 449h1.2M516 451h1.2M515 425h1.2M505 446.5h1.2M512.5 468.5h1.2M490 445h1.2M500 441.5h1.2M494.5 407h1.2M528.5 485h1.2M533 427.5h1.2M492.5 461h1.2M506.5 439h1.2M503 467.5h1.2M511 476.5h1.2M502.5 439h1.2M501 421.5h1.2M503 423.5h1.2M524.5 462h1.2M486.5 492.5h1.2M480.5 456.5h1.2M486 438h1.2M481 474.5h1.2M494.5 439.5h1.2M508 471h1.2M486 451h1.2M493.5 469h1.2M486 486.5h1.2M510 441h1.2M497.5 465h1.2M505 461.5h1.2M502.5 440.5h1.2M510.5 440.5h1.2M515.5 477h1.2M518 436h1.2M505.5 434.5h1.2M496.5 467h1.2M482 464h1.2M482.5 480.5h1.2M495.5 430h1.2M517 418h1.2M485 469h1.2M526 416h1.2M516.5 441.5h1.2M497.5 440h1.2M489.5 487h1.2M514.5 452h1.2M504.5 417h1.2M489.5 442h1.2M486.5 476h1.2M505.5 414.5h1.2M487 468.5h1.2M514 454.5h1.2M535 432.5h1.2M511.5 445h1.2M542 463h1.2M521 424.5h1.2M523 440h1.2M493 481.5h1.2M511.5 458.5h1.2M497 474h1.2M516.5 451h1.2M513 436.5h1.2M486.5 449.5h1.2M525 431.5h1.2M523 463.5h1.2M492 436h1.2M499.5 438.5h1.2M508.5 442.5h1.2M518 428.5h1.2M491.5 478.5h1.2M522 415.5h1.2M493 450h1.2M519.5 421h1.2M506 471.5h1.2M501.5 441.5h1.2M513.5 456h1.2M496 457h1.2M516.5 461.5h1.2M510.5 455h1.2M501 456h1.2M511 459h1.2M498 434h1.2M509 442h1.2M505.5 442h1.2M534 440h1.2M503.5 434h1.2M494.5 478.5h1.2M540 423.5h1.2M490 486h1.2M506 435h1.2M509 465.5h1.2M518.5 453h1.2M523.5 450h1.2M501 461h1.2M492 487h1.2M509 446.5h1.2M483 440h1.2M510.5 436.5h1.2M488 494h1.2M515 481.5h1.2M493.5 473h1.2M495 445.5h1.2M531 409h1.2M478.5 451.5h1.2M526.5 410.5h1.2M509 434h1.2M502.5 472h1.2M515 437h1.2M544 444.5h1.2M525.5 473.5h1.2M488.5 453h1.2M522.5 442h1.2M509 459h1.2M524.5 431h1.2M507 454h1.2M513.5 473.5h1.2M508.5 448.5h1.2M511 419h1.2M492 431.5h1.2M527 484h1.2M511.5 435.5h1.2M497 452h1.2M492.5 455h1.2M519 439h1.2M505 449h1.2M506 434h1.2M481.5 441h1.2M515 467.5h1.2M504 481h1.2M509.5 437.5h1.2M514 463h1.2M499.5 443h1.2M525 435h1.2M508 429.5h1.2M523.5 453h1.2M515.5 452h1.2M509 430.5h1.2M477.5 508.5h1.2M517 451.5h1.2M518 469.5h1.2M501.5 440h1.2M494 435.5h1.2M497 450h1.2M514 481.5h1.2M492 442.5h1.2M501 421.5h1.2M500.5 486.5h1.2M505.5 465h1.2M491.5 437h1.2M504.5 441.5h1.2M503 441h1.2M492 447.5h1.2M513 407.5h1.2M472.5 440.5h1.2M495 429h1.2M500.5 458.5h1.2M502 455h1.2M517.5 425.5h1.2M481.5 474h1.2M513.5 470h1.2M502.5 424.5h1.2M520.5 426.5h1.2M532 440h1.2M492 452h1.2M491 475h1.2M509.5 426.5h1.2M515.5 432h1.2M502 460h1.2M513.5 449.5h1.2M491 441.5h1.2M491 440h1.2M508.5 441h1.2M492 487.5h1.2M495 469h1.2M498 437h1.2M493.5 475.5h1.2M496 492.5h1.2M504.5 459.5h1.2M500 454h1.2M511 437.5h1.2M509 452.5h1.2M490 448h1.2M490.5 476h1.2M502.5 423h1.2M528.5 414.5h1.2M500 433.5h1.2M502.5 456h1.2M515 446h1.2M519 432h1.2M519.5 424.5h1.2M503 450.5h1.2M497.5 474.5h1.2M493 409.5h1.2M498.5 451h1.2M504 443h1.2M501.5 463h1.2M514.5 451h1.2M519.5 437h1.2M494.5 466.5h1.2M519.5 463.5h1.2M495 418.5h1.2M528 437.5h1.2M490 447.5h1.2M487 461h1.2M497 430.5h1.2M501 436.5h1.2M518.5 440.5h1.2M510 452h1.2M503 432h1.2M505.5 445h1.2M529.5 431h1.2M503 424h1.2M491.5 449.5h1.2M520 413.5h1.2M501 446.5h1.2M485.5 470.5h1.2M534 443h1.2M515.5 438.5h1.2M522 432h1.2M517.5 418.5h1.2M524 439h1.2M530 423.5h1.2M505 441.5h1.2M489 427.5h1.2M528.5 426.5h1.2M487 441.5h1.2M487 466h1.2M488 461h1.2M493 435.5h1.2M510.5 448h1.2M501 419h1.2M525 447.5h1.2M509.5 465h1.2M496 462.5h1.2M486.5 474h1.2M533 418.5h1.2M515.5 489.5h1.2M498 453.5h1.2M490.5 480.5h1.2M498 444h1.2M497 474.5h1.2M521 451.5h1.2M501 418.5h1.2M494.5 451h1.2M507.5 434.5h1.2M481 437.5h1.2M499 457.5h1.2M482.5 458h1.2M502.5 462h1.2M531.5 480h1.2M531 416.5h1.2M528 483.5h1.2M515 429h1.2M491.5 444h1.2M528.5 444h1.2M506.5 418h1.2M502 467.5h1.2M503.5 420h1.2M506 432.5h1.2M506 483.5h1.2M519 409h1.2M488 464.5h1.2M487 429.5h1.2M502 465h1.2M487 440h1.2M510.5 436h1.2M493.5 460h1.2M509 430h1.2M517.5 437h1.2M502.5 451.5h1.2M519.5 423.5h1.2M510.5 412h1.2M530.5 413.5h1.2M509.5 471.5h1.2M481 486.5h1.2M490.5 471h1.2M504 430h1.2M503 433h1.2M501.5 420h1.2M500 444.5h1.2M487 466.5h1.2M515 448h1.2M500 444h1.2M517.5 458.5h1.2M517.5 420.5h1.2M500 438.5h1.2M502.5 455h1.2M484.5 442.5h1.2M492 461h1.2M488.5 479.5h1.2M533 417h1.2M492 484h1.2M501.5 458h1.2M491 424h1.2M516.5 444h1.2M506.5 447.5h1.2M505.5 473.5h1.2M506 439h1.2M525 454h1.2M512.5 415.5h1.2M494 480.5h1.2M499.5 456.5h1.2M479 426h1.2M516.5 417h1.2M500 445h1.2M498.5 467h1.2M475 495h1.2M465 482h1.2M489 432h1.2M504.5 436.5h1.2M527.5 430.5h1.2M496.5 456h1.2M530 437h1.2M510.5 464h1.2M509.5 457h1.2M514.5 461.5h1.2M513 425.5h1.2M500.5 475h1.2M515 446h1.2M510.5 418.5h1.2M514 449.5h1.2M489 446.5h1.2M497.5 446.5h1.2M503 471h1.2M490.5 473.5h1.2M495 502h1.2M513 448h1.2M484 471.5h1.2M485 489h1.2M483.5 440h1.2M520.5 485.5h1.2M479.5 433h1.2M523 468h1.2M526 471h1.2M534 442.5h1.2M523 439.5h1.2M522.5 468.5h1.2M509 445.5h1.2M497.5 440h1.2M504.5 479h1.2M501 455.5h1.2M496.5 451h1.2M505 452h1.2M499.5 438.5h1.2M491.5 468.5h1.2M508.5 436.5h1.2M519 421.5h1.2M503 441.5h1.2M483 487.5h1.2M527.5 433.5h1.2M499.5 479h1.2M502.5 443h1.2M496.5 461h1.2M468 495.5h1.2M489.5 454.5h1.2M528 429h1.2M488.5 437h1.2M520.5 431h1.2M488.5 456.5h1.2M518.5 474h1.2M494.5 456h1.2M508 423h1.2M504 432h1.2M522 452h1.2M482.5 484.5h1.2M516.5 438.5h1.2M501 427.5h1.2M512 475h1.2M521.5 437.5h1.2M536.5 432.5h1.2M515.5 448h1.2M486.5 463h1.2M501.5 450.5h1.2M515 442h1.2M478 475.5h1.2M492 479h1.2M509 408.5h1.2M510.5 420.5h1.2M514 427.5h1.2M505.5 443h1.2M499 450.5h1.2M493 442h1.2M498 447.5h1.2M491.5 455h1.2M528.5 423.5h1.2M544.5 406h1.2M499.5 454h1.2M494 476h1.2M499 451h1.2M520.5 443h1.2M499.5 460.5h1.2M520.5 445h1.2M514.5 418.5h1.2M509.5 440h1.2M501.5 466.5h1.2M499.5 454.5h1.2M506 466h1.2M509.5 437h1.2M493 458.5h1.2M476.5 475h1.2M503.5 439.5h1.2M500 434h1.2M489 474h1.2M485.5 444h1.2M490.5 413.5h1.2M516 441.5h1.2M487 475.5h1.2M499 455.5h1.2M472.5 484.5h1.2M528.5 473h1.2M511 457h1.2M517 479.5h1.2M494 429.5h1.2M494 472h1.2M498.5 444h1.2M502.5 441.5h1.2M499 456.5h1.2M504 436.5h1.2M519 425h1.2M536 436.5h1.2M497.5 459.5h1.2M503.5 456h1.2M511 453h1.2M506.5 467.5h1.2M497 423.5h1.2M517 442.5h1.2M505 490h1.2M505 424.5h1.2M478.5 472h1.2M522.5 448h1.2M512.5 465h1.2M515.5 458.5h1.2M503 441.5h1.2M498 449h1.2M481.5 465h1.2M511.5 433.5h1.2M515.5 428.5h1.2M505.5 471h1.2M495.5 435.5h1.2M513.5 447.5h1.2M516.5 448h1.2M511.5 440.5h1.2M519.5 408.5h1.2M501.5 445h1.2M516 441h1.2M495.5 411.5h1.2M487.5 428.5h1.2M516.5 459h1.2M490 487.5h1.2M521 441h1.2M498 480.5h1.2M523 443.5h1.2M505 460.5h1.2M504 442h1.2M497.5 465h1.2M520 457.5h1.2M531.5 448h1.2M539 421.5h1.2M483.5 466.5h1.2M519 416h1.2M509 435h1.2M475 483h1.2M515 458.5h1.2M500 449.5h1.2M512 454.5h1.2M501.5 454h1.2M530 449h1.2M507.5 458.5h1.2M507.5 445.5h1.2M506.5 441h1.2M518.5 465.5h1.2M503.5 464.5h1.2M492.5 453.5h1.2M499 471h1.2M481 488h1.2M484.5 485.5h1.2M501.5 450.5h1.2M518 426h1.2M495.5 475h1.2M515 455.5h1.2M491.5 464h1.2M504.5 440h1.2M485 464h1.2M488 415.5h1.2M494 450h1.2M509 417h1.2M487.5 494h1.2M497.5 440.5h1.2M498.5 479.5h1.2M512.5 476.5h1.2M510.5 486h1.2M502.5 420.5h1.2M497 456.5h1.2M488.5 477h1.2M526 452.5h1.2M508.5 460.5h1.2M525 451h1.2M521 447.5h1.2M501 483h1.2M519 435h1.2M486.5 444.5h1.2M515.5 468h1.2M512 453.5h1.2M507.5 472h1.2M519.5 405h1.2M488 472.5h1.2M523.5 426.5h1.2M526 452h1.2M512.5 444h1.2M497 459h1.2M519 450h1.2M497 436.5h1.2M511.5 469.5h1.2M496.5 498.5h1.2M515 438h1.2M488 427.5h1.2M500.5 433.5h1.2M510.5 421h1.2M526.5 426.5h1.2M522 443.5h1.2M508 468.5h1.2M490.5 432h1.2M496.5 426h1.2M504.5 447h1.2M519.5 435h1.2M498.5 486h1.2M499 448.5h1.2M511.5 410h1.2M505 435.5h1.2M520.5 432h1.2M506 428h1.2M499 434.5h1.2M507 435.5h1.2M501.5 431.5h1.2M511.5 419.5h1.2M508 459.5h1.2M498 425.5h1.2M505.5 424h1.2M504.5 469h1.2M500.5 477.5h1.2M511 423h1.2M512.5 447.5h1.2M513 466h1.2M509 473.5h1.2M522 443.5h1.2M503 455.5h1.2M505 438.5h1.2M520 409.5h1.2M516.5 476h1.2M504.5 447h1.2M491 454.5h1.2M520 449h1.2M522.5 433h1.2M498.5 434.5h1.2M505 457.5h1.2M502.5 416.5h1.2M497.5 485h1.2M504.5 505.5h1.2M499 470h1.2M505.5 438h1.2M510.5 466h1.2M509.5 455h1.2M483.5 437h1.2M505 471.5h1.2M486.5 445h1.2M507 486.5h1.2M500 455.5h1.2M512 415.5h1.2M496.5 442h1.2M505.5 449.5h1.2M517 439h1.2M513.5 421.5h1.2M507.5 499h1.2M534.5 457.5h1.2M523.5 455h1.2M499.5 407h1.2M491.5 458.5h1.2M485 439.5h1.2M491 472h1.2M487.5 487h1.2M479.5 478h1.2M483 506h1.2M462 488h1.2M476.5 488h1.2M484 499.5h1.2M484.5 475.5h1.2M477 488h1.2M484 497.5h1.2M487 469h1.2M482 470h1.2M483 495.5h1.2M485 500.5h1.2M491.5 493h1.2M465.5 490h1.2M490 464.5h1.2M500.5 500.5h1.2M486 502h1.2M483 484.5h1.2M510 464.5h1.2M507 480h1.2M487.5 504h1.2M481 492h1.2M474.5 465.5h1.2M476.5 505.5h1.2M476.5 491h1.2M486.5 496h1.2M516 463.5h1.2M513.5 488h1.2M489.5 497.5h1.2M497 466h1.2M492 472h1.2M488.5 501.5h1.2M487 484.5h1.2M509 497h1.2M476.5 496.5h1.2M491.5 484.5h1.2M483.5 479h1.2M499 495h1.2M515.5 477h1.2M496 492h1.2M499 462.5h1.2M487 495h1.2M493.5 496.5h1.2M479 499.5h1.2M511.5 483h1.2M508.5 499h1.2M507.5 469h1.2M508 459h1.2M479.5 502.5h1.2M519.5 464.5h1.2M476.5 469.5h1.2M484.5 472h1.2M525 459h1.2M489 470h1.2M481.5 478h1.2M474 466.5h1.2M497.5 504h1.2M512.5 461h1.2M496.5 472.5h1.2M474 468.5h1.2M489 485h1.2M487 462h1.2M501.5 485h1.2M514.5 466h1.2M492.5 496h1.2M498 477.5h1.2M512.5 476.5h1.2M507.5 501h1.2M480.5 466h1.2M496.5 483.5h1.2M472 494.5h1.2M481 482.5h1.2M498 508h1.2M469 508h1.2M495 462h1.2M500 505.5h1.2M491 502.5h1.2M475.5 463.5h1.2M485.5 496h1.2M490.5 475h1.2M483 471h1.2M517 484.5h1.2M498 462h1.2M487.5 497.5h1.2M497.5 506h1.2M496.5 472.5h1.2M466.5 507.5h1.2M484.5 505h1.2M497.5 480h1.2M493.5 481h1.2M502.5 490.5h1.2M509 461.5h1.2M502 468.5h1.2M488 486h1.2M494 476h1.2M516 483.5h1.2M475 466.5h1.2M499 505.5h1.2M498 479.5h1.2M486.5 470h1.2M498 460.5h1.2M498 487h1.2M474.5 478.5h1.2M490.5 492h1.2M496 493h1.2M486.5 461.5h1.2M499 463h1.2M510 481h1.2M495 479.5h1.2M481.5 479h1.2M470.5 484.5h1.2M469.5 480h1.2M499 500h1.2M487.5 487.5h1.2M493 473h1.2M490 478h1.2M486 469.5h1.2M513 486.5h1.2M495 501.5h1.2M508.5 490.5h1.2M469.5 504h1.2M495.5 496h1.2M498.5 487.5h1.2M472 499.5h1.2M477.5 491.5h1.2M488 458.5h1.2M502.5 490.5h1.2M490.5 496.5h1.2M478 496.5h1.2M503.5 472h1.2M488 467h1.2M500.5 458h1.2M494.5 469.5h1.2M485 467.5h1.2M507 472.5h1.2M498 463h1.2M467 467h1.2M494.5 464.5h1.2M514.5 470h1.2M464.5 478h1.2M498.5 498.5h1.2M488 504h1.2M474.5 487.5h1.2M491 483.5h1.2M477 482.5h1.2M465 505h1.2M490.5 502.5h1.2M493 490h1.2M470.5 475.5h1.2M479.5 500h1.2M485 505.5h1.2M471.5 483h1.2M510 467.5h1.2M482 482.5h1.2M499 474.5h1.2M506 461.5h1.2M477 490h1.2M494.5 488h1.2M491.5 487h1.2M502.5 463h1.2M483.5 491.5h1.2M505 479h1.2M503 474.5h1.2M513.5 474.5h1.2M506 480.5h1.2M473.5 484.5h1.2M479.5 498h1.2M495.5 487.5h1.2M511 460h1.2M483.5 480h1.2M488.5 493.5h1.2M497.5 476.5h1.2M497 460h1.2M497.5 505.5h1.2M478.5 484h1.2M502.5 467h1.2M474.5 505h1.2M503.5 460.5h1.2M486 461.5h1.2M493.5 464.5h1.2M508 467.5h1.2M477.5 488h1.2M486 504.5h1.2M501.5 476h1.2M484 504h1.2M491.5 471.5h1.2M494 474h1.2M479.5 485h1.2M496 500h1.2M498 492h1.2M515.5 477h1.2M498 472.5h1.2M507.5 475h1.2M479.5 502h1.2M500.5 473.5h1.2M484.5 466.5h1.2M498 471.5h1.2M489 477.5h1.2M497 505.5h1.2M466 482h1.2M483.5 502h1.2M481.5 502.5h1.2M498.5 487.5h1.2M479 494.5h1.2M491.5 465h1.2M508.5 479h1.2M489.5 463.5h1.2M492.5 463.5h1.2M506 482.5h1.2M459.5 499.5h1.2M503 462.5h1.2M503 459.5h1.2M489.5 500h1.2M469.5 480.5h1.2M479 464h1.2M475 503h1.2M480 485.5h1.2M496 495.5h1.2M479.5 504h1.2M515 464.5h1.2M496.5 465.5h1.2M492.5 505h1.2M485.5 474h1.2M482.5 487.5h1.2M496 485.5h1.2M507 469h1.2M486 473h1.2M513.5 463.5h1.2M488 483.5h1.2M509.5 489.5h1.2M483 459h1.2M482 499h1.2M503.5 470.5h1.2M490 484.5h1.2M490.5 461.5h1.2M502 474.5h1.2M509.5 462.5h1.2M485 487.5h1.2M504 474h1.2M479.5 504h1.2M487 464.5h1.2M507 485h1.2M477.5 506h1.2M488.5 472.5h1.2M495.5 501.5h1.2M471.5 507.5h1.2M486 462h1.2M487.5 485h1.2M494 479h1.2M503.5 482h1.2M484.5 498.5h1.2M479 498h1.2M479 471h1.2M486 487h1.2M478.5 506h1.2M509.5 469.5h1.2M475.5 467.5h1.2M468 486h1.2M469.5 478h1.2M491.5 472.5h1.2M492.5 497h1.2M505 505.5h1.2M474.5 470.5h1.2M499 464h1.2M484 480.5h1.2M511.5 484.5h1.2M490 502h1.2M504 505.5h1.2M490.5 485h1.2M502.5 490.5h1.2M495 486h1.2M490.5 458h1.2M502 486.5h1.2M484.5 492.5h1.2M465 475.5h1.2M488 489h1.2M477 479h1.2M491.5 504h1.2M511 482h1.2M494 486h1.2M503 466.5h1.2M472 494.5h1.2M482 481h1.2M489 465.5h1.2M516 483.5h1.2M490 468.5h1.2M497 475.5h1.2M471 472h1.2M484.5 483.5h1.2M492 486.5h1.2M485 498h1.2M487.5 483.5h1.2M491 502h1.2M492.5 500h1.2M482.5 460h1.2M476.5 475.5h1.2M504.5 463h1.2M496 501.5h1.2M480.5 460h1.2M503.5 470h1.2M472 487.5h1.2M494.5 464h1.2M501 505h1.2M474 471.5h1.2M497 463.5h1.2M494 464h1.2M478 478.5h1.2M501 482h1.2M477.5 488.5h1.2M488.5 463h1.2M482 466.5h1.2M499.5 473.5h1.2M504.5 461.5h1.2M514.5 462.5h1.2M490 475h1.2M482.5 476.5h1.2M506.5 495h1.2M476 507h1.2M505 466h1.2M508 495.5h1.2M508 460h1.2M472.5 467.5h1.2M484 461h1.2M487.5 461h1.2M506.5 466.5h1.2M480.5 485.5h1.2M496.5 496.5h1.2M487.5 503h1.2M486.5 504h1.2M493.5 474h1.2M476 500h1.2M507 487.5h1.2M490 491.5h1.2M507.5 492h1.2M483 470.5h1.2M462.5 505h1.2M510.5 476.5h1.2M482 462.5h1.2M492.5 482.5h1.2M485 486.5h1.2M487.5 486.5h1.2M485 487.5h1.2M469.5 507h1.2M474.5 485h1.2M489.5 496h1.2M478 494.5h1.2M512 485.5h1.2M490.5 487.5h1.2M502.5 503h1.2M488.5 470h1.2M497 496.5h1.2M484.5 477.5h1.2M476 491h1.2M480 507.5h1.2M489 479.5h1.2M519 499h1.2M474.5 479h1.2M486 470.5h1.2M504.5 466h1.2M482.5 502h1.2M485 506.5h1.2M496.5 496h1.2M491 475.5h1.2M474.5 505h1.2M473 482h1.2M489.5 483h1.2M492 501.5h1.2M500.5 459h1.2M502 495h1.2M486 479h1.2M489.5 497.5h1.2M482 475h1.2M470.5 466.5h1.2M496.5 488h1.2M482.5 488.5h1.2M500 477.5h1.2M484.5 475.5h1.2M458 444.5h1.2M475.5 413.5h1.2M491.5 452.5h1.2M481 442h1.2M492 462.5h1.2M514 440h1.2M499 476h1.2M512 451h1.2M495.5 453h1.2M481 501h1.2M473 477.5h1.2M440.5 449h1.2M515 469h1.2M529 430h1.2M473 447h1.2M474 458h1.2M476.5 447h1.2M508.5 442h1.2M502 474.5h1.2M493 450h1.2M498 445.5h1.2M454.5 450h1.2M496 448.5h1.2M494 477h1.2M512 467.5h1.2M480 432h1.2M485 488h1.2M505 483h1.2M571 456h1.2M483 442h1.2M553.5 462h1.2M474.5 450.5h1.2M500.5 472h1.2M474.5 461h1.2M536 486.5h1.2M503 429.5h1.2M504.5 449.5h1.2M527 467h1.2M534.5 452h1.2M482 453.5h1.2M506 439h1.2M486.5 499h1.2M530.5 458h1.2M443.5 475h1.2M558 446h1.2M493.5 452.5h1.2M444 460h1.2M507 494h1.2M477 488.5h1.2M500.5 502.5h1.2M503 491.5h1.2M528 490.5h1.2M450.5 457.5h1.2M510 448h1.2M530.5 487h1.2M465 447.5h1.2M519.5 472h1.2M521.5 449.5h1.2M485 441h1.2M448.5 462.5h1.2M503.5 444h1.2M487 455.5h1.2M541.5 478.5h1.2M493.5 458h1.2M518.5 481h1.2M509 453h1.2M505 468.5h1.2M466.5 441.5h1.2M480 487.5h1.2M502.5 421.5h1.2M497.5 467h1.2M497 472.5h1.2M520.5 410.5h1.2M501 429.5h1.2M519 431.5h1.2M502 460h1.2M510 456.5h1.2M485.5 455h1.2M459.5 473.5h1.2M522.5 506h1.2M523 441.5h1.2M517 468.5h1.2M478 462.5h1.2M529 483h1.2M502.5 420h1.2M504 430h1.2M481.5 440.5h1.2M486.5 440h1.2M483 466h1.2M509.5 452h1.2M481.5 422h1.2M499 447h1.2M485 429.5h1.2M465.5 446.5h1.2M501 457.5h1.2M503 446h1.2M501.5 485h1.2M527.5 471h1.2M499.5 431h1.2M474 489.5h1.2M551 502.5h1.2M500.5 457.5h1.2M519.5 468.5h1.2M503 483h1.2M438 465h1.2M531.5 486h1.2M469 472h1.2M528.5 449.5h1.2M496 451.5h1.2M526.5 350.5h1.2M530 347.5h1.2M489 420h1.2M470.5 465h1.2" stroke="#30f036" stroke-width="1.2" fill="none"/>
<path d="M516.5 394h1.2M506.5 402h1.2M541.5 400.5h1.2M525 398.5h1.2M514.5 404.5h1.2M532.5 402.5h1.2M525.5 383h1.2M537 400.5h1.2M546.5 402.5h1.2M522.5 398.5h1.2M505.5 411.5h1.2M499 399h1.2M548.5 404.5h1.2M528 391h1.2M509 399.5h1.2M518.5 396h1.2M499 401h1.2M541 404h1.2M523 405h1.2M516.5 386.5h1.2M497.5 386.5h1.2M554 405h1.2M524.5 388.5h1.2M484 388h1.2M512 389h1.2M521 391.5h1.2M524.5 389.5h1.2M503.5 389h1.2M543 386.5h1.2M527.5 405h1.2M520 398.5h1.2M508.5 396.5h1.2M489 397.5h1.2M512.5 395h1.2M518 391.5h1.2M498.5 400.5h1.2M526 393h1.2M533 400h1.2M518 374.5h1.2M515.5 388.5h1.2M520 394.5h1.2M545.5 408h1.2M542 405.5h1.2M491.5 395.5h1.2M514 387.5h1.2M562.5 401.5h1.2M514.5 395h1.2M550.5 396h1.2M529.5 393.5h1.2M540.5 401h1.2M519.5 376h1.2M526 381.5h1.2M528.5 400.5h1.2M522 388.5h1.2M518 400.5h1.2M544.5 397h1.2M520.5 385h1.2M540.5 406h1.2M511.5 389.5h1.2M515 396h1.2M534 392h1.2M531 390h1.2M537 396h1.2M523.5 388h1.2M520.5 392.5h1.2M515.5 383.5h1.2M494.5 390h1.2M512 399h1.2M536 403h1.2M522.5 383.5h1.2M521 405.5h1.2M545 385.5h1.2M505.5 392h1.2M526 397h1.2M510 398h1.2M540.5 394h1.2M498.5 383.5h1.2M512.5 402.5h1.2M510 401.5h1.2M518 384h1.2M512.5 389.5h1.2M552.5 396h1.2M523.5 371.5h1.2M515.5 403h1.2M499.5 382h1.2M499.5 388.5h1.2M508 393h1.2M504.5 378h1.2M526.5 404.5h1.2M513 386h1.2M517 380h1.2M517.5 396.5h1.2M506 391.5h1.2M502 384h1.2M510 390.5h1.2M520 409.5h1.2M517.5 399.5h1.2M507.5 390.5h1.2M547 398.5h1.2M522 411.5h1.2M532.5 393.5h1.2M550 385h1.2M503 400.5h1.2M537 394.5h1.2M530 377h1.2M529 384h1.2M500 376h1.2M513.5 372h1.2M522.5 388h1.2M521.5 389h1.2M541.5 415h1.2M515 392h1.2M526 390.5h1.2M516.5 391.5h1.2M499.5 390h1.2M513 401h1.2M519.5 406h1.2M553 385.5h1.2M544 387.5h1.2M512.5 391.5h1.2M502 406.5h1.2M521.5 390h1.2M509.5 401h1.2M561 400.5h1.2M535.5 393.5h1.2M520.5 392h1.2M509 403.5h1.2M505 385.5h1.2M519.5 394.5h1.2M479.5 385.5h1.2M512.5 400.5h1.2M513.5 393h1.2M543 409h1.2M489 400.5h1.2M533.5 405h1.2M516.5 389.5h1.2M533.5 397h1.2M508.5 393.5h1.2M528 394h1.2M537 389h1.2M563.5 398h1.2M509.5 386h1.2M524 377h1.2M512.5 418.5h1.2M509.5 399h1.2M521 389h1.2M523.5 388.5h1.2M512.5 403.5h1.2M497.5 374.5h1.2M527.5 387h1.2M495.5 396.5h1.2M520 393.5h1.2M535 405.5h1.2M500.5 389.5h1.2M519 394h1.2M526 390h1.2M519 398.5h1.2M513 394.5h1.2M521 396.5h1.2M533 394h1.2M502 400h1.2M518.5 394.5h1.2M531 403h1.2M514.5 382h1.2M506 375h1.2M531.5 404h1.2M533.5 392h1.2M538.5 391.5h1.2M520 397.5h1.2M507.5 403h1.2M545.5 399h1.2M541.5 397.5h1.2M532.5 402h1.2M512 397h1.2M523 395.5h1.2M511.5 375h1.2M503 396.5h1.2M524.5 388.5h1.2M521 413.5h1.2M531.5 391h1.2M522.5 397h1.2M553.5 403.5h1.2M505.5 392h1.2M536 421.5h1.2M515.5 390.5h1.2M533.5 407.5h1.2M506.5 390.5h1.2M556.5 401.5h1.2M542 407.5h1.2M495 390h1.2M542.5 399h1.2M526.5 387h1.2M534.5 402.5h1.2M513 423.5h1.2M519.5 393h1.2M498 394h1.2M515.5 387.5h1.2M512.5 424h1.2M498.5 375h1.2M507.5 385.5h1.2M526 379h1.2M527 402.5h1.2M514 394h1.2M542.5 404.5h1.2M513.5 392.5h1.2M527.5 410.5h1.2M539 412.5h1.2M506.5 401h1.2M546.5 377h1.2M521.5 386.5h1.2M508 392h1.2M545 409.5h1.2M554 379h1.2M513 407h1.2M538 402.5h1.2M533.5 413h1.2M524.5 385h1.2M558.5 398h1.2M522.5 385.5h1.2M513 386.5h1.2M524 388.5h1.2M524.5 379.5h1.2M512 404h1.2M516 398h1.2M503 381.5h1.2M536.5 380h1.2M497.5 398.5h1.2M545 380.5h1.2M535.5 388.5h1.2M519 382h1.2M517.5 386.5h1.2M510.5 395.5h1.2M520 402h1.2M549 405.5h1.2M530 386.5h1.2M512 404h1.2M547 413h1.2M514 399.5h1.2M510.5 413.5h1.2M558.5 395.5h1.2M534.5 391h1.2M543 393.5h1.2M533.5 392h1.2M529 402.5h1.2M532.5 399.5h1.2M535.5 394.5h1.2M554.5 414.5h1.2M504 388.5h1.2M486 379h1.2M519.5 388h1.2M502 377h1.2M525.5 393.5h1.2M505.5 382h1.2M523 394h1.2M539 403h1.2M513 396h1.2M511.5 387.5h1.2M530 414.5h1.2M513 381.5h1.2M519 400h1.2M520 394h1.2M501 391h1.2M539 393h1.2M507 383h1.2M535 404h1.2M532.5 381.5h1.2M505 391h1.2M520 380.5h1.2M540.5 383h1.2M517.5 394h1.2M558.5 399.5h1.2M502 406.5h1.2M545.5 385h1.2M495.5 388h1.2M518 394h1.2M537.5 400.5h1.2M493 382h1.2M530.5 382h1.2M503 395.5h1.2M499 395h1.2M509.5 394.5h1.2M512.5 394.5h1.2M511.5 402.5h1.2M510 400h1.2M506.5 396.5h1.2M482 377h1.2M541 409h1.2M557.5 396.5h1.2M528.5 400h1.2M520 384.5h1.2M506.5 388.5h1.2M524.5 402.5h1.2M527 393h1.2M505.5 398.5h1.2M520 389.5h1.2M529.5 412h1.2M527 394.5h1.2M514.5 416.5h1.2M522 401h1.2M510.5 391h1.2M523.5 384.5h1.2M524 391h1.2M505.5 408h1.2M523 383.5h1.2M540 385.5h1.2M537.5 402h1.2M484 395h1.2M500 384.5h1.2M540 391.5h1.2M529 394.5h1.2M529.5 394.5h1.2M497 397.5h1.2M518.5 411h1.2M531.5 396h1.2M530.5 389.5h1.2M513 381h1.2M517 377h1.2M527 395h1.2M528.5 382h1.2M541 406.5h1.2M486.5 382h1.2M514 385.5h1.2M538 412.5h1.2M508 374.5h1.2M521.5 402.5h1.2M544.5 402h1.2M505 392h1.2M527 396h1.2M555 393.5h1.2M500 393.5h1.2M487.5 395.5h1.2M543.5 382h1.2M514 393h1.2M521.5 393h1.2M523.5 392h1.2M540.5 403.5h1.2M517.5 391.5h1.2M538.5 395.5h1.2M531 408h1.2M524 386h1.2M539.5 395.5h1.2M527.5 392h1.2M522.5 387h1.2M571.5 403.5h1.2M486.5 397h1.2M505.5 382h1.2M499.5 411h1.2M519 379h1.2M530.5 374.5h1.2M520 387h1.2M561 394h1.2M510.5 402.5h1.2M503.5 393h1.2M524.5 385h1.2M515.5 390.5h1.2M514.5 389h1.2M530 421h1.2M526.5 397h1.2M539 401.5h1.2M503.5 394h1.2M531 399h1.2M522 394h1.2M514 384h1.2M496.5 387.5h1.2M520 395.5h1.2M506.5 377.5h1.2M533 398h1.2M532 385.5h1.2M533.5 382h1.2M566.5 406.5h1.2M540.5 404.5h1.2M487 393h1.2M532.5 392h1.2M528.5 382.5h1.2M527 387.5h1.2M514.5 389.5h1.2M536.5 397.5h1.2M475 385h1.2M500.5 386.5h1.2M529 406h1.2M526 389.5h1.2M535 402.5h1.2M514 398h1.2M512 395h1.2M533 402h1.2M527 385.5h1.2M491.5 393.5h1.2M538 394h1.2M504.5 387.5h1.2M538.5 389.5h1.2M523.5 398h1.2M532 393h1.2M539.5 393h1.2M503.5 395h1.2M534 390.5h1.2M519.5 397h1.2M517 394.5h1.2M520.5 398.5h1.2M513.5 392h1.2M525 384h1.2M525 396.5h1.2M510.5 394.5h1.2M534.5 415h1.2M518.5 410.5h1.2M501.5 396.5h1.2M526.5 404.5h1.2M536 374.5h1.2M500 383h1.2M529 386h1.2M514 397.5h1.2M524.5 400h1.2M517.5 398h1.2M526.5 401h1.2M523.5 398h1.2M485 383h1.2M524 389.5h1.2M528.5 403h1.2M533 397.5h1.2M539 409h1.2M528 392h1.2M543.5 398h1.2M537 391.5h1.2M512.5 397.5h1.2M512.5 384h1.2M548 380h1.2M535 390.5h1.2M495 380.5h1.2M504.5 389.5h1.2M541 396.5h1.2M521 406h1.2M493 389h1.2M526 404.5h1.2M534 411h1.2M529.5 406.5h1.2M518.5 402h1.2M519.5 389.5h1.2M512 395.5h1.2M513.5 391h1.2M524 402h1.2M563.5 401h1.2M561.5 412h1.2M520 389.5h1.2M495.5 394h1.2M517 404.5h1.2M514 403.5h1.2M518.5 390h1.2M491.5 398h1.2M524.5 379.5h1.2M510.5 393h1.2M525.5 382.5h1.2M496.5 387.5h1.2M525 384.5h1.2M502 388.5h1.2M509.5 384.5h1.2M508 402.5h1.2M507 410.5h1.2M510.5 399.5h1.2M510 400.5h1.2M510.5 395.5h1.2M510.5 390.5h1.2M512.5 390h1.2M518.5 383h1.2M553.5 396.5h1.2M534 405.5h1.2M512.5 388h1.2M498.5 391.5h1.2M542 392h1.2M515.5 414h1.2M523.5 408h1.2M540.5 399h1.2M486 402h1.2M510.5 396h1.2M521.5 405h1.2M544 400h1.2M521 390.5h1.2M519 407h1.2M519 401h1.2M518.5 401.5h1.2M521.5 404h1.2M512 393h1.2M511 387.5h1.2M514 396h1.2M535.5 382.5h1.2M540 401h1.2M520.5 405h1.2M517.5 391.5h1.2M536.5 416.5h1.2M531 394.5h1.2M535.5 389.5h1.2M518 399h1.2M515 391.5h1.2M527.5 402.5h1.2M520.5 388.5h1.2M539 405h1.2M507 391.5h1.2M526 398.5h1.2M519.5 403h1.2M507 383.5h1.2M516 391.5h1.2M501.5 399.5h1.2M512.5 403.5h1.2M515.5 399.5h1.2M567 397.5h1.2M504 391.5h1.2M533 394.5h1.2M514.5 390h1.2M531 383.5h1.2M521 375.5h1.2M506 399.5h1.2M542.5 408h1.2M543 387.5h1.2M494 383.5h1.2M519 394.5h1.2M517 388h1.2M494.5 391.5h1.2M525 392h1.2M533 385h1.2M523 391.5h1.2M527.5 400.5h1.2M552 395h1.2M512.5 399h1.2M539 409.5h1.2M555 410h1.2M473.5 386h1.2M518 393h1.2M542 405.5h1.2M528.5 390h1.2M517.5 372h1.2M546 395.5h1.2M532.5 411h1.2M493 396h1.2M537.5 389.5h1.2M519 392h1.2M526.5 389.5h1.2M505.5 379h1.2M531 394.5h1.2M522.5 402h1.2M506.5 390.5h1.2M517 391h1.2M550 382.5h1.2M541 420h1.2M500.5 378h1.2M529.5 397h1.2M515 400h1.2M513 393.5h1.2M523.5 402.5h1.2M552 382h1.2M532.5 389.5h1.2M508 384.5h1.2M526 383.5h1.2M533 383h1.2M537.5 407h1.2M523.5 383.5h1.2M521.5 404.5h1.2M523.5 403h1.2M533 394.5h1.2M495 374h1.2M545.5 396h1.2M528.5 390h1.2M523.5 389h1.2M506 383h1.2M526 396h1.2M554.5 401h1.2M512.5 391h1.2M495.5 386.5h1.2M526 406.5h1.2M517.5 411.5h1.2M521 394.5h1.2M497.5 386.5h1.2M529 395h1.2M530 405.5h1.2M450.5 380.5h1.2M524 396h1.2M534.5 396.5h1.2M506 395h1.2M485 393.5h1.2M524.5 391h1.2M555.5 408h1.2M532 381h1.2M560 399h1.2M526 400h1.2M522 380h1.2M513 378h1.2M544 403h1.2M505 371.5h1.2M512.5 389h1.2M510 410h1.2M526 399h1.2M518.5 409.5h1.2M494 400.5h1.2M504.5 382.5h1.2M550 400.5h1.2M522.5 398h1.2M519 404h1.2M512.5 405h1.2M524.5 402.5h1.2M509 394h1.2M542.5 391h1.2M533 407.5h1.2M523 389.5h1.2M534.5 407h1.2M516 405h1.2M518.5 380.5h1.2M533 416h1.2M521 392.5h1.2M506 400h1.2M545.5 410h1.2M514.5 409.5h1.2M526.5 406.5h1.2M542.5 415.5h1.2M499.5 396h1.2M519 386.5h1.2M538 397.5h1.2M515.5 399h1.2M512.5 400.5h1.2M519 395h1.2M519 387h1.2M520 382.5h1.2M528.5 397h1.2M516 420.5h1.2M550 401.5h1.2M528.5 392h1.2M547.5 407.5h1.2M522.5 401.5h1.2M550 404h1.2M524.5 377h1.2M543.5 394.5h1.2M526 390h1.2M546.5 407.5h1.2M511 385.5h1.2M515 390.5h1.2M531 387h1.2M508 385.5h1.2M540.5 420h1.2M517 401h1.2M529.5 400.5h1.2M540.5 392.5h1.2M535 387h1.2M507.5 400h1.2M500.5 388.5h1.2M493.5 392h1.2M506.5 393h1.2M509.5 392.5h1.2M515 370h1.2M527 404.5h1.2M496 403.5h1.2M495.5 388h1.2M525.5 394h1.2M550.5 405h1.2M507.5 388.5h1.2M524.5 378.5h1.2M522 391.5h1.2M539.5 399.5h1.2M533.5 407.5h1.2M517 384.5h1.2M537.5 396.5h1.2M523 395h1.2M534 402.5h1.2M546.5 419.5h1.2M485 390h1.2M497.5 393.5h1.2M503 378.5h1.2M498 402.5h1.2M527.5 380.5h1.2M520.5 406.5h1.2M548 410h1.2M544.5 402h1.2M529 387h1.2M518.5 398.5h1.2M533.5 394h1.2M525.5 408h1.2M521 368h1.2M532.5 398.5h1.2M520 370h1.2M520 395h1.2M520 391.5h1.2M510 399h1.2M514 382h1.2M525 386.5h1.2M525 376h1.2M503 385h1.2M548 404h1.2M549.5 400.5h1.2M550.5 394h1.2M541 398h1.2M518.5 399h1.2M505.5 393h1.2M510 373h1.2M495 382.5h1.2M518.5 385.5h1.2M500.5 363h1.2M522 400h1.2M525 398.5h1.2M515.5 383h1.2M511.5 396.5h1.2M520 396.5h1.2M532 393h1.2M515.5 395.5h1.2M549 400.5h1.2M509 384.5h1.2M509 400.5h1.2M517.5 379h1.2M513.5 409.5h1.2M524.5 397.5h1.2M531 393.5h1.2M515 396.5h1.2M549 394h1.2M492.5 382.5h1.2M521 412.5h1.2M521 398.5h1.2M500 387h1.2M498.5 386.5h1.2M520.5 403h1.2M537.5 407.5h1.2M528.5 393.5h1.2M517 404h1.2M516 393h1.2M513.5 392h1.2M513 399h1.2M533 391h1.2M542 386h1.2M530 395.5h1.2M508 398.5h1.2M531 394.5h1.2M535.5 406.5h1.2M489 396.5h1.2M527 393h1.2M512.5 392h1.2M523 394h1.2M499 394h1.2M503 394h1.2M518.5 395.5h1.2M509 403.5h1.2M512 395.5h1.2M506 393h1.2M529.5 390h1.2M537.5 400h1.2M502.5 401.5h1.2M523 401.5h1.2M513.5 393.5h1.2M525 395h1.2M540.5 391.5h1.2M526.5 389.5h1.2M516.5 402.5h1.2M504 390h1.2M538.5 400.5h1.2M543.5 412.5h1.2M491.5 382.5h1.2M531 393h1.2M514.5 406h1.2M499 394h1.2M552 389h1.2M529 397h1.2M555.5 397.5h1.2M509.5 386.5h1.2M514 390.5h1.2M501 374h1.2M523.5 389h1.2M489.5 402.5h1.2M516 391.5h1.2M540 395.5h1.2M527 405h1.2M539.5 387.5h1.2M523.5 393h1.2M529.5 409h1.2M518.5 394h1.2M500 391.5h1.2M529 395h1.2M519 397h1.2M506.5 397h1.2M503.5 388h1.2M539.5 401h1.2M494 389h1.2M512 375h1.2M524 404h1.2M526 412.5h1.2M522.5 402.5h1.2M496 389.5h1.2M538.5 396.5h1.2M518 397h1.2M492.5 404.5h1.2M534 412h1.2M520.5 388.5h1.2M487.5 399h1.2M480 376.5h1.2M519.5 388.5h1.2M511 390.5h1.2M523.5 401h1.2M523.5 393.5h1.2M505.5 399.5h1.2M526.5 399.5h1.2M520.5 409h1.2M507 378.5h1.2M532.5 399.5h1.2M522 401h1.2M514 407h1.2M531 379h1.2M508.5 389h1.2M512.5 374.5h1.2M517.5 398h1.2M507 386h1.2M544 404.5h1.2M522 404.5h1.2M530 405.5h1.2M549.5 401.5h1.2M542 406.5h1.2M546.5 430.5h1.2M508 387h1.2M545.5 407h1.2M515.5 389h1.2M515.5 401h1.2M526 389h1.2M520.5 400.5h1.2M524 382.5h1.2M525.5 398h1.2M539 423h1.2M489 375.5h1.2M499 383.5h1.2M498 397h1.2M528.5 387h1.2M528.5 376h1.2M531 383h1.2M550.5 405.5h1.2M519 404.5h1.2M498 389.5h1.2M527.5 397.5h1.2M547.5 412.5h1.2M552.5 404h1.2M517 406h1.2M520 408.5h1.2M527 394h1.2M527.5 408.5h1.2M517 400.5h1.2M514 392h1.2M546 402h1.2M543 411h1.2M524.5 385h1.2M515.5 379h1.2M508.5 402h1.2M498 406.5h1.2M501 392h1.2M514 402.5h1.2M513.5 378h1.2M528.5 385h1.2M514.5 388h1.2M507.5 388h1.2M514.5 394.5h1.2M482.5 379.5h1.2M527 396h1.2M517.5 392.5h1.2M541.5 406.5h1.2M511.5 402h1.2M516.5 402h1.2M503 402.5h1.2M554.5 403h1.2M526.5 392.5h1.2M545 384.5h1.2M520 379.5h1.2M528.5 404.5h1.2M505 394.5h1.2M511 392.5h1.2M517 391h1.2M510 380.5h1.2M538 379.5h1.2M536 393.5h1.2M540.5 398h1.2M513 369h1.2M508.5 403.5h1.2M522 389h1.2M530.5 401.5h1.2M497.5 400h1.2M513 406.5h1.2M538 397h1.2M520 403.5h1.2M517 402h1.2M503 390h1.2M515 396h1.2M534 390.5h1.2M536.5 401.5h1.2M496 381.5h1.2M527.5 394.5h1.2M514.5 394h1.2M503.5 398.5h1.2M550.5 401h1.2M532 395.5h1.2M504.5 386h1.2M498 413.5h1.2M524.5 392h1.2M496 392h1.2M521 381h1.2M528.5 397.5h1.2M502.5 378.5h1.2M524.5 390.5h1.2M525.5 403h1.2M506 406.5h1.2M526 397.5h1.2M529.5 403h1.2M526.5 398h1.2M511 388h1.2M533.5 399h1.2M512.5 401.5h1.2M523 397h1.2M522 391.5h1.2M521.5 390.5h1.2M487.5 389.5h1.2M537.5 396.5h1.2M525.5 404.5h1.2M526 383h1.2M528 404h1.2M515.5 385.5h1.2M518 393h1.2M523 415h1.2M483.5 393.5h1.2M510 387h1.2M512 388.5h1.2M513.5 401h1.2M509.5 400h1.2M508 391h1.2M522 402h1.2M533.5 394.5h1.2M534 373h1.2M533.5 408.5h1.2M529.5 392.5h1.2M542 406.5h1.2M546 400.5h1.2M513.5 390h1.2M509.5 383.5h1.2M509 398.5h1.2M512.5 400h1.2M528.5 408.5h1.2M527 403h1.2M522.5 399h1.2M511 387h1.2M513.5 393h1.2M516 397.5h1.2M530 374.5h1.2M475.5 371h1.2M524.5 394h1.2M526 404h1.2M505.5 403.5h1.2M538.5 415.5h1.2M534.5 391.5h1.2M531 398.5h1.2M496.5 383h1.2M535 391h1.2M523.5 392h1.2M523 396.5h1.2M482 391h1.2M499.5 375h1.2M515.5 392h1.2M501.5 380h1.2M537.5 412.5h1.2M498.5 404h1.2M533 394h1.2M528 390h1.2M563.5 412.5h1.2M519 403h1.2M546.5 393h1.2M514.5 389h1.2M501.5 391.5h1.2M528.5 387h1.2M537 413h1.2M511.5 392.5h1.2M537 400h1.2M532.5 387h1.2M517.5 405h1.2M527 384h1.2M524.5 389h1.2M512.5 386.5h1.2M523 394h1.2M530.5 384h1.2M511 384.5h1.2M477.5 387.5h1.2M531 397h1.2M509.5 392.5h1.2M527 405.5h1.2M506 394.5h1.2M524.5 405h1.2M517 393.5h1.2M517.5 385.5h1.2M515.5 408.5h1.2M530.5 381.5h1.2M496 374.5h1.2M543 390.5h1.2M531 419h1.2M525.5 396.5h1.2M492 396h1.2M538 385h1.2M523.5 385h1.2M546 404.5h1.2M514.5 388.5h1.2M517.5 394.5h1.2M535 404h1.2M486 385.5h1.2M514 393.5h1.2M517.5 395.5h1.2M484 382h1.2M504.5 393h1.2M522 404h1.2M528 388h1.2M546.5 404.5h1.2M533.5 406.5h1.2M499.5 386.5h1.2M533.5 397.5h1.2M522 412h1.2M519.5 404.5h1.2M497 409h1.2M546 419h1.2M549.5 400h1.2M527 390h1.2M508.5 388.5h1.2M500.5 397h1.2M511 360.5h1.2M535 399h1.2M490.5 397h1.2M539 400h1.2M517 396.5h1.2M527 394.5h1.2M537 384h1.2M556.5 413.5h1.2M533 395.5h1.2M517 398h1.2M526.5 396.5h1.2M518 412h1.2M520 399h1.2M521.5 399h1.2M505 389.5h1.2M528 389h1.2M498 392h1.2M536 409h1.2M514.5 393h1.2M507.5 371h1.2M533 391h1.2M527 414.5h1.2M524 390.5h1.2M496 389.5h1.2M504.5 372.5h1.2M531 392.5h1.2M559 397.5h1.2M523 402.5h1.2M524 401.5h1.2M529 402h1.2M504.5 399.5h1.2M540 395.5h1.2M506.5 406.5h1.2M522 393h1.2M505.5 399h1.2M496.5 407h1.2M510 387h1.2M505 393.5h1.2M514.5 392h1.2M545 403h1.2M525 398.5h1.2M512 391.5h1.2M527.5 396.5h1.2M510 398h1.2M542 388.5h1.2M535.5 392h1.2M516.5 389h1.2M523.5 383h1.2M521.5 398h1.2M506 386h1.2M504.5 382h1.2M522 382.5h1.2M509 383h1.2M519.5 398.5h1.2M537.5 388h1.2M515.5 401.5h1.2M529 402.5h1.2M548.5 405h1.2M518.5 378.5h1.2M546 395h1.2M505.5 400h1.2M503.5 386.5h1.2M526 389h1.2M520.5 388h1.2M497 391h1.2M546.5 385h1.2M532.5 407.5h1.2M505 392h1.2M520.5 385h1.2M518.5 399.5h1.2M508 366h1.2M529.5 385.5h1.2M499 391h1.2M490 399.5h1.2M547 391h1.2M514.5 380h1.2M509 390.5h1.2M517.5 394.5h1.2M511.5 385h1.2M557.5 398h1.2M525 410h1.2M537 390.5h1.2M539.5 385h1.2M556.5 401h1.2M482.5 395.5h1.2M532 404h1.2M524 395h1.2M525.5 384h1.2M540 399h1.2M524.5 422h1.2M492 392h1.2M522.5 404.5h1.2M522.5 380.5h1.2M540 396h1.2M489 380.5h1.2M527 412h1.2M524.5 393h1.2M532 397h1.2M528.5 392h1.2M494.5 361h1.2M529.5 407.5h1.2M525.5 378.5h1.2M510 386h1.2M540 385.5h1.2M522 389h1.2M549 398h1.2M539.5 395h1.2M500 401.5h1.2M536.5 388h1.2M522 392h1.2M519.5 399h1.2M520 390.5h1.2M539 394.5h1.2M503.5 407.5h1.2M526.5 403h1.2M498.5 380.5h1.2M526 398h1.2M503 381h1.2M499.5 392.5h1.2M524 382h1.2M501 396h1.2M538 403h1.2M503 392.5h1.2M547 402h1.2M534 400h1.2M525 387.5h1.2M531 398h1.2M523 400.5h1.2M558 409h1.2M531.5 389h1.2M510.5 396.5h1.2M530.5 386h1.2M517.5 386.5h1.2M522.5 387h1.2M513.5 386.5h1.2M513 391h1.2M533 404h1.2M518 403.5h1.2M532.5 402h1.2M518 386.5h1.2M518 400.5h1.2M511.5 400.5h1.2M544 394h1.2M550.5 392h1.2M520.5 392.5h1.2M531 415h1.2M499 385h1.2M501.5 387h1.2M531.5 404h1.2M496.5 376.5h1.2M569 398h1.2M538 398h1.2M547.5 409.5h1.2M521 391.5h1.2M501.5 382.5h1.2M511.5 376h1.2M503.5 404h1.2M538 387.5h1.2M501.5 401h1.2M510 384.5h1.2M544 411.5h1.2M498 403.5h1.2M513.5 384h1.2M542 405.5h1.2M560 412.5h1.2M492 397.5h1.2M483 380.5h1.2M507.5 401.5h1.2M524.5 396.5h1.2M523.5 385.5h1.2M510 400.5h1.2M497.5 399h1.2M535.5 398.5h1.2M513.5 391h1.2M509 398h1.2M518 409h1.2M548 390.5h1.2M522 404.5h1.2M558.5 423.5h1.2M518.5 385.5h1.2M530 402h1.2M486.5 385h1.2M510 394.5h1.2M518 405h1.2M514 377.5h1.2M510 386.5h1.2M516 380h1.2M506.5 387h1.2M508.5 408h1.2M525.5 386h1.2M529 392h1.2M505.5 384.5h1.2M517.5 397h1.2M509.5 388h1.2M538.5 392h1.2M552 396h1.2M525.5 394h1.2M531.5 386h1.2M523.5 372.5h1.2M527 406.5h1.2M518 394.5h1.2M502.5 383.5h1.2M542.5 399h1.2M556.5 411h1.2M534 390h1.2M522 394.5h1.2M531 392h1.2M546.5 413h1.2M520.5 371.5h1.2M537.5 386h1.2M521.5 407.5h1.2M489.5 374h1.2M518 386h1.2M534.5 387h1.2M533.5 376.5h1.2M520.5 393h1.2M500 394.5h1.2M525.5 398.5h1.2M528 385h1.2M532.5 392.5h1.2M547.5 417h1.2M523.5 393h1.2M542.5 391.5h1.2M528 404.5h1.2M568 405h1.2M535 381h1.2M567.5 399.5h1.2M503.5 397.5h1.2M503 387.5h1.2M530.5 396h1.2M518.5 399.5h1.2M545.5 394h1.2M539.5 385.5h1.2M536 398.5h1.2M511.5 385.5h1.2M522 394.5h1.2M538.5 392.5h1.2M515 385.5h1.2M482.5 389h1.2M526.5 403h1.2M569.5 419h1.2M490 377.5h1.2M550 407.5h1.2M539.5 395h1.2M502 397h1.2M494 387.5h1.2M535 397h1.2M512.5 387.5h1.2M512 399.5h1.2M508.5 393h1.2M574.5 392h1.2M484 357h1.2M529.5 410h1.2M569 415h1.2M525.5 394h1.2M574.5 422h1.2M521 393.5h1.2M526 393.5h1.2M543 393h1.2M498.5 407h1.2M517 418.5h1.2M537 394.5h1.2M505 382h1.2M530.5 411h1.2M547.5 412.5h1.2M488.5 396h1.2M522 374.5h1.2M531 400.5h1.2M501.5 393h1.2M549 396h1.2M553 407.5h1.2M507 389h1.2M527 401h1.2M504.5 390.5h1.2M519 390h1.2M529 420h1.2M517.5 393h1.2M524.5 403.5h1.2M507 404.5h1.2M556 388.5h1.2M547 397.5h1.2M507.5 379.5h1.2M537 395.5h1.2M595 394h1.2M507 403.5h1.2M558.5 402.5h1.2M596.5 393.5h1.2M515 399.5h1.2M546 386h1.2M467.5 363h1.2M557.5 408h1.2M539 399h1.2M546.5 389.5h1.2M525 405h1.2M546.5 406h1.2M551.5 403.5h1.2M538 412h1.2M514 397h1.2M514.5 410.5h1.2M522 399.5h1.2M515.5 398h1.2M508 352.5h1.2M489.5 383h1.2M514 419.5h1.2M499.5 382h1.2M513 391h1.2M489.5 381.5h1.2M491 363h1.2M509.5 400.5h1.2M510.5 418.5h1.2M575 429h1.2M520.5 391h1.2M552.5 389h1.2M537 390h1.2M528.5 403h1.2M515.5 387.5h1.2M537 408.5h1.2M535.5 401.5h1.2M488.5 370.5h1.2M543 383h1.2M514.5 404.5h1.2M477.5 397h1.2M501.5 390.5h1.2M536.5 418h1.2M547 399h1.2M520 390h1.2M554.5 401h1.2M541.5 406.5h1.2M487.5 355.5h1.2M492.5 390.5h1.2M531 398.5h1.2M500.5 378.5h1.2M508 380h1.2M526.5 412.5h1.2M515.5 387h1.2M504.5 387h1.2M482 399h1.2M580 390h1.2M478 419.5h1.2M512.5 382.5h1.2M552.5 392.5h1.2M523.5 375h1.2M498.5 381h1.2M494 375.5h1.2M554 395h1.2M545.5 384h1.2M476.5 351.5h1.2M481.5 402.5h1.2M536.5 408h1.2M563 412.5h1.2M505.5 398.5h1.2M545.5 408h1.2M481 376h1.2M469 423h1.2M490 379.5h1.2M538.5 381h1.2M521.5 422.5h1.2M542 393h1.2M474.5 385h1.2M569 390.5h1.2M511.5 388.5h1.2M591.5 416h1.2M527.5 400h1.2M477 368h1.2M518.5 404h1.2M501 379h1.2M567.5 382.5h1.2M525 407.5h1.2M554 406h1.2M501 387h1.2M503 379.5h1.2M523.5 405.5h1.2M524.5 391h1.2M498.5 380h1.2M534 404.5h1.2M552 405h1.2M515.5 376.5h1.2M504.5 408h1.2M513 369.5h1.2M538 386.5h1.2M517 398.5h1.2M533.5 395.5h1.2M549 411h1.2M511.5 400h1.2M520.5 361.5h1.2M509.5 410h1.2M562.5 396h1.2M518 393.5h1.2M525 384.5h1.2M516 378h1.2M543.5 408h1.2M531 403h1.2M489.5 391h1.2M548.5 391h1.2M527.5 417.5h1.2M552.5 406h1.2M534 405h1.2M519.5 395h1.2M493.5 392.5h1.2M544.5 415.5h1.2M551.5 415.5h1.2M494.5 404h1.2M519 395.5h1.2M533.5 399h1.2M521 378.5h1.2M532 394h1.2M512.5 385h1.2M506 380h1.2M554 401.5h1.2M475 385.5h1.2M540.5 388.5h1.2M504.5 367.5h1.2M522.5 391h1.2M503 390.5h1.2M524.5 399.5h1.2M507 379h1.2M532 378.5h1.2M488 362h1.2M492 388h1.2M519 385.5h1.2M536 405.5h1.2M502.5 370.5h1.2M569.5 423h1.2M511 389.5h1.2M542.5 396h1.2M471.5 385.5h1.2M492 397.5h1.2M491.5 399h1.2M494.5 363h1.2M480 377.5h1.2M508 397.5h1.2M496.5 397h1.2M564 406.5h1.2M521.5 382h1.2M527 401h1.2M465 379.5h1.2M561 402.5h1.2M559 419h1.2M491.5 386.5h1.2M491 394h1.2M496 409h1.2M556 415.5h1.2M488.5 370h1.2M496 374h1.2M483.5 358.5h1.2M525.5 409.5h1.2M544 396.5h1.2M496 381.5h1.2M552 399.5h1.2M528 379.5h1.2M496.5 396.5h1.2M538.5 385.5h1.2M552.5 413.5h1.2M554.5 405h1.2M535 396.5h1.2M555 409h1.2M522 391h1.2M529.5 395.5h1.2M566 420.5h1.2M513.5 415.5h1.2M497.5 397h1.2M484.5 405.5h1.2M511.5 370.5h1.2M470 385.5h1.2M496 388.5h1.2M491.5 381.5h1.2M514.5 400h1.2M478.5 411.5h1.2M516.5 400.5h1.2M517.5 409h1.2M538.5 417h1.2M545 418h1.2M563 404.5h1.2M516 385h1.2M480.5 401.5h1.2M539.5 410.5h1.2M533.5 391h1.2M505 413.5h1.2M545.5 388.5h1.2M577.5 390h1.2M531.5 396h1.2M513.5 375h1.2M527.5 394h1.2M497 388.5h1.2M576.5 398.5h1.2M488.5 388.5h1.2M497.5 372.5h1.2M555 371h1.2M514 404.5h1.2M485.5 400h1.2M544.5 411h1.2M553.5 396h1.2M476.5 391.5h1.2M540 394h1.2M545 416h1.2M574.5 390h1.2M533.5 401h1.2M543 393h1.2M522.5 404.5h1.2M540.5 400h1.2M573 381.5h1.2M542 394.5h1.2M508 378.5h1.2M518.5 400.5h1.2M572 417h1.2M491.5 372h1.2M504.5 397h1.2M506.5 378h1.2M558.5 395.5h1.2M497.5 392h1.2M507 408h1.2M518.5 400.5h1.2M535 406.5h1.2M539.5 392h1.2M491 386.5h1.2M489 396.5h1.2M482.5 388.5h1.2M552 403.5h1.2M513.5 398.5h1.2M522 417.5h1.2M517.5 412.5h1.2M477.5 405h1.2M476 390.5h1.2M493.5 378.5h1.2M577 390.5h1.2M510.5 394.5h1.2M537.5 385h1.2M499.5 364h1.2M592 406h1.2M517.5 424.5h1.2M479 386h1.2M508 394h1.2M530.5 396h1.2M548 403h1.2M515.5 375.5h1.2M538.5 402h1.2M527 407h1.2M526.5 399.5h1.2M509.5 396.5h1.2M531.5 397.5h1.2M549 410.5h1.2M524 380h1.2M517.5 367.5h1.2M597.5 404.5h1.2M540 398.5h1.2M537 406.5h1.2M484.5 377h1.2M550 403.5h1.2M478.5 385.5h1.2M551 411h1.2M531.5 391h1.2M506.5 400.5h1.2M501 400.5h1.2M526.5 392.5h1.2M511 390.5h1.2M476.5 379h1.2M551.5 392h1.2M482 378h1.2M519.5 380h1.2M506.5 401.5h1.2M561.5 409h1.2M480.5 384.5h1.2M547.5 402h1.2M533.5 398h1.2M439.5 398h1.2M481 398h1.2M503.5 386.5h1.2M491 397.5h1.2" stroke="#f22222" stroke-width="1.2" fill="none"/>
<path d="M547.5 416h1.3M558.5 414h1.3M556 413.5h1.3M564 426.5h1.3M559.5 404.5h1.3M553 430h1.3M554.5 425.5h1.3M549 416.5h1.3M548 429.5h1.3M551 430.5h1.3M564 428h1.3M567 406h1.3M571 409.5h1.3M576.5 427.5h1.3M571.5 414.5h1.3M545 420h1.3M556.5 417h1.3M575.5 425.5h1.3M563.5 418.5h1.3M565.5 421h1.3M565.5 410h1.3M549.5 418h1.3M566.5 415.5h1.3M559.5 426.5h1.3M553.5 414.5h1.3M565 424h1.3M577 426.5h1.3M560.5 419h1.3M551 413h1.3M560.5 421h1.3M553.5 418h1.3M539 421h1.3M558.5 413.5h1.3M566.5 413.5h1.3M552.5 423h1.3M560.5 421.5h1.3M559 427.5h1.3M556 428h1.3M560 408h1.3M558.5 421h1.3M559 420.5h1.3M560.5 420.5h1.3M565.5 427h1.3M555 431.5h1.3M554.5 417.5h1.3M566.5 420h1.3M555 423h1.3M580.5 428h1.3M559.5 419h1.3M579 428.5h1.3M562.5 429h1.3M565 417.5h1.3M568.5 429.5h1.3M566.5 416h1.3M559 428h1.3M617.5 433h1.3M572.5 422.5h1.3M579 415.5h1.3M575 427h1.3M626 437h1.3M590.5 425h1.3M585 433h1.3M599 422h1.3M567 416h1.3M572 420.5h1.3M573.5 430.5h1.3M598 431.5h1.3M595.5 436h1.3M568 412.5h1.3M581.5 415h1.3M599.5 431.5h1.3M583 438h1.3M587.5 432h1.3M577.5 421h1.3M579 420.5h1.3M573 427.5h1.3M615 428h1.3M567 406h1.3M591 444h1.3M584 428h1.3M594.5 431h1.3M573 425.5h1.3M570.5 421h1.3M599 431.5h1.3M575.5 423h1.3M599.5 418h1.3M581.5 423.5h1.3M574.5 419.5h1.3M567 428h1.3M567.5 428h1.3M568 418h1.3M574.5 422.5h1.3M573.5 423.5h1.3M586.5 442.5h1.3M574.5 431h1.3M570 416.5h1.3M568.5 431.5h1.3M567.5 413.5h1.3M580.5 434h1.3M568 421.5h1.3M581 417h1.3M578.5 421.5h1.3M570 429.5h1.3M598 442h1.3M627.5 430.5h1.3M575.5 420h1.3M573 426.5h1.3M585 432h1.3M632 420.5h1.3M621 438h1.3M614.5 453h1.3M608 457h1.3" stroke="#3a3ae8" stroke-width="1.3" fill="none"/>
<path d="M557 431.5h1.1M564.5 419h1.1M541.5 434h1.1M516 407.5h1.1M553.5 444.5h1.1M538 420.5h1.1M523.5 420.5h1.1M547.5 424h1.1M536.5 421.5h1.1M545.5 416.5h1.1M518.5 429h1.1M554 418h1.1M546 422.5h1.1M549 428.5h1.1M536.5 423.5h1.1M535.5 415.5h1.1M559.5 437h1.1M555 453h1.1M543 418h1.1M530 438.5h1.1M553.5 416.5h1.1M539.5 422.5h1.1M558 411.5h1.1M537 418.5h1.1M549 416h1.1" stroke="#e02020" stroke-width="1.1" fill="none"/>
<text transform="translate(377.57,410.46)" font-size="14.08" fill="#111">PC3</text>
<text transform="translate(438.21,530.46) scale(1.0523,1)" font-size="14.08" fill="#111">PC2</text>
<text transform="translate(573.20,530.36) scale(0.9792,1)" font-size="14.08" fill="#111">PC1</text>
<rect x="104.2" y="641.3" width="27.9" height="14.5" fill="#b3d3ec" stroke="#5f7588" stroke-width="0.7"/>
<rect x="132.1" y="596.2" width="27.9" height="59.6" fill="#b3d3ec" stroke="#5f7588" stroke-width="0.7"/>
<rect x="160" y="573.2" width="27.9" height="82.6" fill="#b3d3ec" stroke="#5f7588" stroke-width="0.7"/>
<rect x="187.9" y="613.4" width="27.9" height="42.4" fill="#b3d3ec" stroke="#5f7588" stroke-width="0.7"/>
<rect x="215.8" y="641.3" width="27.9" height="14.5" fill="#b3d3ec" stroke="#5f7588" stroke-width="0.7"/>
<rect x="243.7" y="643.9" width="27.9" height="11.9" fill="#b3d3ec" stroke="#5f7588" stroke-width="0.7"/>
<rect x="271.6" y="648.7" width="27.9" height="7.1" fill="#b3d3ec" stroke="#5f7588" stroke-width="0.7"/>
<rect x="299.5" y="647.1" width="27.9" height="8.7" fill="#b3d3ec" stroke="#5f7588" stroke-width="0.7"/>
<line x1="86.3" y1="566.5" x2="86.3" y2="656.3" stroke="#2c2c2c" stroke-width="1.2"/>
<line x1="85.8" y1="655.9" x2="345.8" y2="655.9" stroke="#2c2c2c" stroke-width="1.2"/>
<line x1="86.3" y1="626.1" x2="89.6" y2="626.1" stroke="#2c2c2c" stroke-width="1.2"/>
<line x1="86.3" y1="596.4" x2="89.6" y2="596.4" stroke="#2c2c2c" stroke-width="1.2"/>
<line x1="86.3" y1="566.6" x2="89.6" y2="566.6" stroke="#2c2c2c" stroke-width="1.2"/>
<line x1="160.4" y1="655.9" x2="160.4" y2="652.9" stroke="#2c2c2c" stroke-width="1.2"/>
<line x1="234.6" y1="655.9" x2="234.6" y2="652.9" stroke="#2c2c2c" stroke-width="1.2"/>
<line x1="308.8" y1="655.9" x2="308.8" y2="652.9" stroke="#2c2c2c" stroke-width="1.2"/>
<text transform="translate(47.64,574.64) scale(1.1791,1)" font-size="16.06" fill="#1c1c1c">0.3</text>
<text transform="translate(66.32,660.64) scale(1.0640,1)" font-size="16.06" fill="#1c1c1c">0</text>
<text transform="translate(55.80,665.55) rotate(-90)" font-size="18.07" letter-spacing="-0.485" fill="#1c1c1c">Proportion</text>
<text transform="translate(79.22,678.00) scale(1.1494,1)" font-size="16.00" fill="#1c1c1c">1</text>
<text transform="translate(147.23,678.14) scale(1.1298,1)" font-size="16.20" fill="#1c1c1c">10</text>
<text transform="translate(216.95,678.14) scale(1.1077,1)" font-size="16.20" fill="#1c1c1c">100</text>
<text transform="translate(285.03,678.14) scale(1.1239,1)" font-size="16.20" fill="#1c1c1c">1000</text>
<text transform="translate(134.69,706.50)" font-size="18.99" letter-spacing="-0.871" fill="#1c1c1c">Isolation distances</text>
<text transform="translate(1.90,567.56) scale(1.1694,1)" font-size="23.54" font-weight="bold" stroke-width="0.1" fill="#1a1a1a">d</text>
<rect x="411.8" y="626.8" width="24.4" height="28.4" fill="#b3d3ec" stroke="#5f7588" stroke-width="0.7"/>
<rect x="436.2" y="569.4" width="24.3" height="85.8" fill="#b3d3ec" stroke="#5f7588" stroke-width="0.7"/>
<rect x="460.5" y="606.6" width="24.4" height="48.6" fill="#b3d3ec" stroke="#5f7588" stroke-width="0.7"/>
<rect x="484.9" y="644.3" width="24.4" height="10.9" fill="#b3d3ec" stroke="#5f7588" stroke-width="0.7"/>
<rect x="509.2" y="645.4" width="24.3" height="9.8" fill="#b3d3ec" stroke="#5f7588" stroke-width="0.7"/>
<rect x="533.5" y="642.9" width="24.4" height="12.3" fill="#b3d3ec" stroke="#5f7588" stroke-width="0.7"/>
<rect x="557.9" y="646.2" width="24.3" height="9" fill="#b3d3ec" stroke="#5f7588" stroke-width="0.7"/>
<rect x="582.2" y="650.4" width="24.4" height="4.8" fill="#b3d3ec" stroke="#5f7588" stroke-width="0.7"/>
<rect x="606.6" y="652.1" width="24.4" height="3.1" fill="#b3d3ec" stroke="#5f7588" stroke-width="0.7"/>
<line x1="393.7" y1="566.3" x2="393.7" y2="655.8" stroke="#2c2c2c" stroke-width="1.2"/>
<line x1="393.2" y1="655.3" x2="654.2" y2="655.3" stroke="#2c2c2c" stroke-width="1.2"/>
<line x1="393.7" y1="633.1" x2="397" y2="633.1" stroke="#2c2c2c" stroke-width="1.2"/>
<line x1="393.7" y1="610.9" x2="397" y2="610.9" stroke="#2c2c2c" stroke-width="1.2"/>
<line x1="393.7" y1="588.7" x2="397" y2="588.7" stroke="#2c2c2c" stroke-width="1.2"/>
<line x1="393.7" y1="566.5" x2="397" y2="566.5" stroke="#2c2c2c" stroke-width="1.2"/>
<line x1="430.5" y1="655.3" x2="430.5" y2="652.3" stroke="#2c2c2c" stroke-width="1.2"/>
<line x1="467.7" y1="655.3" x2="467.7" y2="652.3" stroke="#2c2c2c" stroke-width="1.2"/>
<line x1="504.9" y1="655.3" x2="504.9" y2="652.3" stroke="#2c2c2c" stroke-width="1.2"/>
<line x1="542.1" y1="655.3" x2="542.1" y2="652.3" stroke="#2c2c2c" stroke-width="1.2"/>
<line x1="579.3" y1="655.3" x2="579.3" y2="652.3" stroke="#2c2c2c" stroke-width="1.2"/>
<line x1="616.5" y1="655.3" x2="616.5" y2="652.3" stroke="#2c2c2c" stroke-width="1.2"/>
<line x1="653.7" y1="655.3" x2="653.7" y2="652.3" stroke="#2c2c2c" stroke-width="1.2"/>
<text transform="translate(359.77,572.83) scale(1.0985,1)" font-size="16.62" fill="#1c1c1c">0.4</text>
<text transform="translate(374.58,661.44) scale(1.0966,1)" font-size="16.34" fill="#1c1c1c">0</text>
<text transform="translate(366.90,660.61) rotate(-90)" font-size="16.41" letter-spacing="0.481" fill="#1c1c1c">Proportion</text>
<text transform="translate(424.45,680.13) scale(1.1282,1)" font-size="16.62" fill="#1c1c1c">0</text>
<text transform="translate(492.27,680.13) scale(1.0923,1)" font-size="16.62" fill="#1c1c1c">0.2</text>
<text transform="translate(566.98,680.13) scale(1.0758,1)" font-size="16.62" fill="#1c1c1c">0.4</text>
<text transform="translate(641.28,680.13) scale(1.0840,1)" font-size="16.62" fill="#1c1c1c">0.6</text>
<text transform="translate(404.12,704.50)" font-size="17.24" letter-spacing="-0.083" fill="#1c1c1c">Nearest neighbor noise overlap</text>
</svg></body></html>
